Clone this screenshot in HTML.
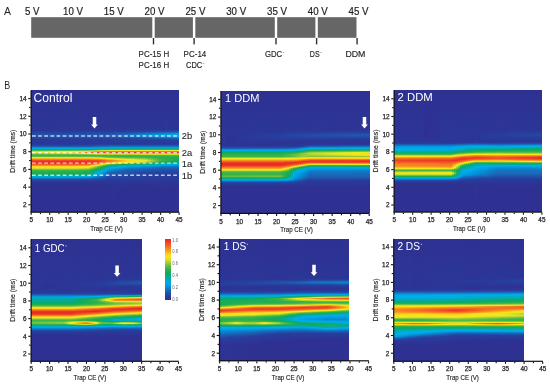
<!DOCTYPE html>
<html><head><meta charset="utf-8"><style>
html,body{margin:0;padding:0;background:#fff;}
body{width:550px;height:387px;position:relative;overflow:hidden;font-family:"Liberation Sans", sans-serif;}
svg{position:absolute;left:0;top:0;font-family:"Liberation Sans", sans-serif;fill:#231f20;}
</style></head><body>
<svg width="550" height="387" viewBox="0 0 550 387"><text x="4.00" y="14.90" font-size="11.2" textLength="7.00" lengthAdjust="spacingAndGlyphs">A</text><text x="25.00" y="14.60" font-size="10.4" textLength="14.40" lengthAdjust="spacingAndGlyphs" stroke="#231f20" stroke-width="0.2">5 V</text><text x="63.00" y="14.60" font-size="10.4" textLength="20.00" lengthAdjust="spacingAndGlyphs" stroke="#231f20" stroke-width="0.2">10 V</text><text x="103.80" y="14.60" font-size="10.4" textLength="20.00" lengthAdjust="spacingAndGlyphs" stroke="#231f20" stroke-width="0.2">15 V</text><text x="144.60" y="14.60" font-size="10.4" textLength="20.00" lengthAdjust="spacingAndGlyphs" stroke="#231f20" stroke-width="0.2">20 V</text><text x="185.40" y="14.60" font-size="10.4" textLength="20.00" lengthAdjust="spacingAndGlyphs" stroke="#231f20" stroke-width="0.2">25 V</text><text x="226.20" y="14.60" font-size="10.4" textLength="20.00" lengthAdjust="spacingAndGlyphs" stroke="#231f20" stroke-width="0.2">30 V</text><text x="267.00" y="14.60" font-size="10.4" textLength="20.00" lengthAdjust="spacingAndGlyphs" stroke="#231f20" stroke-width="0.2">35 V</text><text x="307.80" y="14.60" font-size="10.4" textLength="20.00" lengthAdjust="spacingAndGlyphs" stroke="#231f20" stroke-width="0.2">40 V</text><text x="348.60" y="14.60" font-size="10.4" textLength="20.00" lengthAdjust="spacingAndGlyphs" stroke="#231f20" stroke-width="0.2">45 V</text><rect x="31.2" y="17.2" width="325.3" height="20.6" fill="#666667"/><rect x="152.30" y="17" width="2.4" height="21" fill="#fff"/><rect x="192.90" y="17" width="2.4" height="21" fill="#fff"/><rect x="274.80" y="17" width="2.4" height="21" fill="#fff"/><rect x="315.40" y="17" width="2.4" height="21" fill="#fff"/><rect x="152.80" y="38" width="1.4" height="6.4" fill="#333"/><rect x="193.40" y="38" width="1.4" height="6.4" fill="#333"/><rect x="275.30" y="38" width="1.4" height="6.4" fill="#333"/><rect x="315.90" y="38" width="1.4" height="6.4" fill="#333"/><rect x="356.40" y="38" width="1.4" height="6.4" fill="#333"/><text x="138.60" y="56.70" font-size="8.4" textLength="30.60" lengthAdjust="spacingAndGlyphs" stroke="#231f20" stroke-width="0.15">PC-15 H</text><text x="138.60" y="67.90" font-size="8.4" textLength="30.60" lengthAdjust="spacingAndGlyphs" stroke="#231f20" stroke-width="0.15">PC-16 H</text><text x="183.60" y="56.70" font-size="8.4" textLength="22.70" lengthAdjust="spacingAndGlyphs" stroke="#231f20" stroke-width="0.15">PC-14</text><text x="186.00" y="67.90" font-size="8.4" textLength="16.20" lengthAdjust="spacingAndGlyphs" stroke="#231f20" stroke-width="0.15">CDC</text><rect x="202.80" y="63.00" width="1.4" height="0.6" fill="#777"/><text x="265.00" y="56.90" font-size="8.4" textLength="17.20" lengthAdjust="spacingAndGlyphs" stroke="#231f20" stroke-width="0.15">GDC</text><rect x="282.80" y="52.00" width="1.4" height="0.6" fill="#777"/><text x="309.80" y="56.90" font-size="8.4" textLength="9.80" lengthAdjust="spacingAndGlyphs" stroke="#231f20" stroke-width="0.15">DS</text><rect x="320.20" y="52.00" width="1.4" height="0.6" fill="#777"/><text x="345.40" y="56.90" font-size="8.4" textLength="20.00" lengthAdjust="spacingAndGlyphs" stroke="#231f20" stroke-width="0.15">DDM</text><text x="4.30" y="88.50" font-size="10.2" textLength="6.00" lengthAdjust="spacingAndGlyphs">B</text></svg>
<div style="position:absolute;left:31.2px;top:90.3px;width:147.9px;height:121.8px;background-image:linear-gradient(#2e3192 0.0px,#2b3697 40.5px,#2349a5 43.5px,#2055ab 45.5px,#2b3797 50.0px,#2b3798 54.0px,#2446a3 55.5px,#1d5fb1 56.5px,#0490d7 57.5px,#00a0e4 58.0px,#00ade3 58.5px,#08aa7e 59.5px,#1bad56 60.0px,#42b749 60.5px,#8fc73d 61.0px,#ccdb2a 61.5px,#f3e61c 62.0px,#f5e41c 62.5px,#cfdc29 63.0px,#97c83c 63.5px,#35b44c 65.0px,#35b44c 65.5px,#5ebd44 66.5px,#96c83c 67.0px,#e1e323 67.5px,#fce018 68.0px,#f7931d 69.0px,#ee4626 70.5px,#e92728 72.0px,#eb3427 73.5px,#f15a24 74.5px,#f7911d 75.5px,#fbba1a 76.0px,#fed718 76.5px,#f0e81e 78.0px,#7fc340 79.5px,#36b44b 80.5px,#19ad56 83.0px,#16ab58 84.5px,#0daa65 85.0px,#00accc 86.5px,#00acee 87.0px,#0a85ce 88.0px,#1e5db0 89.0px,#2641a0 90.0px,#2e3192 94.0px,#2e3192 121.5px),linear-gradient(#2e3192 0.0px,#2b3697 40.5px,#2349a5 43.5px,#2055ac 45.5px,#2b3797 50.0px,#2b3798 54.0px,#2446a3 55.5px,#1d5fb1 56.5px,#0490d7 57.5px,#00a0e4 58.0px,#00ade3 58.5px,#08aa7d 59.5px,#1bad56 60.0px,#43b748 60.5px,#91c73d 61.0px,#cfdc29 61.5px,#f4e51c 62.0px,#f6e41b 62.5px,#d2dd28 63.0px,#99c93b 63.5px,#35b44c 65.0px,#35b44c 65.5px,#5ebd44 66.5px,#96c83c 67.0px,#e1e323 67.5px,#fce018 68.0px,#f7931d 69.0px,#ee4626 70.5px,#e92728 72.0px,#eb3427 73.5px,#f15a24 74.5px,#f7911d 75.5px,#fbba1a 76.0px,#fed718 76.5px,#f0e81e 78.0px,#7fc340 79.5px,#36b44b 80.5px,#19ad56 83.0px,#15ab58 84.5px,#0daa65 85.0px,#00accd 86.5px,#00acee 87.0px,#0a85ce 88.0px,#1e5db0 89.0px,#2641a0 90.0px,#2e3192 94.0px,#2e3192 121.5px),linear-gradient(#2e3192 0.0px,#2b3697 40.5px,#234aa5 43.5px,#2055ac 45.5px,#2a3899 49.5px,#2b3798 54.0px,#2446a3 55.5px,#1d5fb1 56.5px,#0490d7 57.5px,#00a0e4 58.0px,#00ade3 58.5px,#08aa7c 59.5px,#1cad55 60.0px,#45b748 60.5px,#93c73c 61.0px,#d1dd28 61.5px,#f5e51c 62.0px,#f7e41b 62.5px,#d4de27 63.0px,#9bca3a 63.5px,#35b44c 65.0px,#35b44c 65.5px,#5ebd44 66.5px,#96c83c 67.0px,#e1e323 67.5px,#fce018 68.0px,#f7931d 69.0px,#ee4626 70.5px,#e92728 72.0px,#eb3427 73.5px,#f15a24 74.5px,#f7911d 75.5px,#fbba1a 76.0px,#fed718 76.5px,#f0e81e 78.0px,#7fc340 79.5px,#36b44b 80.5px,#19ad56 83.0px,#15ab58 84.5px,#0daa66 85.0px,#00accd 86.5px,#00acee 87.0px,#0a85ce 88.0px,#1e5db0 89.0px,#2641a0 90.0px,#2e3192 94.0px,#2e3192 121.5px),linear-gradient(#2e3192 0.0px,#2b3697 40.5px,#234aa5 43.5px,#2055ac 45.5px,#2a3899 49.5px,#2b3798 54.0px,#2446a3 55.5px,#1d5fb1 56.5px,#0490d7 57.5px,#00a0e4 58.0px,#00ade3 58.5px,#08aa7c 59.5px,#1cad55 60.0px,#46b848 60.5px,#95c83c 61.0px,#d3de28 61.5px,#f5e41c 62.0px,#f7e31b 62.5px,#d7df26 63.0px,#9dcb3a 63.5px,#35b44b 65.0px,#35b44c 65.5px,#5ebd44 66.5px,#96c83c 67.0px,#e1e323 67.5px,#fce018 68.0px,#f7931d 69.0px,#ee4626 70.5px,#e92728 72.0px,#eb3427 73.5px,#f15a24 74.5px,#f7911d 75.5px,#fbba1a 76.0px,#fed718 76.5px,#f0e81e 78.0px,#7fc340 79.5px,#36b44b 80.5px,#19ad56 83.0px,#15ab58 84.5px,#0daa66 85.0px,#00accd 86.5px,#00acee 87.0px,#0a85ce 88.0px,#1e5db0 89.0px,#2641a0 90.0px,#2e3192 94.0px,#2e3192 121.5px),linear-gradient(#2e3192 0.0px,#2b3697 40.5px,#234aa6 43.5px,#2056ac 45.5px,#2a3899 49.5px,#2b3798 54.0px,#2446a3 55.5px,#1d5fb1 56.5px,#0490d7 57.5px,#00a0e4 58.0px,#00ade2 58.5px,#08aa7b 59.5px,#1dad55 60.0px,#48b848 60.5px,#97c83c 61.0px,#d6df27 61.5px,#f6e41b 62.0px,#f8e31a 62.5px,#d9e026 63.0px,#9fcb39 63.5px,#35b44b 65.0px,#35b44c 65.5px,#5ebd44 66.5px,#96c83c 67.0px,#e1e323 67.5px,#fce018 68.0px,#f7931d 69.0px,#ee4626 70.5px,#e92728 72.0px,#eb3427 73.5px,#f15a24 74.5px,#f7911d 75.5px,#fbba1a 76.0px,#fed718 76.5px,#f0e81e 78.0px,#7fc340 79.5px,#36b44b 80.5px,#19ad56 83.0px,#15ab58 84.5px,#0daa66 85.0px,#00accd 86.5px,#00acee 87.0px,#0a85ce 88.0px,#1e5db0 89.0px,#2641a0 90.0px,#2e3192 94.0px,#2e3192 121.5px),linear-gradient(#2e3192 0.0px,#2b3697 40.5px,#234aa6 43.5px,#2056ac 45.5px,#2a3899 49.5px,#2b3798 54.0px,#2446a3 55.5px,#1d5fb1 56.5px,#0490d7 57.5px,#00a0e4 58.0px,#00ade2 58.5px,#09aa7a 59.5px,#1dae55 60.0px,#4ab848 60.5px,#99c93b 61.0px,#d8df26 61.5px,#f7e41b 62.0px,#f9e21a 62.5px,#dce125 63.0px,#a1cc38 63.5px,#35b44b 65.0px,#35b44c 65.5px,#5ebd44 66.5px,#96c83c 67.0px,#e1e323 67.5px,#fce018 68.0px,#f7931d 69.0px,#ee4626 70.5px,#e92728 72.0px,#eb3427 73.5px,#f15a24 74.5px,#f7911d 75.5px,#fbba1a 76.0px,#fed718 76.5px,#f0e81e 78.0px,#7fc340 79.5px,#36b44b 80.5px,#19ac56 83.0px,#14ab58 84.5px,#0daa67 85.0px,#00accd 86.5px,#00acee 87.0px,#0a85ce 88.0px,#1e5db0 89.0px,#2641a0 90.0px,#2e3192 94.0px,#2e3192 121.5px),linear-gradient(#2e3192 0.0px,#2b3697 40.5px,#234ba6 43.5px,#2056ac 45.5px,#2a3999 49.5px,#2b3798 54.0px,#2446a3 55.5px,#1d5fb1 56.5px,#0490d7 57.5px,#00a0e4 58.0px,#00ade2 58.5px,#09aa7a 59.5px,#1eae55 60.0px,#4bb947 60.5px,#9bca3a 61.0px,#dae025 61.5px,#f7e31b 62.0px,#f9e21a 62.5px,#dee224 63.0px,#a3cd38 63.5px,#35b44b 65.0px,#35b44c 65.5px,#5ebd44 66.5px,#96c83c 67.0px,#e1e323 67.5px,#fce018 68.0px,#f7931d 69.0px,#ee4626 70.5px,#e92728 72.0px,#eb3427 73.5px,#f15a24 74.5px,#f7911d 75.5px,#fbba1a 76.0px,#fed718 76.5px,#f0e81e 78.0px,#7fc340 79.5px,#36b44b 80.5px,#19ac56 83.0px,#14ab58 84.5px,#0daa67 85.0px,#00accd 86.5px,#00acee 87.0px,#0a85ce 88.0px,#1e5db0 89.0px,#2641a0 90.0px,#2e3192 94.0px,#2e3192 121.5px),linear-gradient(#2e3192 0.0px,#2b3697 40.5px,#234ba6 43.5px,#2056ac 45.5px,#2a3999 49.5px,#2b3798 54.0px,#2446a3 55.5px,#1d5fb1 56.5px,#0490d7 57.5px,#00a0e4 58.0px,#00ade2 58.5px,#09aa79 59.5px,#1eae54 60.0px,#4db947 60.5px,#9dca3a 61.0px,#dce125 61.5px,#f8e31a 62.0px,#fae119 62.5px,#e1e323 63.0px,#a5cd37 63.5px,#36b44b 65.0px,#35b44c 65.5px,#5ebd44 66.5px,#96c83c 67.0px,#e1e323 67.5px,#fce018 68.0px,#f7931d 69.0px,#ee4626 70.5px,#e92728 72.0px,#eb3427 73.5px,#f15a24 74.5px,#f7911d 75.5px,#fbba1a 76.0px,#fed718 76.5px,#f0e81e 78.0px,#7fc340 79.5px,#36b44b 80.5px,#19ac56 83.0px,#14ab58 84.5px,#0daa67 85.0px,#00accd 86.5px,#00acee 87.0px,#0a85ce 88.0px,#1e5db0 89.0px,#2641a0 90.0px,#2e3192 94.0px,#2e3192 121.5px),linear-gradient(#2e3192 0.0px,#2b3697 40.5px,#234ba6 43.5px,#2057ad 45.5px,#2a3999 49.5px,#2b3798 54.0px,#2446a3 55.5px,#1d5fb1 56.5px,#0490d7 57.5px,#00a0e4 58.0px,#00ade2 58.5px,#09aa78 59.5px,#1fae54 60.0px,#4eb947 60.5px,#9fcb39 61.0px,#dfe224 61.5px,#f8e21a 62.0px,#fae119 62.5px,#e3e322 63.0px,#a7ce36 63.5px,#36b44b 65.0px,#35b44c 65.5px,#5ebd44 66.5px,#96c83c 67.0px,#e1e323 67.5px,#fce018 68.0px,#f7931d 69.0px,#ee4626 70.5px,#e92728 72.0px,#eb3427 73.5px,#f15a24 74.5px,#f7911d 75.5px,#fbba1a 76.0px,#fed718 76.5px,#f0e81e 78.0px,#7fc340 79.5px,#36b44b 80.5px,#19ac56 83.0px,#14ab58 84.5px,#0daa68 85.0px,#00accd 86.5px,#00acee 87.0px,#0a85ce 88.0px,#1e5db0 89.0px,#2641a0 90.0px,#2e3192 94.0px,#2e3192 121.5px),linear-gradient(#2e3192 0.0px,#2b3697 40.5px,#2545a3 43.0px,#2057ad 45.5px,#2a3999 49.5px,#2b3798 54.0px,#2446a3 55.5px,#1d5fb1 56.5px,#0490d7 57.5px,#00a0e4 58.0px,#00ade1 58.5px,#09aa78 59.5px,#20ae54 60.0px,#50ba47 60.5px,#a0cc39 61.0px,#e1e323 61.5px,#f9e21a 62.0px,#fbe119 62.5px,#e6e421 63.0px,#a9cf36 63.5px,#36b44b 65.0px,#35b44c 65.5px,#5ebd44 66.5px,#96c83c 67.0px,#e1e323 67.5px,#fce018 68.0px,#f7931d 69.0px,#ee4626 70.5px,#e92728 72.0px,#eb3427 73.5px,#f15a24 74.5px,#f7911d 75.5px,#fbba1a 76.0px,#fed718 76.5px,#f0e81e 78.0px,#7fc340 79.5px,#36b44b 80.5px,#19ac56 83.0px,#14ab59 84.5px,#0daa68 85.0px,#00accd 86.5px,#00acee 87.0px,#0a85ce 88.0px,#1e5db0 89.0px,#2641a0 90.0px,#2e3192 94.0px,#2e3192 121.5px),linear-gradient(#2e3192 0.0px,#2b3697 40.5px,#2545a3 43.0px,#2057ad 45.5px,#2a3999 49.5px,#2b3798 54.0px,#2446a3 55.5px,#1d5fb1 56.5px,#0490d7 57.5px,#00a0e4 58.0px,#00ade1 58.5px,#09aa77 59.5px,#20ae54 60.0px,#52ba46 60.5px,#a2cc38 61.0px,#e3e422 61.5px,#fae21a 62.0px,#fce019 62.5px,#e8e521 63.0px,#abd035 63.5px,#36b44b 65.0px,#35b44c 65.5px,#5ebd44 66.5px,#96c83c 67.0px,#e1e323 67.5px,#fce018 68.0px,#f7931d 69.0px,#ee4626 70.5px,#e92728 72.0px,#eb3427 73.5px,#f15a24 74.5px,#f7911d 75.5px,#fbba1a 76.0px,#fed718 76.5px,#f0e81e 78.0px,#7fc340 79.5px,#36b44b 80.5px,#19ac56 83.0px,#13ab59 84.5px,#0daa68 85.0px,#00accd 86.5px,#00acee 87.0px,#0a85ce 88.0px,#1e5db0 89.0px,#2641a0 90.0px,#2e3192 94.0px,#2e3192 121.5px),linear-gradient(#2e3192 0.0px,#2b3697 40.5px,#2545a3 43.0px,#1f58ad 45.5px,#2a3999 49.5px,#2b3798 54.0px,#2446a3 55.5px,#1d5fb1 56.5px,#0490d7 57.5px,#00a0e4 58.0px,#00ade1 58.5px,#0aaa76 59.5px,#21ae54 60.0px,#53ba46 60.5px,#a4cd37 61.0px,#e6e421 61.5px,#fae119 62.0px,#fce018 62.5px,#eae620 63.0px,#add034 63.5px,#36b44b 65.0px,#35b44c 65.5px,#5ebd44 66.5px,#96c83c 67.0px,#e1e323 67.5px,#fce018 68.0px,#f7931d 69.0px,#ee4626 70.5px,#e92728 72.0px,#eb3427 73.5px,#f15a24 74.5px,#f7911d 75.5px,#fbba1a 76.0px,#fed718 76.5px,#f0e81e 78.0px,#7fc340 79.5px,#36b44b 80.5px,#17ac57 83.5px,#13ab59 84.5px,#0daa69 85.0px,#00accd 86.5px,#00acee 87.0px,#0a85ce 88.0px,#1e5db0 89.0px,#2641a0 90.0px,#2e3192 94.0px,#2e3192 121.5px),linear-gradient(#2e3192 0.0px,#2b3697 40.5px,#2545a3 43.0px,#1f58ad 45.5px,#2a3999 49.5px,#2b3798 54.0px,#2446a3 55.5px,#1d5fb1 56.5px,#0490d7 57.5px,#00a0e4 58.0px,#00ade1 58.5px,#0aaa76 59.5px,#21af53 60.0px,#55bb46 60.5px,#a6ce37 61.0px,#e8e521 61.5px,#fbe119 62.0px,#fddf18 62.5px,#ede71f 63.0px,#afd134 63.5px,#36b44b 65.0px,#35b44c 65.5px,#5ebd44 66.5px,#96c83c 67.0px,#e1e323 67.5px,#fce018 68.0px,#f7931d 69.0px,#ee4626 70.5px,#e92728 72.0px,#eb3427 73.5px,#f15a24 74.5px,#f7911d 75.5px,#fbba1a 76.0px,#fed718 76.5px,#f0e81e 78.0px,#7fc340 79.5px,#36b44b 80.5px,#17ac57 83.5px,#13ab59 84.5px,#0daa69 85.0px,#00accd 86.5px,#00acee 87.0px,#0a85ce 88.0px,#1e5db0 89.0px,#2641a0 90.0px,#2e3192 94.0px,#2e3192 121.5px),linear-gradient(#2e3192 0.0px,#2b3697 40.5px,#2446a3 43.0px,#1f58ad 45.5px,#2a3999 49.5px,#2b3798 54.0px,#2446a3 55.5px,#1d5fb1 56.5px,#0490d7 57.5px,#00a0e4 58.0px,#00ade1 58.5px,#0aaa75 59.5px,#22af53 60.0px,#56bb46 60.5px,#a8ce36 61.0px,#eae620 61.5px,#fbe019 62.0px,#fedf18 62.5px,#efe81e 63.0px,#b1d233 63.5px,#36b44b 65.0px,#35b44c 65.5px,#5ebd44 66.5px,#96c83c 67.0px,#e1e323 67.5px,#fce018 68.0px,#f7931d 69.0px,#ee4626 70.5px,#e92728 72.0px,#eb3427 73.5px,#f15a24 74.5px,#f7911d 75.5px,#fbba1a 76.0px,#fed718 76.5px,#f0e81e 78.0px,#7fc340 79.5px,#36b44b 80.5px,#17ac57 83.5px,#13ab59 84.5px,#0caa69 85.0px,#00accd 86.5px,#00acee 87.0px,#0a85ce 88.0px,#1e5db0 89.0px,#2641a0 90.0px,#2e3192 94.0px,#2e3192 121.5px),linear-gradient(#2e3192 0.0px,#2b3797 40.5px,#2446a3 43.0px,#1f58ad 45.0px,#224ea8 47.0px,#293b9b 49.0px,#2b3798 54.0px,#2446a3 55.5px,#1d5fb1 56.5px,#0490d7 57.5px,#00a0e4 58.0px,#00ade1 58.5px,#0aaa74 59.5px,#22af53 60.0px,#58bb45 60.5px,#aacf35 61.0px,#ede71f 61.5px,#fce018 62.0px,#fede17 62.5px,#f0e81e 63.0px,#b3d232 63.5px,#36b44b 65.0px,#35b44c 65.5px,#5ebd44 66.5px,#96c83c 67.0px,#e1e323 67.5px,#fce018 68.0px,#f7931d 69.0px,#ee4626 70.5px,#e92728 72.0px,#eb3427 73.5px,#f15a24 74.5px,#f7911d 75.5px,#fbba1a 76.0px,#fed718 76.5px,#f0e81e 78.0px,#7fc340 79.5px,#36b44b 80.5px,#17ac57 83.5px,#13ab59 84.5px,#0caa6a 85.0px,#00accd 86.5px,#00acee 87.0px,#0a85ce 88.0px,#1e5db0 89.0px,#2641a0 90.0px,#2e3192 94.0px,#2e3192 121.5px),linear-gradient(#2e3192 0.0px,#2b3797 40.5px,#2446a3 43.0px,#1f59ae 45.0px,#224ea8 47.0px,#293b9b 49.0px,#2b3798 54.0px,#2446a3 55.5px,#1d5fb1 56.5px,#0490d7 57.5px,#00a0e4 58.0px,#00ade0 58.5px,#00aaa7 59.0px,#0aaa74 59.5px,#23af53 60.0px,#5abc45 60.5px,#acd035 61.0px,#efe81e 61.5px,#fde018 62.0px,#ffde17 62.5px,#f1e71e 63.0px,#b5d332 63.5px,#36b44b 65.0px,#35b44c 65.5px,#5ebd44 66.5px,#96c83c 67.0px,#e1e323 67.5px,#fce018 68.0px,#f7931d 69.0px,#ee4626 70.5px,#e92728 72.0px,#eb3427 73.5px,#f15a24 74.5px,#f7911d 75.5px,#fbba1a 76.0px,#fed718 76.5px,#f0e81e 78.0px,#7fc340 79.5px,#36b44b 80.5px,#17ac57 83.5px,#12ab59 84.5px,#0caa6a 85.0px,#00accd 86.5px,#00acee 87.0px,#0a85ce 88.0px,#1e5db0 89.0px,#2641a0 90.0px,#2e3192 94.0px,#2e3192 121.5px),linear-gradient(#2e3192 0.0px,#2b3797 40.5px,#2446a3 43.0px,#1f59ae 45.0px,#224ea8 47.0px,#293b9b 49.0px,#2b3798 54.0px,#2446a3 55.5px,#1d5fb1 56.5px,#0490d7 57.5px,#00a0e4 58.0px,#00ade0 58.5px,#00aaa7 59.0px,#0aaa73 59.5px,#23af52 60.0px,#5bbc45 60.5px,#aed034 61.0px,#f0e81e 61.5px,#fddf18 62.0px,#ffdc17 62.5px,#f1e71d 63.0px,#b7d431 63.5px,#37b44b 65.0px,#35b44c 65.5px,#5ebd44 66.5px,#96c83c 67.0px,#e1e323 67.5px,#fce018 68.0px,#f7931d 69.0px,#ee4626 70.5px,#e92728 72.0px,#eb3427 73.5px,#f15a24 74.5px,#f7911d 75.5px,#fbba1a 76.0px,#fed718 76.5px,#f0e81e 78.0px,#7fc340 79.5px,#36b44b 80.5px,#17ac57 83.5px,#12ab59 84.5px,#0caa6a 85.0px,#00accd 86.5px,#00acee 87.0px,#0a85ce 88.0px,#1e5db0 89.0px,#2641a0 90.0px,#2e3192 94.0px,#2e3192 121.5px),linear-gradient(#2e3192 0.0px,#2b3797 40.5px,#2446a4 43.0px,#1f59ae 45.0px,#224ea8 47.0px,#293b9b 49.0px,#2b3798 54.0px,#2446a3 55.5px,#1d5fb1 56.5px,#0490d7 57.5px,#00a0e4 58.0px,#00ade0 58.5px,#00aaa6 59.0px,#0aaa72 59.5px,#24af52 60.0px,#5dbc45 60.5px,#b0d133 61.0px,#f1e71e 61.5px,#fedf17 62.0px,#ffda17 62.5px,#f2e71d 63.0px,#b9d530 63.5px,#37b44b 65.0px,#35b44c 65.5px,#5ebd44 66.5px,#96c83c 67.0px,#e1e323 67.5px,#fce018 68.0px,#f7931d 69.0px,#ee4626 70.5px,#e92728 72.0px,#eb3427 73.5px,#f15a24 74.5px,#f7911d 75.5px,#fbba1a 76.0px,#fed718 76.5px,#f0e81e 78.0px,#7fc340 79.5px,#36b44b 80.5px,#17ac57 83.5px,#12ab59 84.5px,#0caa6b 85.0px,#00accd 86.5px,#00acee 87.0px,#0a85ce 88.0px,#1e5db0 89.0px,#2641a0 90.0px,#2e3192 94.0px,#2e3192 121.5px),linear-gradient(#2e3192 0.0px,#2b3797 40.5px,#2447a4 43.0px,#1f59ae 45.0px,#224ea8 47.0px,#2a3999 49.5px,#2b3798 54.0px,#2446a3 55.5px,#1d5fb1 56.5px,#0490d7 57.5px,#00a0e4 58.0px,#00ade0 58.5px,#00aaa6 59.0px,#0baa72 59.5px,#25b052 60.0px,#5ebd44 60.5px,#b2d233 61.0px,#f1e71d 61.5px,#ffde17 62.0px,#fed718 62.5px,#f3e61d 63.0px,#bcd52f 63.5px,#37b44b 65.0px,#35b44c 65.5px,#5ebd44 66.5px,#96c83c 67.0px,#e1e323 67.5px,#fce018 68.0px,#f7931d 69.0px,#ee4626 70.5px,#e92728 72.0px,#eb3427 73.5px,#f15a24 74.5px,#f7911d 75.5px,#fbba1a 76.0px,#fed718 76.5px,#f0e81e 78.0px,#7fc340 79.5px,#36b44b 80.5px,#16ac57 83.5px,#12aa59 84.5px,#0caa6b 85.0px,#00accd 86.5px,#00acee 87.0px,#0a85ce 88.0px,#1e5db0 89.0px,#2641a0 90.0px,#2e3192 94.0px,#2e3192 121.5px),linear-gradient(#2e3192 0.0px,#2b3797 40.5px,#2447a4 43.0px,#1f5aae 45.0px,#224fa8 47.0px,#2a3999 49.5px,#2b3798 54.0px,#2446a3 55.5px,#1d5fb1 56.5px,#0490d7 57.5px,#00a0e4 58.0px,#00ade0 58.5px,#00aaa5 59.0px,#0baa71 59.5px,#25b052 60.0px,#60bd44 60.5px,#b3d232 61.0px,#f2e71d 61.5px,#ffdd17 62.0px,#fed518 62.5px,#f3e61d 63.0px,#91c73d 64.0px,#37b44b 65.0px,#35b44c 65.5px,#5ebd44 66.5px,#96c83c 67.0px,#e1e323 67.5px,#fce018 68.0px,#f7931d 69.0px,#ee4626 70.5px,#e92728 72.0px,#eb3427 73.5px,#f15a24 74.5px,#f7911d 75.5px,#fbba1a 76.0px,#fed718 76.5px,#f0e81e 78.0px,#7fc340 79.5px,#36b44b 80.5px,#16ac58 83.5px,#12aa59 84.5px,#0caa6b 85.0px,#00accd 86.5px,#00acee 87.0px,#0a85ce 88.0px,#1e5db0 89.0px,#2641a0 90.0px,#2e3192 94.0px,#2e3192 121.5px),linear-gradient(#2e3192 0.0px,#2b3797 40.5px,#2447a4 43.0px,#1f5aae 45.0px,#224fa8 47.0px,#2a3999 49.5px,#2b3798 54.0px,#2446a3 55.5px,#1d5fb1 56.5px,#0490d7 57.5px,#00a0e4 58.0px,#00ade0 58.5px,#00aaa5 59.0px,#0baa70 59.5px,#26b052 60.0px,#62bd44 60.5px,#b5d332 61.0px,#f2e61d 61.5px,#ffdb17 62.0px,#fed318 62.5px,#f4e61c 63.0px,#92c73d 64.0px,#37b44b 65.0px,#35b44c 65.5px,#5ebd44 66.5px,#96c83c 67.0px,#e1e323 67.5px,#fce018 68.0px,#f7931d 69.0px,#ee4626 70.5px,#e92728 72.0px,#eb3427 73.5px,#f15a24 74.5px,#f7911d 75.5px,#fbba1a 76.0px,#fed718 76.5px,#f0e81e 78.0px,#7fc340 79.5px,#36b44b 80.5px,#16ac58 83.5px,#11aa59 84.5px,#0caa6c 85.0px,#00accd 86.5px,#00acee 87.0px,#0a85ce 88.0px,#1e5db0 89.0px,#2641a0 90.0px,#2e3192 94.0px,#2e3192 121.5px),linear-gradient(#2e3192 0.0px,#2b3797 40.5px,#2447a4 43.0px,#1f5aaf 45.0px,#224fa8 47.0px,#2a3999 49.5px,#2b3798 54.0px,#2446a3 55.5px,#1d5fb1 56.5px,#0490d7 57.5px,#00a0e4 58.0px,#00addf 58.5px,#00aaa4 59.0px,#0baa6f 59.5px,#26b051 60.0px,#63be44 60.5px,#b7d431 61.0px,#f3e61d 61.5px,#fed917 62.0px,#fed018 62.5px,#f4e51c 63.0px,#94c83c 64.0px,#37b44b 65.0px,#35b44c 65.5px,#5ebd44 66.5px,#96c83c 67.0px,#e1e323 67.5px,#fce018 68.0px,#f7931d 69.0px,#ee4626 70.5px,#e92728 72.0px,#eb3427 73.5px,#f15a24 74.5px,#f7911d 75.5px,#fbba1a 76.0px,#fed718 76.5px,#f0e81e 78.0px,#7fc340 79.5px,#36b44b 80.5px,#16ac58 83.5px,#11aa5a 84.5px,#0caa6c 85.0px,#00accd 86.5px,#00acee 87.0px,#0a85ce 88.0px,#1e5db0 89.0px,#2641a0 90.0px,#2e3192 94.0px,#2e3192 121.5px),linear-gradient(#2e3192 0.0px,#2b3797 40.5px,#2447a4 43.0px,#1f5aaf 45.0px,#224fa9 47.0px,#2a399a 49.5px,#2b3798 54.0px,#2446a3 55.5px,#1d5fb1 56.5px,#0490d7 57.5px,#00a0e4 58.0px,#00addf 58.5px,#00aaa4 59.0px,#0baa6f 59.5px,#27b051 60.0px,#66be43 60.5px,#bad530 61.0px,#f4e51c 61.5px,#fed318 62.0px,#fdca19 62.5px,#f6e41b 63.0px,#97c83c 64.0px,#37b54b 65.0px,#35b44c 65.5px,#5ebd44 66.5px,#96c83c 67.0px,#e1e323 67.5px,#fce018 68.0px,#f7931d 69.0px,#ee4626 70.5px,#e92728 72.0px,#eb3427 73.5px,#f15a24 74.5px,#f7921d 75.5px,#fbbb1a 76.0px,#fed718 76.5px,#efe81e 78.0px,#7ec340 79.5px,#35b44c 80.5px,#16ac58 83.5px,#11aa5a 84.5px,#0caa6d 85.0px,#00acce 86.5px,#00aced 87.0px,#0a84ce 88.0px,#1e5db0 89.0px,#2640a0 90.0px,#2e3192 94.0px,#2e3192 121.5px),linear-gradient(#2e3192 0.0px,#2b3797 40.5px,#2448a4 43.0px,#1f5baf 45.0px,#2250a9 47.0px,#2a399a 49.5px,#2b3798 54.0px,#2446a3 55.5px,#1d5fb1 56.5px,#0490d7 57.5px,#00a0e4 58.0px,#00addf 58.5px,#00aaa3 59.0px,#0caa6d 59.5px,#28b051 60.0px,#6abf43 60.5px,#c1d72e 61.0px,#f6e41b 61.5px,#fcc519 62.0px,#fbba1a 62.5px,#f9e21a 63.0px,#d1dd28 63.5px,#6bbf43 64.5px,#38b54a 65.0px,#35b44c 65.5px,#5ebd44 66.5px,#96c83c 67.0px,#e1e323 67.5px,#fce018 68.0px,#f7931d 69.0px,#ee4626 70.5px,#e92728 72.0px,#eb3527 73.5px,#f15c24 74.5px,#f7941d 75.5px,#fcbe1a 76.0px,#ffda17 76.5px,#ebe620 78.0px,#7ac240 79.5px,#34b44c 80.5px,#14ab58 83.5px,#10aa5c 84.5px,#0baa70 85.0px,#00add1 86.5px,#00abed 87.0px,#009be0 87.5px,#176cbb 88.5px,#2640a0 90.0px,#2e3192 94.0px,#2e3192 121.5px),linear-gradient(#2e3192 0.0px,#2c3596 40.0px,#2448a4 43.0px,#1f5baf 45.0px,#2250a9 47.0px,#2a399a 49.5px,#2b3798 54.0px,#2446a3 55.5px,#1d5fb1 56.5px,#0490d7 57.5px,#00a0e4 58.0px,#00adde 58.5px,#00aaa2 59.0px,#0caa6c 59.5px,#29b150 60.0px,#6fc042 60.5px,#c7d92c 61.0px,#f9e21a 61.5px,#fbb71a 62.0px,#f9aa1b 62.5px,#fce018 63.0px,#dbe125 63.5px,#6fc042 64.5px,#38b54a 65.0px,#35b44c 65.5px,#5ebd44 66.5px,#96c83c 67.0px,#e1e323 67.5px,#fce018 68.0px,#f7931d 69.0px,#ee4626 70.5px,#e92728 72.0px,#eb3527 73.5px,#f25e24 74.5px,#f7961d 75.5px,#fcc119 76.0px,#ffdd17 76.5px,#f5e51c 77.5px,#e8e521 78.0px,#76c241 79.5px,#32b34d 80.5px,#13ab59 83.5px,#0faa5e 84.5px,#0aaa73 85.0px,#00add4 86.5px,#00aaec 87.0px,#009adf 87.5px,#186bba 88.5px,#2640a0 90.0px,#2e3192 94.0px,#2e3192 121.5px),linear-gradient(#2e3192 0.0px,#2c3596 40.0px,#2448a4 43.0px,#1e5baf 45.0px,#2250a9 47.0px,#2a399a 49.5px,#2b3798 54.0px,#2446a3 55.5px,#1d5fb1 56.5px,#0490d7 57.5px,#00a0e4 58.0px,#00adde 58.5px,#00aaa1 59.0px,#0caa6b 59.5px,#2bb150 60.0px,#74c141 60.5px,#cddc2a 61.0px,#fbe119 61.5px,#f9a91b 62.0px,#f89b1c 62.5px,#ffdc17 63.0px,#e5e422 63.5px,#73c141 64.5px,#39b54a 65.0px,#35b44c 65.5px,#5ebd44 66.5px,#96c83c 67.0px,#e1e323 67.5px,#fce018 68.0px,#f7931d 69.0px,#ee4626 70.5px,#e92728 72.0px,#eb3627 73.5px,#f25f24 74.5px,#f8991d 75.5px,#fcc419 76.0px,#fede17 76.5px,#f4e51c 77.5px,#e5e422 78.0px,#73c141 79.5px,#4cb947 80.0px,#30b34d 80.5px,#11aa5a 83.5px,#0eaa61 84.5px,#0aaa75 85.0px,#00add7 86.5px,#00a9eb 87.0px,#0099df 87.5px,#186bb9 88.5px,#2640a0 90.0px,#2e3192 94.0px,#2e3192 121.5px),linear-gradient(#2e3192 0.0px,#2c3596 40.0px,#2448a5 43.0px,#1e5caf 45.0px,#2150a9 47.0px,#2a399a 49.5px,#2b3798 54.0px,#2446a3 55.5px,#1d5fb1 56.5px,#0490d7 57.5px,#00a0e4 58.0px,#00adde 58.5px,#00aaa0 59.0px,#0caa6a 59.5px,#2cb24f 60.0px,#78c240 60.5px,#d3de28 61.0px,#fddf18 61.5px,#f89b1c 62.0px,#f68e1e 62.5px,#fed018 63.0px,#f0e81e 63.5px,#78c241 64.5px,#3ab54a 65.0px,#35b44c 65.5px,#5ebd44 66.5px,#96c83c 67.0px,#e1e323 67.5px,#fce018 68.0px,#f7931d 69.0px,#ee4626 70.5px,#e92728 72.0px,#eb3727 73.5px,#f26124 74.5px,#f89c1c 75.5px,#fcc719 76.0px,#fedf18 76.5px,#f4e61c 77.5px,#e1e323 78.0px,#6fc042 79.5px,#49b848 80.0px,#2fb24e 80.5px,#10aa5b 83.5px,#0eaa64 84.5px,#09aa78 85.0px,#00addb 86.5px,#00a8ea 87.0px,#0099de 87.5px,#196ab8 88.5px,#2640a0 90.0px,#2e3192 94.0px,#2e3192 121.5px),linear-gradient(#2e3192 0.0px,#2c3596 40.0px,#2448a5 43.0px,#1e5caf 45.0px,#2151a9 47.0px,#2a399a 49.5px,#2b3798 54.0px,#2446a3 55.5px,#1d5fb1 56.5px,#0490d7 57.5px,#00a0e4 58.0px,#00adde 58.5px,#00aaa0 59.0px,#0daa69 59.5px,#2db24f 60.0px,#7dc340 60.5px,#dae025 61.0px,#ffdb17 61.5px,#f78f1e 62.0px,#f5831f 62.5px,#fcc419 63.0px,#f2e61d 63.5px,#7cc340 64.5px,#3cb64a 65.0px,#35b44c 65.5px,#5ebd44 66.5px,#96c83c 67.0px,#e1e323 67.5px,#fce018 68.0px,#f7931d 69.0px,#ee4626 70.5px,#e92728 72.0px,#eb3827 73.5px,#f26224 74.5px,#f89f1c 75.5px,#fdca19 76.0px,#fddf18 76.5px,#f3e61d 77.5px,#dee124 78.0px,#6cbf42 79.5px,#45b748 80.0px,#2db24f 80.5px,#10aa5a 83.0px,#0daa67 84.5px,#09aa7b 85.0px,#00adde 86.5px,#00a7e9 87.0px,#0098dd 87.5px,#1969b8 88.5px,#2640a0 90.0px,#2e3192 94.0px,#2e3192 121.5px),linear-gradient(#2e3192 0.0px,#2c3596 40.0px,#2449a5 43.0px,#1e5cb0 45.0px,#2151a9 47.0px,#2a399a 49.5px,#2b3798 54.0px,#2446a3 55.5px,#1d5fb1 56.5px,#0490d7 57.5px,#00a0e4 58.0px,#00addd 58.5px,#00aa9f 59.0px,#0daa68 59.5px,#2fb24e 60.0px,#82c43f 60.5px,#e0e223 61.0px,#fed218 61.5px,#f6851f 62.0px,#f47821 62.5px,#fbb81a 63.0px,#f5e51c 63.5px,#c3d82d 64.0px,#3db649 65.0px,#35b44c 65.5px,#5ebd44 66.5px,#96c83c 67.0px,#e1e323 67.5px,#fce018 68.0px,#f7931d 69.0px,#ee4626 70.5px,#e92728 72.0px,#eb3927 73.5px,#f26423 74.5px,#f8a21c 75.5px,#fdcc18 76.0px,#fce018 76.5px,#f2e71d 77.5px,#dae025 78.0px,#68bf43 79.5px,#41b749 80.0px,#2cb14f 80.5px,#10aa5c 83.0px,#0daa69 84.5px,#08aa7d 85.0px,#00ade1 86.5px,#00a5e8 87.0px,#0097dd 87.5px,#1a68b7 88.5px,#2640a0 90.0px,#2e3192 94.0px,#2e3192 121.5px),linear-gradient(#2e3192 0.0px,#2c3596 40.0px,#2449a5 43.0px,#1e5cb0 45.0px,#2151a9 47.0px,#2a399a 49.5px,#2b3898 54.0px,#2448a4 55.5px,#1d61b2 56.5px,#0292d9 57.5px,#00a2e5 58.0px,#00add9 58.5px,#01aa9a 59.0px,#0eaa61 59.5px,#33b34c 60.0px,#8ec63d 60.5px,#eee71f 61.0px,#fcc519 61.5px,#f57a20 62.0px,#f36d22 62.5px,#f7e31b 63.5px,#ccdb2a 64.0px,#41b749 65.0px,#36b44b 65.5px,#5cbc45 66.5px,#93c73d 67.0px,#dee124 67.5px,#fce019 68.0px,#fcc019 68.5px,#f7951d 69.0px,#ee4726 70.5px,#e92b28 72.0px,#ed4226 73.5px,#f47122 74.5px,#f68e1e 75.0px,#fddf18 76.0px,#f0e81e 77.0px,#bcd62f 78.0px,#4db947 79.5px,#31b34d 80.0px,#16ac57 81.0px,#07aa82 84.5px,#03aa95 85.0px,#00adee 86.5px,#048fd6 87.5px,#1c63b4 88.5px,#2640a0 90.0px,#2e3192 94.0px,#2e3192 121.5px),linear-gradient(#2e3192 0.0px,#2c3596 40.0px,#2449a5 43.0px,#1e5db0 45.0px,#2151aa 47.0px,#2a399a 49.5px,#2a3898 54.0px,#2349a5 55.5px,#1c63b3 56.5px,#0194db 57.5px,#00a3e6 58.0px,#00add5 58.5px,#03aa94 59.0px,#10aa5a 59.5px,#38b54a 60.0px,#9cca3a 60.5px,#f3e61d 61.0px,#fbb71a 61.5px,#f36f22 62.0px,#f26224 62.5px,#fae119 63.5px,#d6df27 64.0px,#8fc73d 64.5px,#47b848 65.0px,#37b44b 65.5px,#59bb45 66.5px,#8ec63d 67.0px,#dae025 67.5px,#fbe119 68.0px,#fcc319 68.5px,#f8991d 69.0px,#ee4826 70.5px,#eb3527 71.5px,#ea3027 72.0px,#ef4d25 73.5px,#f58020 74.5px,#f9a31c 75.0px,#fed218 75.5px,#f5e41c 76.0px,#b6d431 77.5px,#33b34c 79.5px,#13ab59 80.5px,#04aa8e 83.0px,#00aaa0 84.5px,#00accf 85.5px,#00aeeb 86.0px,#0098de 87.0px,#1d5fb1 88.5px,#263f9f 90.0px,#2e3192 94.0px,#2e3192 121.5px),linear-gradient(#2e3192 0.0px,#2c3596 40.0px,#2349a5 43.0px,#1e5db0 45.0px,#2151aa 47.0px,#2a399a 49.5px,#2a3899 54.0px,#234ba6 55.5px,#1c65b5 56.5px,#0096dc 57.5px,#00a4e7 58.0px,#00acd0 58.5px,#04aa8f 59.0px,#14ab58 59.5px,#43b749 60.0px,#a9cf36 60.5px,#f6e41b 61.0px,#f26423 62.0px,#f15725 62.5px,#f7921d 63.0px,#fde018 63.5px,#e0e223 64.0px,#97c83c 64.5px,#4cb947 65.0px,#38b54a 65.5px,#56bb46 66.5px,#8ac63e 67.0px,#d6df27 67.5px,#fae119 68.0px,#fcc719 68.5px,#f89c1c 69.0px,#ee4926 70.5px,#eb3927 71.5px,#eb3527 72.0px,#f15825 73.5px,#f78f1e 74.5px,#fbe119 75.5px,#e5e422 76.0px,#bfd72e 76.5px,#92c73d 77.5px,#34b44c 79.0px,#15ab58 80.0px,#05aa89 81.5px,#00abba 84.0px,#00acc1 84.5px,#00aeeb 85.5px,#058ed5 87.0px,#1e5baf 88.5px,#283c9c 90.5px,#2e3192 95.0px,#2e3192 121.5px),linear-gradient(#2e3192 0.0px,#2c3596 40.0px,#2349a5 43.0px,#1e5db0 45.0px,#2152aa 47.0px,#2a399a 49.5px,#2a3999 54.0px,#234ca7 55.5px,#1a67b7 56.5px,#0098de 57.5px,#00a6e9 58.0px,#00accc 58.5px,#05aa89 59.0px,#18ac57 59.5px,#4fb947 60.0px,#b6d431 60.5px,#fae119 61.0px,#f15a24 62.0px,#ef4d25 62.5px,#f6891e 63.0px,#ffdd17 63.5px,#eae620 64.0px,#9ecb39 64.5px,#51ba46 65.0px,#39b54a 65.5px,#52ba46 66.5px,#86c53e 67.0px,#d1dd28 67.5px,#f9e21a 68.0px,#fdca19 68.5px,#f89f1c 69.0px,#ee4a25 70.5px,#ec3c26 71.5px,#ec3a27 72.0px,#f05325 73.0px,#f26324 73.5px,#f57e20 74.0px,#f9a31c 74.5px,#fed318 75.0px,#f4e51c 75.5px,#c1d72e 76.0px,#9aca3b 76.5px,#34b44c 78.5px,#16ac58 79.5px,#03aa93 81.0px,#00acca 83.0px,#00adee 85.0px,#0391d8 86.5px,#1d61b2 88.0px,#273e9e 90.0px,#2e3192 94.5px,#2e3192 121.5px),linear-gradient(#2e3192 0.0px,#2c3596 40.0px,#234aa5 43.0px,#1e5db0 45.0px,#2152aa 47.0px,#2a399a 49.5px,#2a3999 54.0px,#224ea8 55.5px,#196ab9 56.5px,#0099df 57.5px,#00a7ea 58.0px,#00acc7 58.5px,#07aa83 59.0px,#1dad55 59.5px,#5abc45 60.0px,#c4d82d 60.5px,#fddf18 61.0px,#f68e1e 61.5px,#ef4f25 62.0px,#ed4326 62.5px,#f58120 63.0px,#fed318 63.5px,#f1e71e 64.0px,#a6ce37 64.5px,#56bb46 65.0px,#3cb64a 65.5px,#4fba47 66.5px,#82c43f 67.0px,#cddc2a 67.5px,#f8e31a 68.0px,#fdcd18 68.5px,#f5821f 69.5px,#ef4c25 70.5px,#ed4026 71.5px,#ec3e26 72.0px,#f15c24 73.0px,#f68c1e 74.0px,#fce019 75.0px,#e1e323 75.5px,#9ecb39 76.0px,#75c141 76.5px,#32b34d 78.0px,#16ac58 79.0px,#07aa80 80.0px,#00abbc 81.5px,#00aee8 83.0px,#00a9eb 84.0px,#048ed6 86.0px,#1e5caf 88.0px,#273e9e 90.0px,#2e3192 94.5px,#2e3192 121.5px),linear-gradient(#2e3192 0.0px,#2c3596 40.0px,#234aa5 43.0px,#1e5eb1 45.0px,#2152aa 47.0px,#29399a 49.5px,#2a399a 54.0px,#224fa9 55.5px,#176cbb 56.5px,#009be0 57.5px,#00a9eb 58.0px,#00acc2 58.5px,#08aa7e 59.0px,#20ae54 59.5px,#64be43 60.0px,#cfdc29 60.5px,#ffda17 61.0px,#f6861f 61.5px,#ee4826 62.0px,#ec3c26 62.5px,#f47a21 63.0px,#fdca19 63.5px,#f3e61d 64.0px,#acd035 64.5px,#5abc45 65.0px,#3db649 65.5px,#4cb947 66.5px,#7cc340 67.0px,#c6d92c 67.5px,#f6e41b 68.0px,#fed418 68.5px,#f6851f 69.5px,#ef4f25 70.5px,#ed4526 71.0px,#ee4626 72.0px,#f36823 73.0px,#f57f20 73.5px,#f8a11c 74.0px,#fed418 74.5px,#f4e61c 75.0px,#bcd62f 75.5px,#77c241 76.0px,#4db947 76.5px,#37b54b 77.0px,#13ab59 78.5px,#00abb2 80.5px,#00aee8 82.0px,#00a1e5 83.5px,#0889d1 85.5px,#2056ac 88.0px,#283d9d 90.0px,#2e3192 94.5px,#2e3192 121.5px),linear-gradient(#2e3192 0.0px,#2c3596 40.0px,#2542a1 42.5px,#1e5eb1 45.0px,#2152aa 47.0px,#29399a 49.5px,#2a399a 54.0px,#2250a9 55.5px,#166ebc 56.5px,#009ce1 57.5px,#00aaec 58.0px,#00acbe 58.5px,#09aa7b 59.0px,#23af53 59.5px,#69bf43 60.0px,#d4de27 60.5px,#fed618 61.0px,#f5841f 61.5px,#ee4726 62.0px,#ec3b26 62.5px,#f47821 63.0px,#fcc619 63.5px,#f3e61c 64.0px,#aed034 64.5px,#5bbc45 65.0px,#3cb649 65.5px,#48b848 66.5px,#72c141 67.0px,#f1e81e 68.0px,#fddf18 68.5px,#f68e1e 69.5px,#f15825 70.5px,#ef4f25 71.0px,#f05325 72.0px,#f26324 72.5px,#f89a1d 73.5px,#fdc919 74.0px,#f6e41b 74.5px,#ccdb2a 75.0px,#48b848 76.0px,#2db24f 76.5px,#0eaa63 78.0px,#00abbc 80.0px,#00aee6 81.0px,#00aced 81.5px,#058ed5 84.5px,#2151a9 88.0px,#293a9a 90.5px,#2e3192 96.0px,#2e3192 121.5px),linear-gradient(#2e3192 0.0px,#2c3596 40.0px,#2542a1 42.5px,#1e5eb1 45.0px,#2153aa 47.0px,#293a9a 49.5px,#2a399a 54.0px,#2151a9 55.5px,#1570be 56.5px,#009ee2 57.5px,#00acee 58.0px,#00abba 58.5px,#09aa77 59.0px,#25b052 59.5px,#6ec042 60.0px,#d9e026 60.5px,#fed218 61.0px,#f5821f 61.5px,#ee4626 62.0px,#ec3b26 62.5px,#f47621 63.0px,#fcc219 63.5px,#f4e51c 64.0px,#b0d133 64.5px,#5bbc45 65.0px,#3bb54a 65.5px,#43b748 66.5px,#68bf43 67.0px,#dbe125 68.0px,#f9e21a 68.5px,#fcc319 69.0px,#f7981d 69.5px,#f26124 70.5px,#f15924 71.0px,#f26124 72.0px,#f47521 72.5px,#f7931d 73.0px,#fae119 74.0px,#dae025 74.5px,#97c83c 75.0px,#58bb45 75.5px,#2bb14f 76.0px,#0faa5f 77.0px,#00abb3 79.0px,#00aced 80.5px,#0d7fca 84.5px,#234ba6 88.0px,#2b3798 91.0px,#2e3192 100.0px,#2e3192 121.5px),linear-gradient(#2e3192 0.0px,#2c3596 40.0px,#2543a2 42.5px,#1d5fb1 45.0px,#2153ab 47.0px,#283c9c 49.0px,#29399a 54.0px,#2152aa 55.5px,#1472bf 56.5px,#009fe3 57.5px,#00aeef 58.0px,#00abb6 58.5px,#0aaa73 59.0px,#27b051 59.5px,#73c141 60.0px,#dde124 60.5px,#fdce18 61.0px,#f58020 61.5px,#ee4626 62.0px,#ec3b26 62.5px,#f47521 63.0px,#fcbe1a 63.5px,#f5e51c 64.0px,#b2d233 64.5px,#5cbc45 65.0px,#3ab54a 65.5px,#3fb649 66.5px,#5ebd44 67.0px,#c4d82d 68.0px,#f4e51c 68.5px,#fed018 69.0px,#f9a51c 69.5px,#f36a23 70.5px,#f26324 71.0px,#f47022 72.0px,#f6861f 72.5px,#fedf17 73.5px,#ede71f 74.0px,#a6ce37 74.5px,#61bd44 75.0px,#31b34d 75.5px,#17ac57 76.0px,#02aa99 77.5px,#00aeee 79.5px,#0789d2 82.0px,#2640a0 88.5px,#2e3192 95.0px,#2e3192 121.5px),linear-gradient(#2e3192 0.0px,#2c3696 40.0px,#2544a2 42.5px,#1d61b2 45.0px,#2055ac 47.0px,#283c9d 49.0px,#2b3797 53.5px,#2446a4 55.0px,#1d5fb1 56.0px,#048ed6 57.0px,#00aeeb 58.0px,#00abb1 58.5px,#0baa6f 59.0px,#29b150 59.5px,#78c240 60.0px,#e2e323 60.5px,#fdca19 61.0px,#f57e20 61.5px,#ed4526 62.0px,#ec3a27 62.5px,#f47321 63.0px,#fbba1a 63.5px,#f6e41b 64.0px,#b4d332 64.5px,#5cbc45 65.0px,#39b54a 65.5px,#3bb54a 66.5px,#54ba46 67.0px,#acd035 68.0px,#f0e81e 68.5px,#ffde17 69.0px,#f68e1e 70.0px,#f47421 70.5px,#f36e22 71.0px,#f57e20 72.0px,#f89a1d 72.5px,#fdd018 73.0px,#f4e51c 73.5px,#bdd62f 74.0px,#72c141 74.5px,#32b34d 75.0px,#1aad56 75.5px,#04aa90 76.5px,#00aeed 78.5px,#058ed5 80.5px,#1969b8 83.0px,#224fa8 86.5px,#283c9d 89.0px,#2e3192 95.5px,#2e3192 121.5px),linear-gradient(#2e3192 0.0px,#2c3696 40.0px,#2545a3 42.5px,#1c63b3 45.0px,#2056ac 47.0px,#283d9d 49.0px,#2b3797 53.5px,#2447a4 55.0px,#1d5fb1 56.0px,#048fd6 57.0px,#00aeea 58.0px,#00abaf 58.5px,#0caa6d 59.0px,#2bb150 59.5px,#7cc340 60.0px,#e5e422 60.5px,#fdc919 61.0px,#f57e20 61.5px,#ed4526 62.0px,#ec3a27 62.5px,#f47222 63.0px,#fbb91a 63.5px,#f6e41b 64.0px,#b4d332 64.5px,#5dbc45 65.0px,#39b54a 65.5px,#38b54a 66.5px,#4eb947 67.0px,#a0cc39 68.0px,#e4e422 68.5px,#fde018 69.0px,#f7971d 70.0px,#f57d20 70.5px,#f47821 71.0px,#f6891e 72.0px,#f9ab1b 72.5px,#fedf18 73.0px,#eae620 73.5px,#a2cc38 74.0px,#55bb46 74.5px,#25b052 75.0px,#0faa5d 75.5px,#00aaa4 76.5px,#00aeee 78.0px,#058ed5 80.0px,#1c65b5 82.5px,#2151a9 86.0px,#283c9c 89.0px,#2e3192 96.0px,#2e3192 121.5px),linear-gradient(#2e3192 0.0px,#2b3696 40.0px,#2446a3 42.5px,#1c64b4 45.0px,#1f58ad 47.0px,#283d9d 49.0px,#2b3797 53.5px,#2447a4 55.0px,#1d5fb1 56.0px,#048fd6 57.0px,#00aeea 58.0px,#00abaf 58.5px,#0caa6b 59.0px,#2cb24f 59.5px,#7fc33f 60.0px,#e7e521 60.5px,#fdc819 61.0px,#f57e20 61.5px,#ed4526 62.0px,#ec3a27 62.5px,#f47222 63.0px,#fbb91a 63.5px,#f6e41b 64.0px,#b4d332 64.5px,#5dbc45 65.0px,#39b54a 65.5px,#37b54b 66.5px,#4bb947 67.0px,#9bca3a 68.0px,#dde124 68.5px,#fbe119 69.0px,#f6851f 70.5px,#f58020 71.0px,#f7911d 72.0px,#fae119 73.0px,#d9e026 73.5px,#91c73d 74.0px,#44b748 74.5px,#1eae54 75.0px,#0daa69 75.5px,#00abaf 76.5px,#00ade3 77.5px,#00aaec 78.0px,#0888d1 80.0px,#1c62b3 82.5px,#224fa8 86.0px,#283c9c 89.0px,#2e3192 96.0px,#2e3192 121.5px),linear-gradient(#2e3192 0.0px,#2b3697 40.0px,#2447a4 42.5px,#1b67b6 45.0px,#1f59ae 47.0px,#283d9d 49.0px,#2b3797 53.5px,#2447a4 55.0px,#1d5fb1 56.0px,#048fd6 57.0px,#00aeea 58.0px,#00abae 58.5px,#0caa6a 59.0px,#2eb24e 59.5px,#82c43f 60.0px,#e9e520 60.5px,#fdc819 61.0px,#f57e20 61.5px,#ed4526 62.0px,#ec3a27 62.5px,#f47222 63.0px,#fbb91a 63.5px,#f6e41b 64.0px,#b4d332 64.5px,#5dbc45 65.0px,#38b54a 65.5px,#36b44b 66.5px,#48b848 67.0px,#96c83c 68.0px,#d6df27 68.5px,#f9e21a 69.0px,#fdcd18 69.5px,#f68d1e 70.5px,#f6891f 71.0px,#f89c1c 72.0px,#f7e41b 73.0px,#c8da2b 73.5px,#37b44b 74.5px,#17ac57 75.0px,#01aa9b 76.0px,#00aeed 77.5px,#058ed5 79.5px,#1c64b4 82.0px,#2349a5 86.5px,#2b3697 91.0px,#2e3192 121.5px),linear-gradient(#2e3192 0.0px,#2b3697 40.0px,#2448a4 42.5px,#1969b8 45.0px,#1f5aaf 47.0px,#273d9e 49.0px,#2b3797 53.5px,#2447a4 55.0px,#1d5fb1 56.0px,#048fd6 57.0px,#00aeea 58.0px,#00abad 58.5px,#0daa68 59.0px,#2fb24e 59.5px,#85c53f 60.0px,#eae620 60.5px,#fdc819 61.0px,#f57e20 61.5px,#ed4526 62.0px,#ec3a27 62.5px,#f47222 63.0px,#fbb91a 63.5px,#f6e41b 64.0px,#b4d332 64.5px,#5dbc45 65.0px,#38b54a 65.5px,#35b44b 66.5px,#45b748 67.0px,#91c73d 68.0px,#cfdc29 68.5px,#f7e41b 69.0px,#fed518 69.5px,#f7951d 70.5px,#f7911d 71.0px,#f9a81b 72.0px,#fdd018 72.5px,#f3e61d 73.0px,#b8d431 73.5px,#6ec042 74.0px,#2fb24e 74.5px,#10aa5a 75.0px,#00aaa6 76.0px,#00addf 77.0px,#00aaec 77.5px,#0888d1 79.5px,#1d62b3 82.0px,#2544a2 87.0px,#2e3192 94.5px,#2e3192 121.5px),linear-gradient(#2e3192 0.0px,#2b3697 40.0px,#2640a0 42.0px,#186bba 45.0px,#1e5caf 47.0px,#273e9e 49.0px,#2b3797 53.5px,#2447a4 55.0px,#1d5fb1 56.0px,#048fd6 57.0px,#00aeea 58.0px,#00abad 58.5px,#0daa67 59.0px,#31b34d 59.5px,#88c53e 60.0px,#ece71f 60.5px,#fdc719 61.0px,#f57e20 61.5px,#ed4526 62.0px,#ec3a27 62.5px,#f47222 63.0px,#fbb91a 63.5px,#f6e41b 64.0px,#b4d332 64.5px,#5dbc45 65.0px,#38b54a 65.5px,#35b44c 66.5px,#42b749 67.0px,#8bc63e 68.0px,#c8da2b 68.5px,#f5e51c 69.0px,#ffde17 69.5px,#f8a11c 70.5px,#f89c1c 71.0px,#fab41a 72.0px,#ffdc17 72.5px,#eee71f 73.0px,#5dbc45 74.0px,#28b051 74.5px,#0daa66 75.0px,#00add2 76.5px,#00aeea 77.0px,#058cd4 79.0px,#1c63b3 81.5px,#293a9b 89.5px,#2e3192 97.0px,#2e3192 121.5px),linear-gradient(#2e3192 0.0px,#2b3697 40.0px,#2641a1 42.0px,#176ebc 45.0px,#1c64b4 46.5px,#273e9e 49.0px,#2b3797 53.5px,#2447a4 55.0px,#1d5fb1 56.0px,#048fd6 57.0px,#00aeea 58.0px,#00abac 58.5px,#0daa65 59.0px,#32b34d 59.5px,#8bc63e 60.0px,#eee71f 60.5px,#fcc719 61.0px,#f57e20 61.5px,#ed4526 62.0px,#ec3a27 62.5px,#f47222 63.0px,#fbb91a 63.5px,#f6e41b 64.0px,#b4d332 64.5px,#5dbc45 65.0px,#38b54a 65.5px,#34b44c 66.5px,#3eb649 67.0px,#86c53e 68.0px,#f3e61d 69.0px,#fde018 69.5px,#faac1b 70.5px,#f9a81b 71.0px,#fcc019 72.0px,#fce018 72.5px,#dee224 73.0px,#96c83c 73.5px,#4cb947 74.0px,#20ae54 74.5px,#0aaa72 75.0px,#00addd 76.5px,#00abed 77.0px,#0986cf 79.0px,#1c64b4 81.0px,#293a9a 89.5px,#2e3192 97.0px,#2e3192 121.5px),linear-gradient(#2e3192 0.0px,#2b3697 40.0px,#2542a1 42.0px,#1570bd 45.0px,#1b66b6 46.5px,#273e9e 49.0px,#2b3797 53.5px,#2447a4 55.0px,#1d5fb1 56.0px,#048fd6 57.0px,#00aeea 58.0px,#00abac 58.5px,#0eaa64 59.0px,#34b44c 59.5px,#8ec63d 60.0px,#efe81e 60.5px,#fcc619 61.0px,#f57e20 61.5px,#ed4526 62.0px,#ec3a27 62.5px,#f47222 63.0px,#fbb91a 63.5px,#f6e41b 64.0px,#b4d332 64.5px,#5dbc45 65.0px,#38b54b 65.5px,#33b34c 66.5px,#3bb54a 67.0px,#80c43f 68.0px,#f1e81e 69.0px,#fed418 70.0px,#fbb81a 70.5px,#fab41a 71.0px,#fdcc18 72.0px,#f9e21a 72.5px,#cedc29 73.0px,#85c53f 73.5px,#3ab54a 74.0px,#19ac57 74.5px,#00aaa2 75.5px,#00aee9 76.5px,#009de2 77.5px,#1d60b2 81.0px,#293a9a 89.5px,#2e3192 97.0px,#2e3192 121.5px),linear-gradient(#2e3192 0.0px,#2b3697 40.0px,#2543a2 42.0px,#1472bf 45.0px,#1a68b7 46.5px,#273e9e 49.0px,#2b3797 53.5px,#2447a4 55.0px,#1d5fb1 56.0px,#048fd6 57.0px,#00aeea 58.0px,#00abab 58.5px,#0eaa62 59.0px,#35b44c 59.5px,#91c73d 60.0px,#f0e81e 60.5px,#fcc619 61.0px,#f57e20 61.5px,#ed4526 62.0px,#ec3a27 62.5px,#f47222 63.0px,#fbb91a 63.5px,#f6e41b 64.0px,#b4d332 64.5px,#5dbc45 65.0px,#37b54b 65.5px,#32b34d 66.5px,#39b54a 67.0px,#7bc240 68.0px,#eae620 69.0px,#ffde17 70.0px,#fcc319 70.5px,#fcc019 71.0px,#fed817 72.0px,#f5e41b 72.5px,#bed62f 73.0px,#32b34d 74.0px,#12aa59 74.5px,#05aa8b 75.0px,#00add6 76.0px,#00aced 76.5px,#058ed5 78.0px,#1d61b3 80.5px,#293b9b 89.0px,#2e3192 97.0px,#2e3192 121.5px),linear-gradient(#2e3192 0.0px,#2b3697 40.0px,#2544a2 42.0px,#1374c1 45.0px,#186ab9 46.5px,#273f9f 49.0px,#2b3797 53.5px,#2447a4 55.0px,#1d5fb1 56.0px,#048fd6 57.0px,#00aeea 58.0px,#00abaa 58.5px,#0eaa61 59.0px,#36b44b 59.5px,#94c83c 60.0px,#f1e81e 60.5px,#fcc619 61.0px,#f57e20 61.5px,#ed4526 62.0px,#ec3a27 62.5px,#f47222 63.0px,#fbb91a 63.5px,#f6e41b 64.0px,#b4d332 64.5px,#5dbc45 65.0px,#37b44b 65.5px,#31b34d 66.5px,#37b54b 67.0px,#75c141 68.0px,#e1e323 69.0px,#f5e41b 69.5px,#fce018 70.0px,#fdce18 70.5px,#fdcc18 71.0px,#fddf18 72.0px,#f2e71d 72.5px,#62bd44 73.5px,#2ab150 74.0px,#0eaa64 74.5px,#02aa97 75.0px,#00ade2 76.0px,#00a7ea 76.5px,#0986d0 78.0px,#1e5eb1 80.5px,#293a9a 89.5px,#2e3192 97.5px,#2e3192 121.5px),linear-gradient(#2e3192 0.0px,#2b3797 40.0px,#2544a2 42.0px,#1177c3 45.0px,#176cbb 46.5px,#273f9f 49.0px,#2b3797 53.5px,#2447a4 55.0px,#1d5fb1 56.0px,#048fd6 57.0px,#00aeea 58.0px,#00aaaa 58.5px,#0faa60 59.0px,#37b54b 59.5px,#96c83c 60.0px,#f1e71e 60.5px,#fcc519 61.0px,#f57e20 61.5px,#ed4526 62.0px,#ec3a27 62.5px,#f47222 63.0px,#fbb81a 63.5px,#f6e41b 64.0px,#b5d332 64.5px,#5ebc44 65.0px,#37b54b 65.5px,#30b34d 66.5px,#36b44b 67.0px,#71c042 68.0px,#d9e026 69.0px,#f3e61c 69.5px,#fed618 71.0px,#fae119 72.0px,#ece71f 72.5px,#a1cc38 73.0px,#55bb46 73.5px,#25b052 74.0px,#0caa6d 74.5px,#00aa9f 75.0px,#00aeeb 76.0px,#058ed5 77.5px,#1d60b2 80.0px,#273e9e 87.5px,#2e3192 96.0px,#2e3192 121.5px),linear-gradient(#2e3192 0.0px,#2b3797 40.0px,#2545a3 42.0px,#1079c5 45.0px,#166ebc 46.5px,#263f9f 49.0px,#2b3797 53.5px,#2447a4 55.0px,#1d5fb1 56.0px,#048fd6 57.0px,#00aeea 58.0px,#00aaaa 58.5px,#0faa60 59.0px,#37b54b 59.5px,#96c83c 60.0px,#f1e71e 60.5px,#fcc519 61.0px,#f57e20 61.5px,#ed4526 62.0px,#ec3a27 62.5px,#f47122 63.0px,#fbb61a 63.5px,#f7e41b 64.0px,#b8d431 64.5px,#60bd44 65.0px,#38b54a 65.5px,#30b34d 66.5px,#36b44b 67.0px,#6ec042 68.0px,#d2dd28 69.0px,#f2e71d 69.5px,#ffdd17 71.0px,#f8e31a 72.0px,#e2e323 72.5px,#98c93b 73.0px,#4db947 73.5px,#22af53 74.0px,#0baa71 74.5px,#00aaa2 75.0px,#00aeee 76.0px,#068cd4 77.5px,#1d5fb1 80.0px,#273f9f 87.0px,#2e3192 96.0px,#2e3192 121.5px),linear-gradient(#2e3192 0.0px,#2c3596 39.5px,#2446a3 42.0px,#1177c3 44.5px,#1178c4 46.0px,#263f9f 49.0px,#2b3797 53.5px,#2447a4 55.0px,#1d5fb1 56.0px,#048fd6 57.0px,#00aeea 58.0px,#00aaaa 58.5px,#0faa60 59.0px,#37b54b 59.5px,#96c83c 60.0px,#f1e71e 60.5px,#fcc519 61.0px,#f57e20 61.5px,#ed4526 62.0px,#ec3927 62.5px,#f47022 63.0px,#fab41a 63.5px,#f7e31b 64.0px,#bad530 64.5px,#63bd44 65.0px,#39b54a 65.5px,#30b34d 66.5px,#36b44b 67.0px,#6bbf42 68.0px,#ccdb2a 69.0px,#f0e81e 69.5px,#fddf18 71.0px,#f6e41b 72.0px,#d7df26 72.5px,#8fc73d 73.0px,#45b748 73.5px,#1fae54 74.0px,#0aaa75 74.5px,#00aaa5 75.0px,#00adee 76.0px,#068ad3 77.5px,#1e5eb1 80.0px,#2640a0 86.5px,#2e3192 96.0px,#2e3192 121.5px),linear-gradient(#2e3192 0.0px,#2c3596 39.5px,#2447a4 42.0px,#1079c5 44.5px,#0f7ac6 46.0px,#2640a0 49.0px,#2b3797 53.5px,#2447a4 55.0px,#1d5fb1 56.0px,#048fd6 57.0px,#00aeea 58.0px,#00aaaa 58.5px,#0faa60 59.0px,#37b54b 59.5px,#96c83c 60.0px,#f1e71e 60.5px,#fcc519 61.0px,#f57e20 61.5px,#ed4526 62.0px,#ec3927 62.5px,#f47022 63.0px,#fab21b 63.5px,#f8e31a 64.0px,#bdd62f 64.5px,#65be43 65.0px,#3bb54a 65.5px,#31b34d 66.5px,#35b44b 67.0px,#68bf43 68.0px,#c5d92c 69.0px,#e8e521 69.5px,#fbe119 70.5px,#f3e61c 72.0px,#cddc2a 72.5px,#3db649 73.5px,#1cad55 74.0px,#09aa78 74.5px,#00aaa9 75.0px,#00aced 76.0px,#0789d1 77.5px,#1e5db0 80.0px,#2641a1 86.0px,#2e3192 95.5px,#2e3192 121.5px),linear-gradient(#2e3192 0.0px,#2c3596 39.5px,#2448a4 42.0px,#0f7bc7 44.5px,#0e7dc8 46.0px,#2640a0 49.0px,#2b3797 53.5px,#2447a4 55.0px,#1d5fb1 56.0px,#048fd6 57.0px,#00aeea 58.0px,#00aaaa 58.5px,#0faa60 59.0px,#37b54b 59.5px,#96c83c 60.0px,#f1e71e 60.5px,#fcc519 61.0px,#f57e20 61.5px,#ed4526 62.0px,#ec3927 62.5px,#f36f22 63.0px,#fab01b 63.5px,#f8e21a 64.0px,#bfd72e 64.5px,#68bf43 65.0px,#3db649 65.5px,#31b34d 66.5px,#35b44b 67.0px,#65be43 68.0px,#bed62f 69.0px,#e1e323 69.5px,#f3e61d 70.0px,#f9e21a 71.0px,#f1e71e 72.0px,#c3d82d 72.5px,#37b44b 73.5px,#19ac56 74.0px,#08aa7c 74.5px,#00add2 75.5px,#00aaec 76.0px,#0096dc 77.0px,#1a68b7 79.0px,#224ea8 82.0px,#2e3192 94.5px,#2e3192 121.5px),linear-gradient(#2e3192 0.0px,#2c3596 39.5px,#263f9f 41.5px,#0e7ec8 44.5px,#0d7fc9 46.0px,#2640a0 49.0px,#2b3797 53.5px,#2447a4 55.0px,#1d5fb1 56.0px,#048fd6 57.0px,#00aeea 58.0px,#00aaaa 58.5px,#0faa60 59.0px,#37b54b 59.5px,#96c83c 60.0px,#f1e71e 60.5px,#fcc519 61.0px,#f57e20 61.5px,#ed4526 62.0px,#eb3927 62.5px,#f36e22 63.0px,#faae1b 63.5px,#f9e21a 64.0px,#c2d72d 64.5px,#6abf43 65.0px,#3fb649 65.5px,#31b34d 66.5px,#35b44c 67.0px,#63bd44 68.0px,#b8d431 69.0px,#f1e71d 70.0px,#f7e31b 71.0px,#eae620 72.0px,#b9d430 72.5px,#34b44c 73.5px,#16ac58 74.0px,#00abaf 75.0px,#00add5 75.5px,#00a9eb 76.0px,#0195db 77.0px,#1b67b6 79.0px,#234aa6 82.5px,#2e3192 95.0px,#2e3192 121.5px),linear-gradient(#2e3192 0.0px,#2c3596 39.5px,#2640a0 41.5px,#0c80ca 44.5px,#0c81cb 46.0px,#2641a1 49.0px,#2b3697 53.0px,#2447a4 55.0px,#1d5fb1 56.0px,#048fd6 57.0px,#00aeea 58.0px,#00aaaa 58.5px,#0faa60 59.0px,#37b54b 59.5px,#96c83c 60.0px,#f1e71e 60.5px,#fcc519 61.0px,#f57e20 61.5px,#ed4526 62.0px,#eb3927 62.5px,#f36d22 63.0px,#f9e21a 64.0px,#c4d82d 64.5px,#6dc042 65.0px,#41b749 65.5px,#31b34d 66.5px,#35b44c 67.0px,#60bd44 68.0px,#b1d233 69.0px,#ede71f 70.0px,#f5e51c 71.0px,#f1e81e 71.5px,#dfe224 72.0px,#afd134 72.5px,#6abf43 73.0px,#30b34e 73.5px,#13ab59 74.0px,#00abb2 75.0px,#00add8 75.5px,#00a8ea 76.0px,#0293d9 77.0px,#1b65b5 79.0px,#2349a5 82.5px,#2e3192 95.0px,#2e3192 121.5px),linear-gradient(#2e3192 0.0px,#2c3596 39.5px,#2640a0 41.5px,#0b82cc 44.5px,#0a83cd 46.0px,#2542a1 49.0px,#2b3697 53.0px,#2447a4 55.0px,#1d5fb1 56.0px,#048fd6 57.0px,#00aeea 58.0px,#00aaaa 58.5px,#0faa60 59.0px,#37b54b 59.5px,#96c83c 60.0px,#f1e71e 60.5px,#fcc519 61.0px,#f57e20 61.5px,#ed4526 62.0px,#eb3827 62.5px,#fae119 64.0px,#c6d92c 64.5px,#6fc042 65.0px,#43b748 65.5px,#31b34d 66.5px,#34b44c 67.0px,#5dbc45 68.0px,#abcf35 69.0px,#e5e422 70.0px,#f4e61c 70.5px,#e9e620 71.5px,#d4de27 72.0px,#a4cd37 72.5px,#61bd44 73.0px,#2cb24f 73.5px,#10aa5a 74.0px,#00abb5 75.0px,#00addb 75.5px,#00a7e9 76.0px,#0b82cc 77.5px,#1e5eb1 79.5px,#2545a3 83.5px,#2e3192 95.5px,#2e3192 121.5px),linear-gradient(#2e3192 0.0px,#2c3596 39.5px,#2641a0 41.5px,#0a85ce 44.5px,#0986cf 46.0px,#2543a2 49.0px,#2b3697 52.5px,#273e9e 54.5px,#1d5fb1 56.0px,#048fd6 57.0px,#00aeea 58.0px,#00aaaa 58.5px,#0faa60 59.0px,#37b54b 59.5px,#96c83c 60.0px,#f1e71e 60.5px,#fcc519 61.0px,#f57e20 61.5px,#ed4526 62.0px,#eb3827 62.5px,#fae119 64.0px,#c9da2b 64.5px,#72c141 65.0px,#45b848 65.5px,#31b34d 66.5px,#34b44c 67.0px,#5abc45 68.0px,#c3d82d 69.5px,#f2e71d 70.5px,#f1e71d 71.0px,#cada2b 72.0px,#9ac93b 72.5px,#57bb45 73.0px,#29b150 73.5px,#0faa5f 74.0px,#00abb9 75.0px,#00addf 75.5px,#00a5e8 76.0px,#0c81cb 77.5px,#1e5db0 79.5px,#2544a2 83.5px,#2e3192 96.0px,#2e3192 121.5px),linear-gradient(#2e3192 0.0px,#2c3696 39.5px,#2642a1 41.5px,#1472bf 43.5px,#058dd5 45.0px,#0c81cb 46.5px,#2544a2 49.0px,#2b3697 52.5px,#273e9e 54.5px,#1d5fb1 56.0px,#048fd6 57.0px,#00aeea 58.0px,#00aaaa 58.5px,#0faa60 59.0px,#37b54b 59.5px,#96c83c 60.0px,#f1e71e 60.5px,#fcc519 61.0px,#f57e20 61.5px,#ed4526 62.0px,#eb3827 62.5px,#f9a61c 63.5px,#fbe119 64.0px,#cbdb2a 64.5px,#74c141 65.0px,#47b848 65.5px,#31b34d 66.5px,#34b44c 67.0px,#40b649 67.5px,#56bb46 68.0px,#bad530 69.5px,#ede71f 70.5px,#eae620 71.0px,#bdd62f 72.0px,#8ec63d 72.5px,#4db947 73.0px,#25b052 73.5px,#0eaa64 74.0px,#00abbd 75.0px,#00ade2 75.5px,#00a4e7 76.0px,#1d61b3 79.0px,#2446a3 82.5px,#2e3192 95.5px,#2e3192 121.5px),linear-gradient(#2e3192 0.0px,#2c3696 39.5px,#2542a1 41.5px,#1375c1 43.5px,#0390d7 45.0px,#0a84cd 46.5px,#2545a3 49.0px,#2b3797 52.0px,#273e9e 54.5px,#1d5fb1 56.0px,#048fd6 57.0px,#00aeea 58.0px,#00aaaa 58.5px,#0faa60 59.0px,#37b54b 59.5px,#96c83c 60.0px,#f1e71e 60.5px,#fcc519 61.0px,#f57e20 61.5px,#ed4526 62.0px,#eb3827 62.5px,#f9a61c 63.5px,#fbe119 64.0px,#ccdb2a 64.5px,#75c141 65.0px,#48b848 65.5px,#30b34d 66.5px,#3bb54a 67.5px,#4fba47 68.0px,#a9cf36 69.5px,#d6df27 70.5px,#d2dd28 71.0px,#a5cd37 72.0px,#77c241 72.5px,#39b54a 73.0px,#1eae55 73.5px,#0baa6e 74.0px,#00acc4 75.0px,#00aee9 75.5px,#078ad2 77.0px,#1d60b2 79.0px,#2544a2 83.0px,#2e3192 96.0px,#2e3192 121.5px),linear-gradient(#2e3192 0.0px,#2b3696 39.5px,#2543a2 41.5px,#1177c3 43.5px,#0293da 45.0px,#0986d0 46.5px,#2446a3 49.0px,#2b3798 51.5px,#273e9e 54.5px,#1d5fb1 56.0px,#048fd6 57.0px,#00aeea 58.0px,#00aaaa 58.5px,#0faa60 59.0px,#37b54b 59.5px,#96c83c 60.0px,#f1e71e 60.5px,#fcc519 61.0px,#f57e20 61.5px,#ed4526 62.0px,#eb3827 62.5px,#f9a61c 63.5px,#fbe119 64.0px,#cddc2a 64.5px,#77c241 65.0px,#48b848 65.5px,#2fb24e 66.5px,#37b54b 67.5px,#48b848 68.0px,#98c93b 69.5px,#bfd72e 70.5px,#b9d530 71.0px,#8cc63d 72.0px,#31b34d 73.0px,#17ac57 73.5px,#00aaa0 74.5px,#00aeef 75.5px,#0986cf 77.0px,#1e5eb1 79.0px,#2543a2 83.0px,#2e3192 96.5px,#2e3192 121.5px),linear-gradient(#2e3192 0.0px,#2b3697 39.5px,#2544a2 41.5px,#107ac5 43.5px,#0096dc 45.0px,#0789d2 46.5px,#2152aa 48.5px,#283c9c 50.0px,#293a9a 54.0px,#2153aa 55.5px,#1374c1 56.5px,#048fd6 57.0px,#00aeea 58.0px,#00aaaa 58.5px,#0faa60 59.0px,#37b54b 59.5px,#96c83c 60.0px,#f1e71e 60.5px,#fcc519 61.0px,#f57e20 61.5px,#ed4526 62.0px,#eb3827 62.5px,#f9a61c 63.5px,#fbe119 64.0px,#cedc29 64.5px,#78c240 65.0px,#49b848 65.5px,#2eb24e 66.5px,#35b44c 67.5px,#41b749 68.0px,#86c53e 69.5px,#a8ce36 70.5px,#a1cc38 71.0px,#73c141 72.0px,#28b051 73.0px,#10aa5a 73.5px,#00aaaa 74.5px,#00add4 75.0px,#00abed 75.5px,#0b83cd 77.0px,#1e5db0 79.0px,#2543a1 83.0px,#2e3192 96.5px,#2e3192 121.5px),linear-gradient(#2e3192 0.0px,#2b3697 39.5px,#2545a3 41.5px,#0e7cc7 43.5px,#0194da 44.5px,#0095db 46.0px,#2153ab 48.5px,#283c9c 50.0px,#293a9a 54.0px,#2153aa 55.5px,#1374c1 56.5px,#048fd6 57.0px,#00aeea 58.0px,#00aaaa 58.5px,#0faa60 59.0px,#37b54b 59.5px,#96c83c 60.0px,#f1e71e 60.5px,#fcc519 61.0px,#f57e20 61.5px,#ed4526 62.0px,#eb3827 62.5px,#f9a61c 63.5px,#fbe019 64.0px,#cfdc29 64.5px,#7ac240 65.0px,#4ab848 65.5px,#2db24f 66.5px,#3ab54a 68.0px,#75c141 69.5px,#91c73d 70.5px,#88c53e 71.0px,#5abc45 72.0px,#36b44b 72.5px,#0daa65 73.5px,#00addc 75.0px,#00a8ea 75.5px,#1473c0 77.5px,#2152aa 80.0px,#2641a0 84.0px,#2e3192 96.5px,#2e3192 121.5px),linear-gradient(#2e3192 0.0px,#2b3697 39.5px,#2446a3 41.5px,#166ebc 43.0px,#0096dc 44.5px,#0097dd 46.0px,#1472bf 47.5px,#273f9f 49.5px,#2b3798 53.5px,#2447a4 55.0px,#1d5fb1 56.0px,#048fd6 57.0px,#00aeea 58.0px,#00aaaa 58.5px,#0faa60 59.0px,#37b54b 59.5px,#96c83c 60.0px,#f1e71e 60.5px,#fcc519 61.0px,#f57e20 61.5px,#ed4526 62.0px,#eb3827 62.5px,#f9a61c 63.5px,#fbe019 64.0px,#d0dc29 64.5px,#7bc240 65.0px,#4ab947 65.5px,#2cb14f 66.5px,#36b44b 68.0px,#79c240 70.5px,#6fc042 71.0px,#17ac57 73.0px,#03aa95 74.0px,#00ade4 75.0px,#00a5e8 75.5px,#0e7cc7 77.0px,#1d60b2 78.5px,#2641a1 83.0px,#2e3192 97.0px,#2e3192 121.5px),linear-gradient(#2e3192 0.0px,#2b3697 39.5px,#2447a4 41.5px,#1570be 43.0px,#0098de 44.5px,#0099de 46.0px,#0a84ce 47.0px,#2056ac 48.5px,#263f9f 49.5px,#2b3798 53.5px,#2447a4 55.0px,#1d5fb1 56.0px,#048fd6 57.0px,#00aeea 58.0px,#00aaaa 58.5px,#0faa60 59.0px,#37b54b 59.5px,#96c83c 60.0px,#f1e71e 60.5px,#fcc519 61.0px,#f57e20 61.5px,#ed4526 62.0px,#eb3827 62.5px,#f9a61c 63.5px,#fbe019 64.0px,#d0dd29 64.5px,#7cc340 65.0px,#4bb947 65.5px,#2bb150 66.5px,#33b34c 68.0px,#61bd44 70.5px,#56bb46 71.0px,#31b34d 72.0px,#0faa5c 73.0px,#00acc6 74.5px,#00aeeb 75.0px,#0096dc 76.0px,#1c63b4 78.0px,#2542a1 82.5px,#2e3192 97.0px,#2e3192 121.5px),linear-gradient(#2e3192 0.0px,#2b3697 39.5px,#2448a4 41.5px,#1473c0 43.0px,#0292d9 44.0px,#009de2 45.5px,#0195db 46.5px,#2057ad 48.5px,#2640a0 49.5px,#2b3798 53.5px,#2447a4 55.0px,#1d5fb1 56.0px,#048fd6 57.0px,#00aeea 58.0px,#00aaaa 58.5px,#0faa60 59.0px,#37b54b 59.5px,#96c83c 60.0px,#f1e71e 60.5px,#fcc519 61.0px,#f57e20 61.5px,#ed4526 62.0px,#eb3827 62.5px,#f9a61c 63.5px,#fce019 64.0px,#d1dd28 64.5px,#7ec340 65.0px,#4bb947 65.5px,#35b44b 66.0px,#27b051 67.0px,#49b848 70.5px,#18ac57 72.5px,#0caa6b 73.0px,#00accf 74.5px,#00acee 75.0px,#0292d8 76.0px,#1d61b3 78.0px,#2640a0 83.0px,#2e3192 97.5px,#2e3192 121.5px),linear-gradient(#2e3192 0.0px,#2b3697 39.5px,#273f9f 41.0px,#1c63b3 42.5px,#0195db 44.0px,#009fe3 45.5px,#0097dd 46.5px,#1f58ad 48.5px,#2640a0 49.5px,#2b3798 53.5px,#2447a4 55.0px,#1d5fb1 56.0px,#048fd6 57.0px,#00aeea 58.0px,#00aaaa 58.5px,#0faa60 59.0px,#37b54b 59.5px,#96c83c 60.0px,#f1e71e 60.5px,#fcc519 61.0px,#f57e20 61.5px,#ed4526 62.0px,#eb3827 62.5px,#f9a61c 63.5px,#fce019 64.0px,#d2dd28 64.5px,#7ec340 65.0px,#4cb947 65.5px,#35b44b 66.0px,#27b051 67.0px,#3cb64a 70.5px,#12ab59 72.5px,#00abb0 74.0px,#00add5 74.5px,#00aaec 75.0px,#0d80ca 76.5px,#1d60b2 78.0px,#2640a0 83.0px,#2e3192 97.5px,#2e3192 121.5px),linear-gradient(#2e3192 0.0px,#2b3697 39.5px,#263f9f 41.0px,#1c64b4 42.5px,#0097dd 44.0px,#00a1e5 45.5px,#0098de 46.5px,#1f59ae 48.5px,#2640a0 49.5px,#2b3798 53.5px,#2447a4 55.0px,#1d5fb1 56.0px,#048fd6 57.0px,#00aeea 58.0px,#00aaaa 58.5px,#0faa60 59.0px,#37b54b 59.5px,#96c83c 60.0px,#f1e71e 60.5px,#fcc519 61.0px,#f57e20 61.5px,#ed4526 62.0px,#eb3827 62.5px,#f9a61c 63.5px,#fce019 64.0px,#d2dd28 64.5px,#7ec340 65.0px,#4cb947 65.5px,#35b44b 66.0px,#26b051 67.0px,#36b44b 70.5px,#10aa5c 72.5px,#00abb5 74.0px,#00add9 74.5px,#00a9eb 75.0px,#0d7ec9 76.5px,#1d60b2 78.0px,#2640a0 83.0px,#2e3192 97.5px,#2e3192 121.5px),linear-gradient(#2e3192 0.0px,#2b3797 39.5px,#2640a0 41.0px,#1b66b6 42.5px,#0098de 44.0px,#00a3e6 45.5px,#048ed6 47.0px,#1f5aaf 48.5px,#2641a1 49.5px,#2b3798 53.5px,#2447a4 55.0px,#1d5fb1 56.0px,#048fd6 57.0px,#00aeea 58.0px,#00aaaa 58.5px,#0faa60 59.0px,#37b54b 59.5px,#96c83c 60.0px,#f1e71e 60.5px,#fcc519 61.0px,#f57e20 61.5px,#ed4526 62.0px,#eb3827 62.5px,#f9a61c 63.5px,#fce019 64.0px,#d2dd28 64.5px,#7ec340 65.0px,#4cb947 65.5px,#35b44b 66.0px,#26b052 67.0px,#32b34d 70.5px,#19ac57 72.0px,#0eaa62 72.5px,#00abba 74.0px,#00adde 74.5px,#00a7e9 75.0px,#0e7dc8 76.5px,#1d5fb1 78.0px,#2640a0 83.0px,#2e3192 97.5px,#2e3192 121.5px),linear-gradient(#2e3192 0.0px,#2b3797 39.5px,#2640a0 41.0px,#1a68b7 42.5px,#009adf 44.0px,#00a4e7 45.5px,#0391d8 47.0px,#1e5baf 48.5px,#2642a1 49.5px,#2b3798 53.5px,#2447a4 55.0px,#1d5fb1 56.0px,#048fd6 57.0px,#00aeea 58.0px,#00aaaa 58.5px,#0faa60 59.0px,#37b54b 59.5px,#96c83c 60.0px,#f1e71e 60.5px,#fcc519 61.0px,#f57e20 61.5px,#ed4526 62.0px,#eb3827 62.5px,#f9a61c 63.5px,#fce019 64.0px,#d2dd28 64.5px,#7ec340 65.0px,#4cb947 65.5px,#35b44b 66.0px,#25b052 67.0px,#2db24f 70.5px,#15ab58 72.0px,#0daa69 72.5px,#00acbf 74.0px,#00ade3 74.5px,#00a5e8 75.0px,#0f7bc7 76.5px,#1d5fb1 78.0px,#2640a0 83.0px,#2e3192 97.5px,#2e3192 121.5px),linear-gradient(#2e3192 0.0px,#2c3596 39.0px,#2640a0 41.0px,#196ab9 42.5px,#0390d7 43.5px,#00a6e8 45.0px,#009de2 46.5px,#0b82cc 47.5px,#224fa8 49.0px,#273d9e 50.0px,#293a9a 54.0px,#2153aa 55.5px,#1374c1 56.5px,#048fd6 57.0px,#00aeea 58.0px,#00aaaa 58.5px,#0faa60 59.0px,#37b54b 59.5px,#96c83c 60.0px,#f1e71e 60.5px,#fcc519 61.0px,#f57e20 61.5px,#ed4526 62.0px,#eb3827 62.5px,#f9a61c 63.5px,#fce019 64.0px,#d2dd28 64.5px,#7ec340 65.0px,#4cb947 65.5px,#35b44b 66.0px,#24af52 67.0px,#29b150 70.5px,#11aa5a 72.0px,#00aaa4 73.5px,#00aee7 74.5px,#0099de 75.5px,#1c65b4 77.5px,#2449a5 81.0px,#2e3192 93.5px,#2e3192 121.5px),linear-gradient(#2e3192 0.0px,#2c3596 39.0px,#2641a0 41.0px,#186cba 42.5px,#0293d9 43.5px,#00a7ea 45.0px,#009fe3 46.5px,#0096dc 47.0px,#1e5eb1 48.5px,#2543a2 49.5px,#2b3797 53.0px,#273e9e 54.5px,#1d5fb1 56.0px,#048fd6 57.0px,#00aeea 58.0px,#00aaaa 58.5px,#0faa60 59.0px,#37b54b 59.5px,#96c83c 60.0px,#f1e71e 60.5px,#fcc519 61.0px,#f57e20 61.5px,#ed4526 62.0px,#eb3827 62.5px,#f9a61c 63.5px,#fce019 64.0px,#d2dd28 64.5px,#7ec340 65.0px,#4cb947 65.5px,#35b44b 66.0px,#24af52 67.0px,#25b052 70.5px,#0faa60 72.0px,#00aaa9 73.5px,#00aeec 74.5px,#0098dd 75.5px,#166ebc 77.0px,#2250a9 79.5px,#2640a0 84.0px,#2e3192 97.0px,#2e3192 121.5px),linear-gradient(#2e3192 0.0px,#2c3596 39.0px,#2641a1 41.0px,#176dbc 42.5px,#0095db 43.5px,#00a9eb 45.0px,#00a0e4 46.5px,#0986cf 47.5px,#2151a9 49.0px,#273e9e 50.0px,#293a9a 54.0px,#2153ab 55.5px,#1374c1 56.5px,#048fd6 57.0px,#00aeea 58.0px,#00aaaa 58.5px,#0faa60 59.0px,#37b54b 59.5px,#96c83c 60.0px,#f1e71e 60.5px,#fcc519 61.0px,#f57e20 61.5px,#ed4526 62.0px,#eb3827 62.5px,#f9a61c 63.5px,#fce019 64.0px,#d2dd28 64.5px,#7ec340 65.0px,#4cb947 65.5px,#35b44b 66.0px,#23af52 67.0px,#1bad56 71.0px,#0daa66 72.0px,#00abaf 73.5px,#00adee 74.5px,#0096dc 75.5px,#176dbb 77.0px,#2250a9 79.5px,#2640a0 84.0px,#2e3192 97.0px,#2e3192 121.5px),linear-gradient(#2e3192 0.0px,#2c3596 39.0px,#2542a1 41.0px,#166fbd 42.5px,#0097dd 43.5px,#00abec 45.0px,#00a2e5 46.5px,#0888d1 47.5px,#1d60b2 48.5px,#273e9e 50.0px,#293a9a 54.0px,#2153ab 55.5px,#1374c1 56.5px,#048fd6 57.0px,#00aeea 58.0px,#00aaaa 58.5px,#0faa60 59.0px,#37b54b 59.5px,#96c83c 60.0px,#f1e71e 60.5px,#fcc519 61.0px,#f57e20 61.5px,#ed4526 62.0px,#eb3827 62.5px,#f9a61c 63.5px,#fce019 64.0px,#d2dd28 64.5px,#7ec340 65.0px,#4cb947 65.5px,#35b44b 66.0px,#20ae54 67.5px,#16ac57 71.0px,#0caa6d 72.0px,#00abb5 73.5px,#00abed 74.5px,#0194da 75.5px,#186cba 77.0px,#224fa8 79.5px,#2640a0 84.5px,#2e3192 97.0px,#2e3192 121.5px),linear-gradient(#2e3192 0.0px,#2c3596 39.0px,#2543a2 41.0px,#1571bf 42.5px,#0098de 43.5px,#00acee 45.0px,#00a3e7 46.5px,#068bd3 47.5px,#1d61b2 48.5px,#273e9e 50.0px,#293a9a 54.0px,#2153ab 55.5px,#1374c1 56.5px,#048fd6 57.0px,#00aeea 58.0px,#00aaaa 58.5px,#0faa60 59.0px,#37b54b 59.5px,#96c83c 60.0px,#f1e71e 60.5px,#fcc519 61.0px,#f57e20 61.5px,#ed4526 62.0px,#eb3827 62.5px,#f9a61c 63.5px,#fce019 64.0px,#d2dd28 64.5px,#7ec340 65.0px,#4cb947 65.5px,#35b44b 66.0px,#1eae54 67.5px,#12ab59 71.0px,#06aa88 72.5px,#00add9 74.0px,#00aaec 74.5px,#0292d9 75.5px,#186bb9 77.0px,#224fa8 79.5px,#2640a0 84.5px,#2e3192 97.0px,#2e3192 121.5px);background-position:0.0px 0,2.0px 0,4.0px 0,6.0px 0,8.0px 0,10.0px 0,12.0px 0,14.0px 0,16.0px 0,18.0px 0,20.0px 0,22.0px 0,24.0px 0,26.0px 0,28.0px 0,30.0px 0,32.0px 0,34.0px 0,36.0px 0,38.0px 0,40.0px 0,42.0px 0,44.0px 0,46.0px 0,48.0px 0,50.0px 0,52.0px 0,54.0px 0,56.0px 0,58.0px 0,60.0px 0,62.0px 0,64.0px 0,66.0px 0,68.0px 0,70.0px 0,72.0px 0,74.0px 0,76.0px 0,78.0px 0,80.0px 0,82.0px 0,84.0px 0,86.0px 0,88.0px 0,90.0px 0,92.0px 0,94.0px 0,96.0px 0,98.0px 0,100.0px 0,102.0px 0,104.0px 0,106.0px 0,108.0px 0,110.0px 0,112.0px 0,114.0px 0,116.0px 0,118.0px 0,120.0px 0,122.0px 0,124.0px 0,126.0px 0,128.0px 0,130.0px 0,132.0px 0,134.0px 0,136.0px 0,138.0px 0,140.0px 0,142.0px 0,144.0px 0,146.0px 0;background-size:2.3px 121.8px;background-repeat:no-repeat;background-color:#2e3192;"></div><div style="position:absolute;left:221.0px;top:91.0px;width:148.2px;height:122.3px;background-image:linear-gradient(#2e3192 0.0px,#2b3697 42.0px,#2c3596 54.5px,#273e9e 56.0px,#1c64b4 57.5px,#0292d9 58.5px,#00aeef 59.5px,#00aaa0 60.5px,#10aa5a 61.5px,#31b34d 64.0px,#39b54a 65.5px,#96c83c 66.5px,#f0e81e 67.5px,#fae119 68.0px,#faad1b 69.0px,#f47a20 70.0px,#ed4226 71.5px,#e82428 73.0px,#eb3627 74.5px,#f26024 76.0px,#f9a61c 77.5px,#fddf18 78.5px,#f5e51c 79.0px,#d2dd28 79.5px,#68be43 80.5px,#36b44b 82.0px,#2fb24e 82.5px,#49b848 84.5px,#5cbc45 85.5px,#35b44b 86.0px,#10aa5c 87.0px,#00aaa0 88.0px,#00aeef 89.0px,#009de1 89.5px,#1c64b4 90.5px,#263f9f 92.0px,#2e3192 95.5px,#2e3192 122.0px),linear-gradient(#2e3192 0.0px,#2b3797 42.0px,#2c3596 54.5px,#273e9e 56.0px,#1c64b4 57.5px,#0292d9 58.5px,#00aeef 59.5px,#00aaa0 60.5px,#10aa5a 61.5px,#31b34d 64.0px,#39b54a 65.5px,#96c83c 66.5px,#f0e81e 67.5px,#fae119 68.0px,#faad1b 69.0px,#f47a20 70.0px,#ed4226 71.5px,#e82428 73.0px,#eb3627 74.5px,#f26024 76.0px,#f9a61c 77.5px,#fddf18 78.5px,#f5e51c 79.0px,#d2dd28 79.5px,#68be43 80.5px,#36b44b 82.0px,#2fb24e 82.5px,#49b848 84.5px,#5dbc45 85.5px,#36b44b 86.0px,#10aa5c 87.0px,#00aaa0 88.0px,#00aeef 89.0px,#009de1 89.5px,#1c64b4 90.5px,#263f9f 92.0px,#2e3192 95.5px,#2e3192 122.0px),linear-gradient(#2e3192 0.0px,#2b3797 42.0px,#2c3596 54.5px,#273e9e 56.0px,#1c64b4 57.5px,#0292d9 58.5px,#00aeef 59.5px,#00aaa0 60.5px,#10aa5a 61.5px,#31b34d 64.0px,#39b54a 65.5px,#96c83c 66.5px,#f0e81e 67.5px,#fae119 68.0px,#faad1b 69.0px,#f47a20 70.0px,#ed4226 71.5px,#e82428 73.0px,#eb3627 74.5px,#f26024 76.0px,#f9a61c 77.5px,#fddf18 78.5px,#f5e51c 79.0px,#d2dd28 79.5px,#68be43 80.5px,#36b44b 82.0px,#2fb24e 82.5px,#4ab847 84.5px,#5ebd44 85.5px,#36b44b 86.0px,#10aa5c 87.0px,#00aaa0 88.0px,#00aeef 89.0px,#009de1 89.5px,#1c64b4 90.5px,#263f9f 92.0px,#2e3192 95.5px,#2e3192 122.0px),linear-gradient(#2e3192 0.0px,#2b3697 41.5px,#2d3293 49.5px,#2b3797 55.0px,#2448a4 56.5px,#1c64b4 57.5px,#0292d9 58.5px,#00aeef 59.5px,#00aaa0 60.5px,#10aa5a 61.5px,#31b34d 64.0px,#39b54a 65.5px,#96c83c 66.5px,#f0e81e 67.5px,#fae119 68.0px,#faad1b 69.0px,#f47a20 70.0px,#ed4226 71.5px,#e82428 73.0px,#eb3627 74.5px,#f26024 76.0px,#f9a61c 77.5px,#fddf18 78.5px,#f5e51c 79.0px,#d2dd28 79.5px,#68be43 80.5px,#36b44b 82.0px,#2fb24e 82.5px,#4ab947 84.5px,#5fbd44 85.5px,#36b44b 86.0px,#10aa5c 87.0px,#00aaa0 88.0px,#00aeef 89.0px,#009de1 89.5px,#1c64b4 90.5px,#263f9f 92.0px,#2e3192 95.5px,#2e3192 122.0px),linear-gradient(#2e3192 0.0px,#2b3697 41.5px,#2d3394 48.5px,#2b3797 55.0px,#2448a4 56.5px,#1c64b4 57.5px,#0292d9 58.5px,#00aeef 59.5px,#00aaa0 60.5px,#10aa5a 61.5px,#31b34d 64.0px,#39b54a 65.5px,#96c83c 66.5px,#f0e81e 67.5px,#fae119 68.0px,#faad1b 69.0px,#f47a20 70.0px,#ed4226 71.5px,#e82428 73.0px,#eb3627 74.5px,#f26024 76.0px,#f9a61c 77.5px,#fddf18 78.5px,#f5e51c 79.0px,#d2dd28 79.5px,#68be43 80.5px,#36b44b 82.0px,#2fb24e 82.5px,#4bb947 84.5px,#5fbd44 85.5px,#36b44b 86.0px,#10aa5c 87.0px,#00aaa0 88.0px,#00aeef 89.0px,#009de1 89.5px,#1c64b4 90.5px,#263f9f 92.0px,#2e3192 95.5px,#2e3192 122.0px),linear-gradient(#2e3192 0.0px,#2b3697 41.5px,#2c3495 48.0px,#2c3596 54.5px,#273e9e 56.0px,#1c64b4 57.5px,#0292d9 58.5px,#00aeef 59.5px,#00aaa0 60.5px,#10aa5a 61.5px,#31b34d 64.0px,#39b54a 65.5px,#96c83c 66.5px,#f0e81e 67.5px,#fae119 68.0px,#faad1b 69.0px,#f47a20 70.0px,#ed4226 71.5px,#e82428 73.0px,#eb3627 74.5px,#f26024 76.0px,#f9a61c 77.5px,#fddf18 78.5px,#f5e51c 79.0px,#d2dd28 79.5px,#68be43 80.5px,#36b44b 82.0px,#2fb24e 82.5px,#41b749 84.0px,#60bd44 85.5px,#37b44b 86.0px,#10aa5b 87.0px,#00aaa0 88.0px,#00aeef 89.0px,#009de1 89.5px,#1c64b4 90.5px,#263f9f 92.0px,#2e3192 95.5px,#2e3192 122.0px),linear-gradient(#2e3192 0.0px,#2b3797 41.5px,#2c3495 48.0px,#2c3596 54.5px,#273e9e 56.0px,#1c64b4 57.5px,#0292d9 58.5px,#00aeef 59.5px,#00aaa0 60.5px,#10aa5a 61.5px,#31b34d 64.0px,#39b54a 65.5px,#96c83c 66.5px,#f0e81e 67.5px,#fae119 68.0px,#faad1b 69.0px,#f47a20 70.0px,#ed4226 71.5px,#e82428 73.0px,#eb3627 74.5px,#f26024 76.0px,#f9a61c 77.5px,#fddf18 78.5px,#f5e51c 79.0px,#d2dd28 79.5px,#68be43 80.5px,#36b44b 82.0px,#2fb24e 82.5px,#41b749 84.0px,#61bd44 85.5px,#37b44b 86.0px,#10aa5b 87.0px,#00aaa0 88.0px,#00aeef 89.0px,#009de1 89.5px,#1c64b4 90.5px,#263f9f 92.0px,#2e3192 95.5px,#2e3192 122.0px),linear-gradient(#2e3192 0.0px,#2b3797 41.5px,#2c3596 47.5px,#2c3596 54.5px,#273e9e 56.0px,#1c64b4 57.5px,#0292d9 58.5px,#00aeef 59.5px,#00aaa0 60.5px,#10aa5a 61.5px,#31b34d 64.0px,#39b54a 65.5px,#96c83c 66.5px,#f0e81e 67.5px,#fae119 68.0px,#faad1b 69.0px,#f47a20 70.0px,#ed4226 71.5px,#e82428 73.0px,#eb3627 74.5px,#f26024 76.0px,#f9a61c 77.5px,#fddf18 78.5px,#f5e51c 79.0px,#d2dd28 79.5px,#68be43 80.5px,#36b44b 82.0px,#2fb24e 82.5px,#42b749 84.0px,#62bd44 85.5px,#37b44b 86.0px,#10aa5b 87.0px,#00aaa0 88.0px,#00aeef 89.0px,#009de1 89.5px,#1c64b4 90.5px,#263f9f 92.0px,#2e3192 95.5px,#2e3192 122.0px),linear-gradient(#2e3192 0.0px,#2b3696 41.0px,#2b3797 47.0px,#2c3596 54.5px,#273e9e 56.0px,#1c64b4 57.5px,#0292d9 58.5px,#00aeef 59.5px,#00aaa0 60.5px,#10aa5a 61.5px,#31b34d 64.0px,#39b54a 65.5px,#96c83c 66.5px,#f0e81e 67.5px,#fae119 68.0px,#faad1b 69.0px,#f47a20 70.0px,#ed4226 71.5px,#e82428 73.0px,#eb3627 74.5px,#f26024 76.0px,#f9a61c 77.5px,#fddf18 78.5px,#f5e51c 79.0px,#d2dd28 79.5px,#68be43 80.5px,#36b44b 82.0px,#2fb24e 82.5px,#42b749 84.0px,#63bd44 85.5px,#37b54b 86.0px,#10aa5b 87.0px,#00aaa0 88.0px,#00aeef 89.0px,#009de1 89.5px,#1c64b4 90.5px,#263f9f 92.0px,#2e3192 95.5px,#2e3192 122.0px),linear-gradient(#2e3192 0.0px,#2b3697 41.0px,#2a3899 46.5px,#2c3596 54.5px,#273e9e 56.0px,#1c64b4 57.5px,#0292d9 58.5px,#00aeef 59.5px,#00aaa0 60.5px,#10aa5a 61.5px,#31b34d 64.0px,#39b54a 65.5px,#96c83c 66.5px,#f0e81e 67.5px,#fae119 68.0px,#faad1b 69.0px,#f47a20 70.0px,#ed4226 71.5px,#e82428 73.0px,#eb3627 74.5px,#f26024 76.0px,#f9a61c 77.5px,#fddf18 78.5px,#f5e51c 79.0px,#d2dd28 79.5px,#68be43 80.5px,#36b44b 82.0px,#2fb24e 82.5px,#43b749 84.0px,#63be44 85.5px,#38b54b 86.0px,#10aa5b 87.0px,#00aaa0 88.0px,#00aeef 89.0px,#009de1 89.5px,#1c64b4 90.5px,#263f9f 92.0px,#2e3192 95.5px,#2e3192 122.0px),linear-gradient(#2e3192 0.0px,#2b3697 41.0px,#2a3899 46.5px,#2c3596 54.5px,#273e9e 56.0px,#1c64b4 57.5px,#0292d9 58.5px,#00aeef 59.5px,#00aaa0 60.5px,#10aa5a 61.5px,#31b34d 64.0px,#39b54a 65.5px,#96c83c 66.5px,#f0e81e 67.5px,#fae119 68.0px,#faad1b 69.0px,#f47a20 70.0px,#ed4226 71.5px,#e82428 73.0px,#eb3627 74.5px,#f26024 76.0px,#f9a61c 77.5px,#fddf18 78.5px,#f5e51c 79.0px,#d2dd28 79.5px,#68be43 80.5px,#36b44b 82.0px,#2fb24e 82.5px,#43b749 84.0px,#64be44 85.5px,#38b54a 86.0px,#10aa5b 87.0px,#00aaa0 88.0px,#00aeef 89.0px,#009de1 89.5px,#1c64b4 90.5px,#263f9f 92.0px,#2e3192 95.5px,#2e3192 122.0px),linear-gradient(#2e3192 0.0px,#2b3697 41.0px,#2a3899 46.5px,#2d3394 54.0px,#273e9e 56.0px,#1c64b4 57.5px,#0292d9 58.5px,#00aeef 59.5px,#00aaa0 60.5px,#10aa5a 61.5px,#31b34d 64.0px,#39b54a 65.5px,#96c83c 66.5px,#f0e81e 67.5px,#fae119 68.0px,#faad1b 69.0px,#f47a20 70.0px,#ed4226 71.5px,#e82428 73.0px,#eb3627 74.5px,#f26024 76.0px,#f9a61c 77.5px,#fddf18 78.5px,#f5e51c 79.0px,#d2dd28 79.5px,#68be43 80.5px,#36b44b 82.0px,#2fb24e 82.5px,#43b748 84.0px,#65be43 85.5px,#38b54a 86.0px,#10aa5a 87.0px,#00aaa0 88.0px,#00aeef 89.0px,#009de1 89.5px,#1c64b4 90.5px,#263f9f 92.0px,#2e3192 95.5px,#2e3192 122.0px),linear-gradient(#2e3192 0.0px,#2b3697 41.0px,#2a3999 46.5px,#2d3394 54.0px,#273e9e 56.0px,#1c64b4 57.5px,#0292d9 58.5px,#00aeef 59.5px,#00aaa0 60.5px,#10aa5a 61.5px,#31b34d 64.0px,#39b54a 65.5px,#96c83c 66.5px,#f0e81e 67.5px,#fae119 68.0px,#faad1b 69.0px,#f47a20 70.0px,#ed4226 71.5px,#e82428 73.0px,#eb3627 74.5px,#f26024 76.0px,#f9a61c 77.5px,#fddf18 78.5px,#f5e51c 79.0px,#d2dd28 79.5px,#68be43 80.5px,#36b44b 82.0px,#2fb24e 82.5px,#44b748 84.0px,#66be43 85.5px,#38b54a 86.0px,#10aa5a 87.0px,#00aaa0 88.0px,#00aeef 89.0px,#009de1 89.5px,#1c64b4 90.5px,#263f9f 92.0px,#2e3192 95.5px,#2e3192 122.0px),linear-gradient(#2e3192 0.0px,#2b3697 41.0px,#2a3999 46.5px,#2d3394 54.0px,#273e9e 56.0px,#1c64b4 57.5px,#0292d9 58.5px,#00aeef 59.5px,#00aaa0 60.5px,#10aa5a 61.5px,#31b34d 64.0px,#39b54a 65.5px,#96c83c 66.5px,#f0e81e 67.5px,#fae119 68.0px,#faad1b 69.0px,#f47a20 70.0px,#ed4226 71.5px,#e82428 73.0px,#eb3627 74.5px,#f26024 76.0px,#f9a61c 77.5px,#fddf18 78.5px,#f5e51c 79.0px,#d2dd28 79.5px,#68be43 80.5px,#36b44b 82.0px,#2fb24e 82.5px,#44b748 84.0px,#66be43 85.5px,#39b54a 86.0px,#10aa5a 87.0px,#00aaa0 88.0px,#00aeef 89.0px,#009de1 89.5px,#1c64b4 90.5px,#263f9f 92.0px,#2e3192 95.5px,#2e3192 122.0px),linear-gradient(#2e3192 0.0px,#2b3797 41.0px,#2a399a 46.5px,#2d3394 54.0px,#273e9e 56.0px,#1c64b4 57.5px,#0292d9 58.5px,#00aeef 59.5px,#00aaa0 60.5px,#10aa5a 61.5px,#31b34d 64.0px,#39b54a 65.5px,#96c83c 66.5px,#f0e81e 67.5px,#fae119 68.0px,#faad1b 69.0px,#f47a20 70.0px,#ed4226 71.5px,#e82428 73.0px,#eb3627 74.5px,#f26024 76.0px,#f9a61c 77.5px,#fddf18 78.5px,#f5e51c 79.0px,#d2dd28 79.5px,#68be43 80.5px,#36b44b 82.0px,#2fb24e 82.5px,#44b748 84.0px,#67be43 85.5px,#39b54a 86.0px,#10aa5a 87.0px,#00aaa0 88.0px,#00aeef 89.0px,#009de1 89.5px,#1c64b4 90.5px,#263f9f 92.0px,#2e3192 95.5px,#2e3192 122.0px),linear-gradient(#2e3192 0.0px,#2b3797 41.0px,#293b9b 46.0px,#2d3394 54.0px,#273e9e 56.0px,#1c64b4 57.5px,#0292d9 58.5px,#00aeef 59.5px,#00aaa0 60.5px,#10aa5a 61.5px,#31b34d 64.0px,#39b54a 65.5px,#96c83c 66.5px,#f0e81e 67.5px,#fae119 68.0px,#faad1b 69.0px,#f47a20 70.0px,#ed4226 71.5px,#e82428 73.0px,#eb3627 74.5px,#f26024 76.0px,#f9a61c 77.5px,#fddf18 78.5px,#f5e51c 79.0px,#d2dd28 79.5px,#68be43 80.5px,#36b44b 82.0px,#2fb24e 82.5px,#45b748 84.0px,#68bf43 85.5px,#39b54a 86.0px,#10aa5a 87.0px,#00aaa0 88.0px,#00aeef 89.0px,#009de1 89.5px,#1c64b4 90.5px,#263f9f 92.0px,#2e3192 95.5px,#2e3192 122.0px),linear-gradient(#2e3192 0.0px,#2c3696 40.5px,#293b9b 46.0px,#2d3394 54.0px,#273e9e 56.0px,#1c64b4 57.5px,#0292d9 58.5px,#00aeef 59.5px,#00aaa0 60.5px,#10aa5a 61.5px,#31b34d 64.0px,#39b54a 65.5px,#96c83c 66.5px,#f0e81e 67.5px,#fae119 68.0px,#faad1b 69.0px,#f47a20 70.0px,#ed4226 71.5px,#e82428 73.0px,#eb3627 74.5px,#f26024 76.0px,#f9a61c 77.5px,#fddf18 78.5px,#f5e51c 79.0px,#d2dd28 79.5px,#68be43 80.5px,#36b44b 82.0px,#2fb24e 82.5px,#45b848 84.0px,#69bf43 85.5px,#3ab54a 86.0px,#10aa5a 87.0px,#00aaa0 88.0px,#00aeef 89.0px,#009de1 89.5px,#1c64b4 90.5px,#263f9f 92.0px,#2e3192 95.5px,#2e3192 122.0px),linear-gradient(#2e3192 0.0px,#2c3696 40.5px,#293b9b 46.0px,#2d3394 54.0px,#273e9e 56.0px,#1c64b4 57.5px,#0292d9 58.5px,#00aeef 59.5px,#00aaa0 60.5px,#10aa5a 61.5px,#31b34d 64.0px,#39b54a 65.5px,#96c83c 66.5px,#f0e81e 67.5px,#fae119 68.0px,#faad1b 69.0px,#f47a20 70.0px,#ed4226 71.5px,#e82428 73.0px,#eb3627 74.5px,#f26024 76.0px,#f9a61c 77.5px,#fddf18 78.5px,#f5e51c 79.0px,#d2dd28 79.5px,#68be43 80.5px,#36b44b 82.0px,#2fb24e 82.5px,#46b848 84.0px,#6abf43 85.5px,#3bb54a 86.0px,#10aa5a 87.0px,#00aaa0 88.0px,#00aeef 89.0px,#009de1 89.5px,#1c64b4 90.5px,#263f9f 92.0px,#2e3192 95.5px,#2e3192 122.0px),linear-gradient(#2e3192 0.0px,#2b3696 40.5px,#283b9c 46.0px,#2e3192 53.5px,#273e9e 56.0px,#1c64b4 57.5px,#0292d9 58.5px,#00aeef 59.5px,#00aaa0 60.5px,#10aa5a 61.5px,#31b34d 64.0px,#39b54a 65.5px,#96c83c 66.5px,#f0e81e 67.5px,#fae119 68.0px,#faad1b 69.0px,#f47a20 70.0px,#ed4226 71.5px,#e82428 73.0px,#eb3627 74.5px,#f26024 76.0px,#f9a61c 77.5px,#fddf18 78.5px,#f5e51c 79.0px,#d2dd28 79.5px,#68be43 80.5px,#36b44b 82.0px,#2fb24e 82.5px,#46b848 84.0px,#6abf43 85.5px,#3bb54a 86.0px,#10aa5a 87.0px,#00aaa0 88.0px,#00aeef 89.0px,#009de1 89.5px,#1c64b4 90.5px,#263f9f 92.0px,#2e3192 95.5px,#2e3192 122.0px),linear-gradient(#2e3192 0.0px,#2b3697 40.5px,#283c9c 46.0px,#2e3192 53.5px,#273e9e 56.0px,#1c64b4 57.5px,#0292d9 58.5px,#00aeef 59.5px,#00aaa0 60.5px,#10aa5a 61.5px,#31b34d 64.0px,#39b54a 65.5px,#96c83c 66.5px,#f0e81e 67.5px,#fae119 68.0px,#faad1b 69.0px,#f47a20 70.0px,#ed4226 71.5px,#e82428 73.0px,#eb3627 74.5px,#f26024 76.0px,#f9a61c 77.5px,#fddf18 78.5px,#f5e51c 79.0px,#d2dd28 79.5px,#68be43 80.5px,#36b44b 82.0px,#2fb24e 82.5px,#46b848 84.0px,#6bbf42 85.5px,#3cb64a 86.0px,#10aa5a 87.0px,#00aaa0 88.0px,#00aeef 89.0px,#009de1 89.5px,#1c64b4 90.5px,#263f9f 92.0px,#2e3192 95.5px,#2e3192 122.0px),linear-gradient(#2e3192 0.0px,#2b3697 40.5px,#283d9d 45.5px,#2e3192 53.5px,#273e9e 56.0px,#1c64b4 57.5px,#0292d9 58.5px,#00aeef 59.5px,#00aaa0 60.5px,#10aa5a 61.5px,#31b34d 64.0px,#39b54a 65.5px,#96c83c 66.5px,#f0e81e 67.5px,#fae119 68.0px,#faad1b 69.0px,#f47a20 70.0px,#ed4226 71.5px,#e82428 73.0px,#eb3627 74.5px,#f26024 76.0px,#f9a61c 77.5px,#fddf18 78.5px,#f5e51c 79.0px,#d2dd28 79.5px,#68be43 80.5px,#36b44b 82.0px,#2fb24e 82.5px,#47b848 84.0px,#6cbf42 85.5px,#3cb649 86.0px,#10aa5a 87.0px,#00aaa0 88.0px,#00aeef 89.0px,#009de1 89.5px,#1c64b4 90.5px,#263f9f 92.0px,#2e3192 95.5px,#2e3192 122.0px),linear-gradient(#2e3192 0.0px,#2b3697 40.5px,#273d9e 45.5px,#2e3192 53.5px,#273e9e 56.0px,#1c64b4 57.5px,#0292d9 58.5px,#00aeef 59.5px,#00aaa0 60.5px,#10aa5a 61.5px,#31b34d 64.0px,#39b54a 65.5px,#96c83c 66.5px,#f0e81e 67.5px,#fae119 68.0px,#faad1b 69.0px,#f47a20 70.0px,#ed4226 71.5px,#e82428 73.0px,#eb3627 74.5px,#f26024 76.0px,#f9a61c 77.5px,#fddf18 78.5px,#f5e51c 79.0px,#d2dd28 79.5px,#68be43 80.5px,#36b44b 82.0px,#2fb24e 82.5px,#47b848 84.0px,#6dc042 85.5px,#3db649 86.0px,#11aa5a 87.0px,#00aaa0 88.0px,#00aeef 89.0px,#009de1 89.5px,#1c64b4 90.5px,#263f9f 92.0px,#2e3192 95.5px,#2e3192 122.0px),linear-gradient(#2e3192 0.0px,#2b3697 40.5px,#273e9e 45.5px,#2e3192 53.5px,#273e9e 56.0px,#1c64b4 57.5px,#0292d9 58.5px,#00aeef 59.5px,#00aaa0 60.5px,#10aa5a 61.5px,#31b34d 64.0px,#39b54a 65.5px,#96c83c 66.5px,#f0e81e 67.5px,#fae119 68.0px,#faad1b 69.0px,#f47a20 70.0px,#ed4226 71.5px,#e82428 73.0px,#eb3627 74.5px,#f26024 76.0px,#f9a61c 77.5px,#fddf18 78.5px,#f5e51c 79.0px,#d2dd28 79.5px,#68be43 80.5px,#36b44b 82.0px,#2fb24e 82.5px,#48b848 84.0px,#6ec042 85.5px,#3eb649 86.0px,#11aa5a 87.0px,#00aaa0 88.0px,#00aeef 89.0px,#009de1 89.5px,#1c64b4 90.5px,#263f9f 92.0px,#2e3192 95.5px,#2e3192 122.0px),linear-gradient(#2e3192 0.0px,#2b3697 40.5px,#273e9e 45.5px,#2e3192 53.5px,#273e9e 56.0px,#1c64b4 57.5px,#0292d9 58.5px,#00aeef 59.5px,#00aaa0 60.5px,#10aa5a 61.5px,#31b34d 64.0px,#39b54a 65.5px,#96c83c 66.5px,#f0e81e 67.5px,#fae119 68.0px,#faad1b 69.0px,#f47a20 70.0px,#ed4226 71.5px,#e82428 73.0px,#eb3627 74.5px,#f26024 76.0px,#f9a61c 77.5px,#fddf18 78.5px,#f5e51c 79.0px,#d2dd28 79.5px,#68be43 80.5px,#36b44b 82.0px,#2fb24e 82.5px,#48b848 84.0px,#6ec042 85.5px,#3eb649 86.0px,#11aa5a 87.0px,#00aaa0 88.0px,#00aeef 89.0px,#009de1 89.5px,#1c64b4 90.5px,#263f9f 92.0px,#2e3192 95.5px,#2e3192 122.0px),linear-gradient(#2e3192 0.0px,#2b3697 40.5px,#273e9e 45.5px,#2e3192 53.5px,#273e9e 56.0px,#1c64b4 57.5px,#0292d9 58.5px,#00aeef 59.5px,#00aaa0 60.5px,#10aa5a 61.5px,#31b34d 64.0px,#39b54a 65.5px,#96c83c 66.5px,#f0e81e 67.5px,#fae119 68.0px,#faad1b 69.0px,#f47a20 70.0px,#ed4226 71.5px,#e82428 73.0px,#eb3627 74.5px,#f26024 76.0px,#f9a61c 77.5px,#fddf18 78.5px,#f5e51c 79.0px,#d2dd28 79.5px,#68be43 80.5px,#36b44b 82.0px,#2fb24e 82.5px,#48b848 84.0px,#6fc042 85.5px,#3fb649 86.0px,#11aa5a 87.0px,#00aaa0 88.0px,#00aeef 89.0px,#009de1 89.5px,#1c64b4 90.5px,#263f9f 92.0px,#2e3192 95.5px,#2e3192 122.0px),linear-gradient(#2e3192 0.0px,#2b3797 40.5px,#273e9f 45.5px,#2e3192 53.5px,#273e9e 56.0px,#1c64b4 57.5px,#0292d9 58.5px,#00aeef 59.5px,#00aaa0 60.5px,#10aa5a 61.5px,#31b34d 64.0px,#39b54a 65.5px,#96c83c 66.5px,#f0e81e 67.5px,#fae119 68.0px,#faad1b 69.0px,#f47a20 70.0px,#ed4226 71.5px,#e82428 73.0px,#eb3627 74.5px,#f26024 76.0px,#f9a61c 77.5px,#fddf18 78.5px,#f5e51c 79.0px,#d2dd28 79.5px,#68be43 80.5px,#36b44b 82.0px,#2fb24e 82.5px,#49b848 84.0px,#70c042 85.5px,#3fb649 86.0px,#11aa5a 87.0px,#00aaa0 88.0px,#00aeef 89.0px,#009de1 89.5px,#1c64b4 90.5px,#263f9f 92.0px,#2e3192 95.5px,#2e3192 122.0px),linear-gradient(#2e3192 0.0px,#2b3797 40.5px,#2640a0 45.0px,#2e3192 53.0px,#273e9e 56.0px,#1c64b4 57.5px,#0292d9 58.5px,#00aeef 59.5px,#00aaa0 60.5px,#10aa5a 61.5px,#31b34d 64.0px,#39b54a 65.5px,#96c83c 66.5px,#f0e81e 67.5px,#fae119 68.0px,#faad1b 69.0px,#f47a20 70.0px,#ed4226 71.5px,#e82428 73.0px,#eb3627 74.5px,#f26024 76.0px,#f9a61c 77.5px,#fddf18 78.5px,#f5e51c 79.0px,#d2dd28 79.5px,#68be43 80.5px,#36b44b 82.0px,#2fb24e 82.5px,#49b848 84.0px,#71c042 85.5px,#40b649 86.0px,#11aa5a 87.0px,#00aaa0 88.0px,#00aeef 89.0px,#009de1 89.5px,#1c64b4 90.5px,#263f9f 92.0px,#2e3192 95.5px,#2e3192 122.0px),linear-gradient(#2e3192 0.0px,#2c3596 40.0px,#2640a0 45.0px,#2e3192 53.0px,#273e9e 56.0px,#1c64b4 57.5px,#0292d9 58.5px,#00aeef 59.5px,#00aaa0 60.5px,#10aa5a 61.5px,#31b34d 64.0px,#39b54a 65.5px,#96c83c 66.5px,#f0e81e 67.5px,#fae119 68.0px,#faad1b 69.0px,#f47a20 70.0px,#ed4226 71.5px,#e82428 73.0px,#eb3627 74.5px,#f26024 76.0px,#f9a61c 77.5px,#fddf18 78.5px,#f5e51c 79.0px,#d2dd28 79.5px,#68be43 80.5px,#36b44b 82.0px,#2fb24e 82.5px,#4ab848 84.0px,#71c142 85.5px,#40b749 86.0px,#11aa5a 87.0px,#00aaa0 88.0px,#00aeef 89.0px,#009de1 89.5px,#1c64b4 90.5px,#263f9f 92.0px,#2e3192 95.5px,#2e3192 122.0px),linear-gradient(#2e3192 0.0px,#2c3596 40.0px,#2641a1 45.0px,#2e3192 52.5px,#273e9e 56.0px,#1c64b4 57.5px,#0292d9 58.5px,#00aeef 59.5px,#00aaa0 60.5px,#10aa5a 61.5px,#31b34d 64.0px,#39b54a 65.5px,#96c83c 66.5px,#f0e81e 67.5px,#fae119 68.0px,#faad1b 69.0px,#f47a20 70.0px,#ed4226 71.5px,#e82428 73.0px,#eb3627 74.5px,#f26024 76.0px,#f9a61c 77.5px,#fddf18 78.5px,#f5e51c 79.0px,#d2dd28 79.5px,#68be43 80.5px,#36b44b 82.0px,#2fb24e 82.5px,#4ab847 84.0px,#72c141 85.5px,#41b749 86.0px,#11aa5a 87.0px,#00aaa0 88.0px,#00aeef 89.0px,#009de1 89.5px,#1c64b4 90.5px,#263f9f 92.0px,#2e3192 95.5px,#2e3192 122.0px),linear-gradient(#2e3192 0.0px,#2c3596 40.0px,#2542a1 45.0px,#2e3192 52.5px,#273e9e 56.0px,#1c64b4 57.5px,#0292d9 58.5px,#00aeef 59.5px,#00aaa0 60.5px,#10aa5a 61.5px,#31b34d 64.0px,#39b54a 65.5px,#96c83c 66.5px,#f0e81e 67.5px,#fae119 68.0px,#faad1b 69.0px,#f47a20 70.0px,#ed4226 71.5px,#e82428 73.0px,#eb3627 74.5px,#f26024 76.0px,#f9a61c 77.5px,#fddf18 78.5px,#f5e51c 79.0px,#d2dd28 79.5px,#68be43 80.5px,#36b44b 82.0px,#2fb24e 82.5px,#4ab947 84.0px,#73c141 85.5px,#42b749 86.0px,#11aa5a 87.0px,#00aaa0 88.0px,#00aeef 89.0px,#009de1 89.5px,#1c64b4 90.5px,#263f9f 92.0px,#2e3192 95.5px,#2e3192 122.0px),linear-gradient(#2e3192 0.0px,#2c3696 40.0px,#2543a1 45.0px,#2e3192 52.0px,#273e9e 56.0px,#1b66b5 57.5px,#0194da 58.5px,#00aeed 59.5px,#01aa9d 60.5px,#12ab59 61.5px,#34b44c 64.0px,#3eb649 65.5px,#99c93b 66.5px,#f0e81e 67.5px,#fae119 68.0px,#faac1b 69.0px,#f47921 70.0px,#ed3f26 71.5px,#e82528 73.0px,#ec3b26 74.5px,#f36b22 76.0px,#f89d1c 77.0px,#ffde17 78.0px,#e9e520 79.0px,#58bb45 80.5px,#38b54a 81.5px,#29b150 82.5px,#48b848 85.0px,#52ba46 85.5px,#30b34d 86.0px,#0daa67 87.0px,#00acd0 88.5px,#00abed 89.0px,#009be0 89.5px,#1c63b3 90.5px,#273f9f 92.0px,#2e3192 95.5px,#2e3192 122.0px),linear-gradient(#2e3192 0.0px,#2c3696 40.0px,#2543a2 45.0px,#2e3192 52.0px,#2a399a 55.5px,#234aa6 56.5px,#1a68b7 57.5px,#0096dc 58.5px,#00aeea 59.5px,#01aa9a 60.5px,#15ab58 61.5px,#36b44b 63.5px,#44b748 65.5px,#c9da2b 67.0px,#f1e71e 67.5px,#fae119 68.0px,#fdcb19 68.5px,#f68e1e 69.5px,#ec3c26 71.5px,#e82728 73.0px,#ed4226 74.5px,#f47a21 76.0px,#f7931d 76.5px,#ffdd17 77.5px,#eae620 78.5px,#70c042 80.0px,#45b848 80.5px,#29b150 82.0px,#25b052 83.0px,#32b34d 85.5px,#10aa5b 86.5px,#00abb8 88.0px,#00addb 88.5px,#00a8ea 89.0px,#0098de 89.5px,#1d61b3 90.5px,#273f9f 92.0px,#2e3192 95.5px,#2e3192 122.0px),linear-gradient(#2e3192 0.0px,#2b3696 40.0px,#2544a2 45.0px,#2e3192 51.5px,#293a9a 55.5px,#234ca6 56.5px,#1969b8 57.5px,#0097dd 58.5px,#00aee7 59.5px,#0baa71 61.0px,#18ac57 61.5px,#40b649 64.0px,#4bb947 65.5px,#ccdb2a 67.0px,#f1e71d 67.5px,#fbe119 68.0px,#fdcb19 68.5px,#f68c1e 69.5px,#eb3927 71.5px,#e92928 73.0px,#ee4826 74.5px,#f6881f 76.0px,#fed318 77.0px,#f7e31b 77.5px,#ebe620 78.0px,#7cc340 79.5px,#36b44b 80.5px,#1bad56 82.5px,#20ae54 85.5px,#11aa5a 86.0px,#00aaa6 87.5px,#00aee6 88.5px,#00a5e8 89.0px,#0095db 89.5px,#1d60b2 90.5px,#273f9f 92.0px,#2e3192 95.5px,#2e3192 122.0px),linear-gradient(#2e3192 0.0px,#2b3696 40.0px,#2447a4 44.5px,#2e3293 51.0px,#2a3899 55.0px,#2640a0 56.0px,#186bba 57.5px,#0098de 58.5px,#00a5e8 59.0px,#00ade5 59.5px,#0caa6d 61.0px,#1bad56 61.5px,#36b44b 63.0px,#46b848 63.5px,#51ba46 65.5px,#cfdc29 67.0px,#f2e71d 67.5px,#fbe119 68.0px,#fdcb19 68.5px,#f68b1e 69.5px,#eb3627 71.5px,#e92b28 73.0px,#ef5025 74.5px,#f8991d 76.0px,#fcc419 76.5px,#fae119 77.0px,#e9e520 77.5px,#77c241 79.0px,#3ab54a 80.0px,#25b052 81.0px,#11aa59 83.0px,#0faa5f 85.5px,#00abb7 87.5px,#00adee 88.5px,#0390d7 89.5px,#1e5eb1 90.5px,#293a9b 92.5px,#2e3192 96.5px,#2e3192 122.0px),linear-gradient(#2e3192 0.0px,#2b3697 40.0px,#2448a4 44.5px,#2e3293 51.0px,#2a3899 55.0px,#2640a0 56.0px,#176dbb 57.5px,#0099df 58.5px,#00a6e9 59.0px,#00ade2 59.5px,#0daa69 61.0px,#1dae55 61.5px,#3ab54a 63.0px,#4fba47 63.5px,#57bb45 65.5px,#d2dd28 67.0px,#f2e61d 67.5px,#fce019 68.0px,#fdc919 68.5px,#f6891e 69.5px,#ea3227 71.5px,#ea2f27 73.0px,#f25e24 74.5px,#f89c1c 75.5px,#fcc619 76.0px,#f9e21a 76.5px,#dfe224 77.0px,#a6ce37 77.5px,#36b44b 79.0px,#10aa5a 80.5px,#07aa83 82.5px,#05aa8c 85.5px,#00aeef 88.0px,#009adf 89.0px,#1f5aaf 90.5px,#273e9e 92.0px,#2e3192 96.0px,#2e3192 122.0px),linear-gradient(#2e3192 0.0px,#2b3697 40.0px,#2449a5 44.5px,#2e3293 51.0px,#2a3899 55.0px,#2640a0 56.0px,#166fbd 57.5px,#009adf 58.5px,#00a7ea 59.0px,#00ade0 59.5px,#0daa65 61.0px,#20ae54 61.5px,#42b749 63.0px,#58bb45 63.5px,#5dbc45 65.5px,#d5de27 67.0px,#f3e61d 67.5px,#fce018 68.0px,#f47022 70.0px,#ea2f27 71.5px,#eb3427 73.0px,#f36e22 74.5px,#f7911d 75.0px,#fcc119 75.5px,#f9e21a 76.0px,#dde124 76.5px,#62bd44 77.5px,#3bb54a 78.0px,#18ac57 79.0px,#0eaa61 79.5px,#05aa89 80.5px,#00abb2 82.5px,#00abbc 85.5px,#00aee8 87.0px,#00abec 87.5px,#048fd6 89.0px,#1b65b5 90.0px,#2542a1 91.5px,#2e3192 95.5px,#2e3192 122.0px),linear-gradient(#2e3192 0.0px,#2b3697 40.0px,#2349a5 44.5px,#2d3293 50.5px,#2a3899 55.0px,#2640a0 56.0px,#1571bf 57.5px,#009be0 58.5px,#00a8eb 59.0px,#00addd 59.5px,#0eaa61 61.0px,#23af53 61.5px,#37b44b 62.5px,#62bd44 63.5px,#64be44 65.5px,#d8df26 67.0px,#f4e51c 67.5px,#fddf18 68.0px,#f36e22 70.0px,#e92c27 71.5px,#ec3927 73.0px,#f57e20 74.5px,#fde018 75.5px,#e4e422 76.0px,#60bd44 77.0px,#2cb24f 77.5px,#0eaa64 78.5px,#07aa81 79.0px,#00abbb 80.5px,#00ade4 82.5px,#00aaec 86.0px,#0097dd 88.0px,#166fbd 89.5px,#2449a5 91.0px,#2c3596 93.5px,#2e3192 122.0px),linear-gradient(#2e3192 0.0px,#2b3697 40.0px,#234aa6 44.5px,#2d3293 50.5px,#2a3899 55.0px,#2543a1 56.0px,#1276c3 57.5px,#009ee3 58.5px,#00abed 59.0px,#00add3 59.5px,#08aa7e 60.5px,#12aa59 61.0px,#27b051 61.5px,#40b649 62.5px,#6cc042 63.5px,#71c042 65.5px,#dbe125 67.0px,#f5e51c 67.5px,#fedf17 68.0px,#f5821f 69.5px,#e92b28 71.5px,#ed4126 73.0px,#f7921d 74.5px,#fdcf18 75.0px,#f2e71d 75.5px,#6bbf43 76.5px,#30b34d 77.0px,#14ab59 77.5px,#00aaaa 79.0px,#00ade2 80.5px,#00abed 81.5px,#0097dd 87.0px,#1374c1 89.0px,#224da7 90.5px,#2a3899 92.5px,#2e3192 99.0px,#2e3192 122.0px),linear-gradient(#2e3192 0.0px,#2b3697 40.0px,#234ba6 44.5px,#2d3293 50.5px,#2b3798 54.5px,#273e9e 55.5px,#196ab9 57.0px,#0097dd 58.0px,#00a5e8 58.5px,#00aee6 59.0px,#03aa94 60.0px,#0caa6c 60.5px,#1cad55 61.0px,#39b54a 62.0px,#6ec042 63.0px,#78c240 63.5px,#75c141 65.0px,#85c43f 65.5px,#bdd62f 66.5px,#e1e323 67.0px,#f6e41b 67.5px,#ffda17 68.0px,#f7931d 69.0px,#eb3527 71.0px,#ea2f27 71.5px,#ec3b26 72.5px,#f36923 73.5px,#f6871f 74.0px,#f8e31a 75.0px,#c7d92c 75.5px,#39b54a 76.5px,#1aad56 77.0px,#05aa8c 78.0px,#00acc1 79.0px,#00aee6 80.0px,#00acee 80.5px,#009de1 84.0px,#058dd5 87.0px,#1e5baf 89.5px,#263f9f 91.0px,#2e3192 95.5px,#2e3192 122.0px),linear-gradient(#2e3192 0.0px,#2b3697 40.0px,#234ba6 44.5px,#2d3293 50.5px,#2a3899 54.5px,#2640a0 55.5px,#1374c1 57.0px,#009ee2 58.0px,#00abed 58.5px,#00add6 59.0px,#07aa81 60.0px,#10aa5a 60.5px,#27b051 61.0px,#4bb947 62.0px,#85c43f 63.0px,#7ec340 65.0px,#bcd52f 66.5px,#e8e521 67.0px,#f8e31a 67.5px,#fed218 68.0px,#f68c1e 69.0px,#e92d27 71.0px,#ed4026 72.5px,#f89e1c 74.0px,#ffde17 74.5px,#e2e323 75.0px,#92c73d 75.5px,#4cb947 76.0px,#23af53 76.5px,#0baa6f 77.0px,#00acc5 78.5px,#00aee9 79.5px,#0099de 83.0px,#0292d9 85.5px,#1472bf 88.0px,#2641a0 90.5px,#2e3192 95.5px,#2e3192 122.0px),linear-gradient(#2e3192 0.0px,#2b3697 40.0px,#234ba6 44.5px,#2d3393 50.0px,#2a3999 54.5px,#2447a4 55.5px,#1a68b7 56.5px,#0096dc 57.5px,#00a4e7 58.0px,#00aee7 58.5px,#02aa96 59.5px,#0baa6f 60.0px,#1bad56 60.5px,#40b649 61.5px,#7fc340 62.5px,#91c73d 63.0px,#8dc63d 65.0px,#a8ce36 66.0px,#c2d82d 66.5px,#f0e81e 67.0px,#fae119 67.5px,#fdc919 68.0px,#f5841f 69.0px,#ec3b26 70.5px,#ea2f27 71.0px,#ec3d26 72.0px,#ef4d25 72.5px,#f7901e 73.5px,#fcc519 74.0px,#f4e61c 74.5px,#60bd44 75.5px,#2bb14f 76.0px,#0faa60 76.5px,#05aa8b 77.0px,#00addd 78.5px,#00aeed 79.0px,#0292d9 83.0px,#0b83cd 86.0px,#2056ac 89.0px,#273e9e 90.5px,#2e3192 95.5px,#2e3192 122.0px),linear-gradient(#2e3192 0.0px,#2b3697 40.0px,#234ca7 44.5px,#2d3394 50.0px,#2b3898 54.0px,#273f9f 55.0px,#1472bf 56.5px,#009de1 57.5px,#00aaec 58.0px,#00add7 58.5px,#06aa84 59.5px,#0faa5d 60.0px,#36b44b 61.0px,#97c83c 62.5px,#98c93b 63.5px,#92c73d 64.5px,#a3cd38 66.0px,#f2e71d 67.0px,#fde018 67.5px,#f57b20 69.0px,#ea3327 70.5px,#ed4226 72.0px,#f58120 73.0px,#fbe119 74.0px,#ccdb2a 74.5px,#77c241 75.0px,#34b44c 75.5px,#15ab58 76.0px,#06aa86 76.5px,#00ade0 78.0px,#00adee 78.5px,#068cd4 82.0px,#0e7ec9 85.5px,#224ea8 89.0px,#293a9a 91.0px,#2e3192 97.0px,#2e3192 122.0px),linear-gradient(#2e3192 0.0px,#2b3697 40.0px,#234ca7 44.5px,#2d3394 50.0px,#2a3899 54.0px,#2544a2 55.0px,#1b65b5 56.0px,#0194db 57.0px,#00aee9 58.0px,#02aa99 59.0px,#0baa72 59.5px,#19ac56 60.0px,#46b848 61.0px,#8ec63d 62.0px,#aacf35 62.5px,#99c93b 65.5px,#a1cc38 66.0px,#d2de28 66.5px,#f4e51c 67.0px,#ffdc17 67.5px,#f68e1e 68.5px,#ed4226 70.0px,#ea3027 70.5px,#ef4b25 72.0px,#f7981d 73.0px,#fed218 73.5px,#ece71f 74.0px,#97c83c 74.5px,#41b749 75.0px,#1eae55 75.5px,#09aa77 76.0px,#00aaa7 76.5px,#00addf 77.5px,#00aaec 78.0px,#0b82cc 82.0px,#1374c1 85.5px,#283d9d 90.0px,#2e3192 95.5px,#2e3192 122.0px),linear-gradient(#2e3192 0.0px,#2b3697 40.0px,#234da7 44.5px,#2d3394 50.0px,#2a399a 54.0px,#234ba6 55.0px,#166fbd 56.0px,#009be0 57.0px,#00a9eb 57.5px,#00add8 58.0px,#0faa60 59.5px,#37b54b 60.5px,#a7ce36 62.0px,#b4d332 62.5px,#8fc73d 65.5px,#aacf35 66.0px,#dde124 66.5px,#f7e31b 67.0px,#fed218 67.5px,#f5841f 68.5px,#eb3927 70.0px,#eb3427 70.5px,#ed4326 71.5px,#f15d24 72.0px,#f6851f 72.5px,#f7e31b 73.5px,#b7d431 74.0px,#5ebc44 74.5px,#27b051 75.0px,#0daa68 75.5px,#01aa9d 76.0px,#00acc5 76.5px,#00ade0 77.0px,#00a9eb 77.5px,#0789d1 80.0px,#1178c4 82.5px,#1b66b6 86.0px,#273e9e 89.5px,#2e3192 95.5px,#2e3192 122.0px),linear-gradient(#2e3192 0.0px,#2b3697 40.0px,#224da7 44.5px,#2d3394 50.0px,#2a3899 53.5px,#2641a1 54.5px,#1c63b3 55.5px,#0292d9 56.5px,#00aeea 57.5px,#01aa9c 58.5px,#17ac57 59.5px,#4ab847 60.5px,#c2d82d 62.0px,#acd035 64.0px,#7fc33f 65.5px,#e8e521 66.5px,#fae119 67.0px,#fcc619 67.5px,#f89a1c 68.0px,#ee4826 69.5px,#ea3027 70.0px,#ee4826 71.5px,#f8a01c 72.5px,#ffdd17 73.0px,#dbe025 73.5px,#80c33f 74.0px,#2fb24e 74.5px,#10aa5a 75.0px,#00acc7 76.0px,#00ade1 76.5px,#00a9eb 77.0px,#1178c4 80.5px,#1f5aae 86.5px,#283c9c 89.5px,#2e3192 96.0px,#2e3192 122.0px),linear-gradient(#2e3192 0.0px,#2b3697 40.0px,#224da7 44.5px,#2d3494 49.5px,#2b3696 53.0px,#2642a1 54.5px,#1c63b3 55.5px,#0293da 56.5px,#00aee9 57.5px,#01aa9b 58.5px,#0aaa74 59.0px,#18ac57 59.5px,#4cb947 60.5px,#c7da2c 62.0px,#afd134 64.0px,#80c33f 65.5px,#e8e521 66.5px,#fae119 67.0px,#fcc619 67.5px,#f89a1c 68.0px,#ee4826 69.5px,#ea3027 70.0px,#ee4826 71.5px,#f8a01c 72.5px,#ffdd17 73.0px,#dae025 73.5px,#80c33f 74.0px,#2fb24e 74.5px,#10aa5a 75.0px,#00acc7 76.0px,#00ade1 76.5px,#00a9eb 77.0px,#1178c4 80.5px,#1f5aae 86.5px,#283c9c 89.5px,#2e3192 96.0px,#2e3192 122.0px),linear-gradient(#2e3192 0.0px,#2b3697 40.0px,#224ea8 44.5px,#2d3494 49.5px,#2b3696 53.0px,#2642a1 54.5px,#1c63b4 55.5px,#0193da 56.5px,#00aee9 57.5px,#01aa9a 58.5px,#0aaa73 59.0px,#18ac57 59.5px,#4eb947 60.5px,#ccdb2a 62.0px,#b3d232 64.0px,#80c43f 65.5px,#e8e521 66.5px,#fae219 67.0px,#fcc619 67.5px,#f89b1c 68.0px,#ee4726 69.5px,#ea2f27 70.0px,#ee4826 71.5px,#f8a01c 72.5px,#ffdd17 73.0px,#dbe125 73.5px,#80c43f 74.0px,#2fb24e 74.5px,#11aa5a 75.0px,#00acc6 76.0px,#00ade1 76.5px,#00a9eb 77.0px,#0e7dc8 80.0px,#166fbd 82.5px,#1f5aae 86.5px,#283c9c 89.5px,#2e3192 96.0px,#2e3192 122.0px),linear-gradient(#2e3192 0.0px,#2b3797 40.0px,#224ea8 44.5px,#2d3494 49.5px,#2b3697 53.0px,#2542a1 54.5px,#1c64b4 55.5px,#0194da 56.5px,#00aee8 57.5px,#01aa9a 58.5px,#0aaa72 59.0px,#19ac57 59.5px,#50ba47 60.5px,#d1dd28 62.0px,#b6d331 64.0px,#81c43f 65.5px,#e8e521 66.5px,#f9e21a 67.0px,#fcc719 67.5px,#f89b1c 68.0px,#ee4726 69.5px,#ea2f27 70.0px,#ee4826 71.5px,#f89f1c 72.5px,#ffdc17 73.0px,#dce125 73.5px,#81c43f 74.0px,#30b34e 74.5px,#11aa5a 75.0px,#00acc6 76.0px,#00ade1 76.5px,#00a9eb 77.0px,#0e7dc8 80.0px,#166fbd 82.5px,#1f5aae 86.5px,#283c9c 89.5px,#2e3192 96.0px,#2e3192 122.0px),linear-gradient(#2e3192 0.0px,#2b3797 40.0px,#224fa8 44.5px,#2d3494 49.5px,#2b3697 53.0px,#2542a1 54.5px,#1c64b4 55.5px,#0194db 56.5px,#00a3e6 57.0px,#00aee7 57.5px,#02aa99 58.5px,#0baa72 59.0px,#19ac56 59.5px,#30b34d 60.0px,#51ba46 60.5px,#d5de27 62.0px,#b9d430 64.0px,#82c43f 65.5px,#e7e521 66.5px,#f9e21a 67.0px,#fdc719 67.5px,#f89b1c 68.0px,#ee4726 69.5px,#ea2e27 70.0px,#ee4826 71.5px,#f89f1c 72.5px,#ffdc17 73.0px,#dde124 73.5px,#82c43f 74.0px,#30b34d 74.5px,#11aa59 75.0px,#00acc5 76.0px,#00ade0 76.5px,#00a9eb 77.0px,#0e7dc8 80.0px,#166fbd 82.5px,#1f5aae 86.5px,#283c9c 89.5px,#2e3192 96.0px,#2e3192 122.0px),linear-gradient(#2e3192 0.0px,#2b3797 40.0px,#224fa8 44.5px,#2c3596 49.0px,#2b3697 53.0px,#2542a1 54.5px,#1c64b4 55.5px,#0195db 56.5px,#00a3e7 57.0px,#00aee7 57.5px,#02aa99 58.5px,#0baa71 59.0px,#19ad56 59.5px,#30b34d 60.0px,#53ba46 60.5px,#dae025 62.0px,#bcd52f 64.0px,#83c43f 65.5px,#e7e521 66.5px,#f9e21a 67.0px,#fdc719 67.5px,#f89b1c 68.0px,#f25f24 69.0px,#ea2e27 70.0px,#ee4826 71.5px,#f89e1c 72.5px,#ffdb17 73.0px,#dde124 73.5px,#83c43f 74.0px,#30b34d 74.5px,#12aa59 75.0px,#00acc4 76.0px,#00ade0 76.5px,#00a9eb 77.0px,#0e7dc8 80.0px,#166fbd 82.5px,#1f5aae 86.5px,#283c9c 89.5px,#2e3192 96.0px,#2e3192 122.0px),linear-gradient(#2e3192 0.0px,#2b3797 40.0px,#224fa9 44.5px,#2c3596 49.0px,#2b3697 53.0px,#2543a1 54.5px,#1c65b5 55.5px,#0095db 56.5px,#00a4e7 57.0px,#00aee6 57.5px,#02aa98 58.5px,#0baa71 59.0px,#1aad56 59.5px,#31b34d 60.0px,#55bb46 60.5px,#dee224 62.0px,#bfd62e 64.0px,#83c43f 65.5px,#e7e521 66.5px,#f9e21a 67.0px,#fdc819 67.5px,#f89b1c 68.0px,#f25f24 69.0px,#ea2e27 70.0px,#ee4826 71.5px,#f89e1c 72.5px,#ffda17 73.0px,#dee224 73.5px,#83c43f 74.0px,#31b34d 74.5px,#12ab59 75.0px,#00acc4 76.0px,#00addf 76.5px,#00a9eb 77.0px,#0e7dc8 80.0px,#166fbd 82.5px,#1f5aae 86.5px,#283c9c 89.5px,#2e3192 96.0px,#2e3192 122.0px),linear-gradient(#2e3192 0.0px,#2b3797 40.0px,#2250a9 44.5px,#2c3596 49.0px,#2b3697 53.0px,#2543a2 54.5px,#1b65b5 55.5px,#0096dc 56.5px,#00a4e7 57.0px,#00aee5 57.5px,#02aa98 58.5px,#0baa70 59.0px,#1aad56 59.5px,#31b34d 60.0px,#86c53e 61.0px,#e3e322 62.0px,#c2d82d 64.0px,#84c43f 65.5px,#e7e521 66.5px,#f9e21a 67.0px,#fdc819 67.5px,#f89c1c 68.0px,#f25f24 69.0px,#ea2d27 70.0px,#ee4826 71.5px,#f89d1c 72.5px,#ffda17 73.0px,#dfe224 73.5px,#84c43f 74.0px,#31b34d 74.5px,#12ab59 75.0px,#00acc3 76.0px,#00addf 76.5px,#00a9eb 77.0px,#0e7dc8 80.0px,#166fbd 82.5px,#1f5aae 86.5px,#283c9c 89.5px,#2e3192 96.0px,#2e3192 122.0px),linear-gradient(#2e3192 0.0px,#2c3596 39.5px,#234ba6 43.0px,#224ea8 45.0px,#2b3697 48.5px,#2b3697 53.0px,#2543a2 54.5px,#1b66b5 55.5px,#0096dc 56.5px,#00a4e7 57.0px,#00ade5 57.5px,#02aa97 58.5px,#0baa70 59.0px,#1aad56 59.5px,#32b34d 60.0px,#89c53e 61.0px,#e7e521 62.0px,#c5d92c 64.0px,#85c53f 65.5px,#e6e521 66.5px,#f9e21a 67.0px,#fdc919 67.5px,#f89c1c 68.0px,#f25f24 69.0px,#e92d27 70.0px,#ee4826 71.5px,#f89d1c 72.5px,#fed917 73.0px,#e0e223 73.5px,#85c53f 74.0px,#32b34d 74.5px,#13ab59 75.0px,#00acc2 76.0px,#00adde 76.5px,#00a9eb 77.0px,#0e7dc8 80.0px,#166fbd 82.5px,#1f5aae 86.5px,#283c9c 89.5px,#2e3192 96.0px,#2e3192 122.0px),linear-gradient(#2e3192 0.0px,#2c3596 39.5px,#2446a3 42.5px,#2151a9 44.5px,#2c3596 49.0px,#2b3697 53.0px,#2543a2 54.5px,#1b66b6 55.5px,#0096dc 56.5px,#00a4e7 57.0px,#00ade4 57.5px,#02aa96 58.5px,#0baa6f 59.0px,#1bad56 59.5px,#32b34d 60.0px,#8cc63e 61.0px,#ece71f 62.0px,#c8da2b 64.0px,#86c53e 65.5px,#e6e521 66.5px,#f8e21a 67.0px,#fdc919 67.5px,#f89c1c 68.0px,#f25f24 69.0px,#e92c27 70.0px,#ee4826 71.5px,#f89d1c 72.5px,#fed817 73.0px,#e0e223 73.5px,#86c53e 74.0px,#32b34d 74.5px,#13ab59 75.0px,#00acc2 76.0px,#00adde 76.5px,#00a9eb 77.0px,#0e7dc8 80.0px,#166fbd 82.5px,#1f5aae 86.5px,#283c9c 89.5px,#2e3192 96.0px,#2e3192 122.0px),linear-gradient(#2e3192 0.0px,#2c3596 39.5px,#2446a3 42.5px,#2151aa 44.5px,#2b3697 48.5px,#2b3697 53.0px,#2543a2 54.5px,#1b66b6 55.5px,#0097dd 56.5px,#00a5e8 57.0px,#00ade3 57.5px,#02aa96 58.5px,#0baa6e 59.0px,#1bad56 59.5px,#32b34d 60.0px,#8ec63d 61.0px,#f0e81e 62.0px,#cbdb2a 64.0px,#87c53e 65.5px,#e6e421 66.5px,#f8e21a 67.0px,#fdc919 67.5px,#f89c1c 68.0px,#f25f24 69.0px,#e92c27 70.0px,#ee4826 71.5px,#f89c1c 72.5px,#fed818 73.0px,#e1e323 73.5px,#87c53e 74.0px,#32b34d 74.5px,#13ab59 75.0px,#00acc1 76.0px,#00addd 76.5px,#00aaeb 77.0px,#0e7dc8 80.0px,#166fbd 82.5px,#1f5aae 86.5px,#283c9c 89.5px,#2e3192 96.0px,#2e3192 122.0px),linear-gradient(#2e3192 0.0px,#2c3596 39.5px,#2447a4 42.5px,#2152aa 44.5px,#2b3697 48.5px,#2b3697 53.0px,#2544a2 54.5px,#1a67b6 55.5px,#0097dd 56.5px,#00a5e8 57.0px,#00ade3 57.5px,#02aa95 58.5px,#0baa6e 59.0px,#1bad56 59.5px,#33b34d 60.0px,#91c73d 61.0px,#f1e71d 62.0px,#cedc29 64.0px,#87c53e 65.5px,#e6e421 66.5px,#f8e31a 67.0px,#fdca19 67.5px,#f89c1c 68.0px,#f25f24 69.0px,#e92c27 70.0px,#ee4826 71.5px,#f89c1c 72.5px,#fed718 73.0px,#e2e323 73.5px,#87c53e 74.0px,#33b34d 74.5px,#14ab59 75.0px,#00acc0 76.0px,#00addd 76.5px,#00aaec 77.0px,#0e7dc8 80.0px,#166fbd 82.5px,#1f5aae 86.5px,#283c9c 89.5px,#2e3192 96.0px,#2e3192 122.0px),linear-gradient(#2e3192 0.0px,#2c3596 39.5px,#2447a4 42.5px,#2152aa 44.5px,#2b3797 48.5px,#2b3697 53.0px,#2544a2 54.5px,#1a67b7 55.5px,#0097dd 56.5px,#00a5e8 57.0px,#00ade2 57.5px,#03aa95 58.5px,#0caa6d 59.0px,#1cad55 59.5px,#33b34c 60.0px,#94c83c 61.0px,#f2e71d 62.0px,#dbe125 63.5px,#d1dd28 64.0px,#88c53e 65.5px,#e5e422 66.5px,#f8e31a 67.0px,#fdca19 67.5px,#f89d1c 68.0px,#f25e24 69.0px,#e92b28 70.0px,#ee4826 71.5px,#f89b1c 72.5px,#fed718 73.0px,#e3e322 73.5px,#88c53e 74.0px,#33b34c 74.5px,#14ab58 75.0px,#00acc0 76.0px,#00addd 76.5px,#00aaec 77.0px,#0e7dc8 80.0px,#166fbd 82.5px,#1f5aae 86.5px,#283c9c 89.5px,#2e3192 96.0px,#2e3192 122.0px),linear-gradient(#2e3192 0.0px,#2c3596 39.5px,#2447a4 42.5px,#2152aa 44.5px,#2b3797 48.5px,#2d3495 52.5px,#2544a2 54.5px,#1a68b7 55.5px,#0097dd 56.5px,#00a5e8 57.0px,#00ade1 57.5px,#03aa94 58.5px,#0caa6d 59.0px,#1cad55 59.5px,#33b34c 60.0px,#97c83c 61.0px,#cadb2b 61.5px,#f3e61d 62.0px,#dee224 63.5px,#d4de27 64.0px,#89c53e 65.5px,#e5e422 66.5px,#f8e31a 67.0px,#fdcb19 67.5px,#f89d1c 68.0px,#f25e24 69.0px,#e92b28 70.0px,#ee4826 71.5px,#f89b1c 72.5px,#fed618 73.0px,#e3e322 73.5px,#89c53e 74.0px,#33b34c 74.5px,#14ab58 75.0px,#00acbf 76.0px,#00addc 76.5px,#00aaec 77.0px,#0e7dc8 80.0px,#166fbd 82.5px,#1f5aae 86.5px,#283c9c 89.5px,#2e3192 96.0px,#2e3192 122.0px),linear-gradient(#2e3192 0.0px,#2c3596 39.5px,#2448a4 42.5px,#2153aa 44.5px,#2b3797 48.5px,#2d3495 52.5px,#2544a2 54.5px,#1a68b7 55.5px,#0098dd 56.5px,#00a6e8 57.0px,#00ade1 57.5px,#03aa93 58.5px,#0caa6c 59.0px,#1dad55 59.5px,#34b44c 60.0px,#99c93b 61.0px,#cedc29 61.5px,#f4e51c 62.0px,#e2e323 63.5px,#d7df26 64.0px,#8ac53e 65.5px,#e5e422 66.5px,#f8e31a 67.0px,#fdcb19 67.5px,#f89d1c 68.0px,#f25e24 69.0px,#e92a28 70.0px,#ee4826 71.5px,#f89b1c 72.5px,#fed518 73.0px,#e4e422 73.5px,#8ac53e 74.0px,#34b44c 74.5px,#15ab58 75.0px,#00acbe 76.0px,#00addc 76.5px,#00aaec 77.0px,#0e7dc8 80.0px,#166fbd 82.5px,#1f5aae 86.5px,#283c9c 89.5px,#2e3192 96.0px,#2e3192 122.0px),linear-gradient(#2e3192 0.0px,#2c3596 39.5px,#2448a4 42.5px,#2153ab 44.5px,#2b3797 48.5px,#2d3495 52.5px,#283b9c 54.0px,#2056ac 55.0px,#0c81cb 56.0px,#0098de 56.5px,#00a6e9 57.0px,#00ade0 57.5px,#0caa6b 59.0px,#1dad55 59.5px,#34b44c 60.0px,#9cca3a 61.0px,#d2dd28 61.5px,#f5e51c 62.0px,#f0e81e 63.0px,#dae025 64.0px,#8ac63e 65.5px,#e5e422 66.5px,#f7e31b 67.0px,#fdcc18 67.5px,#f89d1c 68.0px,#f25e24 69.0px,#e92a28 70.0px,#ee4826 71.5px,#f89a1d 72.5px,#fed518 73.0px,#e5e422 73.5px,#8ac63e 74.0px,#34b44c 74.5px,#15ab58 75.0px,#06aa86 75.5px,#00abbe 76.0px,#00addb 76.5px,#00aaec 77.0px,#0e7dc8 80.0px,#166fbd 82.5px,#1f5aae 86.5px,#283c9c 89.5px,#2e3192 96.0px,#2e3192 122.0px),linear-gradient(#2e3192 0.0px,#2c3596 39.5px,#2448a5 42.5px,#2154ab 44.5px,#2b3797 48.5px,#2d3495 52.5px,#283b9c 54.0px,#2056ac 55.0px,#0098de 56.5px,#00a6e9 57.0px,#00addf 57.5px,#0caa6b 59.0px,#1dae55 59.5px,#34b44c 60.0px,#9fcb39 61.0px,#d5de27 61.5px,#f6e41b 62.0px,#e9e520 63.5px,#dde124 64.0px,#8bc63e 65.5px,#e4e422 66.5px,#f7e31b 67.0px,#fdcc18 67.5px,#f89d1c 68.0px,#f25e24 69.0px,#e92a28 70.0px,#ee4826 71.5px,#f89a1d 72.5px,#fed418 73.0px,#e6e421 73.5px,#8bc63e 74.0px,#34b44c 74.5px,#16ab58 75.0px,#06aa85 75.5px,#00abbd 76.0px,#00addb 76.5px,#00aaec 77.0px,#0e7dc8 80.0px,#166fbd 82.5px,#1f5aae 86.5px,#283c9c 89.5px,#2e3192 96.0px,#2e3192 122.0px),linear-gradient(#2e3192 0.0px,#2c3596 39.5px,#2449a5 42.5px,#2054ab 44.5px,#2b3797 48.5px,#2d3495 52.5px,#283b9c 54.0px,#2056ac 55.0px,#0099de 56.5px,#00a7e9 57.0px,#00addf 57.5px,#0caa6a 59.0px,#1eae55 59.5px,#35b44c 60.0px,#a1cc38 61.0px,#d9e026 61.5px,#f7e31b 62.0px,#ece71f 63.5px,#e0e223 64.0px,#8cc63d 65.5px,#e4e422 66.5px,#f7e31b 67.0px,#fdcc18 67.5px,#f89e1c 68.0px,#f25e24 69.0px,#e92928 70.0px,#ee4826 71.5px,#f8991d 72.5px,#fed318 73.0px,#e6e521 73.5px,#8cc63d 74.0px,#35b44c 74.5px,#16ac58 75.0px,#06aa84 75.5px,#00abbc 76.0px,#00adda 76.5px,#00aaec 77.0px,#0e7dc8 80.0px,#166fbd 82.5px,#1f5aae 86.5px,#283c9c 89.5px,#2e3192 96.0px,#2e3192 122.0px),linear-gradient(#2e3192 0.0px,#2c3596 39.5px,#2449a5 42.5px,#2054ab 44.5px,#2b3797 48.5px,#2d3495 52.5px,#283c9c 54.0px,#2057ad 55.0px,#0099de 56.5px,#00a7e9 57.0px,#00adde 57.5px,#0caa6a 59.0px,#1eae55 59.5px,#35b44c 60.0px,#a4cd37 61.0px,#dce125 61.5px,#f8e31a 62.0px,#efe81e 63.5px,#e3e322 64.0px,#8dc63d 65.5px,#e4e422 66.5px,#f7e31b 67.0px,#fdcd18 67.5px,#f89e1c 68.0px,#f25e24 69.0px,#e92928 70.0px,#ee4826 71.5px,#f8991d 72.5px,#fed318 73.0px,#e7e521 73.5px,#8dc63d 74.0px,#35b44c 74.5px,#16ac58 75.0px,#06aa84 75.5px,#00abbc 76.0px,#00adda 76.5px,#00aaec 77.0px,#0e7dc8 80.0px,#166fbd 82.5px,#1f5aae 86.5px,#283c9c 89.5px,#2e3192 96.0px,#2e3192 122.0px),linear-gradient(#2e3192 0.0px,#2c3596 39.5px,#2349a5 42.5px,#2055ac 44.5px,#2b3797 48.5px,#2d3495 52.5px,#283c9c 54.0px,#2057ad 55.0px,#0099de 56.5px,#00a7ea 57.0px,#00addd 57.5px,#0daa69 59.0px,#1eae54 59.5px,#35b44b 60.0px,#a7ce36 61.0px,#e0e223 61.5px,#f9e21a 62.0px,#f1e81e 63.5px,#e6e421 64.0px,#8ec63d 65.5px,#e4e422 66.5px,#f7e31b 67.0px,#fdcd18 67.5px,#f89e1c 68.0px,#f25d24 69.0px,#e92828 70.0px,#ee4826 71.5px,#f7981d 72.5px,#fed218 73.0px,#e8e521 73.5px,#8ec63d 74.0px,#35b44b 74.5px,#17ac57 75.0px,#07aa83 75.5px,#00abbb 76.0px,#00add9 76.5px,#00aaec 77.0px,#0e7dc8 80.0px,#166fbd 82.5px,#1f5aae 86.5px,#283c9c 89.5px,#2e3192 96.0px,#2e3192 122.0px),linear-gradient(#2e3192 0.0px,#2c3596 39.5px,#234aa5 42.5px,#2055ac 44.5px,#2b3797 48.5px,#2d3495 52.5px,#283c9c 54.0px,#2057ad 55.0px,#0099df 56.5px,#00a7ea 57.0px,#00addd 57.5px,#0daa68 59.0px,#1fae54 59.5px,#36b44b 60.0px,#a9cf36 61.0px,#e4e422 61.5px,#fae119 62.0px,#e9e620 64.0px,#8ec63d 65.5px,#e3e422 66.5px,#f7e41b 67.0px,#fdce18 67.5px,#f89e1c 68.0px,#f25d24 69.0px,#e92828 70.0px,#ee4826 71.5px,#f7981d 72.5px,#fed218 73.0px,#e9e520 73.5px,#8ec63d 74.0px,#36b44b 74.5px,#17ac57 75.0px,#07aa83 75.5px,#00abba 76.0px,#00add9 76.5px,#00aaec 77.0px,#0e7dc8 80.0px,#166fbd 82.5px,#1f5aae 86.5px,#283c9c 89.5px,#2e3192 96.0px,#2e3192 122.0px),linear-gradient(#2e3192 0.0px,#2c3596 39.5px,#234aa6 42.5px,#2056ac 44.5px,#2b3797 48.5px,#2c3495 52.5px,#283c9c 54.0px,#1f57ad 55.0px,#009adf 56.5px,#00a8ea 57.0px,#00addc 57.5px,#0daa68 59.0px,#1fae54 59.5px,#36b44b 60.0px,#acd035 61.0px,#e7e521 61.5px,#fbe119 62.0px,#ece71f 64.0px,#8fc73d 65.5px,#e3e322 66.5px,#f6e41b 67.0px,#fdce18 67.5px,#f89f1c 68.0px,#f25d24 69.0px,#e92828 70.0px,#ee4826 71.5px,#f7981d 72.5px,#fed118 73.0px,#e9e620 73.5px,#8fc73d 74.0px,#36b44b 74.5px,#17ac57 75.0px,#07aa82 75.5px,#00abba 76.0px,#00add9 76.5px,#00abec 77.0px,#0e7dc8 80.0px,#166fbd 82.5px,#1f5aae 86.5px,#283c9c 89.5px,#2e3192 96.0px,#2e3192 122.0px),linear-gradient(#2e3192 0.0px,#2c3696 39.5px,#234aa6 42.5px,#2056ac 44.5px,#2b3798 48.5px,#2c3495 52.5px,#283c9c 54.0px,#1f58ad 55.0px,#009adf 56.5px,#00a8ea 57.0px,#00addb 57.5px,#0daa67 59.0px,#1fae54 59.5px,#36b44b 60.0px,#afd134 61.0px,#ebe620 61.5px,#fce018 62.0px,#efe81e 64.0px,#90c73d 65.5px,#e3e322 66.5px,#f6e41b 67.0px,#fdce18 67.5px,#f89f1c 68.0px,#f25d24 69.0px,#e92728 70.0px,#ee4826 71.5px,#f7971d 72.5px,#fed018 73.0px,#eae620 73.5px,#90c73d 74.0px,#36b44b 74.5px,#18ac57 75.0px,#07aa82 75.5px,#00abb9 76.0px,#00add8 76.5px,#00abec 77.0px,#0b82cc 79.5px,#1571be 81.5px,#1d5fb1 86.0px,#283c9c 89.5px,#2e3192 96.0px,#2e3192 122.0px),linear-gradient(#2e3192 0.0px,#2c3696 39.5px,#234ba6 42.5px,#2057ad 44.5px,#2b3798 48.5px,#2c3495 52.5px,#283c9c 54.0px,#1f58ad 55.0px,#009adf 56.5px,#00a8ea 57.0px,#00addb 57.5px,#0daa67 59.0px,#37b44b 60.0px,#b1d233 61.0px,#eee71f 61.5px,#fddf18 62.0px,#f0e81e 64.0px,#91c73d 65.5px,#e3e322 66.5px,#f6e41b 67.0px,#fdcf18 67.5px,#f89f1c 68.0px,#f15d24 69.0px,#e82728 70.0px,#ee4826 71.5px,#f7971d 72.5px,#fdd018 73.0px,#ebe620 73.5px,#91c73d 74.0px,#37b44b 74.5px,#18ac57 75.0px,#07aa81 75.5px,#00abb8 76.0px,#00add8 76.5px,#00abec 77.0px,#0b82cc 79.5px,#1571be 81.5px,#1d5fb1 86.0px,#283c9c 89.5px,#2e3192 96.0px,#2e3192 122.0px),linear-gradient(#2e3192 0.0px,#2c3696 39.5px,#2544a2 42.0px,#2057ad 44.0px,#234aa5 46.0px,#2c3596 49.0px,#2b3797 53.0px,#283c9c 54.0px,#1f58ad 55.0px,#009ae0 56.5px,#00a8eb 57.0px,#00adda 57.5px,#0daa66 59.0px,#37b44b 60.0px,#b4d332 61.0px,#f0e81e 61.5px,#fedf17 62.0px,#f1e71d 64.0px,#92c73d 65.5px,#e2e323 66.5px,#f6e41b 67.0px,#fdcf18 67.5px,#f89f1c 68.0px,#f15d24 69.0px,#e82628 70.0px,#ee4826 71.5px,#f7961d 72.5px,#fdcf18 73.0px,#ece61f 73.5px,#92c73d 74.0px,#37b44b 74.5px,#18ac57 75.0px,#07aa80 75.5px,#00abb8 76.0px,#00add7 76.5px,#00abec 77.0px,#0b82cc 79.5px,#1571be 81.5px,#1d5fb1 86.0px,#283c9c 89.5px,#2e3192 96.0px,#2e3192 122.0px),linear-gradient(#2e3192 0.0px,#2c3696 39.5px,#2544a2 42.0px,#1f58ad 44.0px,#234aa6 46.0px,#2c3596 49.0px,#2b3797 53.0px,#283c9c 54.0px,#1f59ae 55.0px,#009be0 56.5px,#00a9eb 57.0px,#00add9 57.5px,#0daa66 59.0px,#37b54b 60.0px,#b7d431 61.0px,#f1e71d 61.5px,#ffdd17 62.0px,#f2e71d 64.0px,#92c73d 65.5px,#e2e323 66.5px,#f6e41b 67.0px,#fdd018 67.5px,#f89f1c 68.0px,#f15d24 69.0px,#e82628 70.0px,#ee4826 71.5px,#f7961d 72.5px,#fdce18 73.0px,#ece71f 73.5px,#92c73d 74.0px,#37b54b 74.5px,#19ac57 75.0px,#07aa80 75.5px,#00abb7 76.0px,#00add7 76.5px,#00abed 77.0px,#0b82cc 79.5px,#1571be 81.5px,#1d5fb1 86.0px,#283c9c 89.5px,#2e3192 96.0px,#2e3192 122.0px),linear-gradient(#2e3192 0.0px,#2c3696 39.5px,#2545a3 42.0px,#1f58ad 44.0px,#234aa6 46.0px,#2c3596 49.0px,#2c3495 52.5px,#283c9c 54.0px,#1f59ae 55.0px,#009be0 56.5px,#00a9eb 57.0px,#00add9 57.5px,#0eaa65 59.0px,#38b54a 60.0px,#b9d530 61.0px,#f2e71d 61.5px,#fed917 62.0px,#f3e61d 64.0px,#b6d331 65.0px,#93c73c 65.5px,#e2e323 66.5px,#f6e41b 67.0px,#fed018 67.5px,#f8a01c 68.0px,#f15c24 69.0px,#e82528 70.0px,#ee4826 71.5px,#f7961d 72.5px,#fdce18 73.0px,#ede71f 73.5px,#93c73c 74.0px,#38b54a 74.5px,#19ac56 75.0px,#08aa7f 75.5px,#00abb6 76.0px,#00abed 77.0px,#0b82cc 79.5px,#1571be 81.5px,#1d5fb1 86.0px,#283c9c 89.5px,#2e3192 96.0px,#2e3192 122.0px),linear-gradient(#2e3192 0.0px,#2c3696 39.5px,#2545a3 42.0px,#1f58ae 44.0px,#234ba6 46.0px,#2b3798 48.5px,#2c3495 52.5px,#283c9c 54.0px,#1f59ae 55.0px,#009be0 56.5px,#00a9eb 57.0px,#00add8 57.5px,#0eaa64 59.0px,#38b54a 60.0px,#bcd52f 61.0px,#f3e61d 61.5px,#fed618 62.0px,#f7e41b 63.5px,#f3e61d 64.0px,#dbe025 64.5px,#94c83c 65.5px,#e2e323 66.5px,#f5e41b 67.0px,#fed118 67.5px,#f8a01c 68.0px,#f15c24 69.0px,#e82528 70.0px,#ee4826 71.5px,#f7951d 72.5px,#fdcd18 73.0px,#eee71f 73.5px,#94c83c 74.0px,#38b54a 74.5px,#19ac56 75.0px,#08aa7f 75.5px,#00abb6 76.0px,#00abed 77.0px,#0b82cc 79.5px,#1571be 81.5px,#1d5fb1 86.0px,#283c9c 89.5px,#2e3192 96.0px,#2e3192 122.0px),linear-gradient(#2e3192 0.0px,#2b3696 39.5px,#2545a3 42.0px,#1f59ae 44.0px,#234ba6 46.0px,#2b3798 48.5px,#2c3495 52.5px,#283c9c 54.0px,#1f59ae 55.0px,#009ce0 56.5px,#00aaeb 57.0px,#00add7 57.5px,#0eaa64 59.0px,#38b54a 60.0px,#bed62f 61.0px,#f4e61c 61.5px,#fed218 62.0px,#fbe119 63.0px,#f4e51c 64.0px,#dde124 64.5px,#95c83c 65.5px,#e1e323 66.5px,#f5e41c 67.0px,#fed118 67.5px,#f8a01c 68.0px,#f15c24 69.0px,#e82528 70.0px,#ee4826 71.5px,#f7951d 72.5px,#fdcd18 73.0px,#efe81e 73.5px,#95c83c 74.0px,#38b54a 74.5px,#1aad56 75.0px,#08aa7e 75.5px,#00abb5 76.0px,#00abed 77.0px,#0888d1 79.0px,#1571be 81.5px,#1d5fb1 86.0px,#283c9c 89.5px,#2e3192 96.0px,#2e3192 122.0px),linear-gradient(#2e3192 0.0px,#2b3696 39.5px,#2545a3 42.0px,#1f59ae 44.0px,#234ba6 46.0px,#2b3798 48.5px,#2c3495 52.5px,#283c9c 54.0px,#1f5aae 55.0px,#009ce1 56.5px,#00aaec 57.0px,#00add7 57.5px,#0eaa63 59.0px,#39b54a 60.0px,#c1d72e 61.0px,#f4e51c 61.5px,#fdce18 62.0px,#fce018 63.0px,#f5e51c 64.0px,#dfe224 64.5px,#95c83c 65.5px,#e1e323 66.5px,#f5e51c 67.0px,#fed118 67.5px,#f8a01c 68.0px,#f15c24 69.0px,#e82428 70.0px,#ee4826 71.5px,#f7941d 72.5px,#fdcc18 73.0px,#efe81e 73.5px,#95c83c 74.0px,#39b54a 74.5px,#1aad56 75.0px,#08aa7d 75.5px,#00abb4 76.0px,#00abed 77.0px,#0888d1 79.0px,#1571be 81.5px,#1d5fb1 86.0px,#283c9c 89.5px,#2e3192 96.0px,#2e3192 122.0px),linear-gradient(#2e3192 0.0px,#2b3696 39.5px,#2446a3 42.0px,#1f5aae 44.0px,#234ba6 46.0px,#2b3798 48.5px,#2c3495 52.5px,#283c9d 54.0px,#1f5aae 55.0px,#009ce1 56.5px,#00aaec 57.0px,#00add6 57.5px,#0eaa63 59.0px,#39b54a 60.0px,#c3d82d 61.0px,#f5e51c 61.5px,#fdcb19 62.0px,#fde018 63.0px,#f5e51c 64.0px,#e1e323 64.5px,#96c83c 65.5px,#e1e323 66.5px,#f5e51c 67.0px,#fed218 67.5px,#f8a01c 68.0px,#f15c24 69.0px,#e82428 70.0px,#ee4826 71.5px,#f7941d 72.5px,#fdcb19 73.0px,#f0e81e 73.5px,#96c83c 74.0px,#39b54a 74.5px,#1aad56 75.0px,#08aa7d 75.5px,#00abb4 76.0px,#00abed 77.0px,#0888d1 79.0px,#1571be 81.5px,#1d5fb1 86.0px,#283c9c 89.5px,#2e3192 96.0px,#2e3192 122.0px);background-position:0.0px 0,2.0px 0,4.0px 0,6.0px 0,8.0px 0,10.0px 0,12.0px 0,14.0px 0,16.0px 0,18.0px 0,20.0px 0,22.0px 0,24.0px 0,26.0px 0,28.0px 0,30.0px 0,32.0px 0,34.0px 0,36.0px 0,38.0px 0,40.0px 0,42.0px 0,44.0px 0,46.0px 0,48.0px 0,50.0px 0,52.0px 0,54.0px 0,56.0px 0,58.0px 0,60.0px 0,62.0px 0,64.0px 0,66.0px 0,68.0px 0,70.0px 0,72.0px 0,74.0px 0,76.0px 0,78.0px 0,80.0px 0,82.0px 0,84.0px 0,86.0px 0,88.0px 0,90.0px 0,92.0px 0,94.0px 0,96.0px 0,98.0px 0,100.0px 0,102.0px 0,104.0px 0,106.0px 0,108.0px 0,110.0px 0,112.0px 0,114.0px 0,116.0px 0,118.0px 0,120.0px 0,122.0px 0,124.0px 0,126.0px 0,128.0px 0,130.0px 0,132.0px 0,134.0px 0,136.0px 0,138.0px 0,140.0px 0,142.0px 0,144.0px 0,146.0px 0,148.0px 0;background-size:2.3px 122.3px;background-repeat:no-repeat;background-color:#2e3192;"></div><div style="position:absolute;left:394.2px;top:90.1px;width:147.7px;height:121.9px;background-image:linear-gradient(#2e3192 0.0px,#2c3596 52.0px,#273f9f 53.5px,#1079c5 55.5px,#009adf 56.5px,#00aeeb 59.0px,#00abb8 61.5px,#0daa66 63.0px,#2bb14f 64.0px,#45b848 64.5px,#c0d72e 65.5px,#f2e71d 66.0px,#fce018 66.5px,#f6871f 68.0px,#f25e24 69.0px,#ed4326 70.5px,#f26224 72.5px,#f57b20 73.5px,#f7981d 76.5px,#fed618 78.0px,#f6e41b 78.5px,#cbdb2a 79.0px,#8fc73d 79.5px,#47b848 80.5px,#55bb46 81.0px,#dae025 82.5px,#f3e61c 83.0px,#f8e21a 83.5px,#f0e81e 84.0px,#a2cc38 85.0px,#38b54a 86.0px,#19ac56 86.5px,#05aa89 87.0px,#00acc6 87.5px,#00adee 88.0px,#009ce1 88.5px,#1e5caf 90.0px,#263f9f 91.0px,#2e3192 94.0px,#2e3192 121.5px),linear-gradient(#2e3192 0.0px,#2c3596 52.0px,#273f9f 53.5px,#1079c5 55.5px,#009adf 56.5px,#00aeeb 59.0px,#00abb8 61.5px,#0daa66 63.0px,#2bb14f 64.0px,#45b848 64.5px,#c0d72e 65.5px,#f2e71d 66.0px,#fce018 66.5px,#f6871f 68.0px,#f25d24 69.0px,#ed4326 70.5px,#f26224 72.5px,#f57a20 73.5px,#f7971d 76.5px,#fed518 78.0px,#f6e41b 78.5px,#cbdb2a 79.0px,#8fc73d 79.5px,#47b848 80.5px,#55bb46 81.0px,#dbe025 82.5px,#f4e61c 83.0px,#f9e21a 83.5px,#f0e81e 84.0px,#a2cc38 85.0px,#38b54a 86.0px,#19ac56 86.5px,#05aa89 87.0px,#00acc6 87.5px,#00adee 88.0px,#009ce1 88.5px,#1e5caf 90.0px,#263f9f 91.0px,#2e3192 94.0px,#2e3192 121.5px),linear-gradient(#2e3192 0.0px,#2c3596 52.0px,#273f9f 53.5px,#1079c5 55.5px,#009adf 56.5px,#00aeeb 59.0px,#00abb8 61.5px,#0daa66 63.0px,#2bb14f 64.0px,#45b848 64.5px,#c0d72e 65.5px,#f2e71d 66.0px,#fce018 66.5px,#f6861f 68.0px,#f15d24 69.0px,#ed4226 70.5px,#f26124 72.5px,#f47a21 73.5px,#f7971d 76.5px,#fed518 78.0px,#f6e41b 78.5px,#cbdb2a 79.0px,#8fc73d 79.5px,#47b848 80.5px,#55bb46 81.0px,#dbe125 82.5px,#f4e51c 83.0px,#f9e21a 83.5px,#f0e81e 84.0px,#a2cc38 85.0px,#38b54a 86.0px,#19ac56 86.5px,#05aa89 87.0px,#00acc6 87.5px,#00adee 88.0px,#009ce1 88.5px,#1e5caf 90.0px,#263f9f 91.0px,#2e3192 94.0px,#2e3192 121.5px),linear-gradient(#2e3192 0.0px,#2c3596 52.0px,#273f9f 53.5px,#1079c5 55.5px,#009adf 56.5px,#00aeeb 59.0px,#00abb8 61.5px,#0daa66 63.0px,#2bb14f 64.0px,#45b848 64.5px,#c0d72e 65.5px,#f2e71d 66.0px,#fce018 66.5px,#f6861f 68.0px,#f15d24 69.0px,#ed4226 70.5px,#f26124 72.5px,#f47921 73.5px,#f7961d 76.5px,#fed518 78.0px,#f6e41b 78.5px,#cbdb2a 79.0px,#8fc73d 79.5px,#47b848 80.5px,#55bb46 81.0px,#dce125 82.5px,#f4e51c 83.0px,#f9e21a 83.5px,#f0e81e 84.0px,#a2cc38 85.0px,#38b54a 86.0px,#19ac56 86.5px,#05aa89 87.0px,#00acc6 87.5px,#00adee 88.0px,#009ce1 88.5px,#1e5caf 90.0px,#263f9f 91.0px,#2e3192 94.0px,#2e3192 121.5px),linear-gradient(#2e3192 0.0px,#2c3596 52.0px,#273f9f 53.5px,#1079c5 55.5px,#009adf 56.5px,#00aeeb 59.0px,#00abb8 61.5px,#0daa66 63.0px,#2bb14f 64.0px,#45b848 64.5px,#c0d72e 65.5px,#f2e71d 66.0px,#fce018 66.5px,#f6861f 68.0px,#f15c24 69.0px,#ed4126 70.5px,#f26124 72.5px,#f47921 73.5px,#f7951d 76.5px,#fed418 78.0px,#f7e41b 78.5px,#cbdb2a 79.0px,#8fc73d 79.5px,#47b848 80.5px,#56bb46 81.0px,#dde124 82.5px,#f4e51c 83.0px,#f9e21a 83.5px,#f0e81e 84.0px,#a2cc38 85.0px,#38b54a 86.0px,#19ac56 86.5px,#05aa89 87.0px,#00acc6 87.5px,#00adee 88.0px,#009ce1 88.5px,#1e5caf 90.0px,#263f9f 91.0px,#2e3192 94.0px,#2e3192 121.5px),linear-gradient(#2e3192 0.0px,#2c3596 52.0px,#273f9f 53.5px,#1079c5 55.5px,#009adf 56.5px,#00aeeb 59.0px,#00abb8 61.5px,#0daa66 63.0px,#2bb14f 64.0px,#45b848 64.5px,#c0d72e 65.5px,#f2e71d 66.0px,#fce018 66.5px,#f89e1c 67.5px,#f15c24 69.0px,#ed4126 70.5px,#f26024 72.5px,#f47821 73.5px,#f7951d 76.5px,#fed418 78.0px,#f7e41b 78.5px,#cbdb2a 79.0px,#8fc73d 79.5px,#47b848 80.5px,#56bb46 81.0px,#dee224 82.5px,#f4e51c 83.0px,#f9e21a 83.5px,#f1e81e 84.0px,#a2cc38 85.0px,#38b54a 86.0px,#19ac56 86.5px,#05aa89 87.0px,#00acc6 87.5px,#00adee 88.0px,#009ce1 88.5px,#1e5caf 90.0px,#263f9f 91.0px,#2e3192 94.0px,#2e3192 121.5px),linear-gradient(#2e3192 0.0px,#2c3596 52.0px,#273f9f 53.5px,#1079c5 55.5px,#009adf 56.5px,#00aeeb 59.0px,#00abb8 61.5px,#0daa66 63.0px,#2bb14f 64.0px,#45b848 64.5px,#c0d72e 65.5px,#f2e71d 66.0px,#fce018 66.5px,#f89e1c 67.5px,#f15b24 69.0px,#ed4026 70.5px,#f26024 72.5px,#f47821 73.5px,#f7941d 76.5px,#fed318 78.0px,#f7e41b 78.5px,#cbdb2a 79.0px,#8fc73d 79.5px,#47b848 80.5px,#56bb46 81.0px,#dfe224 82.5px,#f4e51c 83.0px,#f9e21a 83.5px,#f1e81e 84.0px,#a2cc38 85.0px,#38b54a 86.0px,#19ac56 86.5px,#05aa89 87.0px,#00acc6 87.5px,#00adee 88.0px,#009ce1 88.5px,#1e5caf 90.0px,#263f9f 91.0px,#2e3192 94.0px,#2e3192 121.5px),linear-gradient(#2e3192 0.0px,#2c3596 52.0px,#273f9f 53.5px,#1079c5 55.5px,#009adf 56.5px,#00aeeb 59.0px,#00abb8 61.5px,#0daa66 63.0px,#2bb14f 64.0px,#45b848 64.5px,#c0d72e 65.5px,#f2e71d 66.0px,#fce018 66.5px,#f89e1c 67.5px,#f15b24 69.0px,#ed4026 70.5px,#f25f24 72.5px,#f47721 73.5px,#f7941d 76.5px,#fed318 78.0px,#f7e41b 78.5px,#cbdb2a 79.0px,#8fc73d 79.5px,#47b848 80.5px,#56bb46 81.0px,#dfe224 82.5px,#f5e51c 83.0px,#fae21a 83.5px,#f1e71e 84.0px,#a2cc38 85.0px,#38b54a 86.0px,#19ac56 86.5px,#05aa89 87.0px,#00acc6 87.5px,#00adee 88.0px,#009ce1 88.5px,#1e5caf 90.0px,#263f9f 91.0px,#2e3192 94.0px,#2e3192 121.5px),linear-gradient(#2e3192 0.0px,#2c3596 52.0px,#273f9f 53.5px,#1079c5 55.5px,#009adf 56.5px,#00aeeb 59.0px,#00abb8 61.5px,#0daa66 63.0px,#2bb14f 64.0px,#45b848 64.5px,#c0d72e 65.5px,#f2e71d 66.0px,#fce018 66.5px,#f89d1c 67.5px,#f15a24 69.0px,#ed4026 70.5px,#f25f24 72.5px,#f47721 73.5px,#f7931d 76.5px,#fed318 78.0px,#f7e31b 78.5px,#ccdb2a 79.0px,#8fc73d 79.5px,#47b848 80.5px,#56bb46 81.0px,#e0e223 82.5px,#f5e51c 83.0px,#fae219 83.5px,#f1e71e 84.0px,#a2cc38 85.0px,#38b54a 86.0px,#19ac56 86.5px,#05aa89 87.0px,#00acc6 87.5px,#00adee 88.0px,#009ce1 88.5px,#1e5caf 90.0px,#263f9f 91.0px,#2e3192 94.0px,#2e3192 121.5px),linear-gradient(#2e3192 0.0px,#2c3596 52.0px,#273f9f 53.5px,#1079c5 55.5px,#009adf 56.5px,#00aeeb 59.0px,#00abb8 61.5px,#0daa66 63.0px,#2bb14f 64.0px,#45b848 64.5px,#c0d72e 65.5px,#f2e71d 66.0px,#fce018 66.5px,#f89d1c 67.5px,#f15a24 69.0px,#ed3f26 70.5px,#f25e24 72.5px,#f47721 73.5px,#f7931d 76.5px,#fed218 78.0px,#f7e31b 78.5px,#ccdb2a 79.0px,#8fc73d 79.5px,#47b848 80.5px,#56bb46 81.0px,#e1e323 82.5px,#f5e51c 83.0px,#fae119 83.5px,#f1e71e 84.0px,#a2cc38 85.0px,#38b54a 86.0px,#19ac56 86.5px,#05aa89 87.0px,#00acc6 87.5px,#00adee 88.0px,#009ce1 88.5px,#1e5caf 90.0px,#263f9f 91.0px,#2e3192 94.0px,#2e3192 121.5px),linear-gradient(#2e3192 0.0px,#2c3596 52.0px,#273f9f 53.5px,#1079c5 55.5px,#009adf 56.5px,#00aeeb 59.0px,#00abb8 61.5px,#0daa66 63.0px,#2bb14f 64.0px,#45b848 64.5px,#c0d72e 65.5px,#f2e71d 66.0px,#fce018 66.5px,#f89d1c 67.5px,#f15a24 69.0px,#ec3f26 70.5px,#f25e24 72.5px,#f47621 73.5px,#f7921d 76.5px,#fed218 78.0px,#f7e31b 78.5px,#ccdb2a 79.0px,#8fc73d 79.5px,#47b848 80.5px,#57bb46 81.0px,#e2e323 82.5px,#f5e51c 83.0px,#fae119 83.5px,#f1e71d 84.0px,#a2cc38 85.0px,#38b54a 86.0px,#19ac56 86.5px,#05aa89 87.0px,#00acc6 87.5px,#00adee 88.0px,#009ce1 88.5px,#1e5caf 90.0px,#263f9f 91.0px,#2e3192 94.0px,#2e3192 121.5px),linear-gradient(#2e3192 0.0px,#2c3596 52.0px,#273f9f 53.5px,#1079c5 55.5px,#009adf 56.5px,#00aeeb 59.0px,#00abb8 61.5px,#0daa66 63.0px,#2bb14f 64.0px,#45b848 64.5px,#c0d72e 65.5px,#f2e71d 66.0px,#fce018 66.5px,#f89c1c 67.5px,#f15924 69.0px,#ec3e26 70.5px,#f25e24 72.5px,#f47621 73.5px,#f7921d 76.5px,#fed218 78.0px,#f7e31b 78.5px,#ccdb2a 79.0px,#8fc73d 79.5px,#47b848 80.5px,#57bb46 81.0px,#e3e322 82.5px,#f5e41c 83.0px,#fae119 83.5px,#f1e71d 84.0px,#a2cc38 85.0px,#38b54a 86.0px,#19ac56 86.5px,#05aa89 87.0px,#00acc6 87.5px,#00adee 88.0px,#009ce1 88.5px,#1e5caf 90.0px,#263f9f 91.0px,#2e3192 94.0px,#2e3192 121.5px),linear-gradient(#2e3192 0.0px,#2c3596 52.0px,#273f9f 53.5px,#1079c5 55.5px,#009adf 56.5px,#00aeeb 59.0px,#00abb8 61.5px,#0daa66 63.0px,#2bb14f 64.0px,#45b848 64.5px,#c0d72e 65.5px,#f2e71d 66.0px,#fce018 66.5px,#f89c1c 67.5px,#f15924 69.0px,#ec3e26 70.5px,#f25d24 72.5px,#f47521 73.5px,#f7911d 76.5px,#fed118 78.0px,#f7e31b 78.5px,#ccdb2a 79.0px,#8fc73d 79.5px,#47b848 80.5px,#57bb45 81.0px,#e3e322 82.5px,#f6e41b 83.0px,#fae119 83.5px,#f1e71d 84.0px,#a2cc38 85.0px,#38b54a 86.0px,#19ac56 86.5px,#05aa89 87.0px,#00acc6 87.5px,#00adee 88.0px,#009ce1 88.5px,#1e5caf 90.0px,#263f9f 91.0px,#2e3192 94.0px,#2e3192 121.5px),linear-gradient(#2e3192 0.0px,#2c3596 52.0px,#273f9f 53.5px,#1079c5 55.5px,#009adf 56.5px,#00aeeb 59.0px,#00abb8 61.5px,#0daa66 63.0px,#2bb14f 64.0px,#45b848 64.5px,#c0d72e 65.5px,#f2e71d 66.0px,#fce018 66.5px,#f89c1c 67.5px,#f15825 69.0px,#ec3e26 70.5px,#f15d24 72.5px,#f47521 73.5px,#f7911d 76.5px,#fed118 78.0px,#f7e31b 78.5px,#ccdb2a 79.0px,#8fc73d 79.5px,#47b848 80.5px,#57bb45 81.0px,#bad530 82.0px,#e4e422 82.5px,#f6e41b 83.0px,#fbe119 83.5px,#f1e71d 84.0px,#a2cc38 85.0px,#38b54a 86.0px,#19ac56 86.5px,#05aa89 87.0px,#00acc6 87.5px,#00adee 88.0px,#009ce1 88.5px,#1e5caf 90.0px,#263f9f 91.0px,#2e3192 94.0px,#2e3192 121.5px),linear-gradient(#2e3192 0.0px,#2c3596 52.0px,#273f9f 53.5px,#1079c5 55.5px,#009adf 56.5px,#00aeeb 59.0px,#00abb8 61.5px,#0daa66 63.0px,#2bb14f 64.0px,#45b848 64.5px,#c0d72e 65.5px,#f2e71d 66.0px,#fde018 66.5px,#f89b1c 67.5px,#f15825 69.0px,#ec3d26 70.5px,#f15c24 72.5px,#f47421 73.5px,#f7901d 76.5px,#fed118 78.0px,#f7e31b 78.5px,#ccdb2a 79.0px,#8fc73d 79.5px,#47b848 80.5px,#57bb45 81.0px,#bbd530 82.0px,#e5e422 82.5px,#f6e41b 83.0px,#fbe119 83.5px,#f2e71d 84.0px,#a2cc38 85.0px,#38b54a 86.0px,#19ac56 86.5px,#05aa89 87.0px,#00acc6 87.5px,#00adee 88.0px,#009ce1 88.5px,#1e5caf 90.0px,#263f9f 91.0px,#2e3192 94.0px,#2e3192 121.5px),linear-gradient(#2e3192 0.0px,#2e3192 50.0px,#273f9f 53.5px,#1079c5 55.5px,#009adf 56.5px,#00aeeb 59.0px,#00abb8 61.5px,#0daa66 63.0px,#2bb14f 64.0px,#45b848 64.5px,#c0d72e 65.5px,#f2e71d 66.0px,#fde018 66.5px,#f89b1c 67.5px,#f15725 69.0px,#ec3d26 70.5px,#f15c24 72.5px,#f47421 73.5px,#f7901e 76.5px,#fed018 78.0px,#f7e31b 78.5px,#cddb2a 79.0px,#8fc73d 79.5px,#47b848 80.5px,#57bb45 81.0px,#bcd52f 82.0px,#e6e421 82.5px,#f6e41b 83.0px,#fbe119 83.5px,#f2e71d 84.0px,#a2cc38 85.0px,#38b54a 86.0px,#19ac56 86.5px,#05aa89 87.0px,#00acc6 87.5px,#00adee 88.0px,#009ce1 88.5px,#1e5caf 90.0px,#263f9f 91.0px,#2e3192 94.0px,#2e3192 121.5px),linear-gradient(#2e3192 0.0px,#2e3192 50.0px,#273f9f 53.5px,#1079c5 55.5px,#009adf 56.5px,#00aeeb 59.0px,#00abb8 61.5px,#0daa66 63.0px,#2bb14f 64.0px,#45b848 64.5px,#c0d72e 65.5px,#f2e71d 66.0px,#fde018 66.5px,#f89b1c 67.5px,#f15725 69.0px,#ec3c26 70.5px,#f15b24 72.5px,#f47321 73.5px,#f7901e 76.5px,#fdd018 78.0px,#f7e31b 78.5px,#cddb2a 79.0px,#8fc73d 79.5px,#47b848 80.5px,#58bb45 81.0px,#bcd62f 82.0px,#e6e521 82.5px,#f6e41b 83.0px,#fbe119 83.5px,#f2e71d 84.0px,#a2cc38 85.0px,#38b54a 86.0px,#19ac56 86.5px,#05aa89 87.0px,#00acc6 87.5px,#00adee 88.0px,#009ce1 88.5px,#1e5caf 90.0px,#263f9f 91.0px,#2e3192 94.0px,#2e3192 121.5px),linear-gradient(#2e3192 0.0px,#2e3293 49.5px,#293a9a 53.0px,#234ba6 54.0px,#1079c5 55.5px,#009adf 56.5px,#00aeeb 59.0px,#00abb8 61.5px,#0daa66 63.0px,#2bb14f 64.0px,#45b848 64.5px,#c0d72e 65.5px,#f2e71d 66.0px,#fde018 66.5px,#f89a1c 67.5px,#f05725 69.0px,#ec3c26 70.5px,#f15b24 72.5px,#f47321 73.5px,#f78f1e 76.5px,#fdcf18 78.0px,#f7e31b 78.5px,#cddb2a 79.0px,#8fc73d 79.5px,#47b848 80.5px,#58bb45 81.0px,#bdd62f 82.0px,#e7e521 82.5px,#f6e41b 83.0px,#fbe119 83.5px,#f2e71d 84.0px,#a2cc38 85.0px,#38b54a 86.0px,#19ac56 86.5px,#05aa89 87.0px,#00acc6 87.5px,#00adee 88.0px,#009ce1 88.5px,#1e5caf 90.0px,#263f9f 91.0px,#2e3192 94.0px,#2e3192 121.5px),linear-gradient(#2e3192 0.0px,#2e3293 49.5px,#293a9a 53.0px,#234ba6 54.0px,#1079c5 55.5px,#009adf 56.5px,#00aeeb 59.0px,#00abb8 61.5px,#0daa66 63.0px,#2bb14f 64.0px,#45b848 64.5px,#c0d72e 65.5px,#f2e71d 66.0px,#fde018 66.5px,#f89a1d 67.5px,#f05625 69.0px,#ec3b26 70.5px,#f15b24 72.5px,#f47222 73.5px,#f68f1e 76.5px,#fdcf18 78.0px,#f7e31b 78.5px,#cddc2a 79.0px,#8fc73d 79.5px,#47b848 80.5px,#58bb45 81.0px,#bed62f 82.0px,#e8e521 82.5px,#fbe019 83.5px,#f2e71d 84.0px,#a2cc38 85.0px,#38b54a 86.0px,#19ac56 86.5px,#05aa89 87.0px,#00acc6 87.5px,#00adee 88.0px,#009ce1 88.5px,#1e5caf 90.0px,#263f9f 91.0px,#2e3192 94.0px,#2e3192 121.5px),linear-gradient(#2e3192 0.0px,#2d3293 49.0px,#293a9a 53.0px,#234ba6 54.0px,#1079c5 55.5px,#009adf 56.5px,#00aeeb 59.0px,#00abb8 61.5px,#0daa66 63.0px,#2bb14f 64.0px,#45b848 64.5px,#c0d72e 65.5px,#f2e71d 66.0px,#fde018 66.5px,#f89a1d 67.5px,#f05625 69.0px,#ec3b26 70.5px,#f15a24 72.5px,#f47222 73.5px,#f68e1e 76.5px,#fdcf18 78.0px,#f8e31a 78.5px,#cddc2a 79.0px,#8fc73d 79.5px,#47b848 80.5px,#58bb45 81.0px,#bed62f 82.0px,#e9e520 82.5px,#fce019 83.5px,#f2e71d 84.0px,#a2cc38 85.0px,#38b54a 86.0px,#19ac56 86.5px,#05aa89 87.0px,#00acc6 87.5px,#00adee 88.0px,#009ce1 88.5px,#1e5caf 90.0px,#263f9f 91.0px,#2e3192 94.0px,#2e3192 121.5px),linear-gradient(#2e3192 0.0px,#2d3293 49.0px,#293a9a 53.0px,#234ba6 54.0px,#1079c5 55.5px,#009adf 56.5px,#00aeeb 59.0px,#00abb8 61.5px,#0daa66 63.0px,#2bb14f 64.0px,#45b848 64.5px,#c0d72e 65.5px,#f2e71d 66.0px,#fde018 66.5px,#f8991d 67.5px,#f05525 69.0px,#ec3b26 70.5px,#f15a24 72.5px,#f47222 73.5px,#f68e1e 76.5px,#fdce18 78.0px,#f8e31a 78.5px,#cddc2a 79.0px,#8fc73d 79.5px,#47b848 80.5px,#58bb45 81.0px,#bfd72e 82.0px,#eae620 82.5px,#fce019 83.5px,#f2e71d 84.0px,#a2cc38 85.0px,#38b54a 86.0px,#19ac56 86.5px,#05aa89 87.0px,#00acc6 87.5px,#00adee 88.0px,#009ce1 88.5px,#1e5caf 90.0px,#263f9f 91.0px,#2e3192 94.0px,#2e3192 121.5px),linear-gradient(#2e3192 0.0px,#2d3293 49.0px,#293a9a 53.0px,#234ba6 54.0px,#1079c5 55.5px,#009adf 56.5px,#00aeeb 59.0px,#00abb8 61.5px,#0daa66 63.0px,#2bb14f 64.0px,#45b848 64.5px,#c0d72e 65.5px,#f2e71d 66.0px,#fddf18 66.5px,#f8991d 67.5px,#f05525 69.0px,#ec3a27 70.5px,#f15924 72.5px,#f47122 73.5px,#f68d1e 76.5px,#fdce18 78.0px,#f8e31a 78.5px,#cddc2a 79.0px,#8fc73d 79.5px,#47b848 80.5px,#58bb45 81.0px,#c0d72e 82.0px,#eae620 82.5px,#fce018 83.5px,#f2e61d 84.0px,#a2cc38 85.0px,#38b54a 86.0px,#19ac56 86.5px,#05aa89 87.0px,#00acc6 87.5px,#00adee 88.0px,#009ce1 88.5px,#1e5caf 90.0px,#263f9f 91.0px,#2e3192 94.0px,#2e3192 121.5px),linear-gradient(#2e3192 0.0px,#2d3293 49.0px,#293a9a 53.0px,#234ba6 54.0px,#1079c5 55.5px,#009adf 56.5px,#00aeeb 59.0px,#00abb8 61.5px,#0daa66 63.0px,#2bb14f 64.0px,#45b848 64.5px,#c0d72e 65.5px,#f2e71d 66.0px,#fddf18 66.5px,#f7991d 67.5px,#f05525 69.0px,#ec3a27 70.5px,#f15924 72.5px,#f47122 73.5px,#f68d1e 76.5px,#fdce18 78.0px,#f8e31a 78.5px,#cddc2a 79.0px,#8fc73d 79.5px,#47b848 80.5px,#59bb45 81.0px,#c0d72e 82.0px,#ebe620 82.5px,#fce018 83.5px,#f2e61d 84.0px,#a2cc38 85.0px,#38b54a 86.0px,#19ac56 86.5px,#05aa89 87.0px,#00acc6 87.5px,#00adee 88.0px,#009ce1 88.5px,#1e5caf 90.0px,#263f9f 91.0px,#2e3192 94.0px,#2e3192 121.5px),linear-gradient(#2e3192 0.0px,#2b3797 43.5px,#2c3596 52.0px,#273f9f 53.5px,#1079c5 55.5px,#009adf 56.5px,#00aeeb 59.0px,#00abb8 61.5px,#0daa66 63.0px,#2bb14f 64.0px,#45b848 64.5px,#c0d72e 65.5px,#f2e71d 66.0px,#fddf18 66.5px,#f7981d 67.5px,#f05425 69.0px,#ec3927 70.5px,#f15924 72.5px,#f47521 74.0px,#f68d1e 76.5px,#fdcd18 78.0px,#f8e31a 78.5px,#cedc29 79.0px,#8fc73d 79.5px,#47b848 80.5px,#59bb45 81.0px,#c1d72e 82.0px,#ece71f 82.5px,#fce018 83.5px,#f2e61d 84.0px,#cfdc29 84.5px,#6dc042 85.5px,#38b54a 86.0px,#19ac56 86.5px,#05aa89 87.0px,#00acc6 87.5px,#00adee 88.0px,#009ce1 88.5px,#1e5caf 90.0px,#263f9f 91.0px,#2e3192 94.0px,#2e3192 121.5px),linear-gradient(#2e3192 0.0px,#2b3797 43.5px,#2c3596 52.0px,#273f9f 53.5px,#1079c5 55.5px,#009adf 56.5px,#00aeeb 59.0px,#00abb8 61.5px,#0daa66 63.0px,#2bb14f 64.0px,#45b848 64.5px,#c0d72e 65.5px,#f2e71d 66.0px,#fddf18 66.5px,#f7981d 67.5px,#f05425 69.0px,#eb3927 70.5px,#f15825 72.5px,#f47421 74.0px,#f68c1e 76.5px,#fdcd18 78.0px,#f8e31a 78.5px,#cedc29 79.0px,#8fc73d 79.5px,#47b848 80.5px,#59bc45 81.0px,#c2d82d 82.0px,#ede71f 82.5px,#fce018 83.5px,#f3e61d 84.0px,#d0dc29 84.5px,#38b54a 86.0px,#19ac56 86.5px,#05aa89 87.0px,#00acc6 87.5px,#00adee 88.0px,#009ce1 88.5px,#1e5caf 90.0px,#263f9f 91.0px,#2e3192 94.0px,#2e3192 121.5px),linear-gradient(#2e3192 0.0px,#2b3797 43.5px,#2c3596 52.0px,#273f9f 53.5px,#1079c5 55.5px,#009adf 56.5px,#00aeeb 59.0px,#00abb8 61.5px,#0daa66 63.0px,#2bb14f 64.0px,#45b848 64.5px,#c0d72e 65.5px,#f2e71d 66.0px,#fddf18 66.5px,#f7981d 67.5px,#f05325 69.0px,#eb3827 70.5px,#f15825 72.5px,#f47421 74.0px,#f68c1e 76.5px,#fdcd18 78.0px,#f8e31a 78.5px,#cedc29 79.0px,#8fc73d 79.5px,#47b848 80.5px,#59bc45 81.0px,#c2d82d 82.0px,#eee71f 82.5px,#fce018 83.5px,#f3e61d 84.0px,#d0dd29 84.5px,#38b54a 86.0px,#19ac56 86.5px,#05aa89 87.0px,#00acc6 87.5px,#00adee 88.0px,#009ce1 88.5px,#1e5caf 90.0px,#263f9f 91.0px,#2e3192 94.0px,#2e3192 121.5px),linear-gradient(#2e3192 0.0px,#2b3798 43.5px,#2c3596 52.0px,#273f9f 53.5px,#1079c5 55.5px,#009adf 56.5px,#00aeeb 59.0px,#00abb8 61.5px,#0daa66 63.0px,#2bb14f 64.0px,#45b848 64.5px,#c0d72e 65.5px,#f2e71d 66.0px,#fddf18 66.5px,#f7971d 67.5px,#f05325 69.0px,#eb3827 70.5px,#f15725 72.5px,#f47321 74.0px,#f68b1e 76.5px,#fdcc18 78.0px,#f8e31a 78.5px,#cedc29 79.0px,#8fc73d 79.5px,#47b848 80.5px,#59bc45 81.0px,#c3d82d 82.0px,#eee71f 82.5px,#fde018 83.5px,#f3e61d 84.0px,#d0dd29 84.5px,#38b54a 86.0px,#19ac56 86.5px,#05aa89 87.0px,#00acc6 87.5px,#00adee 88.0px,#009ce1 88.5px,#1e5caf 90.0px,#263f9f 91.0px,#2e3192 94.0px,#2e3192 121.5px),linear-gradient(#2e3192 0.0px,#2b3697 43.0px,#2c3596 52.0px,#273f9f 53.5px,#1079c5 55.5px,#009adf 56.5px,#00aeeb 59.0px,#00abb8 61.5px,#0daa66 63.0px,#2bb14f 64.0px,#45b848 64.5px,#c0d72e 65.5px,#f2e71d 66.0px,#fddf18 66.5px,#f7971d 67.5px,#f05225 69.0px,#eb3827 70.5px,#f05725 72.5px,#f47321 74.0px,#f68b1e 76.5px,#fdcc18 78.0px,#f8e31a 78.5px,#cedc29 79.0px,#8fc73d 79.5px,#47b848 80.5px,#59bc45 81.0px,#c4d82d 82.0px,#efe81e 82.5px,#fddf18 83.5px,#f3e61d 84.0px,#d0dd29 84.5px,#38b54a 86.0px,#19ac56 86.5px,#05aa89 87.0px,#00acc6 87.5px,#00adee 88.0px,#009ce1 88.5px,#1e5caf 90.0px,#263f9f 91.0px,#2e3192 94.0px,#2e3192 121.5px),linear-gradient(#2e3192 0.0px,#2b3797 43.0px,#2c3596 52.0px,#273f9f 53.5px,#1079c5 55.5px,#009adf 56.5px,#00aeeb 59.0px,#00abb8 61.5px,#0daa66 63.0px,#2bb14f 64.0px,#45b848 64.5px,#c0d72e 65.5px,#f2e71d 66.0px,#fddf18 66.5px,#f7971d 67.5px,#f05225 69.0px,#eb3727 70.5px,#f05625 72.5px,#f47222 74.0px,#f68a1e 76.5px,#fdcc18 78.0px,#f8e31a 78.5px,#cedc29 79.0px,#8fc73d 79.5px,#47b848 80.5px,#5abc45 81.0px,#c4d92d 82.0px,#f0e81e 82.5px,#fddf18 83.5px,#f3e61d 84.0px,#d0dd29 84.5px,#38b54a 86.0px,#19ac56 86.5px,#05aa89 87.0px,#00acc6 87.5px,#00adee 88.0px,#009ce1 88.5px,#1e5caf 90.0px,#263f9f 91.0px,#2e3192 94.0px,#2e3192 121.5px),linear-gradient(#2e3192 0.0px,#2b3797 43.0px,#2c3696 52.0px,#263fa0 53.5px,#0d7ec9 55.5px,#009de1 56.5px,#00aeed 58.5px,#00abb7 61.0px,#00aaa7 61.5px,#13ab59 63.0px,#38b54a 64.0px,#63be44 64.5px,#d8df26 65.5px,#f7e31b 66.0px,#fed518 66.5px,#f68b1e 67.5px,#ee4b25 69.0px,#eb3627 70.5px,#f25d24 72.5px,#f5831f 74.0px,#fbb61a 76.5px,#fedf18 77.5px,#f8e31a 78.0px,#e4e422 78.5px,#71c042 79.5px,#35b44c 80.5px,#3bb54a 81.0px,#8ec63d 82.0px,#c7da2c 83.0px,#d4de27 83.5px,#35b44c 85.5px,#20ae54 86.0px,#0caa6d 86.5px,#00aaa2 87.0px,#00add9 87.5px,#00a7ea 88.0px,#0098dd 88.5px,#196ab9 89.5px,#273f9f 91.0px,#2e3192 94.0px,#2e3192 121.5px),linear-gradient(#2e3192 0.0px,#2b3797 43.0px,#2b3697 52.0px,#2641a1 53.5px,#1471bf 55.0px,#0195db 56.0px,#00abed 57.5px,#00aee6 58.5px,#00acc6 60.0px,#02aa97 61.5px,#0faa5e 62.5px,#32b34d 63.5px,#56bb46 64.0px,#bcd52f 65.0px,#f1e81e 65.5px,#fce018 66.0px,#f58020 67.5px,#ed4226 69.0px,#eb3427 70.5px,#f05425 72.0px,#ffda17 76.0px,#efe81e 77.5px,#d5de27 78.0px,#7ec340 79.0px,#50ba47 79.5px,#36b44b 80.0px,#29b150 80.5px,#2bb14f 81.0px,#37b54b 81.5px,#63be44 82.5px,#73c141 83.5px,#38b54b 84.5px,#17ac57 85.5px,#0caa6d 86.0px,#00acc1 87.0px,#00aeed 87.5px,#0391d8 88.5px,#1b66b5 89.5px,#273e9e 91.0px,#2e3192 94.0px,#2e3192 121.5px),linear-gradient(#2e3192 0.0px,#2b3797 43.0px,#2b3697 52.0px,#2543a2 53.5px,#1276c3 55.0px,#0098de 56.0px,#00aeef 57.5px,#00accd 59.5px,#06aa88 61.5px,#17ac57 62.5px,#44b748 63.5px,#a3cd38 64.5px,#d8df26 65.0px,#f6e41b 65.5px,#fed418 66.0px,#f68d1e 67.0px,#ee4b25 68.5px,#ec3a27 69.0px,#eb3427 70.5px,#f15a24 72.0px,#fedf18 75.0px,#f2e71d 76.0px,#94c83c 78.0px,#4db947 79.0px,#32b34d 79.5px,#1bad56 80.5px,#29b150 83.0px,#1dae55 84.0px,#13ab59 84.5px,#0daa67 85.0px,#00abbd 86.5px,#00ade1 87.0px,#00a5e8 87.5px,#0888d0 88.5px,#2153ab 90.0px,#273d9d 91.0px,#2e3192 94.0px,#2e3192 121.5px),linear-gradient(#2e3192 0.0px,#2b3797 43.0px,#2b3697 52.0px,#2544a2 53.5px,#1c64b4 54.5px,#009adf 56.0px,#00acee 57.0px,#00acc6 59.5px,#07aa81 61.5px,#0eaa64 62.0px,#2db24f 63.0px,#50ba47 63.5px,#b4d332 64.5px,#ebe620 65.0px,#fbe019 65.5px,#f57f20 67.0px,#ed4126 68.5px,#ea3327 69.0px,#ec3d26 70.5px,#f36b23 72.0px,#f9a41c 73.0px,#fdc819 73.5px,#fce018 74.0px,#f4e51c 74.5px,#9fcb39 76.0px,#38b54a 78.0px,#11aa5a 79.5px,#08aa7b 80.5px,#09aa7b 81.5px,#09aa77 83.0px,#06aa87 84.0px,#00aaa3 85.0px,#00adee 86.5px,#0096dc 87.5px,#1d60b2 89.0px,#263f9f 90.5px,#2e3192 94.0px,#2e3192 121.5px),linear-gradient(#2e3192 0.0px,#2b3697 42.5px,#2b3697 52.0px,#2544a2 53.5px,#1b66b5 54.5px,#009be0 56.0px,#00aeef 57.0px,#00acbf 59.5px,#08aa7b 61.5px,#0faa5e 62.0px,#31b34d 63.0px,#5bbc45 63.5px,#c4d82d 64.5px,#f3e61c 65.0px,#ffda17 65.5px,#faac1b 66.0px,#f47122 67.0px,#eb3727 68.5px,#e92b28 69.0px,#ee4626 70.5px,#f57c20 72.0px,#f89d1c 72.5px,#fdc719 73.0px,#fae219 73.5px,#eae620 74.0px,#8ac63e 75.0px,#42b749 76.0px,#24af52 77.0px,#10aa5b 78.0px,#00abb0 80.5px,#00acc7 83.5px,#00a9eb 85.5px,#0789d2 87.0px,#1e5db0 88.5px,#283c9d 90.5px,#2e3192 94.5px,#2e3192 121.5px),linear-gradient(#2e3192 0.0px,#2b3697 42.5px,#2b3697 52.0px,#2545a3 53.5px,#1a68b7 54.5px,#0490d7 55.5px,#00aeec 57.0px,#00abb7 59.5px,#0aaa74 61.5px,#12aa59 62.0px,#35b44b 63.0px,#9ecb39 64.0px,#d4de27 64.5px,#f7e31b 65.0px,#fdcb19 65.5px,#f89c1c 66.0px,#ef5025 67.5px,#e92828 69.0px,#f26423 71.0px,#f7901e 72.0px,#fbe019 73.0px,#ebe620 73.5px,#7cc340 74.5px,#46b848 75.0px,#1eae55 76.0px,#10aa5c 76.5px,#00abbc 79.5px,#00ade2 81.0px,#00aeef 82.0px,#0098dd 85.5px,#2152aa 88.5px,#273d9e 90.0px,#2e3192 95.0px,#2e3192 121.5px),linear-gradient(#2e3192 0.0px,#2b3697 42.5px,#2c3495 51.5px,#283c9c 53.0px,#2057ad 54.0px,#0292d9 55.5px,#00a8ea 56.5px,#00addd 57.5px,#00aa9e 60.0px,#0caa6c 61.5px,#17ac57 62.0px,#3cb64a 63.0px,#abcf35 64.0px,#e2e323 64.5px,#fae119 65.0px,#fcc119 65.5px,#f7941d 66.0px,#ef4c25 67.5px,#e92c27 69.0px,#f25e24 70.5px,#f78f1e 71.5px,#fede17 72.5px,#f2e71d 73.0px,#8bc63e 74.0px,#54bb46 74.5px,#2fb24e 75.0px,#11aa5a 76.0px,#04aa8e 77.5px,#00ade3 80.5px,#00adee 81.5px,#009ce1 85.0px,#1f59ae 88.0px,#283d9d 90.0px,#2e3192 95.0px,#2e3192 121.5px),linear-gradient(#2e3192 0.0px,#2b3697 42.5px,#2c3495 51.5px,#283c9d 53.0px,#186cba 54.5px,#0194da 55.5px,#00a9eb 56.5px,#00acc1 58.5px,#09aa77 61.0px,#1bad56 62.0px,#47b848 63.0px,#b8d431 64.0px,#efe81e 64.5px,#fde018 65.0px,#f68e1e 66.0px,#ee4926 67.5px,#ea3127 69.0px,#f36d22 70.5px,#faad1b 71.5px,#fed618 72.0px,#f5e51c 72.5px,#ccdb2a 73.0px,#95c83c 73.5px,#33b44c 74.5px,#11aa5a 75.5px,#06aa84 76.5px,#00aeed 80.5px,#0099df 85.0px,#2057ad 88.0px,#283d9d 90.0px,#2e3192 95.0px,#2e3192 121.5px),linear-gradient(#2e3192 0.0px,#2b3797 42.5px,#2c3495 51.5px,#283d9d 53.0px,#176ebc 54.5px,#0096dc 55.5px,#00aaec 56.5px,#04aa90 60.0px,#10aa5c 61.5px,#31b34d 62.5px,#52ba46 63.0px,#c5d92c 64.0px,#f3e61d 64.5px,#ffdd17 65.0px,#f6881f 66.0px,#ee4626 67.5px,#eb3527 69.0px,#f57c20 70.5px,#f89f1c 71.0px,#fdcc18 71.5px,#f7e31b 72.0px,#d9e026 72.5px,#69bf43 73.5px,#38b54a 74.0px,#0faa5e 75.0px,#02aa98 76.5px,#00aeed 80.0px,#0096dc 85.0px,#1e5db0 87.5px,#273f9f 89.5px,#2e3192 95.0px,#2e3192 121.5px),linear-gradient(#2e3192 0.0px,#2b3697 42.0px,#2c3495 51.5px,#283d9d 53.0px,#1670bd 54.5px,#0097dd 55.5px,#00abed 56.5px,#05aa89 60.0px,#14ab59 61.5px,#36b44b 62.5px,#5dbc45 63.0px,#d2dd28 64.0px,#f6e41b 64.5px,#fed218 65.0px,#f9a51c 65.5px,#f5821f 66.0px,#ed4326 67.5px,#ec3927 69.0px,#f68b1e 70.5px,#fbe119 71.5px,#e6e421 72.0px,#74c141 73.0px,#3cb64a 73.5px,#10aa5a 74.5px,#09aa79 75.0px,#00abb9 77.0px,#00adee 79.5px,#0391d8 85.0px,#1f5aae 87.5px,#273e9e 89.5px,#2e3192 95.0px,#2e3192 121.5px),linear-gradient(#2e3192 0.0px,#2b3697 42.0px,#2d3293 49.5px,#293a9a 52.5px,#234aa6 53.5px,#0099de 55.5px,#00adee 56.5px,#03aa92 59.5px,#0faa5f 61.0px,#2ab150 62.0px,#3db649 62.5px,#68bf43 63.0px,#dfe224 64.0px,#f9e21a 64.5px,#fdc819 65.0px,#f89c1c 65.5px,#f36623 66.5px,#ed4026 67.5px,#ec3e26 69.0px,#f89c1c 70.5px,#fed418 71.0px,#f3e61d 71.5px,#81c43f 72.5px,#47b848 73.0px,#27b051 73.5px,#13ab59 74.0px,#02aa95 75.0px,#00acce 77.0px,#00aeec 78.5px,#0292d8 84.5px,#2057ad 87.5px,#273e9e 89.5px,#2e3192 95.0px,#2e3192 121.5px),linear-gradient(#2e3192 0.0px,#2b3797 42.0px,#2d3494 48.5px,#2b3798 52.0px,#273e9e 53.0px,#1374c0 54.5px,#009adf 55.5px,#00aeef 56.5px,#00abb9 58.0px,#12aa59 61.0px,#2eb24e 62.0px,#48b848 62.5px,#73c141 63.0px,#ece71f 64.0px,#fce018 64.5px,#f7931d 65.5px,#f26024 66.5px,#ec3c26 67.5px,#ed4226 69.0px,#f5841f 70.0px,#fbe119 71.0px,#d5df27 71.5px,#8ec63d 72.0px,#54bb46 72.5px,#2bb14f 73.0px,#13ab59 73.5px,#00abb4 75.0px,#00ade3 77.0px,#00aced 78.0px,#068cd4 84.5px,#2153ab 87.5px,#273d9d 89.5px,#2e3192 95.0px,#2e3192 121.5px),linear-gradient(#2e3192 0.0px,#2b3696 41.5px,#2b3798 47.0px,#2c3595 51.5px,#273d9e 53.0px,#1473c0 54.5px,#0099df 55.5px,#00adee 56.5px,#05aa8a 59.5px,#13ab59 61.0px,#30b24e 62.0px,#4ab947 62.5px,#76c141 63.0px,#ece71f 64.0px,#fce018 64.5px,#f7931d 65.5px,#f26124 66.5px,#ec3e26 67.5px,#ed4426 69.0px,#f6871f 70.0px,#fae119 71.0px,#d2dd28 71.5px,#8ac63e 72.0px,#50ba46 72.5px,#2ab150 73.0px,#11aa59 73.5px,#00abb7 75.0px,#00aeea 77.0px,#00a6e8 78.5px,#058dd5 84.0px,#1178c4 85.5px,#234ba6 88.0px,#2b3697 91.0px,#2e3192 121.5px),linear-gradient(#2e3192 0.0px,#2b3697 41.5px,#2b3798 47.0px,#2c3495 51.5px,#273d9d 53.0px,#1472bf 54.5px,#0099de 55.5px,#00adee 56.5px,#05aa88 59.5px,#14ab59 61.0px,#31b34d 62.0px,#4db947 62.5px,#77c241 63.0px,#ebe620 64.0px,#fbe019 64.5px,#fcc019 65.0px,#f7951d 65.5px,#f26324 66.5px,#ed4026 67.5px,#ee4626 69.0px,#f6881f 70.0px,#f9e21a 71.0px,#d1dd28 71.5px,#8ac63e 72.0px,#50ba46 72.5px,#2ab150 73.0px,#11aa59 73.5px,#00abb9 75.0px,#00aeef 77.0px,#0097dd 81.5px,#0d7ec9 85.0px,#2151a9 87.5px,#293a9b 90.0px,#2e3192 96.0px,#2e3192 121.5px),linear-gradient(#2e3192 0.0px,#2b3697 41.5px,#2a3898 47.0px,#2c3495 51.5px,#283d9d 53.0px,#1570be 54.5px,#0098de 55.5px,#00aced 56.5px,#06aa86 59.5px,#15ab58 61.0px,#31b34d 62.0px,#4fb947 62.5px,#79c240 63.0px,#eae620 64.0px,#fbe119 64.5px,#fcc219 65.0px,#f7961d 65.5px,#f26523 66.5px,#ed4226 67.5px,#ee4826 69.0px,#f68a1e 70.0px,#f9e21a 71.0px,#d0dd29 71.5px,#8ac63e 72.0px,#50ba46 72.5px,#2ab150 73.0px,#11aa5a 73.5px,#00abba 75.0px,#00aeea 76.5px,#009de2 79.0px,#0a85ce 84.0px,#2542a1 88.5px,#2e3192 94.0px,#2e3192 121.5px),linear-gradient(#2e3192 0.0px,#2b3797 41.5px,#2a399a 46.5px,#2c3495 51.5px,#283d9d 53.0px,#166fbd 54.5px,#0097dd 55.5px,#00abed 56.5px,#06aa85 59.5px,#16ac58 61.0px,#32b34d 62.0px,#51ba46 62.5px,#7bc240 63.0px,#e9e620 64.0px,#fbe119 64.5px,#fcc319 65.0px,#f7981d 65.5px,#f36623 66.5px,#ed4426 67.5px,#ee4b25 69.0px,#f68b1e 70.0px,#f9e21a 71.0px,#d0dd29 71.5px,#8ac63e 72.0px,#50ba46 72.5px,#2ab150 73.0px,#11aa5a 73.5px,#00abbb 75.0px,#00aeef 76.5px,#0390d7 81.5px,#1177c3 85.0px,#2641a1 88.5px,#2e3192 94.5px,#2e3192 121.5px),linear-gradient(#2e3192 0.0px,#2c3596 41.0px,#293a9a 46.5px,#2c3495 51.5px,#283d9d 53.0px,#166ebc 54.5px,#0096dc 55.5px,#00aaec 56.5px,#00abba 58.0px,#0faa60 60.5px,#33b34c 62.0px,#53ba46 62.5px,#7dc340 63.0px,#e8e521 64.0px,#fae119 64.5px,#fcc519 65.0px,#f89a1d 65.5px,#f57c20 66.0px,#ee4726 67.5px,#ef4d25 69.0px,#f68d1e 70.0px,#f9e21a 71.0px,#cfdc29 71.5px,#8ac63e 72.0px,#50ba46 72.5px,#2ab150 73.0px,#11aa5a 73.5px,#00abbc 75.0px,#00acee 76.5px,#068cd4 81.5px,#1473c0 85.0px,#2640a0 88.5px,#2e3192 95.0px,#2e3192 121.5px),linear-gradient(#2e3192 0.0px,#2c3696 41.0px,#283b9c 46.0px,#2c3495 51.5px,#283d9d 53.0px,#176dbb 54.5px,#0096dc 55.5px,#00aaec 56.5px,#00ade2 57.0px,#07aa82 59.5px,#0faa5f 60.5px,#34b44c 62.0px,#7fc340 63.0px,#e7e521 64.0px,#fae219 64.5px,#fcc719 65.0px,#f89b1c 65.5px,#f57d20 66.0px,#ee4926 67.5px,#ef4f25 69.0px,#f68e1e 70.0px,#f8e21a 71.0px,#cfdc29 71.5px,#8ac63e 72.0px,#50ba46 72.5px,#2ab150 73.0px,#11aa5a 73.5px,#00abbd 75.0px,#00aee5 76.0px,#00aaec 76.5px,#0789d2 81.0px,#1375c1 84.5px,#273e9e 89.0px,#2e3192 95.5px,#2e3192 121.5px),linear-gradient(#2e3192 0.0px,#2b3697 41.0px,#283c9c 46.0px,#2c3495 51.5px,#283c9d 53.0px,#186cba 54.5px,#0194db 55.5px,#00a9eb 56.5px,#00ade3 57.0px,#07aa80 59.5px,#0faa5d 60.5px,#35b44c 62.0px,#80c43f 63.0px,#e6e521 64.0px,#f9e21a 64.5px,#fdc819 65.0px,#f89d1c 65.5px,#f57e20 66.0px,#ee4b25 67.5px,#ef5125 69.0px,#f7901e 70.0px,#f8e31a 71.0px,#cedc29 71.5px,#8ac63e 72.0px,#50ba46 72.5px,#2ab150 73.0px,#11aa5a 73.5px,#00acbe 75.0px,#00aee9 76.0px,#0986cf 80.5px,#1276c2 84.0px,#273d9d 89.0px,#2e3192 95.5px,#2e3192 121.5px),linear-gradient(#2e3192 0.0px,#2b3697 41.0px,#283c9c 46.0px,#2c3495 51.5px,#283c9c 53.0px,#1f58ad 54.0px,#0293da 55.5px,#00a8ea 56.5px,#00ade5 57.0px,#08aa7e 59.5px,#10aa5b 60.5px,#36b44b 62.0px,#82c43f 63.0px,#e5e422 64.0px,#f9e21a 64.5px,#fdca19 65.0px,#f89f1c 65.5px,#f58020 66.0px,#ef4d25 67.5px,#f05325 69.0px,#f7911d 70.0px,#fcbf19 70.5px,#f8e31a 71.0px,#cedc29 71.5px,#8ac63e 72.0px,#50ba46 72.5px,#2ab150 73.0px,#11aa5a 73.5px,#00acbf 75.0px,#00aeec 76.0px,#0a84ce 80.0px,#1472bf 84.0px,#283d9d 89.0px,#2e3192 95.5px,#2e3192 121.5px),linear-gradient(#2e3192 0.0px,#2b3697 41.0px,#283d9d 46.0px,#2c3495 51.5px,#283c9c 53.0px,#2057ad 54.0px,#0292d9 55.5px,#00a8ea 56.5px,#00aee7 57.0px,#08aa7d 59.5px,#10aa5a 60.5px,#37b44b 62.0px,#84c43f 63.0px,#e5e422 64.0px,#f8e21a 64.5px,#fdcc18 65.0px,#f8a01c 65.5px,#f58120 66.0px,#ef4f25 67.5px,#f05525 69.0px,#f7931d 70.0px,#fcc119 70.5px,#f8e31a 71.0px,#cddc2a 71.5px,#8ac63e 72.0px,#50ba46 72.5px,#2ab150 73.0px,#11aa5a 73.5px,#01aa9d 74.5px,#00acc0 75.0px,#00aeef 76.0px,#0888d1 79.0px,#1969b8 84.5px,#283d9d 89.0px,#2e3192 96.0px,#2e3192 121.5px),linear-gradient(#2e3192 0.0px,#2b3697 41.0px,#283d9d 46.0px,#2c3495 51.5px,#283c9c 53.0px,#2056ac 54.0px,#0390d7 55.5px,#00a7e9 56.5px,#00aee8 57.0px,#04aa8f 59.0px,#11aa5a 60.5px,#38b54a 62.0px,#86c53e 63.0px,#e4e422 64.0px,#f8e31a 64.5px,#fdcd18 65.0px,#f9a21c 65.5px,#f5821f 66.0px,#f05125 67.5px,#f15725 69.0px,#f7941d 70.0px,#fcc219 70.5px,#f7e31b 71.0px,#cddb2a 71.5px,#8ac63e 72.0px,#50ba46 72.5px,#2ab150 73.0px,#11aa5a 73.5px,#01aa9e 74.5px,#00acc2 75.0px,#00acee 76.0px,#0789d2 78.5px,#1177c4 81.0px,#196ab9 84.0px,#273e9e 88.5px,#2e3192 95.5px,#2e3192 121.5px),linear-gradient(#2e3192 0.0px,#2b3797 41.0px,#273d9e 46.0px,#2c3495 51.5px,#2545a3 53.5px,#1a67b6 54.5px,#009ce1 56.0px,#00aeea 57.0px,#04aa8e 59.0px,#12ab59 60.5px,#39b54a 62.0px,#b5d332 63.5px,#e3e322 64.0px,#f7e31b 64.5px,#fdcf18 65.0px,#f9a41c 65.5px,#f5831f 66.0px,#f05425 67.5px,#f15924 69.0px,#f7961d 70.0px,#fcc419 70.5px,#f7e31b 71.0px,#ccdb2a 71.5px,#8ac63e 72.0px,#50ba46 72.5px,#2ab150 73.0px,#11aa5a 73.5px,#00aa9e 74.5px,#00acc3 75.0px,#00addd 75.5px,#00abec 76.0px,#058cd4 78.0px,#1374c1 80.5px,#186bb9 83.5px,#283c9c 89.0px,#2e3192 96.0px,#2e3192 121.5px),linear-gradient(#2e3192 0.0px,#2b3797 41.0px,#273e9e 46.0px,#2c3495 51.5px,#283c9c 53.0px,#2056ac 54.0px,#009ce1 56.0px,#00aee9 57.0px,#05aa8c 59.0px,#13ab59 60.5px,#39b54a 62.0px,#b5d332 63.5px,#e2e323 64.0px,#f7e31b 64.5px,#fdcf18 65.0px,#f9a41c 65.5px,#f5831f 66.0px,#f05325 67.5px,#f15825 69.0px,#f7941d 70.0px,#fcc219 70.5px,#f7e31b 71.0px,#cedc29 71.5px,#8cc63d 72.0px,#52ba46 72.5px,#2ab150 73.0px,#11aa59 73.5px,#00aa9e 74.5px,#00acc3 75.0px,#00addd 75.5px,#00abec 76.0px,#068cd4 78.0px,#1373c0 80.5px,#196ab9 83.5px,#283c9c 89.0px,#2e3192 96.0px,#2e3192 121.5px),linear-gradient(#2e3192 0.0px,#2c3596 40.5px,#263f9f 45.5px,#2c3495 51.5px,#283c9c 53.0px,#2056ac 54.0px,#0390d8 55.5px,#00a7ea 56.5px,#00aee7 57.0px,#05aa8a 59.0px,#13ab59 60.5px,#39b54a 62.0px,#86c53e 63.0px,#e2e323 64.0px,#f7e31b 64.5px,#fdcf18 65.0px,#f9a31c 65.5px,#f5821f 66.0px,#f05125 67.5px,#f05725 69.0px,#f7921d 70.0px,#fcc019 70.5px,#f8e31a 71.0px,#d0dd29 71.5px,#8ec63d 72.0px,#53ba46 72.5px,#2bb150 73.0px,#12aa59 73.5px,#00aa9e 74.5px,#00acc3 75.0px,#00addd 75.5px,#00abec 76.0px,#068cd4 78.0px,#1373c0 80.5px,#196ab9 83.5px,#283c9c 89.0px,#2e3192 96.0px,#2e3192 121.5px),linear-gradient(#2e3192 0.0px,#2c3596 40.5px,#263f9f 45.5px,#2c3495 51.5px,#283c9c 53.0px,#2056ac 54.0px,#0391d8 55.5px,#00a8ea 56.5px,#00aee5 57.0px,#05aa88 59.0px,#14ab58 60.5px,#3ab54a 62.0px,#85c53f 63.0px,#e2e323 64.0px,#f7e31b 64.5px,#fdce18 65.0px,#f9a21c 65.5px,#f5821f 66.0px,#ef4f25 67.5px,#f05525 69.0px,#f7911d 70.0px,#f9e21a 71.0px,#d3de28 71.5px,#90c73d 72.0px,#55bb46 72.5px,#2bb14f 73.0px,#12ab59 73.5px,#01aa9e 74.5px,#00acc3 75.0px,#00addd 75.5px,#00abec 76.0px,#068cd4 78.0px,#1373c0 80.5px,#196ab9 83.5px,#283c9c 89.0px,#2e3192 96.0px,#2e3192 121.5px),linear-gradient(#2e3192 0.0px,#2c3596 40.5px,#263f9f 45.5px,#2c3495 51.5px,#283c9c 53.0px,#2057ad 54.0px,#0292d9 55.5px,#00a8eb 56.5px,#00ade3 57.0px,#06aa86 59.0px,#0eaa62 60.0px,#29b150 61.5px,#3ab54a 62.0px,#84c43f 63.0px,#e1e323 64.0px,#f7e31b 64.5px,#fdce18 65.0px,#f8a21c 65.5px,#f58120 66.0px,#ef4e25 67.5px,#f05325 69.0px,#f78f1e 70.0px,#f9e21a 71.0px,#d5de27 71.5px,#92c73d 72.0px,#57bb46 72.5px,#2cb14f 73.0px,#13ab59 73.5px,#01aa9d 74.5px,#00acc3 75.0px,#00addd 75.5px,#00abec 76.0px,#068cd4 78.0px,#1373c0 80.5px,#196ab9 83.5px,#283c9c 89.0px,#2e3192 96.0px,#2e3192 121.5px),linear-gradient(#2e3192 0.0px,#2c3596 40.5px,#2640a0 45.5px,#2c3495 51.5px,#283c9c 53.0px,#2057ad 54.0px,#0293da 55.5px,#00a9eb 56.5px,#00ade2 57.0px,#06aa85 59.0px,#0faa60 60.0px,#2ab150 61.5px,#3ab54a 62.0px,#83c43f 63.0px,#e1e323 64.0px,#f7e31b 64.5px,#fdce18 65.0px,#f8a11c 65.5px,#f58020 66.0px,#ef4c25 67.5px,#f05225 69.0px,#f68d1e 70.0px,#fae119 71.0px,#d7df26 71.5px,#94c83c 72.0px,#58bb45 72.5px,#2cb24f 73.0px,#13ab59 73.5px,#01aa9d 74.5px,#00acc3 75.0px,#00addd 75.5px,#00abec 76.0px,#068cd4 78.0px,#1373c0 80.5px,#196ab9 83.5px,#283c9c 89.0px,#2e3192 96.0px,#2e3192 121.5px),linear-gradient(#2e3192 0.0px,#2c3596 40.5px,#2542a1 45.0px,#2d3293 51.0px,#283c9c 53.0px,#1f57ad 54.0px,#0194da 55.5px,#00aaec 56.5px,#00ade0 57.0px,#07aa83 59.0px,#0faa5f 60.0px,#2ab150 61.5px,#3ab54a 62.0px,#82c43f 63.0px,#e1e323 64.0px,#f7e31b 64.5px,#fdcd18 65.0px,#f8a01c 65.5px,#f58020 66.0px,#ee4b25 67.5px,#ef5025 69.0px,#f68b1e 70.0px,#fae119 71.0px,#d9e026 71.5px,#96c83c 72.0px,#5abc45 72.5px,#2db24f 73.0px,#14ab59 73.5px,#01aa9d 74.5px,#00acc3 75.0px,#00addd 75.5px,#00abec 76.0px,#068cd4 78.0px,#1373c0 80.5px,#196ab9 83.5px,#283c9c 89.0px,#2e3192 96.0px,#2e3192 121.5px),linear-gradient(#2e3192 0.0px,#2c3596 40.5px,#2542a1 45.0px,#2d3293 51.0px,#283c9d 53.0px,#1f58ad 54.0px,#0195db 55.5px,#00aaec 56.5px,#00adde 57.0px,#0caa6c 59.5px,#17ac57 60.5px,#3ab54a 62.0px,#81c43f 63.0px,#e1e323 64.0px,#f7e31b 64.5px,#fdcd18 65.0px,#f8a01c 65.5px,#f57f20 66.0px,#ee4926 67.5px,#ef4e25 69.0px,#f68a1e 70.0px,#fbe119 71.0px,#dce125 71.5px,#98c93b 72.0px,#5cbc45 72.5px,#2eb24e 73.0px,#14ab58 73.5px,#01aa9d 74.5px,#00acc3 75.0px,#00addd 75.5px,#00abec 76.0px,#068cd4 78.0px,#1373c0 80.5px,#196ab9 83.5px,#283c9c 89.0px,#2e3192 96.0px,#2e3192 121.5px),linear-gradient(#2e3192 0.0px,#2c3696 40.5px,#2543a2 45.0px,#2d3293 51.0px,#283c9d 53.0px,#186bba 54.5px,#0095dc 55.5px,#00abed 56.5px,#00acc4 57.5px,#0caa6a 59.5px,#10aa5b 60.0px,#3bb54a 62.0px,#80c43f 63.0px,#e0e223 64.0px,#f7e31b 64.5px,#fdcd18 65.0px,#f89f1c 65.5px,#f57e20 66.0px,#ee4726 67.5px,#ef4d25 69.0px,#f6881f 70.0px,#fce019 71.0px,#dee224 71.5px,#9ac93b 72.0px,#5dbc45 72.5px,#2eb24e 73.0px,#14ab58 73.5px,#01aa9d 74.5px,#00acc3 75.0px,#00addd 75.5px,#00abec 76.0px,#068cd4 78.0px,#1373c0 80.5px,#196ab9 83.5px,#283c9c 89.0px,#2e3192 96.0px,#2e3192 121.5px),linear-gradient(#2e3192 0.0px,#2c3696 40.5px,#2543a2 45.0px,#2d3293 51.0px,#283c9d 53.0px,#186cba 54.5px,#0096dc 55.5px,#00aced 56.5px,#08aa7d 59.0px,#10aa5a 60.0px,#3bb54a 62.0px,#7fc33f 63.0px,#e0e223 64.0px,#f7e31b 64.5px,#fdcc18 65.0px,#f89f1c 65.5px,#f57e20 66.0px,#ee4626 67.5px,#ef4b25 69.0px,#f6861f 70.0px,#fce018 71.0px,#e0e223 71.5px,#9cca3a 72.0px,#5fbd44 72.5px,#2fb24e 73.0px,#15ab58 73.5px,#01aa9c 74.5px,#00acc3 75.0px,#00addd 75.5px,#00abec 76.0px,#068cd4 78.0px,#1373c0 80.5px,#196ab9 83.5px,#283c9c 89.0px,#2e3192 96.0px,#2e3192 121.5px),linear-gradient(#2e3192 0.0px,#2c3696 40.5px,#2544a2 45.0px,#2d3293 51.0px,#283d9d 53.0px,#176dbb 54.5px,#0097dc 55.5px,#00acee 56.5px,#03aa91 58.5px,#0daa67 59.5px,#1aad56 60.5px,#3bb54a 62.0px,#7ec340 63.0px,#e0e223 64.0px,#f7e31b 64.5px,#fdcc18 65.0px,#f89e1c 65.5px,#f57d20 66.0px,#ed4426 67.5px,#ee4a25 69.0px,#f5841f 70.0px,#faac1b 70.5px,#fddf18 71.0px,#e3e322 71.5px,#9ecb39 72.0px,#61bd44 72.5px,#2fb24e 73.0px,#15ab58 73.5px,#01aa9c 74.5px,#00acc3 75.0px,#00addd 75.5px,#00abec 76.0px,#068cd4 78.0px,#1373c0 80.5px,#196ab9 83.5px,#283c9c 89.0px,#2e3192 96.0px,#2e3192 121.5px),linear-gradient(#2e3192 0.0px,#2c3696 40.5px,#2544a2 45.0px,#2d3293 51.0px,#283d9d 53.0px,#176dbb 54.5px,#0097dd 55.5px,#00adee 56.5px,#04aa8f 58.5px,#0eaa65 59.5px,#1aad56 60.5px,#3bb54a 62.0px,#7dc340 63.0px,#e0e223 64.0px,#f7e31b 64.5px,#fdcc18 65.0px,#f89d1c 65.5px,#f57c20 66.0px,#ed4226 67.5px,#ee4826 69.0px,#f5831f 70.0px,#f9aa1b 70.5px,#fddf18 71.0px,#e5e422 71.5px,#a0cc39 72.0px,#62bd44 72.5px,#30b34e 73.0px,#16ac58 73.5px,#01aa9c 74.5px,#00acc3 75.0px,#00addd 75.5px,#00abec 76.0px,#068cd4 78.0px,#1373c0 80.5px,#196ab9 83.5px,#283c9c 89.0px,#2e3192 96.0px,#2e3192 121.5px),linear-gradient(#2e3192 0.0px,#2b3696 40.5px,#2545a3 45.0px,#2d3293 51.0px,#283d9d 53.0px,#176ebc 54.5px,#0098dd 55.5px,#00aeef 56.5px,#04aa8d 58.5px,#0eaa63 59.5px,#2db24f 61.5px,#3bb64a 62.0px,#7cc340 63.0px,#dfe224 64.0px,#f8e31a 64.5px,#fdcb19 65.0px,#f89d1c 65.5px,#f57c20 66.0px,#ed4126 67.5px,#ee4626 69.0px,#f58120 70.0px,#f9a71b 70.5px,#fedf17 71.0px,#e7e521 71.5px,#a2cc38 72.0px,#64be44 72.5px,#31b34d 73.0px,#16ac58 73.5px,#01aa9c 74.5px,#00acc3 75.0px,#00addd 75.5px,#00abec 76.0px,#068cd4 78.0px,#1373c0 80.5px,#196ab9 83.5px,#283c9c 89.0px,#2e3192 96.0px,#2e3192 121.5px),linear-gradient(#2e3192 0.0px,#2b3696 40.5px,#2545a3 45.0px,#2d3293 51.0px,#283d9d 53.0px,#166ebc 54.5px,#0098de 55.5px,#00aeee 56.5px,#05aa8b 58.5px,#0eaa61 59.5px,#2db24f 61.5px,#3cb64a 62.0px,#7bc340 63.0px,#dfe224 64.0px,#f8e31a 64.5px,#fdcb19 65.0px,#f89c1c 65.5px,#f57b20 66.0px,#ed3f26 67.5px,#ed4526 69.0px,#f57f20 70.0px,#f9a51c 70.5px,#ffde17 71.0px,#eae620 71.5px,#a4cd37 72.0px,#31b34d 73.0px,#17ac57 73.5px,#01aa9c 74.5px,#00acc3 75.0px,#00addd 75.5px,#00abec 76.0px,#068cd4 78.0px,#1373c0 80.5px,#196ab9 83.5px,#283c9c 89.0px,#2e3192 96.0px,#2e3192 121.5px),linear-gradient(#2e3192 0.0px,#2b3697 40.5px,#2445a3 45.0px,#2d3293 51.0px,#283d9d 53.0px,#166fbd 54.5px,#0099de 55.5px,#00aeed 56.5px,#05aa89 58.5px,#0faa5f 59.5px,#2db24e 61.5px,#3cb64a 62.0px,#7ac240 63.0px,#dfe224 64.0px,#f8e31a 64.5px,#fdcb19 65.0px,#f89c1c 65.5px,#f57a20 66.0px,#ec3d26 67.5px,#ed4326 69.0px,#f57d20 70.0px,#f9a21c 70.5px,#ffde17 71.0px,#ece71f 71.5px,#a6ce37 72.0px,#32b34d 73.0px,#17ac57 73.5px,#01aa9b 74.5px,#00acc3 75.0px,#00addd 75.5px,#00abec 76.0px,#068cd4 78.0px,#1373c0 80.5px,#196ab9 83.5px,#283c9c 89.0px,#2e3192 96.0px,#2e3192 121.5px),linear-gradient(#2e3192 0.0px,#2b3697 40.5px,#2446a3 45.0px,#2d3293 51.0px,#283d9d 53.0px,#166fbd 54.5px,#0099de 55.5px,#00aeeb 56.5px,#06aa88 58.5px,#0faa5d 59.5px,#2eb24e 61.5px,#3cb64a 62.0px,#7ac240 63.0px,#dee224 64.0px,#f8e31a 64.5px,#fdca19 65.0px,#f89b1c 65.5px,#f47a21 66.0px,#ec3c26 67.5px,#ed4126 69.0px,#f8a01c 70.5px,#ffdb17 71.0px,#eee71f 71.5px,#a8ce36 72.0px,#32b34d 73.0px,#17ac57 73.5px,#01aa9b 74.5px,#00acc3 75.0px,#00addd 75.5px,#00abec 76.0px,#068cd4 78.0px,#1373c0 80.5px,#196ab9 83.5px,#283c9c 89.0px,#2e3192 96.0px,#2e3192 121.5px),linear-gradient(#2e3192 0.0px,#2b3697 40.5px,#2446a4 45.0px,#2d3293 51.0px,#283d9d 53.0px,#1570be 54.5px,#0099df 55.5px,#00aee9 56.5px,#06aa86 58.5px,#10aa5b 59.5px,#2eb24e 61.5px,#3cb649 62.0px,#79c240 63.0px,#dee224 64.0px,#f8e31a 64.5px,#fdca19 65.0px,#f89a1c 65.5px,#f26124 66.5px,#ec3a27 67.5px,#ed4026 69.0px,#f89d1c 70.5px,#fed917 71.0px,#f0e81e 71.5px,#aacf35 72.0px,#33b34c 73.0px,#18ac57 73.5px,#0aaa74 74.0px,#00acc3 75.0px,#00addd 75.5px,#00abec 76.0px,#068cd4 78.0px,#1373c0 80.5px,#196ab9 83.5px,#283c9c 89.0px,#2e3192 96.0px,#2e3192 121.5px),linear-gradient(#2e3192 0.0px,#2b3697 40.5px,#2447a4 45.0px,#2d3293 51.0px,#283d9d 53.0px,#1571be 54.5px,#009adf 55.5px,#00aee8 56.5px,#06aa84 58.5px,#10aa5a 59.5px,#2fb24e 61.5px,#3db649 62.0px,#78c241 63.0px,#dee224 64.0px,#f8e31a 64.5px,#fdca19 65.0px,#f89a1d 65.5px,#f26024 66.5px,#eb3927 67.5px,#ec3e26 69.0px,#f89b1c 70.5px,#fed718 71.0px,#f1e81e 71.5px,#6dc042 72.5px,#34b44c 73.0px,#18ac57 73.5px,#0aaa73 74.0px,#00acc3 75.0px,#00addd 75.5px,#00abec 76.0px,#068cd4 78.0px,#1373c0 80.5px,#196ab9 83.5px,#283c9c 89.0px,#2e3192 96.0px,#2e3192 121.5px),linear-gradient(#2e3192 0.0px,#2b3697 40.5px,#2447a4 45.0px,#2d3293 51.0px,#273d9d 53.0px,#1571bf 54.5px,#009adf 55.5px,#00a6e9 56.0px,#00aee6 56.5px,#07aa82 58.5px,#12aa59 59.5px,#2fb24e 61.5px,#3db649 62.0px,#77c241 63.0px,#dee124 64.0px,#f8e31a 64.5px,#fdc919 65.0px,#f8991d 65.5px,#f25f24 66.5px,#eb3727 67.5px,#ec3d26 69.0px,#f7981d 70.5px,#fed518 71.0px,#f1e71d 71.5px,#6ec042 72.5px,#34b44c 73.0px,#19ac57 73.5px,#0aaa73 74.0px,#00acc3 75.0px,#00addd 75.5px,#00abec 76.0px,#068cd4 78.0px,#1373c0 80.5px,#196ab9 83.5px,#283c9c 89.0px,#2e3192 96.0px,#2e3192 121.5px),linear-gradient(#2e3192 0.0px,#2b3697 40.5px,#2448a4 45.0px,#2d3293 50.5px,#273d9e 53.0px,#1472bf 54.5px,#009be0 55.5px,#00a7e9 56.0px,#00ade4 56.5px,#07aa80 58.5px,#13ab59 59.5px,#2fb24e 61.5px,#3db649 62.0px,#76c141 63.0px,#dde124 64.0px,#f8e31a 64.5px,#fdc919 65.0px,#f7981d 65.5px,#f25e24 66.5px,#eb3527 67.5px,#ec3b26 69.0px,#f7961d 70.5px,#fed318 71.0px,#f2e71d 71.5px,#70c042 72.5px,#35b44c 73.0px,#19ac56 73.5px,#0aaa72 74.0px,#00acc3 75.0px,#00addd 75.5px,#00abec 76.0px,#068cd4 78.0px,#1373c0 80.5px,#196ab9 83.5px,#283c9c 89.0px,#2e3192 96.0px,#2e3192 121.5px),linear-gradient(#2e3192 0.0px,#2b3697 40.5px,#2448a5 45.0px,#2d3293 50.5px,#273d9e 53.0px,#1472c0 54.5px,#009be0 55.5px,#00a7ea 56.0px,#00ade3 56.5px,#08aa7e 58.5px,#14ab59 59.5px,#30b34e 61.5px,#3db649 62.0px,#75c141 63.0px,#dde124 64.0px,#f8e31a 64.5px,#fdc919 65.0px,#f7981d 65.5px,#f25d24 66.5px,#eb3427 67.5px,#ec3927 69.0px,#f7941d 70.5px,#fed018 71.0px,#f2e71d 71.5px,#72c141 72.5px,#35b44b 73.0px,#1aad56 73.5px,#0baa72 74.0px,#00acc3 75.0px,#00addd 75.5px,#00abec 76.0px,#068cd4 78.0px,#1373c0 80.5px,#196ab9 83.5px,#283c9c 89.0px,#2e3192 96.0px,#2e3192 121.5px),linear-gradient(#2e3192 0.0px,#2b3697 40.5px,#2449a5 45.0px,#2d3293 50.5px,#273e9e 53.0px,#1473c0 54.5px,#009ce1 55.5px,#00a8ea 56.0px,#00ade1 56.5px,#08aa7d 58.5px,#15ab58 59.5px,#30b34d 61.5px,#3db649 62.0px,#74c141 63.0px,#dde124 64.0px,#f8e31a 64.5px,#fdc819 65.0px,#f7971d 65.5px,#f15c24 66.5px,#ea3227 67.5px,#eb3827 69.0px,#f7921d 70.5px,#fdce18 71.0px,#f3e61d 71.5px,#73c141 72.5px,#36b44b 73.0px,#1aad56 73.5px,#0baa71 74.0px,#00acc3 75.0px,#00addd 75.5px,#00abec 76.0px,#068cd4 78.0px,#1373c0 80.5px,#196ab9 83.5px,#283c9c 89.0px,#2e3192 96.0px,#2e3192 121.5px),linear-gradient(#2e3192 0.0px,#2b3697 40.5px,#2349a5 45.0px,#2d3293 50.5px,#273e9e 53.0px,#1374c0 54.5px,#009ce1 55.5px,#00a8ea 56.0px,#00ade0 56.5px,#09aa7b 58.5px,#0eaa64 59.0px,#1dad55 60.0px,#3eb649 62.0px,#73c141 63.0px,#dde124 64.0px,#f8e31a 64.5px,#fdc819 65.0px,#f7971d 65.5px,#f15b24 66.5px,#ea3027 67.5px,#eb3627 69.0px,#f7901e 70.5px,#fdcc18 71.0px,#f3e61d 71.5px,#75c141 72.5px,#36b44b 73.0px,#1aad56 73.5px,#0baa71 74.0px,#00acc3 75.0px,#00addd 75.5px,#00abec 76.0px,#068cd4 78.0px,#1373c0 80.5px,#196ab9 83.5px,#283c9c 89.0px,#2e3192 96.0px,#2e3192 121.5px);background-position:0.0px 0,2.0px 0,4.0px 0,6.0px 0,8.0px 0,10.0px 0,12.0px 0,14.0px 0,16.0px 0,18.0px 0,20.0px 0,22.0px 0,24.0px 0,26.0px 0,28.0px 0,30.0px 0,32.0px 0,34.0px 0,36.0px 0,38.0px 0,40.0px 0,42.0px 0,44.0px 0,46.0px 0,48.0px 0,50.0px 0,52.0px 0,54.0px 0,56.0px 0,58.0px 0,60.0px 0,62.0px 0,64.0px 0,66.0px 0,68.0px 0,70.0px 0,72.0px 0,74.0px 0,76.0px 0,78.0px 0,80.0px 0,82.0px 0,84.0px 0,86.0px 0,88.0px 0,90.0px 0,92.0px 0,94.0px 0,96.0px 0,98.0px 0,100.0px 0,102.0px 0,104.0px 0,106.0px 0,108.0px 0,110.0px 0,112.0px 0,114.0px 0,116.0px 0,118.0px 0,120.0px 0,122.0px 0,124.0px 0,126.0px 0,128.0px 0,130.0px 0,132.0px 0,134.0px 0,136.0px 0,138.0px 0,140.0px 0,142.0px 0,144.0px 0,146.0px 0;background-size:2.3px 121.9px;background-repeat:no-repeat;background-color:#2e3192;"></div><div style="position:absolute;left:31.2px;top:239.1px;width:110.4px;height:122.1px;background-image:linear-gradient(#2e3192 0.0px,#2b3697 42.0px,#2c3596 52.0px,#273f9f 54.5px,#1d62b3 56.0px,#0099df 57.5px,#00a9eb 58.0px,#00abb2 59.0px,#09aa79 63.5px,#13ab59 65.0px,#41b749 66.5px,#b6d331 68.0px,#e3e322 68.5px,#f7e31b 69.0px,#fed718 69.5px,#f68f1e 70.5px,#eb3527 72.5px,#e82628 74.0px,#ee4726 75.5px,#f89b1c 77.0px,#fddf18 78.0px,#f3e61c 78.5px,#d9e026 79.0px,#71c042 80.5px,#3bb54a 81.5px,#7ac240 84.0px,#68bf43 84.5px,#41b749 85.0px,#10aa5a 86.0px,#00abb0 87.0px,#00adee 88.0px,#0096dc 89.0px,#1d62b3 90.5px,#273d9e 92.5px,#2e3192 96.5px,#2e3192 122.0px),linear-gradient(#2e3192 0.0px,#2b3697 42.0px,#2c3596 52.0px,#273f9f 54.5px,#1d62b3 56.0px,#0099df 57.5px,#00a9eb 58.0px,#00abb2 59.0px,#09aa79 63.5px,#13ab59 65.0px,#41b749 66.5px,#b6d331 68.0px,#e3e322 68.5px,#f7e31b 69.0px,#fed718 69.5px,#f68f1e 70.5px,#eb3527 72.5px,#e82628 74.0px,#ee4726 75.5px,#f89b1c 77.0px,#fddf18 78.0px,#f3e61c 78.5px,#d9e026 79.0px,#71c042 80.5px,#3bb54a 81.5px,#7dc340 84.0px,#6abf43 84.5px,#42b749 85.0px,#10aa5a 86.0px,#00abb0 87.0px,#00adee 88.0px,#0096dc 89.0px,#1d62b3 90.5px,#273d9e 92.5px,#2e3192 96.5px,#2e3192 122.0px),linear-gradient(#2e3192 0.0px,#2b3697 42.0px,#2c3596 52.0px,#273f9f 54.5px,#1d62b3 56.0px,#0099df 57.5px,#00a9eb 58.0px,#00abb2 59.0px,#09aa79 63.5px,#13ab59 65.0px,#41b749 66.5px,#b6d331 68.0px,#e3e322 68.5px,#f7e31b 69.0px,#fed718 69.5px,#f68f1e 70.5px,#eb3527 72.5px,#e82628 74.0px,#ee4726 75.5px,#f89b1c 77.0px,#fddf18 78.0px,#f3e61c 78.5px,#d9e026 79.0px,#71c042 80.5px,#3cb64a 81.5px,#7fc340 84.0px,#6cbf42 84.5px,#43b749 85.0px,#10aa5a 86.0px,#00abb0 87.0px,#00adee 88.0px,#0096dc 89.0px,#1d62b3 90.5px,#273d9e 92.5px,#2e3192 96.5px,#2e3192 122.0px),linear-gradient(#2e3192 0.0px,#2b3697 42.0px,#2c3596 52.0px,#273f9f 54.5px,#1d62b3 56.0px,#0099df 57.5px,#00a9eb 58.0px,#00abb2 59.0px,#09aa79 63.5px,#13ab59 65.0px,#41b749 66.5px,#b6d331 68.0px,#e3e322 68.5px,#f7e31b 69.0px,#fed718 69.5px,#f68f1e 70.5px,#eb3527 72.5px,#e82628 74.0px,#ee4726 75.5px,#f89b1c 77.0px,#fddf18 78.0px,#f3e61c 78.5px,#d9e026 79.0px,#71c042 80.5px,#3cb64a 81.5px,#81c43f 84.0px,#6ec042 84.5px,#43b748 85.0px,#10aa5a 86.0px,#00abb0 87.0px,#00adee 88.0px,#0096dc 89.0px,#1d62b3 90.5px,#273d9e 92.5px,#2e3192 96.5px,#2e3192 122.0px),linear-gradient(#2e3192 0.0px,#2b3797 42.0px,#2c3596 52.0px,#273f9f 54.5px,#1d62b3 56.0px,#0099df 57.5px,#00a9eb 58.0px,#00abb2 59.0px,#09aa79 63.5px,#13ab59 65.0px,#41b749 66.5px,#b6d331 68.0px,#e3e322 68.5px,#f7e31b 69.0px,#fed718 69.5px,#f68f1e 70.5px,#eb3527 72.5px,#e82628 74.0px,#ee4726 75.5px,#f89b1c 77.0px,#fddf18 78.0px,#f3e61c 78.5px,#d9e026 79.0px,#71c042 80.5px,#3cb64a 81.5px,#83c43f 84.0px,#6fc042 84.5px,#44b748 85.0px,#10aa5a 86.0px,#00abb0 87.0px,#00adee 88.0px,#0096dc 89.0px,#1d62b3 90.5px,#273d9e 92.5px,#2e3192 96.5px,#2e3192 122.0px),linear-gradient(#2e3192 0.0px,#2b3797 42.0px,#2c3596 52.0px,#273f9f 54.5px,#1d62b3 56.0px,#0099df 57.5px,#00a9eb 58.0px,#00abb2 59.0px,#09aa79 63.5px,#13ab59 65.0px,#41b749 66.5px,#b6d331 68.0px,#e3e322 68.5px,#f7e31b 69.0px,#fed718 69.5px,#f68f1e 70.5px,#eb3527 72.5px,#e82628 74.0px,#ee4726 75.5px,#f89b1c 77.0px,#fddf18 78.0px,#f3e61c 78.5px,#d9e026 79.0px,#71c042 80.5px,#3cb64a 81.5px,#85c53f 84.0px,#71c042 84.5px,#45b748 85.0px,#10aa5a 86.0px,#00abb0 87.0px,#00adee 88.0px,#0096dc 89.0px,#1d62b3 90.5px,#273d9e 92.5px,#2e3192 96.5px,#2e3192 122.0px),linear-gradient(#2e3192 0.0px,#2c3696 41.5px,#2d3293 48.0px,#283d9d 54.0px,#2349a5 55.0px,#1374c1 56.5px,#0099df 57.5px,#00a9eb 58.0px,#00abb2 59.0px,#09aa79 63.5px,#13ab59 65.0px,#41b749 66.5px,#b6d331 68.0px,#e3e322 68.5px,#f7e31b 69.0px,#fed718 69.5px,#f68f1e 70.5px,#eb3527 72.5px,#e82628 74.0px,#ee4726 75.5px,#f89b1c 77.0px,#fddf18 78.0px,#f3e61c 78.5px,#d9e026 79.0px,#71c042 80.5px,#3cb64a 81.5px,#87c53e 84.0px,#73c141 84.5px,#46b848 85.0px,#10aa5a 86.0px,#00abb0 87.0px,#00adee 88.0px,#0096dc 89.0px,#1d62b3 90.5px,#273d9e 92.5px,#2e3192 96.5px,#2e3192 122.0px),linear-gradient(#2e3192 0.0px,#2b3696 41.5px,#2d3394 47.5px,#293b9b 53.5px,#273f9f 54.5px,#1d62b3 56.0px,#0099df 57.5px,#00a9eb 58.0px,#00abb2 59.0px,#09aa79 63.5px,#13ab59 65.0px,#41b749 66.5px,#b6d331 68.0px,#e3e322 68.5px,#f7e31b 69.0px,#fed718 69.5px,#f68f1e 70.5px,#eb3527 72.5px,#e82628 74.0px,#ee4726 75.5px,#f89b1c 77.0px,#fddf18 78.0px,#f3e61c 78.5px,#d9e026 79.0px,#71c042 80.5px,#3cb64a 81.5px,#89c53e 84.0px,#74c141 84.5px,#46b848 85.0px,#10aa5a 86.0px,#00abb0 87.0px,#00adee 88.0px,#0096dc 89.0px,#1d62b3 90.5px,#273d9e 92.5px,#2e3192 96.5px,#2e3192 122.0px),linear-gradient(#2e3192 0.0px,#2b3696 41.5px,#2d3394 47.5px,#2a3999 53.0px,#273f9f 54.5px,#1d62b3 56.0px,#0099df 57.5px,#00a9eb 58.0px,#00abb2 59.0px,#09aa79 63.5px,#13ab59 65.0px,#41b749 66.5px,#b6d331 68.0px,#e3e322 68.5px,#f7e31b 69.0px,#fed718 69.5px,#f68f1e 70.5px,#eb3527 72.5px,#e82628 74.0px,#ee4726 75.5px,#f89b1c 77.0px,#fddf18 78.0px,#f3e61c 78.5px,#d9e026 79.0px,#71c042 80.5px,#3cb64a 81.5px,#8bc63e 84.0px,#76c141 84.5px,#47b848 85.0px,#10aa5a 86.0px,#00abb0 87.0px,#00adee 88.0px,#0096dc 89.0px,#1d62b3 90.5px,#273d9e 92.5px,#2e3192 96.5px,#2e3192 122.0px),linear-gradient(#2e3192 0.0px,#2b3697 41.5px,#2d3394 47.5px,#2a3999 53.0px,#273f9f 54.5px,#1d62b3 56.0px,#0099df 57.5px,#00a9eb 58.0px,#00abb2 59.0px,#09aa79 63.5px,#13ab59 65.0px,#41b749 66.5px,#b6d331 68.0px,#e3e322 68.5px,#f7e31b 69.0px,#fed718 69.5px,#f68f1e 70.5px,#eb3527 72.5px,#e82628 74.0px,#ee4726 75.5px,#f89b1c 77.0px,#fddf18 78.0px,#f3e61c 78.5px,#d9e026 79.0px,#71c042 80.5px,#3cb64a 81.5px,#8ec63d 84.0px,#78c241 84.5px,#48b848 85.0px,#10aa5a 86.0px,#00abb0 87.0px,#00adee 88.0px,#0096dc 89.0px,#1d62b3 90.5px,#273d9e 92.5px,#2e3192 96.5px,#2e3192 122.0px),linear-gradient(#2e3192 0.0px,#2b3697 41.5px,#2c3495 47.0px,#2b3798 52.5px,#273f9f 54.5px,#1d62b3 56.0px,#0099df 57.5px,#00a9eb 58.0px,#00abb2 59.0px,#09aa79 63.5px,#13ab59 65.0px,#41b749 66.5px,#b6d331 68.0px,#e3e322 68.5px,#f7e31b 69.0px,#fed718 69.5px,#f68f1e 70.5px,#eb3527 72.5px,#e82628 74.0px,#ee4726 75.5px,#f89b1c 77.0px,#fddf18 78.0px,#f3e61c 78.5px,#d9e026 79.0px,#71c042 80.5px,#3cb64a 81.5px,#90c73d 84.0px,#7ac240 84.5px,#49b848 85.0px,#10aa5a 86.0px,#00abb0 87.0px,#00adee 88.0px,#0096dc 89.0px,#1d62b3 90.5px,#273d9e 92.5px,#2e3192 96.5px,#2e3192 122.0px),linear-gradient(#2e3192 0.0px,#2b3697 41.5px,#2c3495 47.0px,#2b3798 52.5px,#273f9f 54.5px,#1d62b3 56.0px,#0099df 57.5px,#00a9eb 58.0px,#00abb2 59.0px,#09aa79 63.5px,#13ab59 65.0px,#41b749 66.5px,#b6d331 68.0px,#e3e322 68.5px,#f7e31b 69.0px,#fed718 69.5px,#f68f1e 70.5px,#eb3527 72.5px,#e82628 74.0px,#ee4726 75.5px,#f89b1c 77.0px,#fddf18 78.0px,#f3e61c 78.5px,#d9e026 79.0px,#71c042 80.5px,#3cb64a 81.5px,#92c73d 84.0px,#7bc340 84.5px,#4ab848 85.0px,#10aa5a 86.0px,#00abb0 87.0px,#00adee 88.0px,#0096dc 89.0px,#1d62b3 90.5px,#273d9e 92.5px,#2e3192 96.5px,#2e3192 122.0px),linear-gradient(#2e3192 0.0px,#2b3697 41.5px,#2c3495 47.0px,#2b3798 52.5px,#273f9f 54.5px,#1d62b3 56.0px,#0099df 57.5px,#00a9eb 58.0px,#00abb2 59.0px,#09aa79 63.5px,#13ab59 65.0px,#41b749 66.5px,#b6d331 68.0px,#e3e322 68.5px,#f7e31b 69.0px,#fed718 69.5px,#f68f1e 70.5px,#eb3527 72.5px,#e82628 74.0px,#ee4726 75.5px,#f89b1c 77.0px,#fddf18 78.0px,#f3e61c 78.5px,#d9e026 79.0px,#71c042 80.5px,#3cb64a 81.5px,#94c83c 84.0px,#7dc340 84.5px,#4ab947 85.0px,#10aa5a 86.0px,#00abb0 87.0px,#00adee 88.0px,#0096dc 89.0px,#1d62b3 90.5px,#273d9e 92.5px,#2e3192 96.5px,#2e3192 122.0px),linear-gradient(#2e3192 0.0px,#2b3697 41.5px,#2c3495 47.0px,#2b3798 52.5px,#273f9f 54.5px,#1d62b3 56.0px,#0099df 57.5px,#00a9eb 58.0px,#00abb2 59.0px,#09aa79 63.5px,#13ab59 65.0px,#41b749 66.5px,#b6d331 68.0px,#e3e322 68.5px,#f7e31b 69.0px,#fed718 69.5px,#f68f1e 70.5px,#eb3527 72.5px,#e82628 74.0px,#ee4726 75.5px,#f89b1c 77.0px,#fddf18 78.0px,#f3e61c 78.5px,#d9e026 79.0px,#71c042 80.5px,#3cb649 81.5px,#96c83c 84.0px,#7fc33f 84.5px,#4bb947 85.0px,#10aa5a 86.0px,#00abb0 87.0px,#00adee 88.0px,#0096dc 89.0px,#1d62b3 90.5px,#273d9e 92.5px,#2e3192 96.5px,#2e3192 122.0px),linear-gradient(#2e3192 0.0px,#2b3697 41.5px,#2b3696 46.5px,#2c3596 52.0px,#273f9f 54.5px,#1d62b3 56.0px,#0099df 57.5px,#00a9eb 58.0px,#00abb2 59.0px,#09aa79 63.5px,#13ab59 65.0px,#41b749 66.5px,#b6d331 68.0px,#e3e322 68.5px,#f7e31b 69.0px,#fed718 69.5px,#f68f1e 70.5px,#eb3527 72.5px,#e82628 74.0px,#ee4726 75.5px,#f89b1c 77.0px,#fddf18 78.0px,#f3e61c 78.5px,#d9e026 79.0px,#71c042 80.5px,#3cb649 81.5px,#98c93b 84.0px,#80c43f 84.5px,#4cb947 85.0px,#10aa5a 86.0px,#00abb0 87.0px,#00adee 88.0px,#0096dc 89.0px,#1d62b3 90.5px,#273d9e 92.5px,#2e3192 96.5px,#2e3192 122.0px),linear-gradient(#2e3192 0.0px,#2b3697 41.5px,#2b3696 46.5px,#2c3596 52.0px,#273f9f 54.5px,#1d62b3 56.0px,#0099df 57.5px,#00a9eb 58.0px,#00abb2 59.0px,#09aa79 63.5px,#13ab59 65.0px,#41b749 66.5px,#b6d331 68.0px,#e3e322 68.5px,#f7e31b 69.0px,#fed718 69.5px,#f68f1e 70.5px,#eb3527 72.5px,#e82628 74.0px,#ee4726 75.5px,#f89b1c 77.0px,#fddf18 78.0px,#f3e61c 78.5px,#d9e026 79.0px,#71c042 80.5px,#3db649 81.5px,#9ac93b 84.0px,#82c43f 84.5px,#4db947 85.0px,#10aa5a 86.0px,#00abb0 87.0px,#00adee 88.0px,#0096dc 89.0px,#1d62b3 90.5px,#273d9e 92.5px,#2e3192 96.5px,#2e3192 122.0px),linear-gradient(#2e3192 0.0px,#2b3697 41.5px,#2b3697 46.5px,#2c3596 52.0px,#273f9f 54.5px,#1d62b3 56.0px,#0099df 57.5px,#00a9eb 58.0px,#00abb2 59.0px,#09aa79 63.5px,#13ab59 65.0px,#41b749 66.5px,#b6d331 68.0px,#e3e322 68.5px,#f7e31b 69.0px,#fed718 69.5px,#f68f1e 70.5px,#eb3527 72.5px,#e82628 74.0px,#ee4726 75.5px,#f89b1c 77.0px,#fddf18 78.0px,#f3e61c 78.5px,#d9e026 79.0px,#71c042 80.5px,#3db649 81.5px,#9cca3a 84.0px,#84c43f 84.5px,#4db947 85.0px,#2ab150 85.5px,#10aa5a 86.0px,#00abb0 87.0px,#00adee 88.0px,#0096dc 89.0px,#1d62b3 90.5px,#273d9e 92.5px,#2e3192 96.5px,#2e3192 122.0px),linear-gradient(#2e3192 0.0px,#2b3697 41.5px,#2b3697 46.5px,#2c3596 52.0px,#273f9f 54.5px,#1d62b3 56.0px,#0099df 57.5px,#00a9eb 58.0px,#00abb2 59.0px,#09aa79 63.5px,#13ab59 65.0px,#41b749 66.5px,#b6d331 68.0px,#e3e322 68.5px,#f7e31b 69.0px,#fed718 69.5px,#f68f1e 70.5px,#eb3527 72.5px,#e82628 74.0px,#ee4726 75.5px,#f89b1c 77.0px,#fddf18 78.0px,#f3e61c 78.5px,#dae025 79.0px,#71c142 80.5px,#53ba46 81.0px,#40b649 81.5px,#a6ce37 83.5px,#c0d72e 84.0px,#a8ce36 84.5px,#34b44c 85.5px,#17ac57 86.0px,#00abad 87.0px,#00adee 88.0px,#0096dc 89.0px,#1d62b3 90.5px,#273d9e 92.5px,#2e3192 96.5px,#2e3192 122.0px),linear-gradient(#2e3192 0.0px,#2b3797 41.5px,#2b3697 46.5px,#2c3596 52.0px,#273f9f 54.5px,#1d62b3 56.0px,#0099df 57.5px,#00a9eb 58.0px,#00abb2 59.0px,#09aa79 63.5px,#13ab59 65.0px,#41b749 66.5px,#b6d331 68.0px,#e3e322 68.5px,#f7e31b 69.0px,#fed718 69.5px,#f68f1e 70.5px,#eb3527 72.5px,#e82628 74.0px,#ee4726 75.5px,#f89b1c 77.0px,#fddf18 78.0px,#f3e61c 78.5px,#dae025 79.0px,#72c141 80.5px,#55bb46 81.0px,#44b748 81.5px,#a2cc38 83.0px,#e6e421 84.0px,#cedc29 84.5px,#46b848 85.5px,#1eae55 86.0px,#09aa79 86.5px,#00aaa9 87.0px,#00adee 88.0px,#0096dc 89.0px,#1d62b3 90.5px,#273d9e 92.5px,#2e3192 96.5px,#2e3192 122.0px),linear-gradient(#2e3192 0.0px,#2b3797 41.5px,#2b3697 46.5px,#2c3596 52.0px,#273f9f 54.5px,#1d62b3 56.0px,#0099df 57.5px,#00a9eb 58.0px,#00abb2 59.0px,#09aa79 63.5px,#13ab59 65.0px,#41b749 66.5px,#b6d331 68.0px,#e3e322 68.5px,#f7e31b 69.0px,#fed718 69.5px,#f68f1e 70.5px,#eb3527 72.5px,#e82628 74.0px,#ee4726 75.5px,#f89b1c 77.0px,#fddf18 78.0px,#f3e61c 78.5px,#dae025 79.0px,#72c141 80.5px,#56bb46 81.0px,#48b848 81.5px,#8ec63d 82.5px,#e6e521 83.5px,#f6e41b 84.0px,#f1e71e 84.5px,#afd134 85.0px,#5fbd44 85.5px,#25b052 86.0px,#0baa72 86.5px,#00aaa6 87.0px,#00adee 88.0px,#0096dc 89.0px,#1d62b3 90.5px,#273d9e 92.5px,#2e3192 96.5px,#2e3192 122.0px),linear-gradient(#2e3192 0.0px,#2b3797 41.5px,#2b3697 46.5px,#2c3596 52.0px,#273f9f 54.5px,#1d62b3 56.0px,#009adf 57.5px,#00aaec 58.0px,#00abb1 59.0px,#05aa8b 62.0px,#09aa77 63.5px,#13ab59 65.0px,#42b749 66.5px,#b7d431 68.0px,#e4e422 68.5px,#f7e31b 69.0px,#fed518 69.5px,#f68d1e 70.5px,#eb3527 72.5px,#e92728 74.0px,#ee4926 75.5px,#f89e1c 77.0px,#fce018 78.0px,#f3e61d 78.5px,#b1d233 79.5px,#70c042 80.5px,#55bb46 81.0px,#49b848 81.5px,#9bca3a 82.5px,#cfdc29 83.0px,#f5e51c 83.5px,#fedf17 84.0px,#f9e21a 84.5px,#cfdc29 85.0px,#77c241 85.5px,#2cb14f 86.0px,#0caa6b 86.5px,#00aaa2 87.0px,#00adee 88.0px,#0096dc 89.0px,#1d62b3 90.5px,#273d9e 92.5px,#2e3192 96.5px,#2e3192 122.0px),linear-gradient(#2e3192 0.0px,#2c3596 41.0px,#2a3898 46.0px,#2c3596 52.0px,#273f9f 54.5px,#1d62b3 56.0px,#009be0 57.5px,#00abed 58.0px,#00abaa 59.0px,#06aa85 61.5px,#0baa70 63.5px,#16ac58 65.0px,#31b34d 66.0px,#48b848 66.5px,#bed62f 68.0px,#ece71f 68.5px,#f9e21a 69.0px,#fdce18 69.5px,#f6881f 70.5px,#eb3327 72.5px,#e92b28 74.0px,#ef5025 75.5px,#f9aa1b 77.0px,#fdcf18 77.5px,#f9e21a 78.0px,#efe81e 78.5px,#82c43f 80.0px,#4db947 81.0px,#44b748 81.5px,#6ec042 82.0px,#e1e323 83.0px,#fbe119 83.5px,#fcc519 84.0px,#fed818 84.5px,#ece61f 85.0px,#8cc63e 85.5px,#31b34d 86.0px,#0daa67 86.5px,#00aaa1 87.0px,#00accd 87.5px,#00adee 88.0px,#0194da 89.0px,#1d60b2 90.5px,#283d9d 92.5px,#2e3192 96.5px,#2e3192 122.0px),linear-gradient(#2e3192 0.0px,#2c3596 41.0px,#2a3898 46.0px,#2c3596 52.0px,#273f9f 54.5px,#1d62b3 56.0px,#009ce1 57.5px,#00adee 58.0px,#00aaa4 59.0px,#08aa7d 61.0px,#0aaa73 63.0px,#18ac57 65.0px,#33b44c 66.0px,#4db947 66.5px,#c6d92c 68.0px,#f1e71e 68.5px,#fbe119 69.0px,#fcc619 69.5px,#f5831f 70.5px,#ea3227 72.5px,#ea2f27 74.0px,#f15725 75.5px,#f78f1e 76.5px,#ffda17 77.5px,#f6e41b 78.0px,#e2e323 78.5px,#77c241 80.0px,#45b748 81.0px,#3fb649 81.5px,#6ec042 82.0px,#aacf35 82.5px,#f0e81e 83.0px,#ffdb17 83.5px,#faae1b 84.0px,#fcc019 84.5px,#f4e51c 85.0px,#9dcb3a 85.5px,#36b44b 86.0px,#0eaa63 86.5px,#00aaa0 87.0px,#00acce 87.5px,#00aced 88.0px,#0292d9 89.0px,#1d5fb1 90.5px,#283d9d 92.5px,#2e3192 96.5px,#2e3192 122.0px),linear-gradient(#2e3192 0.0px,#2c3596 41.0px,#2a3898 46.0px,#2c3596 52.0px,#273f9f 54.5px,#1d62b3 56.0px,#009ee2 57.5px,#00aeed 58.0px,#01aa9d 59.0px,#0baa71 61.0px,#0caa6c 63.0px,#14ab58 64.5px,#36b44b 66.0px,#53ba46 66.5px,#cddb2a 68.0px,#f3e61d 68.5px,#fddf18 69.0px,#f57e20 70.5px,#ed4026 72.0px,#ea3127 72.5px,#ea3327 74.0px,#f25e24 75.5px,#f8991d 76.5px,#fddf18 77.5px,#f3e61c 78.0px,#6bbf42 80.0px,#3cb64a 81.0px,#39b54a 81.5px,#6cbf42 82.0px,#f2e61d 83.0px,#fdcd18 83.5px,#f89c1c 84.0px,#faae1b 84.5px,#f8e21a 85.0px,#aacf35 85.5px,#3ab54a 86.0px,#0eaa61 86.5px,#00aaa0 87.0px,#00accf 87.5px,#00abed 88.0px,#0391d8 89.0px,#1e5eb1 90.5px,#283d9d 92.5px,#2e3192 96.5px,#2e3192 122.0px),linear-gradient(#2e3192 0.0px,#2c3696 41.0px,#2a3898 46.0px,#2c3596 52.0px,#273f9f 54.5px,#1d62b3 56.0px,#009fe3 57.5px,#00aee9 58.0px,#02aa98 59.0px,#0daa66 61.0px,#0eaa64 63.0px,#1dad55 65.0px,#38b54a 66.0px,#82c43f 67.0px,#d4de27 68.0px,#f4e51c 68.5px,#ffde17 69.0px,#f7931d 70.0px,#f26124 71.0px,#ea3027 72.5px,#eb3727 74.0px,#f36623 75.5px,#f9a41c 76.5px,#fdcc18 77.0px,#fae119 77.5px,#f0e81e 78.0px,#81c43f 79.5px,#47b848 80.5px,#36b44b 81.0px,#36b44b 81.5px,#6abf43 82.0px,#f5e51c 83.0px,#fcbf1a 83.5px,#f68d1e 84.0px,#f89c1c 84.5px,#fde018 85.0px,#b7d431 85.5px,#41b749 86.0px,#0faa5f 86.5px,#00aaa0 87.0px,#00acd0 87.5px,#00aaec 88.0px,#048fd7 89.0px,#1e5db0 90.5px,#283d9d 92.5px,#2e3192 96.5px,#2e3192 122.0px),linear-gradient(#2e3192 0.0px,#2c3696 41.0px,#2a399a 45.5px,#2c3495 51.5px,#273f9f 54.5px,#1d62b3 56.0px,#048fd7 57.0px,#00a0e4 57.5px,#00ade4 58.0px,#03aa92 59.0px,#10aa5b 61.0px,#16ac58 64.0px,#1fae54 65.0px,#3db649 66.0px,#88c53e 67.0px,#dbe025 68.0px,#f6e41b 68.5px,#fed817 69.0px,#f68e1e 70.0px,#f15c24 71.0px,#ea2f27 72.5px,#ec3b26 74.0px,#f36d22 75.5px,#faaf1b 76.5px,#fed818 77.0px,#f7e31b 77.5px,#e4e422 78.0px,#75c141 79.5px,#3db649 80.5px,#33b34d 81.0px,#33b34c 81.5px,#68bf43 82.0px,#b6d331 82.5px,#f7e31b 83.0px,#f58120 84.0px,#f68d1e 84.5px,#fed817 85.0px,#c3d82d 85.5px,#49b848 86.0px,#0faa5c 86.5px,#00aaa0 87.0px,#00acd1 87.5px,#00aaeb 88.0px,#058ed5 89.0px,#1e5caf 90.5px,#283c9d 92.5px,#2e3192 96.5px,#2e3192 122.0px),linear-gradient(#2e3192 0.0px,#2c3696 41.0px,#293a9a 45.5px,#2c3495 51.5px,#273f9f 54.5px,#1c62b3 56.0px,#0391d8 57.0px,#00a1e5 57.5px,#00ade0 58.0px,#05aa8c 59.0px,#10aa5c 60.5px,#15ab58 61.5px,#16ac58 63.5px,#22af53 65.0px,#42b749 66.0px,#8ec63d 67.0px,#e2e323 68.0px,#f8e31a 68.5px,#fed118 69.0px,#f6891e 70.0px,#f15825 71.0px,#ea2e27 72.5px,#ec3f26 74.0px,#f47521 75.5px,#f7921d 76.0px,#fedf18 77.0px,#f4e51c 77.5px,#d7df26 78.0px,#69bf43 79.5px,#49b848 80.0px,#36b44b 80.5px,#31b34d 81.5px,#66be43 82.0px,#bad530 82.5px,#fae21a 83.0px,#f9a31c 83.5px,#f47421 84.0px,#f58020 84.5px,#fdc919 85.0px,#d0dc29 85.5px,#50ba47 86.0px,#10aa5a 86.5px,#00aa9f 87.0px,#00add3 87.5px,#00a9eb 88.0px,#068cd4 89.0px,#1f5baf 90.5px,#283c9c 92.5px,#2e3192 97.0px,#2e3192 122.0px),linear-gradient(#2e3192 0.0px,#2b3696 41.0px,#293a9a 45.5px,#2c3495 51.5px,#273f9f 54.5px,#1c62b3 56.0px,#0293d9 57.0px,#00a3e6 57.5px,#00addc 58.0px,#06aa87 59.0px,#15ab58 60.5px,#1bad56 61.5px,#1aad56 63.5px,#24af52 65.0px,#48b848 66.0px,#94c83c 67.0px,#e9e620 68.0px,#f9e21a 68.5px,#fdca19 69.0px,#f5841f 70.0px,#f05325 71.0px,#ea2d27 72.5px,#ed4326 74.0px,#f57c20 75.5px,#f89c1c 76.0px,#fcc619 76.5px,#fbe119 77.0px,#f1e71e 77.5px,#7fc33f 79.0px,#3db649 80.0px,#2bb150 81.0px,#2eb24e 81.5px,#64be43 82.0px,#bed62f 82.5px,#fce018 83.0px,#f7951d 83.5px,#f36823 84.0px,#f47321 84.5px,#fbba1a 85.0px,#dce125 85.5px,#58bb45 86.0px,#11aa59 86.5px,#00aa9f 87.0px,#00add4 87.5px,#00a8ea 88.0px,#078ad3 89.0px,#1f59ae 90.5px,#283c9c 92.5px,#2e3192 97.0px,#2e3192 122.0px),linear-gradient(#2e3192 0.0px,#2b3697 41.0px,#293a9a 45.5px,#2c3495 51.5px,#273f9f 54.5px,#1c62b3 56.0px,#0194db 57.0px,#00a4e7 57.5px,#00add7 58.0px,#07aa81 59.0px,#10aa5a 60.0px,#24af52 61.0px,#1dae55 63.5px,#26b051 65.0px,#34b44c 65.5px,#6ec042 66.5px,#f0e81e 68.0px,#fbe119 68.5px,#fcc319 69.0px,#f89b1c 69.5px,#ef4f25 71.0px,#e92c27 72.5px,#ee4726 74.0px,#f5841f 75.5px,#fed118 76.5px,#f7e31b 77.0px,#e7e521 77.5px,#94c83c 78.5px,#36b44b 80.0px,#26b051 81.0px,#29b150 81.5px,#58bb45 82.0px,#afd134 82.5px,#f8e31a 83.0px,#f47621 84.0px,#f5821f 84.5px,#fdce18 85.0px,#c9da2b 85.5px,#4ab847 86.0px,#0faa5e 86.5px,#00aaa4 87.0px,#00add7 87.5px,#00a7e9 88.0px,#0889d1 89.0px,#1f58ae 90.5px,#283c9c 92.5px,#2e3192 97.0px,#2e3192 122.0px),linear-gradient(#2e3192 0.0px,#2b3697 41.0px,#293a9b 45.5px,#2c3495 51.5px,#273f9f 54.5px,#1c63b3 56.0px,#0096dc 57.0px,#00a5e8 57.5px,#00add3 58.0px,#08aa7b 59.0px,#15ab58 60.0px,#2ab150 61.0px,#21af53 63.5px,#29b150 65.0px,#37b44b 65.5px,#74c141 66.5px,#f2e71d 68.0px,#fddf18 68.5px,#f7941d 69.5px,#ee4a25 71.0px,#e92b28 72.5px,#ee4b25 74.0px,#f68c1e 75.5px,#ffdd17 76.5px,#f4e51c 77.0px,#d9e026 77.5px,#86c53e 78.5px,#44b748 79.5px,#31b34d 80.0px,#21af53 81.0px,#24af52 81.5px,#4ab947 82.0px,#9ecb39 82.5px,#f3e61d 83.0px,#fcbe1a 83.5px,#f6881f 84.0px,#f7941d 84.5px,#fddf18 85.0px,#b2d233 85.5px,#3ab54a 86.0px,#0daa66 86.5px,#00aaa9 87.0px,#00addb 87.5px,#00a6e8 88.0px,#0887d0 89.0px,#2057ad 90.5px,#283c9c 92.5px,#2e3192 97.0px,#2e3192 122.0px),linear-gradient(#2e3192 0.0px,#2b3697 41.0px,#293b9b 45.5px,#2c3495 51.5px,#273f9f 54.5px,#1c63b3 56.0px,#0097dd 57.0px,#00a7e9 57.5px,#00accf 58.0px,#0aaa75 59.0px,#0faa5f 59.5px,#31b34d 61.0px,#25b052 63.5px,#2bb14f 65.0px,#39b54a 65.5px,#7ac240 66.5px,#d1dd28 67.5px,#f3e61d 68.0px,#ffde17 68.5px,#f78f1e 69.5px,#ee4626 71.0px,#e92a28 72.5px,#ef4e25 74.0px,#f7931d 75.5px,#fce018 76.5px,#f1e71d 77.0px,#79c240 78.5px,#39b54a 79.5px,#1cad55 81.0px,#1fae54 81.5px,#3db649 82.0px,#8dc63d 82.5px,#e7e521 83.0px,#fed518 83.5px,#f89c1c 84.0px,#faae1b 84.5px,#f7e31b 85.0px,#9cca3a 85.5px,#32b34d 86.0px,#0caa6e 86.5px,#00abae 87.0px,#00adde 87.5px,#00a5e8 88.0px,#0985cf 89.0px,#2056ac 90.5px,#283b9c 92.5px,#2e3192 97.0px,#2e3192 122.0px),linear-gradient(#2e3192 0.0px,#2b3697 41.0px,#293b9b 45.5px,#2d3394 51.0px,#273f9f 54.5px,#1c63b3 56.0px,#0098dd 57.0px,#00a8ea 57.5px,#00accb 58.0px,#0baa70 59.0px,#11aa59 59.5px,#37b54b 61.0px,#29b150 63.5px,#2eb24e 65.0px,#3eb649 65.5px,#7fc33f 66.5px,#d8df26 67.5px,#f5e51c 68.0px,#ffd917 68.5px,#f68a1e 69.5px,#ed4226 71.0px,#e92928 72.5px,#f05225 74.0px,#f89e1c 75.5px,#fdc819 76.0px,#f9e21a 76.5px,#e8e521 77.0px,#94c83c 78.0px,#4bb947 79.0px,#33b34c 79.5px,#18ac57 81.0px,#19ad56 81.5px,#35b44c 82.0px,#7cc340 82.5px,#d1dd28 83.0px,#fbe019 83.5px,#fbb51a 84.0px,#fdc819 84.5px,#f1e81e 85.0px,#85c43f 85.5px,#2bb14f 86.0px,#0aaa75 86.5px,#00abb4 87.0px,#00ade2 87.5px,#00a4e7 88.0px,#0096dc 88.5px,#1d61b2 90.0px,#273e9e 92.0px,#2e3192 96.5px,#2e3192 122.0px),linear-gradient(#2e3192 0.0px,#2c3596 40.5px,#283d9d 45.0px,#2d3394 51.0px,#273f9f 54.5px,#1c63b3 56.0px,#0099de 57.0px,#00a9eb 57.5px,#00acc6 58.0px,#0caa6a 59.0px,#16ab58 59.5px,#45b748 61.0px,#2cb24f 63.0px,#30b34e 65.0px,#44b748 65.5px,#85c43f 66.5px,#dee224 67.5px,#f6e41b 68.0px,#fed318 68.5px,#f6851f 69.5px,#ec3d26 71.0px,#e92828 72.5px,#f05625 74.0px,#f9a81b 75.5px,#fed318 76.0px,#f6e41b 76.5px,#dae025 77.0px,#5ebd44 78.5px,#3fb649 79.0px,#19ac56 80.5px,#14ab59 81.5px,#2db24f 82.0px,#65be43 82.5px,#b3d232 83.0px,#f3e61d 83.5px,#fed917 84.0px,#fbe119 84.5px,#cbdb2a 85.0px,#64be43 85.5px,#21af53 86.0px,#07aa7f 86.5px,#00abba 87.0px,#00aee6 87.5px,#00a2e6 88.0px,#0b82cc 89.0px,#2154ab 90.5px,#293b9b 92.5px,#2e3192 97.0px,#2e3192 122.0px),linear-gradient(#2e3192 0.0px,#2c3596 40.5px,#273d9e 45.0px,#2d3394 51.0px,#273f9f 54.5px,#1c63b4 56.0px,#009adf 57.0px,#00aced 57.5px,#05aa89 58.5px,#0faa5d 59.0px,#45b748 60.5px,#5fbd44 61.0px,#36b44b 62.5px,#33b34d 65.0px,#69bf43 66.0px,#8bc63e 66.5px,#e7e521 67.5px,#f8e21a 68.0px,#fdcb19 68.5px,#f8a01c 69.0px,#f36623 70.0px,#ec3a27 71.0px,#e92928 72.5px,#f15c24 74.0px,#f78f1e 75.0px,#ffde17 76.0px,#f3e61c 76.5px,#79c240 78.0px,#50ba46 78.5px,#35b44b 79.0px,#13ab59 80.5px,#0eaa62 81.5px,#22af53 82.0px,#40b749 82.5px,#bcd62f 83.5px,#f0e81e 84.0px,#d8e026 84.5px,#89c53e 85.0px,#35b44c 85.5px,#12ab59 86.0px,#04aa8f 86.5px,#00acc4 87.0px,#00aeeb 87.5px,#0292d9 88.5px,#1e5eb1 90.0px,#273e9e 92.0px,#2e3192 96.5px,#2e3192 122.0px),linear-gradient(#2e3192 0.0px,#2c3596 40.5px,#273e9e 45.0px,#2d3394 51.0px,#273f9f 54.5px,#1c63b4 56.0px,#009ee2 57.0px,#00aee8 57.5px,#0aaa74 58.5px,#1dae55 59.0px,#48b848 60.0px,#70c042 60.5px,#8bc63e 61.0px,#38b54b 63.0px,#35b44b 65.0px,#93c73c 66.5px,#f0e81e 67.5px,#fbe119 68.0px,#fcc119 68.5px,#f7961d 69.0px,#ee4a25 70.5px,#eb3827 71.0px,#ea2f27 72.5px,#f26423 74.0px,#f89a1d 75.0px,#fce018 76.0px,#f0e81e 76.5px,#96c83c 77.5px,#42b749 78.5px,#14ab59 80.0px,#0baa6f 81.0px,#0aaa72 81.5px,#16ac58 82.0px,#2bb150 82.5px,#4ab847 83.0px,#a7ce36 84.0px,#8fc73d 84.5px,#47b848 85.0px,#1fae54 85.5px,#0baa70 86.0px,#00aa9e 86.5px,#00acce 87.0px,#00adef 87.5px,#0390d8 88.5px,#1e5db0 90.0px,#273e9e 92.0px,#2e3192 96.5px,#2e3192 122.0px),linear-gradient(#2e3192 0.0px,#2c3696 40.5px,#273e9e 45.0px,#2d3293 50.5px,#273f9f 54.5px,#1c64b4 56.0px,#0987d0 56.5px,#00a1e5 57.0px,#00addc 57.5px,#01aa9a 58.0px,#0faa60 58.5px,#46b848 59.5px,#9aca3b 60.5px,#b6d331 61.0px,#45b748 63.0px,#38b54a 65.0px,#9bca3a 66.5px,#f3e61d 67.5px,#fedf18 68.0px,#f68e1e 69.0px,#ee4726 70.5px,#eb3527 71.0px,#eb3427 72.5px,#f36c22 74.0px,#f9a61c 75.0px,#fdcc18 75.5px,#f9e21a 76.0px,#e5e422 76.5px,#89c53e 77.5px,#37b44b 78.5px,#0faa60 80.0px,#08aa7c 81.0px,#07aa80 81.5px,#0faa5f 82.0px,#34b44c 83.0px,#84c43f 84.0px,#6dc042 84.5px,#31b34d 85.0px,#14ab58 85.5px,#00aaa7 86.5px,#00add3 87.0px,#00aced 87.5px,#048fd6 88.5px,#1e5cb0 90.0px,#273d9d 92.0px,#2e3192 97.0px,#2e3192 122.0px),linear-gradient(#2e3192 0.0px,#2b3696 40.5px,#273f9f 45.0px,#2d3293 50.5px,#273f9f 54.5px,#1c64b4 56.0px,#078ad2 56.5px,#00a4e7 57.0px,#00acd0 57.5px,#05aa8b 58.0px,#19ac57 58.5px,#6abf43 59.5px,#c4d82d 60.5px,#e0e223 61.0px,#73c141 62.5px,#54ba46 63.0px,#3db649 64.5px,#3eb649 65.0px,#a2cc38 66.5px,#d5de27 67.0px,#f5e51c 67.5px,#fed817 68.0px,#f6871f 69.0px,#f05625 70.0px,#eb3327 71.0px,#ec3927 72.5px,#f78f1e 74.5px,#fed718 75.5px,#f6e41b 76.0px,#d8df26 76.5px,#7cc340 77.5px,#50ba47 78.0px,#31b34d 78.5px,#13ab59 79.5px,#06aa87 81.0px,#05aa8b 81.5px,#0daa69 82.0px,#1cad55 82.5px,#30b34e 83.0px,#54ba46 83.5px,#83c43f 84.0px,#6cbf42 84.5px,#31b34d 85.0px,#13ab59 85.5px,#00aaa9 86.5px,#00add5 87.0px,#00abed 87.5px,#058dd5 88.5px,#1e5baf 90.0px,#283d9d 92.0px,#2e3192 97.0px,#2e3192 122.0px),linear-gradient(#2e3192 0.0px,#2b3697 40.5px,#2641a1 44.5px,#2d3293 50.5px,#273f9f 54.5px,#1c65b5 56.0px,#058dd5 56.5px,#00a7ea 57.0px,#00acc4 57.5px,#08aa7b 58.0px,#25b052 58.5px,#8fc73d 59.5px,#eee71f 60.5px,#f6e41b 61.0px,#dfe224 61.5px,#88c53e 62.5px,#62bd44 63.0px,#45b748 64.5px,#44b748 65.0px,#aacf35 66.5px,#dee224 67.0px,#f8e31a 67.5px,#fdce18 68.0px,#f58020 69.0px,#f05125 70.0px,#ea3127 71.0px,#ec3f26 72.5px,#f8991d 74.5px,#fedf18 75.5px,#f3e61d 76.0px,#6fc042 77.5px,#43b749 78.0px,#1bad56 79.0px,#0eaa61 79.5px,#09aa79 80.0px,#03aa93 81.0px,#02aa96 81.5px,#17ac57 82.5px,#2cb24f 83.0px,#4fba47 83.5px,#82c43f 84.0px,#6cbf42 84.5px,#31b34d 85.0px,#13ab59 85.5px,#00abab 86.5px,#00add7 87.0px,#00aaec 87.5px,#068cd4 88.5px,#1f5aae 90.0px,#283d9d 92.0px,#2e3192 97.0px,#2e3192 122.0px),linear-gradient(#2e3192 0.0px,#2b3697 40.5px,#2542a1 44.5px,#2e3293 50.0px,#273f9f 54.5px,#1b65b5 56.0px,#0390d7 56.5px,#00aaec 57.0px,#00abb8 57.5px,#0caa6c 58.0px,#31b34d 58.5px,#80c33f 59.0px,#e5e422 60.0px,#f9e21a 60.5px,#ffdd17 61.0px,#f4e51c 61.5px,#d0dd29 62.0px,#71c042 63.0px,#4db947 64.5px,#4ab947 65.0px,#b2d233 66.5px,#e7e521 67.0px,#fae119 67.5px,#fcc419 68.0px,#f8991d 68.5px,#f25e24 69.5px,#ea2f27 71.0px,#ed4426 72.5px,#f6861f 74.0px,#fdca19 75.0px,#fae119 75.5px,#eee71f 76.0px,#8fc73d 77.0px,#37b54b 78.0px,#15ab58 79.0px,#06aa85 80.0px,#00aa9f 81.0px,#00aaa2 81.5px,#12ab59 82.5px,#29b150 83.0px,#4ab947 83.5px,#80c43f 84.0px,#6cbf42 84.5px,#30b34d 85.0px,#12ab59 85.5px,#00abad 86.5px,#00adda 87.0px,#00a9eb 87.5px,#078ad2 88.5px,#1f59ae 90.0px,#263f9f 91.5px,#2e3192 96.5px,#2e3192 122.0px),linear-gradient(#2e3192 0.0px,#2b3697 40.5px,#2544a2 44.5px,#2e3293 50.0px,#273f9f 54.5px,#1b66b5 56.0px,#0293da 56.5px,#00aeef 57.0px,#00abac 57.5px,#10aa5c 58.0px,#42b749 58.5px,#a1cc38 59.0px,#d6df27 59.5px,#f6e41b 60.0px,#fed318 60.5px,#fbba1a 61.0px,#fce018 61.5px,#ece61f 62.0px,#80c33f 63.0px,#55bb46 64.5px,#51ba46 65.0px,#b9d530 66.5px,#f0e81e 67.0px,#fce018 67.5px,#f7911d 68.5px,#f15725 69.5px,#ea2d27 71.0px,#ee4a25 72.5px,#f68e1e 74.0px,#fed618 75.0px,#f7e31b 75.5px,#e1e323 76.0px,#55bb46 77.5px,#31b34d 78.0px,#0faa5d 79.0px,#03aa91 80.0px,#00abac 81.0px,#00abae 81.5px,#0faa5e 82.5px,#25b052 83.0px,#46b848 83.5px,#7fc33f 84.0px,#6bbf42 84.5px,#30b34e 85.0px,#12aa59 85.5px,#00abaf 86.5px,#00addc 87.0px,#00a8eb 87.5px,#0889d1 88.5px,#1f58ad 90.0px,#273f9f 91.5px,#2e3192 96.5px,#2e3192 122.0px),linear-gradient(#2e3192 0.0px,#2b3697 40.5px,#2545a3 44.5px,#2e3293 50.0px,#273f9f 54.5px,#1b66b6 56.0px,#0096dc 56.5px,#00aee8 57.0px,#00aaa1 57.5px,#18ac57 58.0px,#5ebd44 58.5px,#c1d72e 59.0px,#f2e71d 59.5px,#ffde17 60.0px,#fab11b 60.5px,#f7971d 61.0px,#fdcc18 61.5px,#f5e51c 62.0px,#8ec63d 63.0px,#5dbc45 64.5px,#57bb45 65.0px,#c1d72e 66.5px,#f2e71d 67.0px,#ffde17 67.5px,#f6891e 68.5px,#ef5125 69.5px,#e92b28 71.0px,#ef4f25 72.5px,#f7981d 74.0px,#fedf17 75.0px,#f4e51c 75.5px,#d3de28 76.0px,#48b848 77.5px,#18ac57 78.5px,#0daa69 79.0px,#01aa9d 80.0px,#00abb9 81.0px,#00abbb 81.5px,#0daa66 82.5px,#22af53 83.0px,#41b749 83.5px,#7ec340 84.0px,#6cbf42 84.5px,#30b24e 85.0px,#11aa5a 85.5px,#00abb0 86.5px,#00adde 87.0px,#00a8ea 87.5px,#0887d0 88.5px,#2057ad 90.0px,#273f9f 91.5px,#2e3192 97.0px,#2e3192 122.0px),linear-gradient(#2e3192 0.0px,#2b3697 40.5px,#2446a3 44.5px,#2e3293 49.5px,#273f9f 54.5px,#1a67b6 56.0px,#0098dd 56.5px,#00ade0 57.0px,#02aa96 57.5px,#21af53 58.0px,#79c240 58.5px,#e2e323 59.0px,#fae119 59.5px,#fcc019 60.0px,#f7901d 60.5px,#f57d20 61.0px,#fbe019 62.0px,#dbe025 62.5px,#9dca3a 63.0px,#66be43 64.5px,#5ebc44 65.0px,#c9da2b 66.5px,#f4e51c 67.0px,#fed518 67.5px,#f9a61c 68.0px,#f26423 69.0px,#ee4b25 69.5px,#e92928 71.0px,#f05425 72.5px,#f9a41c 74.0px,#fdc919 74.5px,#fbe119 75.0px,#f1e81e 75.5px,#98c93b 76.5px,#3ab54a 77.5px,#12aa59 78.5px,#00abab 80.0px,#00acc5 81.0px,#00acc5 81.5px,#0daa65 82.5px,#26b051 83.0px,#55bb46 83.5px,#99c93b 84.0px,#88c53e 84.5px,#3cb649 85.0px,#19ac56 85.5px,#08aa7b 86.0px,#00addd 87.0px,#00a7ea 87.5px,#0986cf 88.5px,#2055ac 90.0px,#273e9e 91.5px,#2e3192 97.0px,#2e3192 122.0px),linear-gradient(#2e3192 0.0px,#2b3797 40.5px,#2349a5 44.0px,#2e3293 49.5px,#273f9f 54.5px,#1a67b7 56.0px,#0099df 56.5px,#00add9 57.0px,#04aa8d 57.5px,#29b150 58.0px,#91c73d 58.5px,#f3e61d 59.0px,#fed718 59.5px,#f9a51c 60.0px,#f57c20 60.5px,#f36923 61.0px,#f7971d 61.5px,#fed817 62.0px,#ece71f 62.5px,#a9cf36 63.0px,#6dc042 64.5px,#64be44 65.0px,#d1dd28 66.5px,#f6e41b 67.0px,#fdcd18 67.5px,#f89d1c 68.0px,#ee4526 69.5px,#e92828 71.0px,#f15924 72.5px,#f68d1e 73.5px,#fed418 74.5px,#f8e31a 75.0px,#e5e422 75.5px,#5dbc45 77.0px,#34b44c 77.5px,#0eaa61 78.5px,#00abb7 80.0px,#00accf 81.0px,#00accc 81.5px,#0eaa63 82.5px,#2bb14f 83.0px,#6abf43 83.5px,#b4d332 84.0px,#a5cd37 84.5px,#55bb46 85.0px,#21af53 85.5px,#0aaa73 86.0px,#00aaa8 86.5px,#00addc 87.0px,#00a7e9 87.5px,#0a84ce 88.5px,#2055ab 90.0px,#273e9e 91.5px,#2e3192 97.0px,#2e3192 122.0px),linear-gradient(#2e3192 0.0px,#2c3596 40.0px,#234aa6 44.0px,#2e3293 49.5px,#273f9f 54.5px,#1a68b7 56.0px,#009adf 56.5px,#00add6 57.0px,#05aa88 57.5px,#2cb24f 58.0px,#99c93b 58.5px,#f5e51c 59.0px,#fed218 59.5px,#f8a01c 60.0px,#f47a21 60.5px,#f36723 61.0px,#f7951d 61.5px,#fed618 62.0px,#eee71f 62.5px,#abcf35 63.0px,#71c042 64.5px,#69bf43 65.0px,#d9e026 66.5px,#f8e21a 67.0px,#fcc519 67.5px,#f7961d 68.0px,#ed4326 69.5px,#e92a28 71.0px,#f25d24 72.5px,#f7921d 73.5px,#ffdb17 74.5px,#f6e41b 75.0px,#dde124 75.5px,#54ba46 77.0px,#31b34d 77.5px,#0daa66 78.5px,#00abbb 80.0px,#00accf 81.0px,#00acca 81.5px,#10aa5a 82.5px,#33b34c 83.0px,#d2dd28 84.0px,#c3d82d 84.5px,#6fc042 85.0px,#2ab150 85.5px,#0daa69 86.0px,#00aaa2 86.5px,#00add9 87.0px,#00a7ea 87.5px,#0a84ce 88.5px,#2055ab 90.0px,#273e9e 91.5px,#2e3192 97.0px,#2e3192 122.0px),linear-gradient(#2e3192 0.0px,#2c3596 40.0px,#234ca7 44.0px,#2d3293 49.0px,#273f9f 54.5px,#1a68b7 56.0px,#009be0 56.5px,#00add3 57.0px,#06aa84 57.5px,#2fb24e 58.0px,#a1cc38 58.5px,#f7e31b 59.0px,#fdcc18 59.5px,#f89b1c 60.0px,#f47721 60.5px,#f26523 61.0px,#f7931d 61.5px,#fed418 62.0px,#f0e81e 62.5px,#add034 63.0px,#75c141 64.5px,#6dc042 65.0px,#e2e323 66.5px,#fae119 67.0px,#fcbe1a 67.5px,#f7901e 68.0px,#ed4026 69.5px,#e92c27 71.0px,#f26124 72.5px,#f7981d 73.5px,#fedf18 74.5px,#f4e51c 75.0px,#d4de27 75.5px,#4bb947 77.0px,#19ac56 78.0px,#00aaa4 79.5px,#00acbf 80.0px,#00accf 81.0px,#00acc7 81.5px,#04aa8d 82.0px,#15ab58 82.5px,#3fb649 83.0px,#9dca3a 83.5px,#efe81e 84.0px,#e0e223 84.5px,#8ac53e 85.0px,#32b34d 85.5px,#0faa60 86.0px,#01aa9c 86.5px,#00add6 87.0px,#00a8ea 87.5px,#0a85ce 88.5px,#2055ab 90.0px,#273e9e 91.5px,#2e3192 97.0px,#2e3192 122.0px),linear-gradient(#2e3192 0.0px,#2c3596 40.0px,#224da7 44.0px,#2d3293 49.0px,#273f9f 54.5px,#2055ac 55.5px,#1a68b7 56.0px,#009ce0 56.5px,#00accf 57.0px,#07aa80 57.5px,#32b34d 58.0px,#a9cf36 58.5px,#f9e21a 59.0px,#fcc619 59.5px,#f7961d 60.0px,#f47421 60.5px,#f26324 61.0px,#f7911d 61.5px,#fed218 62.0px,#f0e81e 62.5px,#afd134 63.0px,#79c240 64.5px,#72c141 65.0px,#ebe620 66.5px,#fce018 67.0px,#f68b1e 68.0px,#ec3e26 69.5px,#ea2e27 71.0px,#f36523 72.5px,#f89f1c 73.5px,#fcc519 74.0px,#fce018 74.5px,#f2e71d 75.0px,#70c042 76.5px,#42b749 77.0px,#16ac58 78.0px,#00aaa9 79.5px,#00acc4 80.0px,#00acd0 81.0px,#00acc5 81.5px,#06aa88 82.0px,#1bad56 82.5px,#52ba46 83.0px,#b6d331 83.5px,#f6e41b 84.0px,#f3e61d 84.5px,#a3cd38 85.0px,#3db649 85.5px,#12ab59 86.0px,#02aa97 86.5px,#00add3 87.0px,#00a8eb 87.5px,#0a85ce 88.5px,#2055ab 90.0px,#273e9e 91.5px,#2e3192 97.0px,#2e3192 122.0px),linear-gradient(#2e3192 0.0px,#2c3596 40.0px,#224ea8 44.0px,#2d3394 48.5px,#283d9d 54.0px,#2349a5 55.0px,#1a68b7 56.0px,#009ce1 56.5px,#00accc 57.0px,#08aa7c 57.5px,#35b44b 58.0px,#b1d133 58.5px,#fbe119 59.0px,#fcc019 59.5px,#f7921d 60.0px,#f47222 60.5px,#f26124 61.0px,#f78f1e 61.5px,#fdd018 62.0px,#f1e71e 62.5px,#b0d133 63.0px,#7dc340 64.5px,#77c241 65.0px,#f1e71e 66.5px,#fedf17 67.0px,#f6861f 68.0px,#ec3b26 69.5px,#ea3027 71.0px,#f36923 72.5px,#f9a51c 73.5px,#fdcc18 74.0px,#fae119 74.5px,#efe81e 75.0px,#95c83c 76.0px,#39b54a 77.0px,#12ab59 78.0px,#00abae 79.5px,#00acc8 80.0px,#00acd0 81.0px,#00acc4 81.5px,#06aa86 82.0px,#1dad55 82.5px,#59bc45 83.0px,#bfd72e 83.5px,#f9e21a 84.0px,#f6e41b 84.5px,#add034 85.0px,#44b748 85.5px,#14ab58 86.0px,#03aa95 86.5px,#00add2 87.0px,#00a9eb 87.5px,#0a85ce 88.5px,#2055ab 90.0px,#273e9e 91.5px,#2e3192 97.0px,#2e3192 122.0px),linear-gradient(#2e3192 0.0px,#2c3596 40.0px,#2250a9 44.0px,#2d3394 48.5px,#283d9d 54.0px,#2349a5 55.0px,#1968b8 56.0px,#009de2 56.5px,#00acc8 57.0px,#09aa77 57.5px,#38b54a 58.0px,#b8d431 58.5px,#fde018 59.0px,#f78f1e 60.0px,#f36f22 60.5px,#f25f24 61.0px,#f68e1e 61.5px,#fdce18 62.0px,#f1e71d 62.5px,#b2d233 63.0px,#81c43f 64.5px,#7cc340 65.0px,#f3e61d 66.5px,#ffda17 67.0px,#f9a91b 67.5px,#f5811f 68.0px,#eb3927 69.5px,#ea3127 71.0px,#f36d22 72.5px,#faac1b 73.5px,#fed318 74.0px,#f8e31a 74.5px,#e7e521 75.0px,#5ebd44 76.5px,#35b44c 77.0px,#10aa5c 78.0px,#00abb3 79.5px,#00accc 80.0px,#00add2 81.0px,#00acc5 81.5px,#06aa87 82.0px,#1cad56 82.5px,#55bb46 83.0px,#bad530 83.5px,#f8e31a 84.0px,#f4e51c 84.5px,#a6ce37 85.0px,#3eb649 85.5px,#13ab59 86.0px,#02aa97 86.5px,#00add3 87.0px,#00a8eb 87.5px,#0a85ce 88.5px,#2055ab 90.0px,#273e9e 91.5px,#2e3192 97.0px,#2e3192 122.0px),linear-gradient(#2e3192 0.0px,#2c3596 40.0px,#2446a4 42.5px,#2151a9 44.0px,#2c3595 48.0px,#2a3999 53.0px,#273f9f 54.5px,#2055ac 55.5px,#1969b8 56.0px,#009ee2 56.5px,#00acc5 57.0px,#0aaa73 57.5px,#3eb649 58.0px,#c0d72e 58.5px,#fede17 59.0px,#f68b1e 60.0px,#f36c22 60.5px,#f25d24 61.0px,#f68c1e 61.5px,#fdcc18 62.0px,#f2e71d 62.5px,#b4d332 63.0px,#85c43f 64.5px,#81c43f 65.0px,#d7df26 66.0px,#f5e51c 66.5px,#fed318 67.0px,#f8a21c 67.5px,#f57d20 68.0px,#eb3627 69.5px,#eb3327 71.0px,#f47222 72.5px,#fab31a 73.5px,#ffda17 74.0px,#f6e41b 74.5px,#dee224 75.0px,#55bb46 76.5px,#31b34d 77.0px,#0eaa62 78.0px,#00abb8 79.5px,#00acd0 80.0px,#00add3 81.0px,#00acc5 81.5px,#05aa88 82.0px,#1aad56 82.5px,#51ba46 83.0px,#b4d332 83.5px,#f6e41b 84.0px,#f3e61d 84.5px,#a0cb39 85.0px,#39b54a 85.5px,#11aa5a 86.0px,#02aa98 86.5px,#00add4 87.0px,#00a8eb 87.5px,#0a85ce 88.5px,#2055ab 90.0px,#273e9e 91.5px,#2e3192 97.0px,#2e3192 122.0px),linear-gradient(#2e3192 0.0px,#2c3696 40.0px,#2447a4 42.5px,#2152aa 44.0px,#2c3596 48.0px,#2a3999 53.0px,#273f9f 54.5px,#2055ac 55.5px,#1969b8 56.0px,#009fe3 56.5px,#00acc2 57.0px,#0baa6f 57.5px,#45b748 58.0px,#c8da2b 58.5px,#fed917 59.0px,#f6881f 60.0px,#f36a23 60.5px,#f15b24 61.0px,#f68a1e 61.5px,#fdc919 62.0px,#f2e61d 62.5px,#b6d331 63.0px,#89c53e 64.5px,#85c53e 65.0px,#dee224 66.0px,#f7e41b 66.5px,#fdcc18 67.0px,#f89a1c 67.5px,#f25e24 68.5px,#eb3427 69.5px,#eb3527 71.0px,#f47621 72.5px,#f7921d 73.0px,#fedf17 74.0px,#f4e51c 74.5px,#d5df27 75.0px,#4cb947 76.5px,#2db24f 77.0px,#1bad56 77.5px,#0daa68 78.0px,#00abbd 79.5px,#00add5 80.0px,#00add5 81.0px,#00acc6 81.5px,#05aa89 82.0px,#19ac56 82.5px,#4db947 83.0px,#afd134 83.5px,#f5e51c 84.0px,#f1e71e 84.5px,#99c93b 85.0px,#36b44b 85.5px,#10aa5b 86.0px,#01aa9a 86.5px,#00add5 87.0px,#00a8ea 87.5px,#0a85ce 88.5px,#2055ab 90.0px,#273e9e 91.5px,#2e3192 97.0px,#2e3192 122.0px),linear-gradient(#2e3192 0.0px,#2c3696 40.0px,#2448a5 42.5px,#2154ab 44.0px,#2b3797 47.5px,#2c3596 52.0px,#273f9f 54.5px,#2055ac 55.5px,#1969b8 56.0px,#009fe3 56.5px,#00acbe 57.0px,#0caa6b 57.5px,#4cb947 58.0px,#d0dd29 58.5px,#fed218 59.0px,#f6851f 60.0px,#f36723 60.5px,#f15a24 61.0px,#f6891f 61.5px,#fdc719 62.0px,#f3e61d 62.5px,#b8d431 63.0px,#8dc63d 64.5px,#8ac63e 65.0px,#e6e421 66.0px,#f9e21a 66.5px,#fcc519 67.0px,#f7931d 67.5px,#f15a24 68.5px,#ea3127 69.5px,#eb3727 71.0px,#f47a21 72.5px,#f7981d 73.0px,#fce018 74.0px,#f2e71d 74.5px,#a0cb39 75.5px,#43b749 76.5px,#17ac57 77.5px,#00aaa6 79.0px,#00add9 80.0px,#00add7 81.0px,#00acc7 81.5px,#05aa8a 82.0px,#18ac57 82.5px,#49b848 83.0px,#aacf35 83.5px,#f3e61c 84.0px,#eee71f 84.5px,#93c73d 85.0px,#34b44c 85.5px,#0faa5e 86.0px,#01aa9b 86.5px,#00add6 87.0px,#00a8ea 87.5px,#0a85ce 88.5px,#2055ab 90.0px,#273e9e 91.5px,#2e3192 97.0px,#2e3192 122.0px),linear-gradient(#2e3192 0.0px,#2b3696 40.0px,#234aa5 42.5px,#2055ac 44.0px,#2b3798 47.5px,#2c3596 52.0px,#273f9f 54.5px,#2055ac 55.5px,#1969b8 56.0px,#00a0e4 56.5px,#00abbb 57.0px,#0daa66 57.5px,#53ba46 58.0px,#d8df26 58.5px,#fdcb19 59.0px,#f58120 60.0px,#f26523 60.5px,#f15825 61.0px,#f6871f 61.5px,#fcc519 62.0px,#f3e61c 62.5px,#bad530 63.0px,#91c73d 64.5px,#8fc73d 65.0px,#ede71f 66.0px,#fae119 66.5px,#fbbd1a 67.0px,#f68e1e 67.5px,#f05625 68.5px,#ea2f27 69.5px,#ec3927 71.0px,#f57e20 72.5px,#fdc719 73.5px,#fae119 74.0px,#f0e81e 74.5px,#97c83c 75.5px,#3ab54a 76.5px,#13ab59 77.5px,#00abab 79.0px,#00addd 80.0px,#00add8 81.0px,#00acc7 81.5px,#05aa8b 82.0px,#17ac57 82.5px,#45b748 83.0px,#a4cd37 83.5px,#f2e71d 84.0px,#e7e521 84.5px,#8cc63e 85.0px,#32b34d 85.5px,#0faa60 86.0px,#01aa9d 86.5px,#00add6 87.0px,#00a8ea 87.5px,#0a85ce 88.5px,#2055ab 90.0px,#273e9e 91.5px,#2e3192 97.0px,#2e3192 122.0px),linear-gradient(#2e3192 0.0px,#2b3696 40.0px,#234ba6 42.5px,#2056ac 44.0px,#2b3798 47.5px,#2c3596 52.0px,#273f9f 54.5px,#2055ac 55.5px,#196ab8 56.0px,#00a1e5 56.5px,#00abb8 57.0px,#0eaa62 57.5px,#5abc45 58.0px,#dfe224 58.5px,#fcc419 59.0px,#f57e20 60.0px,#f26224 60.5px,#f05625 61.0px,#f6851f 61.5px,#fcc319 62.0px,#f4e61c 62.5px,#bcd52f 63.0px,#95c83c 64.5px,#94c83c 65.0px,#f1e71d 66.0px,#fce018 66.5px,#f6891e 67.5px,#f36923 68.0px,#e92c27 69.5px,#ec3b26 71.0px,#f5821f 72.5px,#fdce18 73.5px,#f8e31a 74.0px,#e8e521 74.5px,#5fbd44 76.0px,#35b44b 76.5px,#10aa5b 77.5px,#00abb1 79.0px,#00ade2 80.0px,#00adda 81.0px,#00acca 81.5px,#04aa90 82.0px,#12ab59 82.5px,#36b44b 83.0px,#8cc63d 83.5px,#dde124 84.0px,#cbdb2a 84.5px,#72c141 85.0px,#29b150 85.5px,#0caa6a 86.0px,#00aaa2 86.5px,#00add9 87.0px,#00a7ea 87.5px,#0a84ce 88.5px,#2055ab 90.0px,#273e9e 91.5px,#2e3192 97.0px,#2e3192 122.0px),linear-gradient(#2e3192 0.0px,#2b3697 40.0px,#234ca6 42.5px,#1f57ad 44.0px,#293a9a 47.0px,#2c3495 51.5px,#273f9f 54.5px,#2055ac 55.5px,#196ab9 56.0px,#00a2e5 56.5px,#00abb4 57.0px,#0faa5e 57.5px,#60bd44 58.0px,#e7e521 58.5px,#fbbd1a 59.0px,#f7971d 59.5px,#f25f24 60.5px,#f05425 61.0px,#f5831f 61.5px,#fcc119 62.0px,#f4e51c 62.5px,#bed62f 63.0px,#98c93b 64.5px,#99c93b 65.0px,#f3e61d 66.0px,#fede17 66.5px,#f5841f 67.5px,#f26423 68.0px,#e92a28 69.5px,#ec3d26 71.0px,#f6861f 72.5px,#fed518 73.5px,#f6e41b 74.0px,#dfe224 74.5px,#56bb46 76.0px,#31b34d 76.5px,#0eaa61 77.5px,#00abb6 79.0px,#00aee6 80.0px,#00addd 81.0px,#00accc 81.5px,#0faa5f 82.5px,#2eb24e 83.0px,#c1d72e 84.0px,#aed034 84.5px,#57bb45 85.0px,#1fae54 85.5px,#0aaa75 86.0px,#00addd 87.0px,#00a7e9 87.5px,#0a84ce 88.5px,#2055ab 90.0px,#273e9e 91.5px,#2e3192 97.0px,#2e3192 122.0px),linear-gradient(#2e3192 0.0px,#2b3697 40.0px,#2544a2 42.0px,#1f58ad 43.5px,#2151a9 45.0px,#293a9a 47.0px,#2c3495 51.5px,#273f9f 54.5px,#2055ac 55.5px,#196ab9 56.0px,#00a2e6 56.5px,#00abb1 57.0px,#10aa5a 57.5px,#67be43 58.0px,#efe81e 58.5px,#fbb61a 59.0px,#f7921d 59.5px,#f15d24 60.5px,#f05225 61.0px,#f5821f 61.5px,#fcbf1a 62.0px,#f5e51c 62.5px,#bfd72e 63.0px,#9cca3a 64.5px,#9dcb3a 65.0px,#d1dd28 65.5px,#f4e51c 66.0px,#fed917 66.5px,#f57f20 67.5px,#f25f24 68.0px,#e92728 69.5px,#ed3f26 71.0px,#f68a1e 72.5px,#ffdc17 73.5px,#f4e51c 74.0px,#d7df26 74.5px,#4db947 76.0px,#2db24f 76.5px,#0daa67 77.5px,#00abbc 79.0px,#00aeeb 80.0px,#00addf 81.0px,#00accf 81.5px,#0daa68 82.5px,#26b051 83.0px,#5abc45 83.5px,#a5cd37 84.0px,#91c73d 84.5px,#3cb64a 85.0px,#16ac58 85.5px,#00abaf 86.5px,#00ade0 87.0px,#00a6e9 87.5px,#0a84ce 88.5px,#2055ab 90.0px,#273e9e 91.5px,#2e3192 97.0px,#2e3192 122.0px),linear-gradient(#2e3192 0.0px,#2b3697 40.0px,#2545a3 42.0px,#1f59ae 43.5px,#2152aa 45.0px,#293a9a 47.0px,#2c3495 51.5px,#273f9f 54.5px,#2055ac 55.5px,#196ab9 56.0px,#00a3e6 56.5px,#00abae 57.0px,#12ab59 57.5px,#6cbf42 58.0px,#f1e71e 58.5px,#fab21b 59.0px,#f47521 60.0px,#f15b24 60.5px,#ef5125 61.0px,#f58120 61.5px,#fcbe1a 62.0px,#f5e51c 62.5px,#c1d72e 63.0px,#9fcb39 64.5px,#a1cc38 65.0px,#d5de27 65.5px,#f6e41b 66.0px,#fed418 66.5px,#f9a31c 67.0px,#f15c24 68.0px,#e82628 69.5px,#ed4126 71.0px,#f68d1e 72.5px,#fede17 73.5px,#f3e61d 74.0px,#d0dd29 74.5px,#47b848 76.0px,#17ac57 77.0px,#05aa89 78.0px,#00adda 79.5px,#00aeee 80.0px,#00ade1 81.0px,#00acd1 81.5px,#0baa6e 82.5px,#21ae54 83.0px,#49b848 83.5px,#91c73d 84.0px,#7cc340 84.5px,#32b34d 85.0px,#10aa5a 85.5px,#00abb4 86.5px,#00ade2 87.0px,#00a6e9 87.5px,#0099de 88.0px,#1d61b3 89.5px,#2642a1 91.0px,#2e3192 96.0px,#2e3192 122.0px);background-position:0.0px 0,2.0px 0,4.0px 0,6.0px 0,8.0px 0,10.0px 0,12.0px 0,14.0px 0,16.0px 0,18.0px 0,20.0px 0,22.0px 0,24.0px 0,26.0px 0,28.0px 0,30.0px 0,32.0px 0,34.0px 0,36.0px 0,38.0px 0,40.0px 0,42.0px 0,44.0px 0,46.0px 0,48.0px 0,50.0px 0,52.0px 0,54.0px 0,56.0px 0,58.0px 0,60.0px 0,62.0px 0,64.0px 0,66.0px 0,68.0px 0,70.0px 0,72.0px 0,74.0px 0,76.0px 0,78.0px 0,80.0px 0,82.0px 0,84.0px 0,86.0px 0,88.0px 0,90.0px 0,92.0px 0,94.0px 0,96.0px 0,98.0px 0,100.0px 0,102.0px 0,104.0px 0,106.0px 0,108.0px 0,110.0px 0;background-size:2.3px 122.1px;background-repeat:no-repeat;background-color:#2e3192;"></div><div style="position:absolute;left:219.6px;top:238.5px;width:129.9px;height:122.2px;background-image:linear-gradient(#2e3192 0.0px,#2c3596 40.5px,#273e9e 44.5px,#2e3192 50.5px,#2545a3 53.5px,#1969b8 55.0px,#0391d8 56.0px,#00aaec 57.0px,#00addb 57.5px,#00aaa6 58.5px,#08aa7c 59.5px,#10aa5a 61.0px,#20ae54 62.5px,#18ac57 64.5px,#1cad55 65.5px,#40b649 67.0px,#e1e323 68.5px,#fbe019 69.0px,#f6841f 70.0px,#eb3727 71.5px,#f26224 73.0px,#f9a21c 74.0px,#fdcd18 74.5px,#fddf18 75.5px,#eee71f 76.5px,#94c83c 77.5px,#39b54a 79.0px,#25b052 80.5px,#30b34d 82.5px,#4db947 83.0px,#9dca3a 84.0px,#3db649 85.5px,#10aa5a 86.5px,#00abba 88.0px,#00addb 88.5px,#00aeed 89.0px,#0887d0 92.5px,#2447a4 98.5px,#2c3595 103.0px,#2c3595 122.0px),linear-gradient(#2e3192 0.0px,#2c3596 40.5px,#273e9e 44.5px,#2e3192 50.0px,#273e9e 53.0px,#1969b8 55.0px,#0391d8 56.0px,#00aaec 57.0px,#00addb 57.5px,#00aaa5 58.5px,#08aa7b 59.5px,#11aa5a 61.0px,#20ae54 62.5px,#19ac56 64.5px,#1fae54 65.5px,#36b44b 66.5px,#4eb947 67.0px,#bbd530 68.0px,#f0e81e 68.5px,#fede17 69.0px,#f57f20 70.0px,#ec3a27 71.5px,#f36723 73.0px,#f9a61c 74.0px,#fdcf18 74.5px,#fce018 75.5px,#f9e21a 76.0px,#eae620 76.5px,#91c73d 77.5px,#38b54a 79.0px,#25b052 80.5px,#33b34c 82.5px,#aacf35 84.0px,#27b051 86.0px,#11aa59 86.5px,#00abba 88.0px,#00addb 88.5px,#00aeed 89.0px,#068bd4 92.0px,#273d9d 99.5px,#2c3495 106.0px,#2c3495 122.0px),linear-gradient(#2e3192 0.0px,#2c3596 40.5px,#2640a0 44.0px,#2e3192 50.0px,#273e9e 53.0px,#1969b8 55.0px,#0391d8 56.0px,#00aaec 57.0px,#00adda 57.5px,#00aaa5 58.5px,#09aa7a 59.5px,#12aa59 61.0px,#20ae54 62.5px,#17ac57 64.0px,#22af53 65.5px,#3fb649 66.5px,#5cbc45 67.0px,#c9da2b 68.0px,#f3e61c 68.5px,#fed618 69.0px,#f9a31c 69.5px,#f57a20 70.0px,#ec3c26 71.5px,#f36c22 73.0px,#f9aa1b 74.0px,#fed118 74.5px,#ffde17 75.0px,#f8e31a 76.0px,#e6e521 76.5px,#8dc63d 77.5px,#37b54b 79.0px,#25b052 80.5px,#36b44b 82.5px,#b8d431 84.0px,#29b150 86.0px,#12ab59 86.5px,#00abba 88.0px,#00addb 88.5px,#00aeed 89.0px,#068ad3 92.0px,#273f9f 99.0px,#2c3495 105.5px,#2c3495 122.0px),linear-gradient(#2e3192 0.0px,#2c3696 40.5px,#2640a0 44.0px,#2e3192 50.0px,#273e9e 53.0px,#1969b8 55.0px,#0391d8 56.0px,#00aaec 57.0px,#00adda 57.5px,#00aaa4 58.5px,#09aa79 59.5px,#12ab59 61.0px,#20ae54 62.5px,#17ac57 64.0px,#25b052 65.5px,#4ab947 66.5px,#6abf43 67.0px,#d7df26 68.0px,#f7e41b 68.5px,#fdcc18 69.0px,#f89a1d 69.5px,#f47521 70.0px,#ec3f26 71.5px,#f47022 73.0px,#faad1b 74.0px,#fed318 74.5px,#fbe119 75.5px,#f7e31b 76.0px,#e3e322 76.5px,#8ac63e 77.5px,#37b44b 79.0px,#25b052 80.5px,#39b54a 82.5px,#c5d92c 84.0px,#7ec340 85.0px,#2bb14f 86.0px,#13ab59 86.5px,#00abba 88.0px,#00addb 88.5px,#00aeed 89.0px,#0789d2 92.0px,#2642a1 98.5px,#2c3495 104.5px,#2c3495 122.0px),linear-gradient(#2e3192 0.0px,#2c3696 40.5px,#2641a1 44.0px,#2e3192 49.5px,#273e9e 53.0px,#1969b8 55.0px,#0391d8 56.0px,#00aaec 57.0px,#00add9 57.5px,#00aaa3 58.5px,#09aa78 59.5px,#13ab59 61.0px,#21ae53 62.5px,#18ac57 64.0px,#28b051 65.5px,#37b44b 66.0px,#78c241 67.0px,#e6e421 68.0px,#fae119 68.5px,#fcc119 69.0px,#f7921d 69.5px,#f47022 70.0px,#ed4126 71.5px,#f47521 73.0px,#fab11b 74.0px,#fed518 74.5px,#f6e41b 76.0px,#dfe224 76.5px,#86c53e 77.5px,#36b44b 79.0px,#25b052 80.5px,#34b44c 82.0px,#40b649 82.5px,#a8cf36 83.5px,#d4de27 84.0px,#8ac63e 85.0px,#2eb24e 86.0px,#14ab58 86.5px,#02aa99 87.5px,#00addb 88.5px,#00aeed 89.0px,#0888d1 92.0px,#2640a0 98.5px,#2d3495 105.0px,#2d3495 122.0px),linear-gradient(#2e3192 0.0px,#2c3696 40.5px,#2642a1 44.0px,#2e3192 49.5px,#273e9e 53.0px,#1969b8 55.0px,#0391d8 56.0px,#00aaec 57.0px,#00add9 57.5px,#00aaa2 58.5px,#09aa77 59.5px,#13ab59 61.0px,#21af53 62.5px,#19ac57 64.0px,#2bb14f 65.5px,#3eb649 66.0px,#86c53e 67.0px,#f1e71e 68.0px,#fddf18 68.5px,#f68c1e 69.5px,#f36b22 70.0px,#ed4426 71.5px,#f47a21 73.0px,#fbb51a 74.0px,#fed818 74.5px,#f5e51c 76.0px,#dbe125 76.5px,#83c43f 77.5px,#36b44b 79.0px,#25b052 80.5px,#36b44b 82.0px,#48b848 82.5px,#b7d431 83.5px,#e4e422 84.0px,#97c83c 85.0px,#30b34e 86.0px,#16ab58 86.5px,#02aa99 87.5px,#00addb 88.5px,#00aeed 89.0px,#0887d0 92.0px,#263f9f 98.5px,#2d3494 105.0px,#2d3494 122.0px),linear-gradient(#2e3192 0.0px,#2b3696 40.5px,#2542a1 44.0px,#2e3192 49.5px,#273e9e 53.0px,#1969b8 55.0px,#0391d8 56.0px,#00abec 57.0px,#00add9 57.5px,#00aaa1 58.5px,#0aaa76 59.5px,#14ab58 61.0px,#21af53 62.5px,#19ac56 64.0px,#2eb24e 65.5px,#47b848 66.0px,#94c73c 67.0px,#cbdb2a 67.5px,#f4e51c 68.0px,#fed917 68.5px,#f6861f 69.5px,#f36623 70.0px,#ee4626 71.5px,#f7971d 73.5px,#ffda17 74.5px,#f4e51c 76.0px,#d7df26 76.5px,#7fc33f 77.5px,#35b44c 79.0px,#25b052 80.5px,#38b54b 82.0px,#4fba47 82.5px,#c5d92c 83.5px,#f1e71e 84.0px,#d2dd28 84.5px,#6fc042 85.5px,#32b34d 86.0px,#17ac57 86.5px,#02aa99 87.5px,#00addb 88.5px,#00aeed 89.0px,#0986cf 92.0px,#2543a1 98.0px,#2d3394 104.5px,#2d3394 122.0px),linear-gradient(#2e3192 0.0px,#2b3696 40.5px,#2543a1 44.0px,#2e3192 49.0px,#293a9b 52.5px,#1f5aae 54.5px,#009ee2 56.5px,#00abec 57.0px,#00add8 57.5px,#00aaa1 58.5px,#0aaa75 59.5px,#15ab58 61.0px,#22af53 62.5px,#1aad56 64.0px,#31b34d 65.5px,#79c240 66.5px,#a1cc38 67.0px,#d9e026 67.5px,#f7e31b 68.0px,#fdcd18 68.5px,#f57f20 69.5px,#f26124 70.0px,#ee4926 71.5px,#f89c1c 73.5px,#ffdc17 74.5px,#f3e61c 76.0px,#d3de28 76.5px,#7cc340 77.5px,#34b44c 79.0px,#25b052 80.5px,#3ab54a 82.0px,#57bb46 82.5px,#97c83c 83.0px,#d3de28 83.5px,#f4e51c 84.0px,#e1e323 84.5px,#78c241 85.5px,#35b44c 86.0px,#18ac57 86.5px,#02aa99 87.5px,#00addb 88.5px,#00aeee 89.0px,#0985ce 92.0px,#2641a0 98.0px,#2d3394 105.0px,#2d3394 122.0px),linear-gradient(#2e3192 0.0px,#2b3696 40.5px,#2543a2 44.0px,#2e3192 49.0px,#293a9b 52.5px,#1f5aae 54.5px,#009ee2 56.5px,#00abec 57.0px,#00add8 57.5px,#00aaa0 58.5px,#0aaa74 59.5px,#15ab58 61.0px,#22af53 62.5px,#1aad56 64.0px,#34b44c 65.5px,#afd134 67.0px,#e7e521 67.5px,#fae119 68.0px,#f47921 69.5px,#f15c24 70.0px,#ef4b25 71.5px,#f8a11c 73.5px,#ffde17 74.5px,#f2e61d 76.0px,#a4cd37 77.0px,#78c240 77.5px,#34b44c 79.0px,#25b052 80.5px,#3db649 82.0px,#5cbc45 82.5px,#dde124 83.5px,#f7e31b 84.0px,#ebe620 84.5px,#7ec340 85.5px,#36b44b 86.0px,#19ac57 86.5px,#02aa99 87.5px,#00addb 88.5px,#00aeee 89.0px,#068bd3 91.5px,#2250a9 96.5px,#283b9c 99.0px,#2d3394 107.0px,#2d3394 122.0px),linear-gradient(#2e3192 0.0px,#2b3697 40.5px,#2544a2 44.0px,#2e3192 49.0px,#293a9b 52.5px,#1f5aae 54.5px,#009ee2 56.5px,#00abec 57.0px,#00add8 57.5px,#00aa9f 58.5px,#0aaa73 59.5px,#10aa5c 60.5px,#22af53 62.5px,#1bad56 64.0px,#37b54b 65.5px,#bcd62f 67.0px,#f1e71e 67.5px,#fedf18 68.0px,#f68f1e 69.0px,#f15825 70.0px,#ef4e25 71.5px,#f9a61c 73.5px,#fede17 74.5px,#f1e71d 76.0px,#75c141 77.5px,#33b34c 79.0px,#25b052 80.5px,#3bb54a 82.0px,#56bb46 82.5px,#cfdc29 83.5px,#f3e61c 84.0px,#dde124 84.5px,#77c241 85.5px,#34b44c 86.0px,#18ac57 86.5px,#02aa99 87.5px,#00addb 88.5px,#00aeee 89.0px,#078ad3 91.5px,#2054ab 96.0px,#293b9b 99.0px,#2d3394 107.5px,#2d3394 122.0px),linear-gradient(#2e3192 0.0px,#2b3697 40.5px,#2544a2 44.0px,#2e3192 49.0px,#293a9b 52.5px,#1f5aae 54.5px,#009ee2 56.5px,#00abec 57.0px,#00add7 57.5px,#00aa9e 58.5px,#0baa72 59.5px,#10aa5b 60.5px,#23af53 62.5px,#1cad55 64.0px,#3cb649 65.5px,#9bca3a 66.5px,#f4e51c 67.5px,#fed718 68.0px,#f9a81b 68.5px,#f05325 70.0px,#ef5025 71.5px,#faab1b 73.5px,#fedf18 74.5px,#f1e81e 76.0px,#71c142 77.5px,#42b749 78.5px,#33b34d 79.0px,#25b052 80.5px,#39b54a 82.0px,#51ba46 82.5px,#c2d82d 83.5px,#f0e81e 84.0px,#cedc29 84.5px,#6fc042 85.5px,#33b34c 86.0px,#17ac57 86.5px,#02aa99 87.5px,#00addb 88.5px,#00aeee 89.0px,#0789d2 91.5px,#2153aa 96.0px,#283c9d 98.5px,#2d3293 106.5px,#2d3293 122.0px),linear-gradient(#2e3192 0.0px,#2b3697 40.5px,#2545a3 44.0px,#2e3293 48.5px,#293a9b 52.5px,#1f5aae 54.5px,#009ee2 56.5px,#00abed 57.0px,#00add7 57.5px,#01aa9e 58.5px,#0baa71 59.5px,#10aa5a 60.5px,#23af53 62.5px,#1cad55 64.0px,#43b748 65.5px,#d7df26 67.0px,#f7e31b 67.5px,#fdcb19 68.0px,#f89c1c 68.5px,#ef4e25 70.0px,#f05325 71.5px,#fddf18 74.5px,#efe71e 76.0px,#6ec042 77.5px,#40b649 78.5px,#2db24e 79.5px,#25b052 80.5px,#37b54b 82.0px,#4bb947 82.5px,#b4d332 83.5px,#e0e223 84.0px,#96c83c 85.0px,#31b34d 86.0px,#16ac58 86.5px,#02aa99 87.5px,#00addb 88.5px,#00aeee 89.0px,#0889d1 91.5px,#2057ad 95.5px,#283c9c 98.5px,#2d3293 106.5px,#2d3293 122.0px),linear-gradient(#2e3192 0.0px,#2b3697 40.5px,#2545a3 44.0px,#2e3293 48.5px,#293a9b 52.5px,#1f5aae 54.5px,#009ee2 56.5px,#00abed 57.0px,#06aa86 59.0px,#0baa70 59.5px,#11aa5a 60.5px,#23af53 62.5px,#1dad55 64.0px,#35b44c 65.0px,#4ab947 65.5px,#e4e422 67.0px,#fae119 67.5px,#fcbf19 68.0px,#f7911d 68.5px,#ee4a25 70.0px,#f05525 71.5px,#fdcf18 74.0px,#fde018 74.5px,#eae620 76.0px,#6abf43 77.5px,#3eb649 78.5px,#2db24f 79.5px,#25b052 80.5px,#36b44b 82.0px,#45b748 82.5px,#d1dd28 84.0px,#8ac63e 85.0px,#2fb24e 86.0px,#15ab58 86.5px,#01aa9a 87.5px,#00addb 88.5px,#00aeee 89.0px,#0888d1 91.5px,#1e5baf 95.0px,#283d9d 98.0px,#2d3293 106.0px,#2d3293 122.0px),linear-gradient(#2e3192 0.0px,#2b3697 40.5px,#2446a3 44.0px,#2e3293 48.5px,#293a9b 52.5px,#1f5aae 54.5px,#009ee2 56.5px,#00abed 57.0px,#06aa86 59.0px,#0baa6f 59.5px,#11aa59 60.5px,#24af52 62.5px,#1dae55 64.0px,#37b44b 65.0px,#51ba46 65.5px,#bdd62f 66.5px,#f0e81e 67.0px,#fddf18 67.5px,#f6881f 68.5px,#ed4526 70.0px,#f15825 71.5px,#fed218 74.0px,#fce018 74.5px,#e6e521 76.0px,#67be43 77.5px,#3cb64a 78.5px,#29b150 80.0px,#2ab150 81.0px,#42b749 82.5px,#c8da2b 84.0px,#5dbc45 85.5px,#2eb24e 86.0px,#15ab58 86.5px,#01aa9a 87.5px,#00addb 88.5px,#00aeef 89.0px,#048fd6 91.0px,#1e5eb1 94.5px,#283c9d 98.0px,#2e3293 106.0px,#2e3293 122.0px),linear-gradient(#2e3192 0.0px,#2b3697 40.5px,#2446a4 44.0px,#2e3293 48.5px,#293a9b 52.5px,#1f5aae 54.5px,#009ee2 56.5px,#00abed 57.0px,#06aa85 59.0px,#0baa6e 59.5px,#12ab59 60.5px,#24af52 62.5px,#1eae55 64.0px,#39b54a 65.0px,#58bb45 65.5px,#c8da2b 66.5px,#f3e61c 67.0px,#fed817 67.5px,#f58020 68.5px,#ed4026 70.0px,#f15a24 71.5px,#fcc019 73.5px,#fed618 74.0px,#f2e71d 75.5px,#e2e323 76.0px,#64be44 77.5px,#3ab54a 78.5px,#25b052 80.5px,#36b44b 82.0px,#42b749 82.5px,#c7d92c 84.0px,#5cbc45 85.5px,#2eb24e 86.0px,#15ab58 86.5px,#01aa9a 87.5px,#00addb 88.5px,#00aeef 89.0px,#048ed6 91.0px,#1e5db0 94.5px,#273e9e 97.5px,#2e3192 105.5px,#2e3192 122.0px),linear-gradient(#2e3192 0.0px,#2b3697 40.5px,#2447a4 44.0px,#2e3293 48.5px,#293a9b 52.5px,#1f5aae 54.5px,#009ee2 56.5px,#00abed 57.0px,#06aa84 59.0px,#0caa6d 59.5px,#1aad56 61.0px,#22af53 63.0px,#1fae54 64.0px,#3fb649 65.0px,#5fbd44 65.5px,#d4de27 66.5px,#f6e41b 67.0px,#fdcd18 67.5px,#f89c1c 68.0px,#f47721 68.5px,#ec3c26 70.0px,#f15d24 71.5px,#f78f1e 72.5px,#fab11b 73.0px,#ffda17 74.0px,#f1e71e 75.5px,#dee224 76.0px,#60bd44 77.5px,#38b54a 78.5px,#25b052 80.5px,#36b44b 82.0px,#42b749 82.5px,#c5d92c 84.0px,#5cbc45 85.5px,#2eb24e 86.0px,#15ab58 86.5px,#01aa9a 87.5px,#00addb 88.5px,#00aeef 89.0px,#058ed5 91.0px,#1e5baf 94.5px,#283d9d 97.5px,#2e3192 106.0px,#2e3192 122.0px),linear-gradient(#2e3192 0.0px,#2b3697 40.5px,#2447a4 44.0px,#2d3293 48.0px,#2a3899 52.0px,#2545a3 53.5px,#1969b8 55.0px,#0391d8 56.0px,#00abed 57.0px,#07aa83 59.0px,#0caa6c 59.5px,#1aad56 61.0px,#23af53 63.0px,#1fae54 64.0px,#44b748 65.0px,#66be43 65.5px,#dfe224 66.5px,#f9e21a 67.0px,#fcc119 67.5px,#f7911d 68.0px,#f36f22 68.5px,#eb3727 70.0px,#f26024 71.5px,#f7931d 72.5px,#fbb81a 73.0px,#ffdd17 74.0px,#f0e81e 75.5px,#dae025 76.0px,#5dbc45 77.5px,#37b54b 78.5px,#25b052 80.5px,#43b749 82.5px,#c3d82d 84.0px,#5cbc45 85.5px,#2eb24e 86.0px,#15ab58 86.5px,#01aa9a 87.5px,#00addb 88.5px,#00aeef 89.0px,#058dd5 91.0px,#1d5fb1 94.0px,#283c9d 97.5px,#2e3192 106.0px,#2e3192 122.0px),linear-gradient(#2e3192 0.0px,#2b3697 40.5px,#234aa5 43.5px,#2e3293 48.5px,#293a9b 52.5px,#1f5aae 54.5px,#0391d8 56.0px,#00aced 57.0px,#08aa7e 59.0px,#0daa66 59.5px,#15ab58 60.5px,#23af53 63.0px,#20ae54 64.0px,#46b848 65.0px,#69bf43 65.5px,#e2e323 66.5px,#fae119 67.0px,#fcbe1a 67.5px,#f78f1e 68.0px,#f36c22 68.5px,#eb3627 70.0px,#f26124 71.5px,#f7951d 72.5px,#fbba1a 73.0px,#fede17 74.0px,#ebe620 75.5px,#d4de27 76.0px,#57bb46 77.5px,#35b44c 78.5px,#22af53 80.5px,#35b44b 82.0px,#44b748 82.5px,#d0dd29 84.0px,#61bd44 85.5px,#2fb24e 86.0px,#15ab58 86.5px,#01aa9b 87.5px,#00addc 88.5px,#00aeef 89.0px,#068cd4 91.0px,#1e5db0 94.0px,#283c9c 97.5px,#2e3192 106.5px,#2e3192 122.0px),linear-gradient(#2e3192 0.0px,#2b3697 40.5px,#234aa6 43.5px,#2d3293 48.0px,#2a3899 52.0px,#2446a3 53.5px,#186bb9 55.0px,#0292d9 56.0px,#00adee 57.0px,#03aa93 58.5px,#0faa5f 59.5px,#24b052 62.5px,#20ae54 64.0px,#47b848 65.0px,#6bbf43 65.5px,#e4e422 66.5px,#fbe119 67.0px,#fbbd1a 67.5px,#f68e1e 68.0px,#f36b22 68.5px,#eb3527 70.0px,#f26224 71.5px,#f7971d 72.5px,#fbbc1a 73.0px,#fedf18 74.0px,#f3e61d 75.0px,#e6e421 75.5px,#cddc2a 76.0px,#51ba46 77.5px,#32b34d 78.5px,#1fae54 80.5px,#34b44c 82.0px,#45b848 82.5px,#b1d233 83.5px,#e0e223 84.0px,#95c83c 85.0px,#68bf43 85.5px,#31b34d 86.0px,#15ab58 86.5px,#01aa9c 87.5px,#00adde 88.5px,#00adee 89.0px,#068bd3 91.0px,#1e5baf 94.0px,#293b9c 97.5px,#2e3192 107.0px,#2e3192 122.0px),linear-gradient(#2e3192 0.0px,#2b3697 40.5px,#234ba6 43.5px,#2d3293 48.0px,#2a3899 52.0px,#2446a3 53.5px,#186bba 55.0px,#0193da 56.0px,#00aeef 57.0px,#04aa8f 58.5px,#11aa5a 59.5px,#24b052 62.5px,#20ae54 64.0px,#49b848 65.0px,#6dc042 65.5px,#e6e421 66.5px,#fbe119 67.0px,#f36a23 68.5px,#eb3527 70.0px,#f26324 71.5px,#f7981d 72.5px,#fbbd1a 73.0px,#fddf18 74.0px,#f2e71d 75.0px,#c6d92c 76.0px,#4ab947 77.5px,#2fb24e 78.5px,#1cad55 80.5px,#33b34c 82.0px,#47b848 82.5px,#bed62f 83.5px,#f0e81e 84.0px,#a0cc39 85.0px,#6fc042 85.5px,#32b34d 86.0px,#15ab58 86.5px,#01aa9d 87.5px,#00addf 88.5px,#00acee 89.0px,#0789d2 91.0px,#1d5fb1 93.5px,#283d9d 97.0px,#2e3192 104.5px,#2e3192 122.0px),linear-gradient(#2e3192 0.0px,#2b3797 40.5px,#234ba6 43.5px,#2d3293 48.0px,#2a3899 52.0px,#2446a3 53.5px,#186cba 55.0px,#0194db 56.0px,#00aeee 57.0px,#05aa8b 58.5px,#15ab58 59.5px,#24b052 62.5px,#21af53 64.0px,#4ab947 65.0px,#6ec042 65.5px,#e8e521 66.5px,#fbe019 67.0px,#f68c1e 68.0px,#f36923 68.5px,#eb3427 70.0px,#f26423 71.5px,#f8991d 72.5px,#fcbe1a 73.0px,#fde018 74.0px,#f1e71d 75.0px,#bfd72e 76.0px,#44b748 77.5px,#23af53 79.0px,#19ac57 80.5px,#32b34d 82.0px,#48b848 82.5px,#cbdb2a 83.5px,#f4e61c 84.0px,#dce125 84.5px,#75c141 85.5px,#33b34c 86.0px,#16ac58 86.5px,#00aa9e 87.5px,#00ade1 88.5px,#00aced 89.0px,#0888d1 91.0px,#1e5db0 93.5px,#273e9e 96.5px,#2e3192 103.5px,#2e3192 122.0px),linear-gradient(#2e3192 0.0px,#2c3595 40.0px,#234ca7 43.5px,#2d3293 48.0px,#2a3899 52.0px,#2446a3 53.5px,#176dbb 55.0px,#0095db 56.0px,#00aeec 57.0px,#06aa87 58.5px,#0daa69 59.0px,#19ac57 59.5px,#23af52 63.0px,#21af53 64.0px,#31b34d 64.5px,#70c042 65.5px,#e9e620 66.5px,#fce018 67.0px,#f68b1e 68.0px,#f36823 68.5px,#eb3427 70.0px,#f26523 71.5px,#f89b1c 72.5px,#fcc019 73.0px,#fce018 74.0px,#f0e81e 75.0px,#b8d431 76.0px,#3eb649 77.5px,#20ae54 79.0px,#16ac58 80.5px,#31b34d 82.0px,#4ab847 82.5px,#93c73d 83.0px,#d7df26 83.5px,#f7e31b 84.0px,#ebe620 84.5px,#7cc340 85.5px,#35b44c 86.0px,#16ac58 86.5px,#00aa9f 87.5px,#00ade2 88.5px,#00abed 89.0px,#0986d0 91.0px,#1d61b2 93.0px,#273d9e 96.5px,#2e3192 103.5px,#2e3192 122.0px),linear-gradient(#2e3192 0.0px,#2c3595 40.0px,#234ca7 43.5px,#2d3293 48.0px,#2a3899 52.0px,#2446a3 53.5px,#176dbb 55.0px,#0096dc 56.0px,#00aeea 57.0px,#07aa83 58.5px,#0eaa64 59.0px,#1dad55 59.5px,#23af53 63.5px,#22af53 64.0px,#32b34d 64.5px,#72c141 65.5px,#ebe620 66.5px,#fce018 67.0px,#f68a1e 68.0px,#f36723 68.5px,#eb3327 70.0px,#f36623 71.5px,#f89c1c 72.5px,#fcc119 73.0px,#fed718 73.5px,#ece61f 75.0px,#b1d233 76.0px,#38b54a 77.5px,#19ac56 79.5px,#13ab59 80.5px,#30b34e 82.0px,#48b848 82.5px,#95c83c 83.0px,#dee124 83.5px,#f9e21a 84.0px,#f1e81e 84.5px,#7fc33f 85.5px,#35b44c 86.0px,#16ab58 86.5px,#00aaa1 87.5px,#00ade4 88.5px,#00aaec 89.0px,#0985ce 91.0px,#1d5fb1 93.0px,#273f9f 96.0px,#2e3192 103.0px,#2e3192 122.0px),linear-gradient(#2e3192 0.0px,#2c3595 40.0px,#224da7 43.5px,#2d3293 48.0px,#2a3899 52.0px,#2446a4 53.5px,#166ebc 55.0px,#0097dd 56.0px,#00aee8 57.0px,#08aa7f 58.5px,#0faa5e 59.0px,#21ae54 59.5px,#22af53 64.0px,#32b34d 64.5px,#74c141 65.5px,#ede71f 66.5px,#fde018 67.0px,#f6891f 68.0px,#f36623 68.5px,#ea3327 70.0px,#f36723 71.5px,#f89e1c 72.5px,#fcc319 73.0px,#fed817 73.5px,#f5e51c 74.5px,#e7e521 75.0px,#aacf35 76.0px,#36b44b 77.5px,#16ac58 79.5px,#10aa5b 80.5px,#2cb24f 82.0px,#3eb649 82.5px,#8ac53e 83.0px,#d1dd28 83.5px,#f7e41b 84.0px,#e7e521 84.5px,#77c241 85.5px,#33b34c 86.0px,#14ab58 86.5px,#00aaa2 87.5px,#00aee5 88.5px,#00aaec 89.0px,#048fd6 90.5px,#1e5db0 93.0px,#273e9e 96.0px,#2e3192 103.0px,#2e3192 122.0px),linear-gradient(#2e3192 0.0px,#2c3595 40.0px,#224ea8 43.5px,#2d3293 48.0px,#2a3899 52.0px,#2447a4 53.5px,#166fbd 55.0px,#0097dd 56.0px,#00aee6 57.0px,#09aa7b 58.5px,#11aa5a 59.0px,#25b052 59.5px,#22af53 64.0px,#33b34c 64.5px,#75c141 65.5px,#efe71e 66.5px,#fddf18 67.0px,#f6881f 68.0px,#f26523 68.5px,#ea3227 70.0px,#f36823 71.5px,#f89f1c 72.5px,#fcc419 73.0px,#ffda17 73.5px,#f4e51c 74.5px,#e2e323 75.0px,#a3cd38 76.0px,#53ba46 77.0px,#33b34c 77.5px,#13ab59 79.5px,#0faa60 80.5px,#28b151 82.0px,#36b44b 82.5px,#c5d92c 83.5px,#f4e51c 84.0px,#dbe025 84.5px,#6fc042 85.5px,#30b34d 86.0px,#13ab59 86.5px,#06aa84 87.0px,#00aee7 88.5px,#00a9eb 89.0px,#058dd5 90.5px,#1e5caf 93.0px,#273f9f 95.5px,#2e3192 102.5px,#2e3192 122.0px),linear-gradient(#2e3192 0.0px,#2c3595 40.0px,#224ea8 43.5px,#2d3394 47.5px,#2b3696 51.5px,#2447a4 53.5px,#166fbd 55.0px,#0098dd 56.0px,#00a3e7 56.5px,#00ade4 57.0px,#09aa77 58.5px,#14ab58 59.0px,#29b150 59.5px,#23af53 64.0px,#33b34c 64.5px,#77c241 65.5px,#f0e81e 66.5px,#fddf18 67.0px,#f6871f 68.0px,#f26423 68.5px,#ea3227 70.0px,#f36923 71.5px,#f8a11c 72.5px,#fcc619 73.0px,#ffdc17 73.5px,#f3e61c 74.5px,#dee224 75.0px,#75c141 76.5px,#4db947 77.0px,#30b34d 77.5px,#10aa5b 79.5px,#0daa66 80.5px,#1aad56 81.5px,#32b34d 82.5px,#b8d431 83.5px,#f1e71d 84.0px,#cfdc29 84.5px,#2eb24e 86.0px,#11aa5a 86.5px,#06aa86 87.0px,#00aee9 88.5px,#00a1e4 89.5px,#1f5aae 93.0px,#273e9e 95.5px,#2e3192 103.0px,#2e3192 122.0px),linear-gradient(#2e3192 0.0px,#2c3595 40.0px,#224fa8 43.5px,#2d3394 47.5px,#2b3696 51.5px,#2447a4 53.5px,#1570be 55.0px,#0098de 56.0px,#00a4e7 56.5px,#00ade2 57.0px,#0aaa73 58.5px,#17ac57 59.0px,#2cb24f 59.5px,#23af52 64.0px,#34b44c 64.5px,#79c240 65.5px,#f0e81e 66.5px,#fedf18 67.0px,#f6861f 68.0px,#f26324 68.5px,#ea3127 70.0px,#f36a23 71.5px,#f9a21c 72.5px,#fdc719 73.0px,#ffde17 73.5px,#f2e61d 74.5px,#b7d431 75.5px,#46b848 77.0px,#2db24f 77.5px,#10aa5a 79.0px,#0caa6b 80.5px,#16ac58 81.5px,#2db24f 82.5px,#66be43 83.0px,#e9e620 84.0px,#93c73c 85.0px,#2cb14f 86.0px,#10aa5b 86.5px,#06aa88 87.0px,#00aeea 88.5px,#0098de 90.0px,#1d5fb1 92.5px,#273d9e 95.5px,#2e3192 103.0px,#2e3192 122.0px),linear-gradient(#2e3192 0.0px,#2c3596 40.0px,#224fa8 43.5px,#2d3394 47.5px,#2b3696 51.5px,#2447a4 53.5px,#1571be 55.0px,#0099de 56.0px,#00a5e8 56.5px,#00ade0 57.0px,#0baa6e 58.5px,#1aad56 59.0px,#30b34d 59.5px,#24af52 64.0px,#34b44c 64.5px,#7bc240 65.5px,#f1e71e 66.5px,#fedf17 67.0px,#f6851f 68.0px,#f26224 68.5px,#ea3127 70.0px,#f36b23 71.5px,#f9a31c 72.5px,#fdc819 73.0px,#fede17 73.5px,#f2e71d 74.5px,#8ec63d 76.0px,#40b649 77.0px,#2bb150 77.5px,#0faa60 79.0px,#0baa71 80.5px,#13ab59 81.5px,#29b150 82.5px,#5abc45 83.0px,#dde124 84.0px,#89c53e 85.0px,#29b150 86.0px,#0faa5e 86.5px,#05aa8a 87.0px,#00aeec 88.5px,#078ad2 90.5px,#1e5db0 92.5px,#273e9e 95.0px,#2e3192 102.5px,#2e3192 122.0px),linear-gradient(#2e3192 0.0px,#2c3596 40.0px,#2151a9 43.5px,#2d3394 47.5px,#2b3696 51.5px,#2447a4 53.5px,#1e5eb1 54.5px,#0099df 56.0px,#00a5e8 56.5px,#00adde 57.0px,#0caa6a 58.5px,#1dae55 59.0px,#34b44c 59.5px,#24af52 64.0px,#35b44c 64.5px,#7dc340 65.5px,#f1e71d 66.5px,#ffde17 67.0px,#f5841f 68.0px,#f26124 68.5px,#ea3127 70.0px,#f6861f 72.0px,#fdca19 73.0px,#fedf17 73.5px,#f1e71e 74.5px,#60bd44 76.5px,#39b54a 77.0px,#14ab59 78.5px,#0baa71 80.0px,#0aaa76 80.5px,#10aa5a 81.5px,#24af52 82.5px,#4eb947 83.0px,#d1dd28 84.0px,#27b051 86.0px,#0faa60 86.5px,#05aa8b 87.0px,#00aeed 88.5px,#0097dd 90.0px,#1e5caf 92.5px,#273d9d 95.0px,#2e3192 102.5px,#2e3192 122.0px),linear-gradient(#2e3192 0.0px,#2c3596 40.0px,#234ba6 42.5px,#2250a9 44.0px,#2b3798 46.5px,#2d3394 51.0px,#273f9f 53.0px,#1d5fb1 54.5px,#009adf 56.0px,#00a6e9 56.5px,#00addc 57.0px,#0daa66 58.5px,#38b54a 59.5px,#24af52 63.5px,#24af52 64.0px,#35b44b 64.5px,#7ec340 65.5px,#f2e71d 66.5px,#ffde17 67.0px,#f5831f 68.0px,#f26024 68.5px,#ea3027 70.0px,#f6871f 72.0px,#fdcb19 73.0px,#fddf18 73.5px,#f0e81e 74.5px,#80c43f 76.0px,#36b44b 77.0px,#11aa5a 78.5px,#0caa6b 79.0px,#08aa7c 80.5px,#15ab58 82.0px,#1fae54 82.5px,#43b749 83.0px,#c5d92c 84.0px,#46b848 85.5px,#24af52 86.0px,#0eaa63 86.5px,#04aa8d 87.0px,#00aeef 88.5px,#0096dc 90.0px,#1f5aae 92.5px,#283c9d 95.0px,#2e3192 103.0px,#2e3192 122.0px),linear-gradient(#2e3192 0.0px,#2c3596 40.0px,#2544a2 42.0px,#2054ab 43.5px,#2c3596 47.0px,#2b3696 51.5px,#2448a5 53.5px,#1d60b2 54.5px,#009be0 56.0px,#00a7ea 56.5px,#00add6 57.0px,#06aa87 58.0px,#10aa5c 58.5px,#28b051 59.0px,#4cb947 59.5px,#30b34e 61.5px,#26b052 63.5px,#25b052 64.0px,#37b44b 64.5px,#82c43f 65.5px,#c0d72e 66.0px,#f3e61d 66.5px,#fed917 67.0px,#f57f20 68.0px,#f25d24 68.5px,#ea3227 70.0px,#f68b1e 72.0px,#fed418 73.0px,#f4e61c 74.0px,#e1e323 74.5px,#6ec042 76.0px,#47b848 76.5px,#1eae55 77.5px,#0daa65 78.5px,#09aa76 79.0px,#06aa87 80.5px,#0faa5e 82.0px,#17ac57 82.5px,#33b34c 83.0px,#a8cf36 84.0px,#39b54a 85.5px,#20ae54 86.0px,#0daa68 86.5px,#00abb0 87.5px,#00adee 88.5px,#0195db 90.0px,#1f59ae 92.5px,#283c9c 95.0px,#2e3192 103.0px,#2e3192 122.0px),linear-gradient(#2e3192 0.0px,#2c3596 40.0px,#2545a3 42.0px,#2056ac 43.5px,#2c3596 47.0px,#2b3697 51.5px,#273f9f 53.0px,#1d61b3 54.5px,#009ce1 56.0px,#00a9eb 56.5px,#00acd0 57.0px,#08aa7d 58.0px,#16ac58 58.5px,#31b34d 59.0px,#63be44 59.5px,#2fb24e 62.0px,#26b051 64.0px,#38b54a 64.5px,#86c53e 65.5px,#c5d92c 66.0px,#f4e51c 66.5px,#fed218 67.0px,#f8a21c 67.5px,#f15a24 68.5px,#eb3427 70.0px,#f7911d 72.0px,#ffde17 73.0px,#f0e81e 74.0px,#59bb45 76.0px,#36b44b 76.5px,#15ab58 77.5px,#06aa84 79.0px,#03aa94 80.5px,#0faa5f 82.5px,#27b051 83.0px,#4cb947 83.5px,#88c53e 84.0px,#49b848 85.0px,#1cad55 86.0px,#0caa6d 86.5px,#00abb3 87.5px,#00aced 88.5px,#0193da 90.0px,#1f59ae 92.5px,#283c9c 95.0px,#2e3192 103.0px,#2e3192 122.0px),linear-gradient(#2e3192 0.0px,#2c3596 40.0px,#2446a3 42.0px,#2057ad 43.5px,#2a3898 46.5px,#2d3394 51.0px,#263f9f 53.0px,#1c63b3 54.5px,#009ee2 56.0px,#00aaec 56.5px,#00accb 57.0px,#0aaa74 58.0px,#1dae55 58.5px,#3ab54a 59.0px,#7ac240 59.5px,#32b34d 62.0px,#29b150 63.0px,#27b051 64.0px,#39b54a 64.5px,#8bc63e 65.5px,#cbdb2a 66.0px,#f6e41b 66.5px,#fdcb19 67.0px,#f89b1c 67.5px,#f05725 68.5px,#eb3627 70.0px,#f7971d 72.0px,#fce018 73.0px,#f4e51c 73.5px,#e0e223 74.0px,#6dc042 75.5px,#44b748 76.0px,#0faa5f 77.5px,#03aa91 79.0px,#00aaa1 80.5px,#0caa6c 82.5px,#1fae54 83.0px,#39b54a 83.5px,#72c141 84.0px,#3cb649 85.0px,#18ac57 86.0px,#0baa71 86.5px,#00abb6 87.5px,#00abed 88.5px,#0292d9 90.0px,#1f58ae 92.5px,#283c9c 95.0px,#2e3192 103.0px,#2e3192 122.0px),linear-gradient(#2e3192 0.0px,#2c3596 40.0px,#2447a4 42.0px,#1f59ae 43.5px,#2a3898 46.5px,#2d3494 51.0px,#2640a0 53.0px,#1c64b4 54.5px,#0390d7 55.5px,#00abed 56.5px,#02aa95 57.5px,#0caa6a 58.0px,#24af52 58.5px,#4db947 59.0px,#91c73d 59.5px,#62bd44 61.0px,#36b44b 62.0px,#2ab150 63.0px,#28b051 64.0px,#3cb64a 64.5px,#8fc73d 65.5px,#d0dd29 66.0px,#f7e31b 66.5px,#fcc519 67.0px,#f7951d 67.5px,#f05425 68.5px,#eb3827 70.0px,#f57f20 71.5px,#fdc819 72.5px,#fae219 73.0px,#f1e71d 73.5px,#82c43f 75.0px,#35b44c 76.0px,#15ab58 77.0px,#00aa9f 79.0px,#00abaf 80.5px,#09aa79 82.5px,#17ac57 83.0px,#30b34d 83.5px,#5dbc45 84.0px,#35b44c 85.0px,#2bb14f 85.5px,#15ab58 86.0px,#01aa9b 87.0px,#00add9 88.0px,#00aaec 88.5px,#0390d8 90.0px,#1f58ad 92.5px,#283c9c 95.0px,#2e3192 103.5px,#2e3192 122.0px),linear-gradient(#2e3192 0.0px,#2c3696 40.0px,#2448a5 42.0px,#1f5baf 43.5px,#2a3899 46.5px,#2d3494 51.0px,#2640a0 53.0px,#1b66b6 54.5px,#0293d9 55.5px,#00adee 56.5px,#04aa8e 57.5px,#0eaa61 58.0px,#2bb14f 58.5px,#61bd44 59.0px,#a7ce36 59.5px,#72c141 61.0px,#3bb54a 62.0px,#2db24f 62.5px,#29b150 64.0px,#3fb649 64.5px,#93c73c 65.5px,#d5df27 66.0px,#f9e21a 66.5px,#f7911d 67.5px,#ef5025 68.5px,#ec3a27 70.0px,#f5841f 71.5px,#fed118 72.5px,#f7e31b 73.0px,#e8e521 73.5px,#6ec042 75.0px,#44b748 75.5px,#1cad55 76.5px,#0eaa61 77.0px,#08aa7b 77.5px,#00abad 79.0px,#00abbd 80.5px,#06aa85 82.5px,#10aa5c 83.0px,#49b848 84.0px,#2fb24e 85.0px,#27b051 85.5px,#12ab59 86.0px,#01aa9e 87.0px,#00addc 88.0px,#00a9eb 88.5px,#048fd6 90.0px,#1f57ad 92.5px,#283b9c 95.0px,#2e3192 103.5px,#2e3192 122.0px),linear-gradient(#2e3192 0.0px,#2c3696 40.0px,#2640a0 41.5px,#1f5aae 43.0px,#2153ab 44.5px,#283c9c 46.0px,#2e3192 50.5px,#2640a0 53.0px,#1a68b7 54.5px,#0195db 55.5px,#00aeee 56.5px,#06aa87 57.5px,#11aa59 58.0px,#32b34d 58.5px,#bdd62f 59.5px,#83c43f 61.0px,#43b749 62.0px,#2fb24e 62.5px,#2ab150 64.0px,#41b749 64.5px,#97c83c 65.5px,#dbe025 66.0px,#fae119 66.5px,#f68c1e 67.5px,#ef4d25 68.5px,#ec3d26 70.0px,#f6881f 71.5px,#ffda17 72.5px,#f4e51c 73.0px,#dae025 73.5px,#5bbc45 75.0px,#35b44c 75.5px,#13ab59 76.5px,#05aa89 77.5px,#00abbd 79.0px,#00accb 80.5px,#03aa92 82.5px,#0daa69 83.0px,#1fae54 83.5px,#37b44b 84.0px,#24af52 85.5px,#10aa5b 86.0px,#00aaa1 87.0px,#00addf 88.0px,#00a8ea 88.5px,#058ed5 90.0px,#2057ad 92.5px,#293b9c 95.0px,#2e3192 103.5px,#2e3192 122.0px),linear-gradient(#2e3192 0.0px,#2b3696 40.0px,#2640a0 41.5px,#1e5baf 43.0px,#2055ab 44.5px,#283c9c 46.0px,#2e3192 50.5px,#2641a0 53.0px,#196ab9 54.5px,#0097dc 55.5px,#00aeeb 56.5px,#07aa7f 57.5px,#17ac57 58.0px,#3ab54a 58.5px,#88c53e 59.0px,#d4de27 59.5px,#94c83c 61.0px,#4bb947 62.0px,#31b34d 62.5px,#2bb150 64.0px,#44b748 64.5px,#9bca3a 65.5px,#e0e223 66.0px,#fce018 66.5px,#f6881f 67.5px,#ee4a25 68.5px,#ec3f26 70.0px,#f68d1e 71.5px,#fedf18 72.5px,#f2e71d 73.0px,#73c141 74.5px,#47b848 75.0px,#19ac57 76.0px,#0eaa64 76.5px,#02aa98 77.5px,#00accc 79.0px,#00add9 80.5px,#00aa9e 82.5px,#16ac58 83.5px,#2db24f 84.0px,#20ae54 85.5px,#0eaa61 86.0px,#00acc3 87.5px,#00ade2 88.0px,#00a7e9 88.5px,#068cd4 90.0px,#1d5fb1 92.0px,#273e9e 94.5px,#2e3192 101.5px,#2e3192 122.0px),linear-gradient(#2e3192 0.0px,#2b3697 40.0px,#2641a0 41.5px,#1e5db0 43.0px,#2056ac 44.5px,#283c9c 46.0px,#2e3192 50.5px,#2642a1 53.0px,#186cba 54.5px,#0098dd 55.5px,#00a5e8 56.0px,#00aee7 56.5px,#09aa78 57.5px,#1cad55 58.0px,#4ab847 58.5px,#9bca3a 59.0px,#eae620 59.5px,#a4cd37 61.0px,#33b34c 62.5px,#2cb14f 64.0px,#47b848 64.5px,#9fcb39 65.5px,#e6e421 66.0px,#fddf18 66.5px,#f9aa1b 67.0px,#f26423 68.0px,#ee4726 68.5px,#ed4126 70.0px,#f7921d 71.5px,#fcbe1a 72.0px,#fbe019 72.5px,#ebe620 73.0px,#8fc73d 74.0px,#37b44b 75.0px,#10aa5a 76.0px,#00aaa6 77.5px,#00addb 79.0px,#00aee8 80.5px,#00abac 82.5px,#0faa5e 83.5px,#24af52 84.0px,#1cad55 85.5px,#0daa66 86.0px,#00acc7 87.5px,#00aee5 88.0px,#009ee3 89.0px,#1472c0 91.0px,#2641a0 94.0px,#2e3192 100.5px,#2e3192 122.0px),linear-gradient(#2e3192 0.0px,#2b3697 40.0px,#2642a1 41.5px,#1d5fb1 43.0px,#1f58ad 44.5px,#283c9d 46.0px,#2e3192 50.5px,#2542a1 53.0px,#166ebc 54.5px,#0099de 55.5px,#00a6e9 56.0px,#00ade3 56.5px,#00aaa7 57.0px,#0baa71 57.5px,#22af53 58.0px,#5abc45 58.5px,#aed134 59.0px,#f4e61c 59.5px,#e7e521 60.0px,#b4d332 61.0px,#35b44c 62.5px,#2db24f 64.0px,#4ab847 64.5px,#a3cd38 65.5px,#ebe620 66.0px,#ffde17 66.5px,#f9a31c 67.0px,#ed4326 68.5px,#ed4326 70.0px,#f7971d 71.5px,#fcc619 72.0px,#f9e21a 72.5px,#dfe224 73.0px,#4db947 74.5px,#2eb24e 75.0px,#1aad56 75.5px,#07aa83 76.5px,#00abb6 77.5px,#00aeea 79.0px,#00abed 80.5px,#00add8 81.5px,#00abba 82.5px,#0caa6d 83.5px,#1bad56 84.0px,#19ac57 85.5px,#0caa6b 86.0px,#00acca 87.5px,#00aee8 88.0px,#0096dc 89.5px,#1e5eb0 92.0px,#273d9e 94.5px,#2e3192 101.5px,#2e3192 122.0px),linear-gradient(#2e3192 0.0px,#2b3697 40.0px,#2543a1 41.5px,#1d60b2 43.0px,#1d60b2 44.0px,#283d9d 46.0px,#2e3192 50.5px,#2543a2 53.0px,#1570bd 54.5px,#009adf 55.5px,#00a7ea 56.0px,#00ade0 56.5px,#00aaa1 57.0px,#0caa69 57.5px,#28b051 58.0px,#6abf43 58.5px,#c1d72e 59.0px,#f9e21a 59.5px,#f2e61d 60.0px,#c4d82d 61.0px,#64be43 62.0px,#37b44b 62.5px,#2eb24e 64.0px,#4db947 64.5px,#a7ce36 65.5px,#f0e81e 66.0px,#fed917 66.5px,#f89d1c 67.0px,#ed4026 68.5px,#ee4526 70.0px,#f89e1c 71.5px,#fdce18 72.0px,#f6e41b 72.5px,#d3de28 73.0px,#6ec042 74.0px,#3ab54a 74.5px,#11aa59 75.5px,#03aa92 76.5px,#00acc6 77.5px,#00aee8 78.5px,#00a6e8 80.5px,#00aced 81.0px,#00add7 82.0px,#00acc9 82.5px,#08aa7b 83.5px,#12aa59 84.0px,#15ab58 85.5px,#00abaf 87.0px,#00aeeb 88.0px,#0195db 89.5px,#1e5db0 92.0px,#273d9d 94.5px,#2e3192 101.5px,#2e3192 122.0px),linear-gradient(#2e3192 0.0px,#2b3697 40.0px,#2543a2 41.5px,#1d62b3 43.0px,#1d62b3 44.0px,#283d9d 46.0px,#2e3192 50.5px,#2544a2 53.0px,#1472bf 54.5px,#009ce0 55.5px,#00a9eb 56.0px,#00addc 56.5px,#01aa9c 57.0px,#0eaa62 57.5px,#2db24f 58.0px,#7ac240 58.5px,#d4de27 59.0px,#fddf18 59.5px,#f0e81e 60.5px,#d4de27 61.0px,#6dc042 62.0px,#38b54a 62.5px,#2eb24e 64.0px,#4fba47 64.5px,#abd035 65.5px,#f1e71d 66.0px,#fed318 66.5px,#f7961d 67.0px,#ec3d26 68.5px,#ee4726 70.0px,#f9a41c 71.5px,#fed518 72.0px,#f4e51c 72.5px,#93c73c 73.5px,#31b34d 74.5px,#0daa67 75.5px,#05aa8a 76.0px,#00add6 77.5px,#00aee7 78.0px,#00abec 78.5px,#00a0e4 80.5px,#00aced 81.5px,#00add7 82.5px,#0daa67 84.0px,#11aa5a 85.5px,#00abb3 87.0px,#00aeee 88.0px,#0986d0 90.0px,#1e5cb0 92.0px,#283d9d 94.5px,#2e3192 101.5px,#2e3192 122.0px),linear-gradient(#2e3192 0.0px,#2b3697 40.0px,#2544a2 41.5px,#1c63b4 43.0px,#1c63b4 44.0px,#283d9d 46.0px,#2e3192 50.0px,#2544a2 53.0px,#1472bf 54.5px,#009ce1 55.5px,#00a9eb 56.0px,#00adda 56.5px,#02aa97 57.0px,#10aa5a 57.5px,#33b34c 58.0px,#89c53e 58.5px,#e4e422 59.0px,#fed718 59.5px,#f3e61c 60.5px,#dfe224 61.0px,#72c141 62.0px,#3cb64a 62.5px,#30b34d 64.0px,#53ba46 64.5px,#afd134 65.5px,#f2e61d 66.0px,#fdcf18 66.5px,#f7921d 67.0px,#ec3c26 68.5px,#ee4b25 70.0px,#f6861f 71.0px,#faac1b 71.5px,#ffdd17 72.0px,#f2e71d 72.5px,#88c53e 73.5px,#51ba46 74.0px,#2cb24f 74.5px,#18ac57 75.0px,#00abaa 76.5px,#00adde 77.5px,#00aeee 78.0px,#009fe3 80.0px,#00a9eb 81.5px,#00aeec 82.0px,#00addd 82.5px,#0baa70 84.0px,#11aa5a 85.5px,#00accc 87.5px,#00aeea 88.0px,#0194db 89.5px,#1e5db0 92.0px,#283d9d 94.5px,#2e3192 101.0px,#2e3192 122.0px),linear-gradient(#2e3192 0.0px,#2b3697 40.0px,#2545a3 41.5px,#1b66b5 43.0px,#1b66b5 44.0px,#273d9e 46.0px,#2e3192 50.0px,#2544a2 53.0px,#1472bf 54.5px,#009de1 55.5px,#00aaec 56.0px,#00add7 56.5px,#03aa92 57.0px,#14ab58 57.5px,#3ab54a 58.0px,#99c93b 58.5px,#f1e71e 59.0px,#fdcc18 59.5px,#fddf18 60.0px,#e7e521 61.0px,#75c141 62.0px,#41b749 62.5px,#33b34c 64.0px,#84c43f 65.0px,#b3d232 65.5px,#f3e61c 66.0px,#fdca19 66.5px,#f7901e 67.0px,#ec3b26 68.5px,#ef4f25 70.0px,#f68b1e 71.0px,#fddf18 72.0px,#eee71f 72.5px,#7ec340 73.5px,#48b848 74.0px,#28b051 74.5px,#14ab58 75.0px,#00abaf 76.5px,#00ade1 77.5px,#00adee 78.0px,#009de2 80.0px,#00a8ea 81.5px,#00aeef 82.0px,#00ade0 82.5px,#09aa77 84.0px,#12ab59 85.5px,#0daa69 86.0px,#00acc5 87.5px,#00ade3 88.0px,#00a7e9 88.5px,#078ad2 90.0px,#1e5db0 92.0px,#283d9d 94.5px,#2e3192 101.0px,#2e3192 122.0px),linear-gradient(#2e3192 0.0px,#2c3495 39.5px,#2446a4 41.5px,#1a68b7 43.0px,#1a68b7 44.0px,#273e9e 46.0px,#2e3192 50.0px,#2544a2 53.0px,#1472bf 54.5px,#009de2 55.5px,#00abed 56.0px,#00add5 56.5px,#04aa8d 57.0px,#19ac56 57.5px,#48b848 58.0px,#a7ce36 58.5px,#f4e51c 59.0px,#fcc219 59.5px,#ffdd17 60.0px,#eee71f 61.0px,#78c241 62.0px,#45b748 62.5px,#35b44c 63.5px,#35b44c 64.0px,#86c53e 65.0px,#b8d431 65.5px,#f5e51c 66.0px,#fcc619 66.5px,#f68e1e 67.0px,#ef5025 68.0px,#ec3b26 68.5px,#f05325 70.0px,#f7901d 71.0px,#fbe119 72.0px,#e5e422 72.5px,#75c141 73.5px,#3eb649 74.0px,#10aa5a 75.0px,#00abb3 76.5px,#00ade5 77.5px,#00abed 78.0px,#009ce1 80.0px,#00a1e4 81.0px,#00adee 82.0px,#00ade3 82.5px,#08aa7d 84.0px,#13ab59 85.5px,#0eaa61 86.0px,#00abbd 87.5px,#00addc 88.0px,#00aaeb 88.5px,#058dd5 90.0px,#1e5eb1 92.0px,#273d9d 94.5px,#2e3192 101.0px,#2e3192 122.0px),linear-gradient(#2e3192 0.0px,#2c3495 39.5px,#2447a4 41.5px,#196ab9 43.0px,#196ab9 44.0px,#273e9e 46.0px,#2e3192 50.0px,#2544a2 53.0px,#1472bf 54.5px,#009ee2 55.5px,#00aced 56.0px,#00add3 56.5px,#06aa88 57.0px,#1eae55 57.5px,#57bb46 58.0px,#b6d331 58.5px,#f8e31a 59.0px,#fbb71a 59.5px,#fed318 60.0px,#f1e71d 61.0px,#7ac240 62.0px,#49b848 62.5px,#35b44b 63.5px,#37b44b 64.0px,#89c53e 65.0px,#f6e41b 66.0px,#fcc119 66.5px,#f68b1e 67.0px,#ef4d25 68.0px,#ec3b26 68.5px,#f15725 70.0px,#f7961d 71.0px,#fcc419 71.5px,#f9e21a 72.0px,#dbe025 72.5px,#6bbf42 73.5px,#37b44b 74.0px,#0faa5f 75.0px,#00abb8 76.5px,#00aee8 77.5px,#00a3e7 78.5px,#0099df 80.5px,#00abed 82.0px,#00aee6 82.5px,#07aa83 84.0px,#14ab58 85.5px,#11aa5a 86.0px,#00abb6 87.5px,#00acee 88.5px,#048fd7 90.0px,#1d5fb1 92.0px,#273d9d 94.5px,#2e3192 101.0px,#2e3192 122.0px),linear-gradient(#2e3192 0.0px,#2c3495 39.5px,#273e9e 41.0px,#176cbb 43.0px,#176cbb 44.0px,#273e9e 46.0px,#2e3192 50.0px,#2544a2 53.0px,#1472bf 54.5px,#009ee2 55.5px,#00acee 56.0px,#00acd1 56.5px,#07aa83 57.0px,#22af53 57.5px,#65be43 58.0px,#c5d92c 58.5px,#fbe019 59.0px,#faad1b 59.5px,#fde018 60.5px,#f3e61d 61.0px,#7cc340 62.0px,#4db947 62.5px,#36b44b 63.5px,#39b54a 64.0px,#8bc63e 65.0px,#f7e41b 66.0px,#fbbd1a 66.5px,#f6881f 67.0px,#ee4a25 68.0px,#ec3b26 68.5px,#ef4b25 69.5px,#f15b24 70.0px,#f89e1c 71.0px,#fdcc18 71.5px,#f6e41b 72.0px,#d1dd28 72.5px,#98c93b 73.0px,#33b34c 74.0px,#0daa65 75.0px,#00abbd 76.5px,#00aeec 77.5px,#009adf 80.0px,#009ee3 81.0px,#00aeea 82.5px,#05aa89 84.0px,#0eaa63 85.0px,#14ab58 85.5px,#16ac58 86.0px,#04aa8e 87.0px,#00aeec 88.5px,#0292d9 90.0px,#1d60b2 92.0px,#273d9e 94.5px,#2e3192 101.0px,#2e3192 122.0px),linear-gradient(#2e3192 0.0px,#2c3495 39.5px,#273e9f 41.0px,#166ebc 43.0px,#166ebc 44.0px,#273e9f 46.0px,#2e3192 50.0px,#2544a2 53.0px,#1472bf 54.5px,#009fe3 55.5px,#00adee 56.0px,#00acce 56.5px,#08aa7e 57.0px,#27b051 57.5px,#73c141 58.0px,#d4de27 58.5px,#ffde17 59.0px,#f9a21c 59.5px,#ffde17 60.5px,#f4e51c 61.0px,#c0d72e 61.5px,#7ec340 62.0px,#51ba46 62.5px,#37b44b 63.5px,#3db649 64.0px,#8dc63d 65.0px,#f8e31a 66.0px,#f6861f 67.0px,#ee4726 68.0px,#ec3b26 68.5px,#ef4d25 69.5px,#f26024 70.0px,#f9a51c 71.0px,#fed418 71.5px,#f4e51c 72.0px,#c7d92c 72.5px,#58bb45 73.5px,#2fb24e 74.0px,#19ac57 74.5px,#0caa6b 75.0px,#00acc1 76.5px,#00aeef 77.5px,#009adf 79.5px,#0097dd 80.5px,#00aeed 82.5px,#04aa8f 84.0px,#14ab58 85.5px,#1bad56 86.0px,#0daa67 86.5px,#00acc5 88.0px,#00ade4 88.5px,#00a6e9 89.0px,#0095db 90.0px,#1d61b2 92.0px,#273d9e 94.5px,#2e3192 101.0px,#2e3192 122.0px),linear-gradient(#2e3192 0.0px,#2c3595 39.5px,#273f9f 41.0px,#166fbd 43.0px,#166fbd 44.0px,#273f9f 46.0px,#2e3192 50.0px,#2544a2 53.0px,#1472bf 54.5px,#009fe3 55.5px,#00aeef 56.0px,#00accc 56.5px,#09aa79 57.0px,#2bb14f 57.5px,#82c43f 58.0px,#e3e322 58.5px,#fed118 59.0px,#f7981d 59.5px,#fed618 60.5px,#f5e41c 61.0px,#c4d82d 61.5px,#7fc33f 62.0px,#55bb46 62.5px,#37b54b 63.5px,#42b749 64.0px,#8fc63d 65.0px,#cada2b 65.5px,#f9e21a 66.0px,#f5831f 67.0px,#ed4426 68.0px,#ec3b26 68.5px,#ef4f25 69.5px,#f26423 70.0px,#faad1b 71.0px,#ffdd17 71.5px,#f2e71d 72.0px,#85c43f 73.0px,#4eb947 73.5px,#2bb150 74.0px,#15ab58 74.5px,#00abad 76.0px,#00addf 77.0px,#00acee 77.5px,#0097dd 80.0px,#009ce1 81.0px,#00aeef 82.5px,#08aa7d 84.5px,#14ab59 85.5px,#1fae54 86.0px,#0faa5e 86.5px,#00acbe 88.0px,#00addd 88.5px,#00a9eb 89.0px,#0789d2 90.5px,#1f59ae 92.5px,#273e9e 94.5px,#2e3192 101.0px,#2e3192 122.0px),linear-gradient(#2e3192 0.0px,#2c3595 39.5px,#273f9f 41.0px,#1571be 43.0px,#1571be 44.0px,#273f9f 46.0px,#2e3192 49.5px,#283c9d 52.5px,#1d60b2 54.0px,#00a0e4 55.5px,#00aeee 56.0px,#00acca 56.5px,#0aaa74 57.0px,#30b34e 57.5px,#90c73d 58.0px,#f0e81e 58.5px,#fcc419 59.0px,#f7901e 59.5px,#fdce18 60.5px,#f6e41b 61.0px,#c7d92c 61.5px,#80c33f 62.0px,#58bb45 62.5px,#38b54a 63.5px,#46b848 64.0px,#90c73d 65.0px,#cedc29 65.5px,#fae119 66.0px,#f58120 67.0px,#ed4126 68.0px,#ec3b26 68.5px,#f05225 69.5px,#f68a1e 70.5px,#fddf18 71.5px,#efe81e 72.0px,#7bc240 73.0px,#45b748 73.5px,#12aa59 74.5px,#00abb2 76.0px,#00ade3 77.0px,#00abed 77.5px,#0098de 79.5px,#0193da 80.5px,#00adee 82.5px,#07aa82 84.5px,#13ab59 85.5px,#20ae54 86.0px,#13ab59 86.5px,#00abb6 88.0px,#00abed 89.0px,#068cd4 90.5px,#1f59ae 92.5px,#273e9e 94.5px,#2e3192 101.0px,#2e3192 122.0px),linear-gradient(#2e3192 0.0px,#2c3595 39.5px,#273f9f 41.0px,#1472bf 43.0px,#1472bf 44.0px,#273f9f 46.0px,#2e3192 49.5px,#283c9d 52.5px,#1d60b2 54.0px,#00a0e4 55.5px,#00aeec 56.0px,#00acc7 56.5px,#0baa6f 57.0px,#35b44c 57.5px,#9ecb39 58.0px,#f4e61c 58.5px,#fbb61a 59.0px,#f6891f 59.5px,#fcc619 60.5px,#f8e31a 61.0px,#cada2b 61.5px,#80c43f 62.0px,#5cbc45 62.5px,#38b54a 63.5px,#49b848 64.0px,#92c73d 65.0px,#d3de28 65.5px,#fbe019 66.0px,#f9aa1b 66.5px,#f57e20 67.0px,#ec3e26 68.0px,#ec3c26 68.5px,#f05425 69.5px,#f78f1e 70.5px,#fbe119 71.5px,#e6e421 72.0px,#72c141 73.0px,#3bb54a 73.5px,#0faa5d 74.5px,#00abb7 76.0px,#00aee7 77.0px,#00a3e6 78.0px,#0391d8 80.5px,#00abed 82.5px,#00abbc 83.5px,#12aa59 85.5px,#20ae54 86.0px,#18ac57 86.5px,#0baa6e 87.0px,#00acce 88.5px,#00aeee 89.0px,#048fd6 90.5px,#1f5aaf 92.5px,#273e9e 94.5px,#2e3192 101.0px,#2e3192 122.0px),linear-gradient(#2e3192 0.0px,#2c3595 39.5px,#273f9f 41.0px,#1473c0 43.0px,#1473c0 44.0px,#273f9f 46.0px,#2e3192 49.5px,#283c9d 52.5px,#1d60b2 54.0px,#00a0e4 55.5px,#00aeeb 56.0px,#00acc5 56.5px,#0caa6a 57.0px,#39b54a 57.5px,#acd035 58.0px,#f7e31b 58.5px,#f9a91b 59.0px,#f5821f 59.5px,#fcbf1a 60.5px,#f9e21a 61.0px,#ccdb2a 61.5px,#81c43f 62.0px,#5fbd44 62.5px,#39b54a 63.5px,#4db947 64.0px,#93c73c 65.0px,#d8df26 65.5px,#fde018 66.0px,#f9a51c 66.5px,#f15a24 67.5px,#ec3b26 68.0px,#ec3d26 68.5px,#f05725 69.5px,#f7941d 70.5px,#fcc419 71.0px,#f9e21a 71.5px,#dce125 72.0px,#68bf43 73.0px,#36b44b 73.5px,#0eaa64 74.5px,#00abbc 76.0px,#00aeeb 77.0px,#0096dc 79.5px,#048fd6 80.5px,#00aaec 82.5px,#00addd 83.0px,#05aa8c 84.5px,#11aa5a 85.5px,#20ae54 86.0px,#1dad55 86.5px,#0daa65 87.0px,#00acc7 88.5px,#00aee7 89.0px,#009de2 90.0px,#1e5baf 92.5px,#273e9e 94.5px,#2e3192 100.5px,#2e3192 122.0px),linear-gradient(#2e3192 0.0px,#2c3595 39.5px,#263f9f 41.0px,#1374c1 43.0px,#1374c1 44.0px,#263f9f 46.0px,#2e3192 49.5px,#283c9d 52.5px,#1d60b2 54.0px,#058ed6 55.0px,#00a1e5 55.5px,#00aee9 56.0px,#00acc3 56.5px,#0daa65 57.0px,#44b748 57.5px,#bad530 58.0px,#fae119 58.5px,#f89c1c 59.0px,#f57b20 59.5px,#f7941d 60.0px,#fae219 61.0px,#cedc29 61.5px,#81c43f 62.0px,#62bd44 62.5px,#39b54a 63.5px,#72c141 64.5px,#94c83c 65.0px,#dde124 65.5px,#fedf18 66.0px,#f8a01c 66.5px,#eb3827 68.0px,#ef4b25 69.0px,#f15924 69.5px,#f89b1c 70.5px,#fdcc18 71.0px,#f7e41b 71.5px,#d2dd28 72.0px,#96c83c 72.5px,#5ebd44 73.0px,#32b34d 73.5px,#1aad56 74.0px,#0caa6a 74.5px,#00acc0 76.0px,#00aeef 77.0px,#0194da 79.5px,#058dd5 80.5px,#00a9eb 82.5px,#00ade1 83.0px,#09aa77 85.0px,#10aa5c 85.5px,#1fae54 86.0px,#22af53 86.5px,#0faa5d 87.0px,#00acbf 88.5px,#00addf 89.0px,#00a9eb 89.5px,#0095db 90.5px,#1e5cb0 92.5px,#273e9e 94.5px,#2e3192 100.5px,#2e3192 122.0px),linear-gradient(#2e3192 0.0px,#2c3595 39.5px,#263f9f 41.0px,#1275c2 43.0px,#1275c2 44.0px,#263f9f 46.0px,#2e3192 49.5px,#283c9d 52.5px,#1d60b2 54.0px,#048ed6 55.0px,#00a1e5 55.5px,#00aee7 56.0px,#00acc1 56.5px,#0faa60 57.0px,#4eb947 57.5px,#c8da2b 58.0px,#fedf18 58.5px,#f7901e 59.0px,#f47421 59.5px,#fab01b 60.5px,#fbe119 61.0px,#d0dd29 61.5px,#80c43f 62.0px,#39b54a 63.5px,#95c83c 65.0px,#e2e323 65.5px,#ffde17 66.0px,#f89b1c 66.5px,#eb3427 68.0px,#f15c24 69.5px,#f9a31c 70.5px,#fed418 71.0px,#f4e51c 71.5px,#c8da2b 72.0px,#55bb46 73.0px,#2db24f 73.5px,#15ab58 74.0px,#00abac 75.5px,#00acee 77.0px,#0392d8 79.5px,#068bd3 80.5px,#00a8ea 82.5px,#00ade5 83.0px,#08aa7b 85.0px,#0faa5e 85.5px,#28b051 86.5px,#14ab59 87.0px,#00abb7 88.5px,#00add8 89.0px,#00abed 89.5px,#0097dd 90.5px,#1e5db0 92.5px,#273e9e 94.5px,#2e3192 100.5px,#2e3192 122.0px),linear-gradient(#2e3192 0.0px,#2c3595 39.5px,#263f9f 41.0px,#1276c2 43.0px,#1276c2 44.0px,#263f9f 46.0px,#2e3192 49.5px,#283c9d 52.5px,#1d60b2 54.0px,#1472bf 54.5px,#048fd6 55.0px,#00a2e5 55.5px,#00aee6 56.0px,#00acbe 56.5px,#10aa5b 57.0px,#59bb45 57.5px,#d5df27 58.0px,#fed618 58.5px,#f6871f 59.0px,#f36d22 59.5px,#f9a91b 60.5px,#fbe019 61.0px,#d2dd28 61.5px,#7fc33f 62.0px,#39b54a 63.5px,#96c83c 65.0px,#e7e521 65.5px,#fed917 66.0px,#f7961d 66.5px,#ea3127 68.0px,#f25f24 69.5px,#f9aa1b 70.5px,#ffdc17 71.0px,#f2e61d 71.5px,#82c43f 72.5px,#4bb947 73.0px,#29b150 73.5px,#11aa5a 74.0px,#00abb2 75.5px,#00ade1 76.5px,#00aaec 77.0px,#068cd4 80.0px,#0888d1 80.5px,#00aee9 83.0px,#00aa9e 84.5px,#0eaa62 85.5px,#2db24f 86.5px,#19ac57 87.0px,#0baa6e 87.5px,#00acd0 89.0px,#00adee 89.5px,#078ad3 91.0px,#1e5fb1 92.5px,#273e9e 94.5px,#2e3192 100.5px,#2e3192 122.0px),linear-gradient(#2e3192 0.0px,#2c3595 39.5px,#263f9f 41.0px,#1177c3 43.0px,#1177c3 44.0px,#263f9f 46.0px,#2e3192 49.5px,#283c9d 52.5px,#1d60b2 54.0px,#1472bf 54.5px,#048fd6 55.0px,#00a2e6 55.5px,#00ade5 56.0px,#00abbd 56.5px,#11aa5a 57.0px,#5ebd44 57.5px,#dce125 58.0px,#fdd018 58.5px,#f5821f 59.0px,#f36923 59.5px,#f9a51c 60.5px,#fce018 61.0px,#d3de28 61.5px,#80c43f 62.0px,#38b54a 63.5px,#93c73c 65.0px,#e4e422 65.5px,#ffdd17 66.0px,#f89b1c 66.5px,#eb3827 68.0px,#f36723 69.5px,#f68a1e 70.0px,#fddf18 71.0px,#eee71f 71.5px,#77c241 72.5px,#42b749 73.0px,#0faa5e 74.0px,#00abb6 75.5px,#00ade4 76.5px,#00a9eb 77.0px,#068bd3 80.0px,#0888d1 80.5px,#00aeeb 83.0px,#06aa84 85.0px,#0daa67 85.5px,#2cb14f 86.5px,#17ac57 87.0px,#03aa92 88.0px,#00adee 89.5px,#078ad3 91.0px,#1e5fb1 92.5px,#273e9e 94.5px,#2e3192 100.5px,#2e3192 122.0px),linear-gradient(#2e3192 0.0px,#2c3596 39.5px,#2640a0 41.0px,#1178c4 43.0px,#1178c4 44.0px,#2640a0 46.0px,#2e3192 49.5px,#283c9d 52.5px,#1d60b2 54.0px,#1472bf 54.5px,#048fd7 55.0px,#00a2e6 55.5px,#00ade4 56.0px,#00abbc 56.5px,#12aa59 57.0px,#61bd44 57.5px,#e0e223 58.0px,#fdcc18 58.5px,#f57f20 59.0px,#f36623 59.5px,#f9a41c 60.5px,#fce018 61.0px,#d5df27 61.5px,#82c43f 62.0px,#37b54b 63.5px,#8fc73d 65.0px,#dde124 65.5px,#fddf18 66.0px,#f9a51c 66.5px,#ed4426 68.0px,#f47222 69.5px,#f7931d 70.0px,#fcc219 70.5px,#fae21a 71.0px,#e2e323 71.5px,#6dc042 72.5px,#39b54a 73.0px,#0eaa63 74.0px,#00abba 75.5px,#00aee6 76.5px,#00a3e6 77.5px,#0888d1 80.5px,#00aeed 83.0px,#05aa89 85.0px,#16ac58 86.0px,#27b051 86.5px,#13ab59 87.0px,#00abb5 88.5px,#00aced 89.5px,#0098de 90.5px,#1e5eb1 92.5px,#273e9e 94.5px,#2e3192 100.5px,#2e3192 122.0px),linear-gradient(#2e3192 0.0px,#2c3596 39.5px,#2640a0 41.0px,#1079c5 43.0px,#1079c5 44.0px,#2640a0 46.0px,#2e3192 49.5px,#283c9d 52.5px,#1d60b2 54.0px,#1472bf 54.5px,#048fd7 55.0px,#00a2e6 55.5px,#00ade3 56.0px,#00abbb 56.5px,#12ab59 57.0px,#64be43 57.5px,#e4e422 58.0px,#fdc919 58.5px,#f57c20 59.0px,#f26423 59.5px,#f9a21c 60.5px,#fddf18 61.0px,#d7df26 61.5px,#84c43f 62.0px,#37b44b 63.5px,#8bc63e 65.0px,#d6df27 65.5px,#fbe119 66.0px,#faaf1b 66.5px,#f36c22 67.5px,#ef5025 68.0px,#f57c20 69.5px,#fdcf18 70.5px,#f6e41b 71.0px,#d5de27 71.5px,#62bd44 72.5px,#35b44c 73.0px,#1eae55 73.5px,#0daa69 74.0px,#00abbd 75.5px,#00aee8 76.5px,#009ce1 78.0px,#0888d1 80.5px,#00aeee 83.0px,#04aa8d 85.0px,#12ab59 86.0px,#22af53 86.5px,#10aa5b 87.0px,#00abba 88.5px,#00add9 89.0px,#00aaec 89.5px,#0097dd 90.5px,#1e5eb0 92.5px,#273e9e 94.5px,#2e3192 100.5px,#2e3192 122.0px),linear-gradient(#2e3192 0.0px,#2c3596 39.5px,#2640a0 41.0px,#0f7bc6 43.0px,#0f7bc6 44.0px,#2640a0 46.0px,#2e3192 49.5px,#283c9d 52.5px,#1d60b2 54.0px,#1472bf 54.5px,#048fd7 55.0px,#00a3e6 55.5px,#00ade3 56.0px,#00abba 56.5px,#13ab59 57.0px,#67be43 57.5px,#e8e521 58.0px,#fcc519 58.5px,#f47a21 59.0px,#f26124 59.5px,#f8a01c 60.5px,#fddf18 61.0px,#d9e026 61.5px,#86c53e 62.0px,#36b44b 63.5px,#87c53e 65.0px,#d0dc29 65.5px,#f9e21a 66.0px,#f7931d 67.0px,#f15c24 68.0px,#f6871f 69.5px,#ffdc17 70.5px,#f3e61c 71.0px,#c8da2b 71.5px,#58bb45 72.5px,#30b34d 73.0px,#1aad56 73.5px,#05aa89 74.5px,#00add6 76.0px,#00aeeb 76.5px,#0888d1 80.5px,#00aeef 83.0px,#03aa91 85.0px,#0faa5d 86.0px,#1eae55 86.5px,#0eaa62 87.0px,#00acbf 88.5px,#00addd 89.0px,#00a9eb 89.5px,#0096dc 90.5px,#1e5db0 92.5px,#273e9e 94.5px,#2e3192 100.5px,#2e3192 122.0px),linear-gradient(#2e3192 0.0px,#2c3596 39.5px,#2640a0 41.0px,#0f7cc7 43.0px,#0f7cc7 44.0px,#2640a0 46.0px,#2e3192 49.5px,#283c9d 52.5px,#1d60b2 54.0px,#1472bf 54.5px,#0490d7 55.0px,#00a3e6 55.5px,#00ade2 56.0px,#00abb9 56.5px,#14ab58 57.0px,#6bbf43 57.5px,#ede71f 58.0px,#fcc119 58.5px,#f47721 59.0px,#f25f24 59.5px,#f89f1c 60.5px,#fedf18 61.0px,#dce125 61.5px,#89c53e 62.0px,#35b44c 63.5px,#82c43f 65.0px,#c9da2b 65.5px,#f7e31b 66.0px,#f89f1c 67.0px,#f36823 68.0px,#f7911d 69.5px,#fce018 70.5px,#f0e81e 71.0px,#85c53f 72.0px,#4eb947 72.5px,#2cb24f 73.0px,#17ac57 73.5px,#00aaa8 75.0px,#00add9 76.0px,#00aeed 76.5px,#0888d1 80.5px,#00adee 83.0px,#02aa96 85.0px,#0eaa64 86.0px,#19ac56 86.5px,#0daa69 87.0px,#00acc3 88.5px,#00ade2 89.0px,#00a7ea 89.5px,#0194da 90.5px,#1e5db0 92.5px,#273e9e 94.5px,#2e3192 100.5px,#2e3192 122.0px),linear-gradient(#2e3192 0.0px,#2c3596 39.5px,#2640a0 41.0px,#0e7dc8 43.0px,#0e7dc8 44.0px,#2640a0 46.0px,#2e3192 49.5px,#283c9d 52.5px,#1d60b2 54.0px,#1472bf 54.5px,#0390d7 55.0px,#00a3e6 55.5px,#00ade1 56.0px,#00abb9 56.5px,#15ab58 57.0px,#6ec042 57.5px,#f0e81e 58.0px,#fcbe1a 58.5px,#f47421 59.0px,#f15c24 59.5px,#f89d1c 60.5px,#fedf17 61.0px,#dee124 61.5px,#8bc63e 62.0px,#34b44c 63.5px,#7ec340 65.0px,#c2d82d 65.5px,#f5e51c 66.0px,#fdcd18 66.5px,#f68d1e 67.5px,#f47521 68.0px,#f89f1c 69.5px,#fdca19 70.0px,#f9e21a 70.5px,#e3e322 71.0px,#43b748 72.5px,#13ab59 73.5px,#00abac 75.0px,#00addc 76.0px,#00aeef 76.5px,#0888d1 80.5px,#00acee 83.0px,#00abb4 84.5px,#0caa6a 86.0px,#14ab58 86.5px,#00abab 88.0px,#00aee6 89.0px,#009de1 90.0px,#1e5cb0 92.5px,#273e9e 94.5px,#2e3192 100.5px,#2e3192 122.0px),linear-gradient(#2e3192 0.0px,#2c3596 39.5px,#2641a0 41.0px,#0d7ec9 43.0px,#0d7ec9 44.0px,#2641a0 46.0px,#2e3293 49.0px,#29399a 52.0px,#2544a2 53.0px,#1472bf 54.5px,#0390d7 55.0px,#00a3e6 55.5px,#00ade1 56.0px,#00abb8 56.5px,#16ac58 57.0px,#71c042 57.5px,#f1e71e 58.0px,#fbba1a 58.5px,#f47122 59.0px,#f15a24 59.5px,#f89b1c 60.5px,#ffde17 61.0px,#e0e223 61.5px,#8dc63d 62.0px,#4cb947 63.0px,#33b34c 63.5px,#60bd44 64.5px,#7ac240 65.0px,#bbd530 65.5px,#f3e61d 66.0px,#fed718 66.5px,#f8991d 67.5px,#f5821f 68.0px,#faae1b 69.5px,#fed817 70.0px,#f5e51c 70.5px,#d5de27 71.0px,#6dc042 72.0px,#39b54a 72.5px,#10aa5b 73.5px,#08aa7f 74.0px,#00addf 76.0px,#00adee 76.5px,#0888d1 80.5px,#00aced 83.0px,#00abb8 84.5px,#10aa5a 86.5px,#00accd 88.5px,#00aeea 89.0px,#0390d7 90.5px,#1c65b5 92.0px,#273e9e 94.5px,#2e3192 100.5px,#2e3192 122.0px),linear-gradient(#2e3192 0.0px,#2c3596 39.5px,#2641a1 41.0px,#0d7fca 43.0px,#0d7fca 44.0px,#2641a1 46.0px,#2e3293 49.0px,#29399a 52.0px,#2544a2 53.0px,#1472bf 54.5px,#0390d7 55.0px,#00a3e7 55.5px,#00ade0 56.0px,#00abb7 56.5px,#17ac57 57.0px,#74c141 57.5px,#f2e71d 58.0px,#fbb71a 58.5px,#f36f22 59.0px,#f15725 59.5px,#f89a1d 60.5px,#ffde17 61.0px,#e2e323 61.5px,#8fc73d 62.0px,#4bb947 63.0px,#32b34d 63.5px,#5cbc45 64.5px,#76c141 65.0px,#f1e81e 66.0px,#fedf17 66.5px,#f78f1e 68.0px,#fbbd1a 69.5px,#fddf18 70.0px,#f2e71d 70.5px,#95c83c 71.5px,#34b44c 72.5px,#0eaa62 73.5px,#06aa84 74.0px,#00ade2 76.0px,#00aced 76.5px,#0888d1 80.5px,#00abed 83.0px,#00accf 84.0px,#09aa78 86.0px,#0eaa62 86.5px,#00abb5 88.0px,#00aeee 89.0px,#048ed6 90.5px,#1c64b4 92.0px,#273e9e 94.5px,#2e3192 100.5px,#2e3192 122.0px),linear-gradient(#2e3192 0.0px,#2c3596 39.5px,#2641a1 41.0px,#0c80cb 43.0px,#0c80cb 44.0px,#2641a1 46.0px,#2e3293 49.0px,#29399a 52.0px,#2544a2 53.0px,#1472bf 54.5px,#0390d7 55.0px,#00a4e7 55.5px,#00addf 56.0px,#00abb6 56.5px,#18ac57 57.0px,#77c241 57.5px,#f3e61d 58.0px,#fab31a 58.5px,#f36c22 59.0px,#f05525 59.5px,#f7981d 60.5px,#ffdc17 61.0px,#e4e422 61.5px,#91c73d 62.0px,#4ab947 63.0px,#31b34d 63.5px,#40b649 64.0px,#72c141 65.0px,#e9e520 66.0px,#fce019 66.5px,#fed218 67.0px,#f89f1c 68.0px,#fdcc18 69.5px,#f9e21a 70.0px,#e9e520 70.5px,#56bb46 72.0px,#30b24e 72.5px,#1cad55 73.0px,#0daa68 73.5px,#05aa8a 74.0px,#00ade5 76.0px,#00abed 76.5px,#0888d1 80.5px,#00abec 83.0px,#00ade5 83.5px,#08aa7e 86.0px,#0caa6a 86.5px,#00abbb 88.0px,#00adee 89.0px,#058cd4 90.5px,#1c63b4 92.0px,#273e9e 94.5px,#2e3192 100.5px,#2e3192 122.0px),linear-gradient(#2e3192 0.0px,#2c3596 39.5px,#2642a1 41.0px,#0c81cb 43.0px,#0c81cb 44.0px,#2642a1 46.0px,#2e3293 49.0px,#29399a 52.0px,#2544a2 53.0px,#1472bf 54.5px,#0390d8 55.0px,#00a4e7 55.5px,#00addf 56.0px,#00abb5 56.5px,#19ac57 57.0px,#7ac240 57.5px,#f4e61c 58.0px,#faaf1b 58.5px,#f36923 59.0px,#f05225 59.5px,#f7961d 60.5px,#ffda17 61.0px,#e6e421 61.5px,#93c73c 62.0px,#49b848 63.0px,#30b34d 63.5px,#3db649 64.0px,#6dc042 65.0px,#dfe224 66.0px,#f9e21a 66.5px,#ffde17 67.0px,#fab11b 68.0px,#ffdb17 69.5px,#f5e41c 70.0px,#d9e026 70.5px,#4ab847 72.0px,#2bb14f 72.5px,#18ac57 73.0px,#0baa6e 73.5px,#04aa8f 74.0px,#00aee7 76.0px,#00a3e6 77.0px,#0888d1 80.5px,#00aaec 83.0px,#00aee7 83.5px,#06aa85 86.0px,#0baa72 86.5px,#00acc0 88.0px,#00abed 89.0px,#068ad3 90.5px,#1c62b3 92.0px,#273e9e 94.5px,#2e3192 100.5px,#2e3192 122.0px),linear-gradient(#2e3192 0.0px,#2c3596 39.5px,#2542a1 41.0px,#0b82cc 43.0px,#0b82cc 44.0px,#2542a1 46.0px,#2e3293 49.0px,#29399a 52.0px,#2544a2 53.0px,#1472bf 54.5px,#0391d8 55.0px,#00a4e7 55.5px,#00adde 56.0px,#00abb4 56.5px,#1aad56 57.0px,#7dc340 57.5px,#f5e51c 58.0px,#faac1b 58.5px,#f36623 59.0px,#ef5025 59.5px,#f7951d 60.5px,#fed917 61.0px,#e8e521 61.5px,#95c83c 62.0px,#49b848 63.0px,#2fb24e 63.5px,#3ab54a 64.0px,#69bf43 65.0px,#d6df27 66.0px,#f6e41b 66.5px,#fed718 67.5px,#fcc419 68.0px,#ffdd17 69.0px,#f2e71d 70.0px,#6dc042 71.5px,#3eb649 72.0px,#13ab59 73.0px,#03aa95 74.0px,#00aeea 76.0px,#0888d1 80.5px,#00a9eb 83.0px,#00aee9 83.5px,#05aa8c 86.0px,#09aa7a 86.5px,#00ade0 88.5px,#00a9eb 89.0px,#0097dc 90.0px,#1d62b3 92.0px,#273e9e 94.5px,#2e3192 100.5px,#2e3192 122.0px);background-position:0.0px 0,2.0px 0,4.0px 0,6.0px 0,8.0px 0,10.0px 0,12.0px 0,14.0px 0,16.0px 0,18.0px 0,20.0px 0,22.0px 0,24.0px 0,26.0px 0,28.0px 0,30.0px 0,32.0px 0,34.0px 0,36.0px 0,38.0px 0,40.0px 0,42.0px 0,44.0px 0,46.0px 0,48.0px 0,50.0px 0,52.0px 0,54.0px 0,56.0px 0,58.0px 0,60.0px 0,62.0px 0,64.0px 0,66.0px 0,68.0px 0,70.0px 0,72.0px 0,74.0px 0,76.0px 0,78.0px 0,80.0px 0,82.0px 0,84.0px 0,86.0px 0,88.0px 0,90.0px 0,92.0px 0,94.0px 0,96.0px 0,98.0px 0,100.0px 0,102.0px 0,104.0px 0,106.0px 0,108.0px 0,110.0px 0,112.0px 0,114.0px 0,116.0px 0,118.0px 0,120.0px 0,122.0px 0,124.0px 0,126.0px 0,128.0px 0;background-size:2.3px 122.2px;background-repeat:no-repeat;background-color:#2e3192;"></div><div style="position:absolute;left:393.8px;top:238.8px;width:130.0px;height:122.4px;background-image:linear-gradient(#2e3192 0.0px,#2b3697 40.0px,#2c3596 50.0px,#2543a1 52.0px,#1c65b5 53.5px,#0098de 55.0px,#00aeee 57.0px,#00abb6 61.0px,#07aa82 63.0px,#10aa5a 64.0px,#39b54a 65.0px,#9fcb39 66.0px,#d4de27 66.5px,#f5e41c 67.0px,#fed218 68.0px,#f89e1c 69.5px,#f5831f 71.0px,#f7911d 73.0px,#fed118 75.0px,#fbe119 76.5px,#f0e81e 78.0px,#e0e223 78.5px,#bcd52f 79.0px,#59bb45 80.0px,#3eb649 80.5px,#31b34d 81.5px,#3eb649 82.0px,#a7ce36 83.0px,#eae620 83.5px,#ffda17 84.0px,#f8a01c 84.5px,#fab11b 85.0px,#f8e31a 85.5px,#7ac240 86.5px,#48b848 87.0px,#2cb24f 87.5px,#14ab58 88.5px,#02aa99 91.0px,#00acbf 93.0px,#00ade4 95.5px,#00aeef 96.0px,#009ee2 97.5px,#0c81cb 98.5px,#2153ab 100.0px,#293a9b 101.5px,#2e3192 105.5px,#2e3192 122.0px),linear-gradient(#2e3192 0.0px,#2b3697 40.0px,#2c3596 50.0px,#2543a1 52.0px,#1c65b5 53.5px,#0098de 55.0px,#00aeee 57.0px,#00abb6 61.0px,#07aa82 63.0px,#10aa5a 64.0px,#39b54a 65.0px,#9fcb39 66.0px,#d4de27 66.5px,#f5e41c 67.0px,#fed218 68.0px,#f89c1c 69.5px,#f58020 71.0px,#f7901d 73.0px,#fed118 75.0px,#fbe119 76.5px,#f0e81e 78.0px,#dfe224 78.5px,#bbd530 79.0px,#59bb45 80.0px,#3eb649 80.5px,#31b34d 81.5px,#3eb649 82.0px,#a9cf36 83.0px,#efe81e 83.5px,#fed218 84.0px,#f7971d 84.5px,#f9a81b 85.0px,#fae219 85.5px,#7cc340 86.5px,#48b848 87.0px,#2cb24f 87.5px,#14ab59 88.5px,#01aa9b 91.0px,#00acc3 93.0px,#00aeeb 95.5px,#009be0 97.5px,#1e5cb0 99.5px,#283d9d 101.0px,#2e3192 104.5px,#2e3192 122.0px),linear-gradient(#2e3192 0.0px,#2b3697 40.0px,#2c3596 50.0px,#2543a1 52.0px,#1c65b5 53.5px,#0098de 55.0px,#00aeee 57.0px,#00abb6 61.0px,#07aa82 63.0px,#10aa5a 64.0px,#39b54a 65.0px,#9fcb39 66.0px,#d4de27 66.5px,#f5e41c 67.0px,#fed118 68.0px,#f89a1d 69.5px,#f57e20 71.0px,#f78f1e 73.0px,#fed118 75.0px,#fbe119 76.5px,#f0e81e 78.0px,#dee224 78.5px,#bbd530 79.0px,#58bb45 80.0px,#3eb649 80.5px,#31b34d 81.5px,#3eb649 82.0px,#abd035 83.0px,#f1e71e 83.5px,#fdcb19 84.0px,#f78f1e 84.5px,#f89e1c 85.0px,#fbe019 85.5px,#c0d72e 86.0px,#7ec340 86.5px,#49b848 87.0px,#2cb24f 87.5px,#13ab59 88.5px,#03aa92 90.5px,#00acc7 93.0px,#00adee 95.5px,#0097dd 97.5px,#1c64b4 99.0px,#283c9d 101.0px,#2e3192 105.0px,#2e3192 122.0px),linear-gradient(#2e3192 0.0px,#2b3697 40.0px,#2c3596 50.0px,#2543a1 52.0px,#1c65b5 53.5px,#0098de 55.0px,#00aeee 57.0px,#00abb6 61.0px,#07aa82 63.0px,#10aa5a 64.0px,#39b54a 65.0px,#9fcb39 66.0px,#d4de27 66.5px,#f5e41c 67.0px,#fdd018 68.0px,#f7971d 69.5px,#f57b20 71.0px,#f68e1e 73.0px,#fed118 75.0px,#fbe119 76.5px,#efe81e 78.0px,#dee124 78.5px,#bad530 79.0px,#58bb45 80.0px,#3eb649 80.5px,#31b34d 81.5px,#3eb649 82.0px,#add034 83.0px,#f2e71d 83.5px,#fcc419 84.0px,#f6881f 84.5px,#f7951d 85.0px,#fddf18 85.5px,#c5d92c 86.0px,#7fc33f 86.5px,#49b848 87.0px,#2cb24f 87.5px,#13ab59 88.5px,#03aa94 90.5px,#00acca 93.0px,#00aeeb 95.0px,#0391d8 97.5px,#2055ac 99.5px,#283c9c 101.0px,#2e3192 105.0px,#2e3192 122.0px),linear-gradient(#2e3192 0.0px,#2b3697 40.0px,#2c3596 50.0px,#2543a1 52.0px,#1c65b5 53.5px,#0098de 55.0px,#00aeee 57.0px,#00abb6 61.0px,#07aa82 63.0px,#10aa5a 64.0px,#39b54a 65.0px,#9fcb39 66.0px,#d4de27 66.5px,#f5e41c 67.0px,#fddf18 67.5px,#f7951d 69.5px,#f47921 71.0px,#f68d1e 73.0px,#faaf1b 74.0px,#fed118 75.0px,#fbe119 76.5px,#efe81e 78.0px,#dde124 78.5px,#b9d430 79.0px,#58bb45 80.0px,#3eb649 80.5px,#31b34d 81.5px,#3fb649 82.0px,#72c141 82.5px,#f3e61d 83.5px,#fbbc1a 84.0px,#f58120 84.5px,#f68e1e 85.0px,#ffde17 85.5px,#c9da2b 86.0px,#81c43f 86.5px,#4ab847 87.0px,#2cb24f 87.5px,#13ab59 88.5px,#02aa96 90.5px,#00acce 93.0px,#00adee 95.0px,#0098dd 97.0px,#1e5cb0 99.0px,#293b9b 101.0px,#2e3192 105.5px,#2e3192 122.0px),linear-gradient(#2e3192 0.0px,#2b3697 40.0px,#2c3596 50.0px,#2543a1 52.0px,#1c65b5 53.5px,#0098de 55.0px,#00aeee 57.0px,#00abb6 61.0px,#07aa82 63.0px,#10aa5a 64.0px,#39b54a 65.0px,#9fcb39 66.0px,#d4de27 66.5px,#f5e41c 67.0px,#fddf18 67.5px,#f7931d 69.5px,#f47721 71.0px,#f68c1e 73.0px,#faae1b 74.0px,#fed118 75.0px,#fbe119 76.5px,#eee71f 78.0px,#dce125 78.5px,#b8d431 79.0px,#58bb45 80.0px,#3eb649 80.5px,#31b34d 81.5px,#3fb649 82.0px,#72c141 82.5px,#f4e51c 83.5px,#fbb51a 84.0px,#f57b20 84.5px,#f6871f 85.0px,#fed718 85.5px,#cddc2a 86.0px,#83c43f 86.5px,#4ab847 87.0px,#2cb24f 87.5px,#12ab59 88.5px,#02aa98 90.5px,#00add2 93.0px,#00aeeb 94.5px,#0292d9 97.0px,#1f58ad 99.0px,#273e9e 100.5px,#2e3192 105.0px,#2e3192 122.0px),linear-gradient(#2e3192 0.0px,#2b3697 40.0px,#2c3596 50.0px,#2543a1 52.0px,#1c65b5 53.5px,#0098de 55.0px,#00aeee 57.0px,#00abb6 61.0px,#07aa82 63.0px,#10aa5a 64.0px,#39b54a 65.0px,#9fcb39 66.0px,#d4de27 66.5px,#f5e41c 67.0px,#fedf18 67.5px,#f7911d 69.5px,#f47421 71.0px,#f5831f 72.5px,#f7981d 73.5px,#fed118 75.0px,#f8e31a 77.0px,#ede71f 78.0px,#dbe125 78.5px,#b8d431 79.0px,#58bb45 80.0px,#3eb649 80.5px,#31b34d 81.5px,#3fb649 82.0px,#73c141 82.5px,#f5e41b 83.5px,#faad1b 84.0px,#f47421 84.5px,#f58120 85.0px,#fed018 85.5px,#d1dd28 86.0px,#85c43f 86.5px,#4bb947 87.0px,#2cb24f 87.5px,#12ab59 88.5px,#02aa99 90.5px,#00add6 93.0px,#00adef 94.5px,#068cd4 97.0px,#2054ab 99.0px,#283d9d 100.5px,#2e3192 105.0px,#2e3192 122.0px),linear-gradient(#2e3192 0.0px,#2b3797 40.0px,#2c3596 50.0px,#2543a1 52.0px,#1c65b5 53.5px,#0098de 55.0px,#00aeee 57.0px,#00abb6 61.0px,#07aa82 63.0px,#10aa5a 64.0px,#39b54a 65.0px,#9fcb39 66.0px,#d4de27 66.5px,#f5e41c 67.0px,#fedf18 67.5px,#f7901e 69.5px,#f47222 71.0px,#f5821f 72.5px,#f7971d 73.5px,#fcc319 74.5px,#fddf18 76.0px,#ede71f 78.0px,#dae025 78.5px,#b7d431 79.0px,#58bb45 80.0px,#3eb649 80.5px,#31b34d 81.5px,#3fb649 82.0px,#73c141 82.5px,#f7e41b 83.5px,#f36d22 84.5px,#f57a20 85.0px,#fdca19 85.5px,#d6df27 86.0px,#86c53e 86.5px,#4bb947 87.0px,#2cb24f 87.5px,#12aa59 88.5px,#01aa9b 90.5px,#00add9 93.0px,#00aeec 94.0px,#0391d8 96.5px,#2250a9 99.0px,#283c9c 100.5px,#2e3192 105.5px,#2e3192 122.0px),linear-gradient(#2e3192 0.0px,#2b3797 40.0px,#2c3596 50.0px,#2543a1 52.0px,#1c65b5 53.5px,#0098de 55.0px,#00aeee 57.0px,#00abb6 61.0px,#07aa82 63.0px,#10aa5a 64.0px,#39b54a 65.0px,#9fcb39 66.0px,#d4de27 66.5px,#f5e41c 67.0px,#fedf18 67.5px,#f68e1e 69.5px,#f36f22 71.0px,#f58020 72.5px,#f7951d 73.5px,#fcc219 74.5px,#ffda17 75.5px,#ece71f 78.0px,#dae025 78.5px,#b6d431 79.0px,#58bb45 80.0px,#3eb649 80.5px,#31b34d 81.5px,#3fb649 82.0px,#74c141 82.5px,#f8e31a 83.5px,#f89f1c 84.0px,#f36623 84.5px,#f47421 85.0px,#fcc319 85.5px,#dae025 86.0px,#88c53e 86.5px,#4cb947 87.0px,#2cb24f 87.5px,#11aa59 88.5px,#04aa90 90.0px,#00addd 93.0px,#00adee 94.0px,#068bd3 96.5px,#2057ad 98.5px,#273e9e 100.0px,#2e3192 105.0px,#2e3192 122.0px),linear-gradient(#2e3192 0.0px,#2c3596 39.5px,#2c3495 44.5px,#2c3596 50.0px,#2543a1 52.0px,#1c65b5 53.5px,#0098de 55.0px,#00aeee 57.0px,#00abb6 61.0px,#07aa82 63.0px,#10aa5a 64.0px,#39b54a 65.0px,#9fcb39 66.0px,#d4de27 66.5px,#f5e41c 67.0px,#fedf18 67.5px,#f89c1c 69.0px,#f36d22 71.0px,#f47621 72.0px,#f7941d 73.5px,#fcc219 74.5px,#ffda17 75.5px,#ece71f 78.0px,#d9e026 78.5px,#b6d331 79.0px,#58bb45 80.0px,#3eb649 80.5px,#31b34d 81.5px,#3fb649 82.0px,#75c141 82.5px,#f8e21a 83.5px,#f8991d 84.0px,#f26124 84.5px,#f36f22 85.0px,#fcbe1a 85.5px,#dde124 86.0px,#89c53e 86.5px,#4cb947 87.0px,#2cb24f 87.5px,#11aa5a 88.5px,#03aa92 90.0px,#00ade1 93.0px,#00abed 94.0px,#0292d9 96.0px,#2153ab 98.5px,#283d9d 100.0px,#2e3192 105.5px,#2e3192 122.0px),linear-gradient(#2e3192 0.0px,#2c3596 39.5px,#2c3495 44.5px,#2c3596 50.0px,#2543a1 52.0px,#1c65b5 53.5px,#0098de 55.0px,#00aeee 57.0px,#00abb6 61.0px,#07aa82 63.0px,#10aa5a 64.0px,#39b54a 65.0px,#9fcb39 66.0px,#d4de27 66.5px,#f5e41c 67.0px,#fedf18 67.5px,#f89a1d 69.0px,#f36b23 71.0px,#f47421 72.0px,#f7931d 73.5px,#fcc219 74.5px,#ffda17 75.5px,#ebe620 78.0px,#d8df26 78.5px,#b5d332 79.0px,#58bb45 80.0px,#3eb649 80.5px,#31b34d 81.5px,#3fb649 82.0px,#74c141 82.5px,#f8e31a 83.5px,#f89b1c 84.0px,#f26324 84.5px,#f47022 85.0px,#fcc019 85.5px,#dce125 86.0px,#89c53e 86.5px,#4cb947 87.0px,#2cb24f 87.5px,#11aa5a 88.5px,#03aa93 90.0px,#00ade5 93.0px,#00aeef 93.5px,#0098dd 95.5px,#1f5aae 98.0px,#273e9f 99.5px,#2e3192 105.0px,#2e3192 122.0px),linear-gradient(#2e3192 0.0px,#2c3596 39.5px,#2c3495 44.5px,#2c3596 50.0px,#2543a1 52.0px,#1c65b5 53.5px,#0098de 55.0px,#00aeee 57.0px,#00abb6 61.0px,#07aa82 63.0px,#10aa5a 64.0px,#39b54a 65.0px,#9fcb39 66.0px,#d4de27 66.5px,#f5e41c 67.0px,#fedf17 67.5px,#f7981d 69.0px,#f36823 71.0px,#f47222 72.0px,#f7931d 73.5px,#fcc219 74.5px,#ffda17 75.5px,#ebe620 78.0px,#d7df26 78.5px,#b4d332 79.0px,#57bb45 80.0px,#3eb649 80.5px,#31b34d 81.5px,#3fb649 82.0px,#74c141 82.5px,#f8e31a 83.5px,#f89d1c 84.0px,#f26423 84.5px,#f47222 85.0px,#fcc119 85.5px,#dbe125 86.0px,#88c53e 86.5px,#4cb947 87.0px,#2cb24f 87.5px,#10aa5a 88.5px,#03aa95 90.0px,#00aee8 93.0px,#00a8ea 94.0px,#0195db 95.5px,#2055ac 98.0px,#2640a0 99.0px,#2e3192 105.0px,#2e3192 122.0px),linear-gradient(#2e3192 0.0px,#2c3596 39.5px,#2c3495 44.5px,#2c3596 50.0px,#2543a1 52.0px,#1c65b5 53.5px,#0098de 55.0px,#00aeee 57.0px,#00abb6 61.0px,#07aa82 63.0px,#10aa5a 64.0px,#39b54a 65.0px,#9fcb39 66.0px,#d4de27 66.5px,#f5e41c 67.0px,#fedf17 67.5px,#f7961d 69.0px,#f36623 71.0px,#f47122 72.0px,#f7921d 73.5px,#fcc219 74.5px,#ffda17 75.5px,#f3e61d 77.5px,#eae620 78.0px,#d7df26 78.5px,#b4d332 79.0px,#57bb45 80.0px,#3eb649 80.5px,#31b34d 81.5px,#3fb649 82.0px,#74c141 82.5px,#f8e31a 83.5px,#f89f1c 84.0px,#f36623 84.5px,#f47421 85.0px,#fcc319 85.5px,#dae025 86.0px,#88c53e 86.5px,#4cb947 87.0px,#2cb24f 87.5px,#10aa5a 88.5px,#02aa96 90.0px,#00aeec 93.0px,#009adf 95.0px,#1e5baf 97.5px,#273f9f 99.0px,#2e3192 105.5px,#2e3192 122.0px),linear-gradient(#2e3192 0.0px,#2c3696 39.5px,#2c3495 44.5px,#2c3596 50.0px,#2543a1 52.0px,#1c65b5 53.5px,#0098de 55.0px,#00abed 56.5px,#00aee6 57.5px,#00abb6 61.0px,#07aa82 63.0px,#11aa5a 64.0px,#39b54a 65.0px,#a0cb39 66.0px,#d4de27 66.5px,#f5e41b 67.0px,#fede17 67.5px,#f7941d 69.0px,#f26324 71.0px,#f36e22 72.0px,#f7911d 73.5px,#fcc119 74.5px,#ffda17 75.5px,#f3e61d 77.5px,#eae620 78.0px,#d6df27 78.5px,#b4d332 79.0px,#59bb45 80.0px,#3fb649 80.5px,#32b34d 81.5px,#40b649 82.0px,#75c141 82.5px,#f7e31b 83.5px,#f36823 84.5px,#f47521 85.0px,#fcc519 85.5px,#d9e026 86.0px,#88c53e 86.5px,#4bb947 87.0px,#2cb24f 87.5px,#10aa5a 88.5px,#02aa97 90.0px,#00aeef 93.0px,#0098de 95.0px,#1f57ad 97.5px,#273d9e 99.0px,#2e3192 106.0px,#2e3192 122.0px),linear-gradient(#2e3192 0.0px,#2c3696 39.5px,#2c3596 44.0px,#2c3596 50.0px,#2543a1 52.0px,#1c65b5 53.5px,#0098de 55.0px,#00abed 56.5px,#00aee6 57.5px,#00abb5 61.0px,#07aa81 63.0px,#11aa5a 64.0px,#3ab54a 65.0px,#a1cc38 66.0px,#d5df27 66.5px,#f6e41b 67.0px,#ffde17 67.5px,#f7921d 69.0px,#f26124 71.0px,#f36c22 72.0px,#f68f1e 73.5px,#fcc019 74.5px,#fed917 75.5px,#ebe620 78.0px,#d7df26 78.5px,#b5d332 79.0px,#5bbc45 80.0px,#42b749 80.5px,#33b34c 81.5px,#42b749 82.0px,#76c141 82.5px,#f7e31b 83.5px,#f36a23 84.5px,#f47721 85.0px,#fcc619 85.5px,#d8df26 86.0px,#87c53e 86.5px,#4bb947 87.0px,#2cb24f 87.5px,#10aa5b 88.5px,#02aa99 90.0px,#00aee8 92.5px,#00a7e9 93.5px,#0195db 95.0px,#1d5fb1 97.0px,#283d9d 99.0px,#2e3192 106.0px,#2e3192 122.0px),linear-gradient(#2e3192 0.0px,#2c3696 39.5px,#2c3596 44.0px,#2c3596 50.0px,#2543a1 52.0px,#1c65b5 53.5px,#0098de 55.0px,#00aced 56.5px,#00ade5 57.5px,#00abb5 61.0px,#07aa80 63.0px,#12aa59 64.0px,#3bb54a 65.0px,#a2cc38 66.0px,#d7df26 66.5px,#f6e41b 67.0px,#ffde17 67.5px,#f7911d 69.0px,#f25e24 71.0px,#f36923 72.0px,#f68d1e 73.5px,#fcbf1a 74.5px,#fed817 75.5px,#ebe620 78.0px,#d8df26 78.5px,#8bc63e 79.5px,#5ebd44 80.0px,#45b748 80.5px,#34b44c 81.5px,#44b748 82.0px,#77c241 82.5px,#f7e31b 83.5px,#f36b22 84.5px,#f47921 85.0px,#fdc819 85.5px,#d7df26 86.0px,#87c53e 86.5px,#4bb947 87.0px,#2cb24f 87.5px,#10aa5b 88.5px,#01aa9a 90.0px,#00aeeb 92.5px,#0391d8 95.0px,#1e5cb0 97.0px,#283c9d 99.0px,#2e3192 106.5px,#2e3192 122.0px),linear-gradient(#2e3192 0.0px,#2c3696 39.5px,#2c3596 44.0px,#2c3596 50.0px,#2543a1 52.0px,#1c65b5 53.5px,#0098de 55.0px,#00aced 56.5px,#00acbe 60.5px,#08aa7f 63.0px,#12ab59 64.0px,#3db649 65.0px,#a3cd38 66.0px,#d8df26 66.5px,#f6e41b 67.0px,#ffdd17 67.5px,#f78f1e 69.0px,#f15c24 71.0px,#f36723 72.0px,#f68b1e 73.5px,#fbbd1a 74.5px,#fed818 75.5px,#ece71f 78.0px,#d8e026 78.5px,#8dc63d 79.5px,#61bd44 80.0px,#48b848 80.5px,#35b44c 81.5px,#46b848 82.0px,#78c240 82.5px,#f7e41b 83.5px,#f36d22 84.5px,#f57a20 85.0px,#fdca19 85.5px,#d6df27 86.0px,#86c53e 86.5px,#4bb947 87.0px,#2cb24f 87.5px,#10aa5b 88.5px,#01aa9b 90.0px,#00aeef 92.5px,#068cd4 95.0px,#1f59ae 97.0px,#283c9c 99.0px,#2e3192 106.5px,#2e3192 122.0px),linear-gradient(#2e3192 0.0px,#2b3696 39.5px,#2c3596 44.0px,#2c3596 50.0px,#2543a1 52.0px,#1c65b5 53.5px,#0099de 55.0px,#00aced 56.5px,#00abb3 61.0px,#08aa7e 63.0px,#13ab59 64.0px,#3eb649 65.0px,#a4cd37 66.0px,#d9e026 66.5px,#f7e41b 67.0px,#ffdc17 67.5px,#f68d1e 69.0px,#f15924 71.0px,#f26423 72.0px,#f6891e 73.5px,#fbbc1a 74.5px,#fed718 75.5px,#ede71f 78.0px,#d9e026 78.5px,#8ec63d 79.5px,#64be44 80.0px,#4bb947 80.5px,#36b44b 81.5px,#48b848 82.0px,#79c240 82.5px,#f5e41b 83.5px,#faad1b 84.0px,#f47421 84.5px,#f58120 85.0px,#fdd018 85.5px,#d2dd28 86.0px,#85c43f 86.5px,#4bb947 87.0px,#2cb24f 87.5px,#10aa5c 88.5px,#01aa9c 90.0px,#00adee 92.5px,#0194da 94.5px,#2056ac 97.0px,#293b9c 99.0px,#2e3192 107.0px,#2e3192 122.0px),linear-gradient(#2e3192 0.0px,#2b3696 39.5px,#2c3696 44.0px,#2c3596 50.0px,#2543a1 52.0px,#1c65b5 53.5px,#0099de 55.0px,#00acee 56.5px,#00abb3 61.0px,#08aa7d 63.0px,#13ab59 64.0px,#3fb649 65.0px,#a6ce37 66.0px,#dae025 66.5px,#f7e31b 67.0px,#ffdb17 67.5px,#f68c1e 69.0px,#f05725 71.0px,#f26224 72.0px,#f6871f 73.5px,#fbbb1a 74.5px,#fed618 75.5px,#ede71f 78.0px,#d9e026 78.5px,#90c73d 79.5px,#67be43 80.0px,#4eb947 80.5px,#37b54b 81.5px,#4ab847 82.0px,#7ac240 82.5px,#f4e51c 83.5px,#fbb61a 84.0px,#f57c20 84.5px,#f6891f 85.0px,#fed817 85.5px,#ccdb2a 86.0px,#83c43f 86.5px,#4ab847 87.0px,#2cb24f 87.5px,#10aa5c 88.5px,#00abaf 90.5px,#00aee5 92.0px,#00abed 92.5px,#048fd7 94.5px,#1e5db0 96.5px,#273e9e 98.5px,#2e3192 105.0px,#2e3192 122.0px),linear-gradient(#2e3192 0.0px,#2b3697 39.5px,#2c3696 44.0px,#2c3596 50.0px,#2543a1 52.0px,#1c65b5 53.5px,#0099de 55.0px,#00adee 56.5px,#00abb2 61.0px,#08aa7c 63.0px,#14ab58 64.0px,#40b649 65.0px,#a7ce36 66.0px,#dbe125 66.5px,#f7e31b 67.0px,#fed917 67.5px,#f68a1e 69.0px,#f05425 71.0px,#f25f24 72.0px,#f6861f 73.5px,#fbb91a 74.5px,#fed518 75.5px,#f8e31a 77.0px,#eee71f 78.0px,#dae025 78.5px,#92c73d 79.5px,#69bf43 80.0px,#51ba46 80.5px,#38b54a 81.5px,#4cb947 82.0px,#7ac240 82.5px,#f3e61d 83.5px,#fcbf1a 84.0px,#f5841f 84.5px,#f7911d 85.0px,#fede17 85.5px,#c7da2c 86.0px,#81c43f 86.5px,#49b848 87.0px,#2cb24f 87.5px,#0faa5c 88.5px,#00abb1 90.5px,#00aee8 92.0px,#00a3e7 93.0px,#068bd3 94.5px,#1f5aaf 96.5px,#283d9d 98.5px,#2e3192 105.5px,#2e3192 122.0px),linear-gradient(#2e3192 0.0px,#2b3697 39.5px,#2c3696 44.0px,#2c3596 50.0px,#2543a1 52.0px,#1c65b5 53.5px,#0099de 55.0px,#00adee 56.5px,#00abb2 61.0px,#08aa7b 63.0px,#14ab58 64.0px,#42b749 65.0px,#a8ce36 66.0px,#dde124 66.5px,#f7e31b 67.0px,#fed817 67.5px,#f6881f 69.0px,#f05225 71.0px,#f25d24 72.0px,#f5841f 73.5px,#fbb81a 74.5px,#fed418 75.5px,#fce018 76.5px,#eee71f 78.0px,#dbe025 78.5px,#94c83c 79.5px,#6cbf42 80.0px,#54bb46 80.5px,#3ab54a 81.5px,#4eb947 82.0px,#b1d233 83.0px,#f1e71d 83.5px,#fdc819 84.0px,#f68c1e 84.5px,#f89a1c 85.0px,#fce018 85.5px,#c2d82d 86.0px,#7fc340 86.5px,#49b848 87.0px,#2cb24f 87.5px,#0faa5d 88.5px,#00abb3 90.5px,#00aeeb 92.0px,#0293d9 94.0px,#1f57ad 96.5px,#283c9d 98.5px,#2e3192 106.0px,#2e3192 122.0px),linear-gradient(#2e3192 0.0px,#2b3697 39.5px,#2c3696 44.0px,#2c3596 50.0px,#2543a1 52.0px,#1c65b5 53.5px,#0099df 55.0px,#00adee 56.5px,#00abb1 61.0px,#09aa7a 63.0px,#15ab58 64.0px,#43b749 65.0px,#a9cf36 66.0px,#dee224 66.5px,#f8e31a 67.0px,#fed718 67.5px,#f6871f 69.0px,#ef4f25 71.0px,#f15b24 72.0px,#f5821f 73.5px,#fbb71a 74.5px,#fed418 75.5px,#fce018 76.5px,#efe81e 78.0px,#dbe125 78.5px,#96c83c 79.5px,#6fc042 80.0px,#57bb45 80.5px,#3db649 81.5px,#50ba47 82.0px,#b0d133 83.0px,#f0e81e 83.5px,#fed118 84.0px,#f7941d 84.5px,#f9a61c 85.0px,#fae119 85.5px,#7cc340 86.5px,#48b848 87.0px,#2cb24f 87.5px,#0faa5d 88.5px,#00abb4 90.5px,#00aeef 92.0px,#048fd6 94.0px,#2054ab 96.5px,#273e9f 98.0px,#2e3192 104.5px,#2e3192 122.0px),linear-gradient(#2e3192 0.0px,#2b3697 39.5px,#2b3696 44.0px,#2c3596 50.0px,#2543a1 52.0px,#1c65b5 53.5px,#0099df 55.0px,#00adee 56.5px,#00abb0 61.0px,#09aa79 63.0px,#16ab58 64.0px,#28b051 64.5px,#44b748 65.0px,#aacf35 66.0px,#dfe224 66.5px,#f8e31a 67.0px,#fed618 67.5px,#f6851f 69.0px,#ef4d25 71.0px,#f15825 72.0px,#f58020 73.5px,#fbb61a 74.5px,#fed318 75.5px,#fce018 76.5px,#f0e81e 78.0px,#dce125 78.5px,#98c93b 79.5px,#72c141 80.0px,#5abc45 80.5px,#3fb649 81.5px,#52ba46 82.0px,#aed034 83.0px,#ebe620 83.5px,#ffd917 84.0px,#f8a01c 84.5px,#fab11b 85.0px,#f8e31a 85.5px,#7ac240 86.5px,#48b848 87.0px,#2cb24f 87.5px,#0faa5e 88.5px,#00abb6 90.5px,#00adee 92.0px,#068bd3 94.0px,#1f5baf 96.0px,#273e9e 98.0px,#2e3192 105.0px,#2e3192 122.0px),linear-gradient(#2e3192 0.0px,#2b3697 39.5px,#2b3696 44.0px,#2c3596 50.0px,#2543a1 52.0px,#1c65b5 53.5px,#0099df 55.0px,#00adef 56.5px,#00abb0 61.0px,#09aa78 63.0px,#16ac58 64.0px,#28b051 64.5px,#45b848 65.0px,#acd035 66.0px,#e0e223 66.5px,#f8e31a 67.0px,#fed418 67.5px,#f5831f 69.0px,#ee4a25 71.0px,#f05625 72.0px,#f57e20 73.5px,#fbb41a 74.5px,#fed218 75.5px,#fde018 76.5px,#f0e81e 78.0px,#dce125 78.5px,#74c141 80.0px,#4fba47 81.0px,#42b749 81.5px,#54ba46 82.0px,#acd035 83.0px,#e5e422 83.5px,#fedf18 84.0px,#faac1b 84.5px,#fbbc1a 85.0px,#f6e41b 85.5px,#78c240 86.5px,#47b848 87.0px,#2cb24f 87.5px,#0faa5e 88.5px,#00abb8 90.5px,#00aced 92.0px,#0194db 93.5px,#1f58ad 96.0px,#283d9d 98.0px,#2e3192 105.0px,#2e3192 122.0px),linear-gradient(#2e3192 0.0px,#2b3697 39.5px,#2b3696 44.0px,#2c3596 50.0px,#2543a1 52.0px,#1c65b5 53.5px,#009adf 55.0px,#00aeef 56.5px,#00abaf 61.0px,#09aa77 63.0px,#17ac57 64.0px,#29b150 64.5px,#47b848 65.0px,#add034 66.0px,#e1e323 66.5px,#f8e21a 67.0px,#fed318 67.5px,#f7981d 68.5px,#f26224 70.0px,#ee4826 71.0px,#f05425 72.0px,#f57d20 73.5px,#fab31a 74.5px,#fed118 75.5px,#fde018 76.5px,#f0e81e 78.0px,#dde124 78.5px,#77c241 80.0px,#52ba46 81.0px,#44b748 81.5px,#56bb46 82.0px,#aacf35 83.0px,#dfe224 83.5px,#fbe019 84.0px,#fbb71a 84.5px,#fdc719 85.0px,#f4e61c 85.5px,#aed034 86.0px,#47b848 87.0px,#2cb24f 87.5px,#0faa5e 88.5px,#00abba 90.5px,#00ade3 91.5px,#00abec 92.0px,#0391d8 93.5px,#1e5eb1 95.5px,#273e9e 97.5px,#2e3192 104.5px,#2e3192 122.0px),linear-gradient(#2e3192 0.0px,#2b3697 39.5px,#2b3798 43.5px,#2c3596 50.0px,#2543a1 52.0px,#1c65b5 53.5px,#009adf 55.0px,#00aeef 56.5px,#00abaf 61.0px,#09aa77 63.0px,#17ac57 64.0px,#29b150 64.5px,#48b848 65.0px,#aed134 66.0px,#e3e322 66.5px,#f9e21a 67.0px,#fed218 67.5px,#f7961d 68.5px,#f26024 70.0px,#ee4526 71.0px,#f05125 72.0px,#f57b20 73.5px,#fab21b 74.5px,#fed018 75.5px,#f9e21a 77.0px,#f0e81e 78.0px,#dee124 78.5px,#7ac240 80.0px,#55bb46 81.0px,#47b848 81.5px,#57bb45 82.0px,#a9cf36 83.0px,#d9e026 83.5px,#f9e21a 84.0px,#fcc319 84.5px,#fed318 85.0px,#f1e71d 85.5px,#a9cf36 86.0px,#46b848 87.0px,#1cad55 88.0px,#0faa5f 88.5px,#00abbb 90.5px,#00aee5 91.5px,#00a9eb 92.0px,#058dd5 93.5px,#1f5baf 95.5px,#273d9e 97.5px,#2e3192 105.0px,#2e3192 122.0px),linear-gradient(#2e3192 0.0px,#2b3697 39.5px,#2b3798 43.5px,#2c3596 50.0px,#2543a1 52.0px,#1c65b5 53.5px,#009adf 55.0px,#00aeef 56.5px,#00abae 61.0px,#0aaa76 63.0px,#0eaa61 63.5px,#2ab150 64.5px,#49b848 65.0px,#e4e422 66.5px,#f9e21a 67.0px,#fed118 67.5px,#f7941d 68.5px,#f25e24 70.0px,#ed4326 71.0px,#ef4f25 72.0px,#f36623 73.0px,#f7911d 74.0px,#fab11b 74.5px,#fdd018 75.5px,#f9e21a 77.0px,#f0e81e 78.0px,#dee224 78.5px,#7dc340 80.0px,#58bb45 81.0px,#49b848 81.5px,#59bc45 82.0px,#a8ce36 83.0px,#d5de27 83.5px,#f8e31a 84.0px,#fdca19 84.5px,#ffda17 85.0px,#f0e81e 85.5px,#a5cd37 86.0px,#46b848 87.0px,#1cad55 88.0px,#0faa5f 88.5px,#00abbd 90.5px,#00aee8 91.5px,#00a0e4 92.5px,#078ad2 93.5px,#1d60b2 95.0px,#283c9d 97.5px,#2e3192 105.0px,#2e3192 122.0px),linear-gradient(#2e3192 0.0px,#2b3697 39.5px,#2b3898 43.5px,#2c3596 50.0px,#2543a1 52.0px,#1c65b5 53.5px,#009adf 55.0px,#00aeee 56.5px,#00abad 61.0px,#0aaa75 63.0px,#0faa60 63.5px,#2ab150 64.5px,#4ab947 65.0px,#e5e422 66.5px,#f9e21a 67.0px,#fdd018 67.5px,#f7931d 68.5px,#f15c24 70.0px,#ed4026 71.0px,#ed4126 71.5px,#f26423 73.0px,#f78f1e 74.0px,#faaf1b 74.5px,#fdcf18 75.5px,#f9e21a 77.0px,#f1e81e 78.0px,#dfe224 78.5px,#80c33f 80.0px,#5abc45 81.0px,#4cb947 81.5px,#5cbc45 82.0px,#d4de27 83.5px,#f7e31b 84.0px,#fdcc18 84.5px,#ffdc17 85.0px,#efe71e 85.5px,#a5cd37 86.0px,#46b848 87.0px,#1cad55 88.0px,#0faa5f 88.5px,#00acbf 90.5px,#00aeeb 91.5px,#0095dc 93.0px,#1e5db0 95.0px,#273e9e 97.0px,#2e3192 104.0px,#2e3192 122.0px),linear-gradient(#2e3192 0.0px,#2b3697 39.5px,#2a3898 43.5px,#2c3596 50.0px,#2543a1 52.0px,#1c65b5 53.5px,#009adf 55.0px,#00aeee 56.5px,#00abad 61.0px,#0aaa74 63.0px,#0faa5f 63.5px,#2bb14f 64.5px,#4cb947 65.0px,#b2d233 66.0px,#e6e521 66.5px,#f9e21a 67.0px,#fdce18 67.5px,#f7911d 68.5px,#f15a24 70.0px,#ec3e26 71.0px,#ec3f26 71.5px,#f26224 73.0px,#f68e1e 74.0px,#faae1b 74.5px,#fdce18 75.5px,#f9e21a 77.0px,#f1e81e 78.0px,#dfe224 78.5px,#82c43f 80.0px,#5dbc45 81.0px,#4eb947 81.5px,#5ebc44 82.0px,#d3de28 83.5px,#f7e31b 84.0px,#fdce18 84.5px,#ffde17 85.0px,#ede71f 85.5px,#a4cd37 86.0px,#45b848 87.0px,#1cad55 88.0px,#0faa60 88.5px,#00acc0 90.5px,#00aeed 91.5px,#0292d9 93.0px,#1c63b4 94.5px,#283d9d 97.0px,#2e3192 104.5px,#2e3192 122.0px),linear-gradient(#2e3192 0.0px,#2b3697 39.5px,#2a3898 43.5px,#2c3596 50.0px,#2543a1 52.0px,#1c65b5 53.5px,#009adf 55.0px,#00aeed 56.5px,#00abac 61.0px,#0aaa73 63.0px,#0faa5e 63.5px,#2cb14f 64.5px,#4db947 65.0px,#b3d232 66.0px,#e7e521 66.5px,#fae119 67.0px,#fdcd18 67.5px,#f7901e 68.5px,#f15825 70.0px,#ec3b26 71.0px,#ec3c26 71.5px,#f25f24 73.0px,#f68c1e 74.0px,#faad1b 74.5px,#fdcd18 75.5px,#fae21a 77.0px,#f1e71e 78.0px,#e0e223 78.5px,#85c53f 80.0px,#51ba46 81.5px,#60bd44 82.0px,#d2dd28 83.5px,#f6e41b 84.0px,#fdd018 84.5px,#ffde17 85.0px,#ebe620 85.5px,#a3cd38 86.0px,#45b848 87.0px,#1bad56 88.0px,#0faa60 88.5px,#00acc2 90.5px,#00aeef 91.5px,#048fd7 93.0px,#1d60b2 94.5px,#283c9c 97.0px,#2e3192 105.0px,#2e3192 122.0px),linear-gradient(#2e3192 0.0px,#2b3697 39.5px,#2a3898 43.5px,#2c3596 50.0px,#2543a1 52.0px,#1c65b5 53.5px,#009ae0 55.0px,#00aeed 56.5px,#00abac 61.0px,#0baa72 63.0px,#0faa5d 63.5px,#2cb24f 64.5px,#4eb947 65.0px,#b4d332 66.0px,#e9e520 66.5px,#fae119 67.0px,#fdcc18 67.5px,#f68e1e 68.5px,#f05625 70.0px,#eb3927 71.0px,#ec3a27 71.5px,#f25d24 73.0px,#f68b1e 74.0px,#faac1b 74.5px,#fdcc18 75.5px,#fae219 77.0px,#f1e71e 78.0px,#e1e323 78.5px,#88c53e 80.0px,#54ba46 81.5px,#62bd44 82.0px,#d1dd28 83.5px,#f6e41b 84.0px,#fed218 84.5px,#fedf17 85.0px,#eae620 85.5px,#a2cc38 86.0px,#45b848 87.0px,#1bad56 88.0px,#0eaa61 88.5px,#00acc4 90.5px,#00adee 91.5px,#058cd4 93.0px,#1e5db0 94.5px,#273e9e 96.5px,#2e3192 103.0px,#2e3192 122.0px),linear-gradient(#2e3192 0.0px,#2b3697 39.5px,#2a3898 43.5px,#2c3596 50.0px,#2543a1 52.0px,#1c65b5 53.5px,#009be0 55.0px,#00aced 56.0px,#00addc 57.5px,#00abab 61.0px,#0baa71 63.0px,#0faa5c 63.5px,#2db24f 64.5px,#4fba47 65.0px,#b5d332 66.0px,#eae620 66.5px,#fae119 67.0px,#f9aa1b 68.0px,#f47621 69.0px,#eb3627 71.0px,#eb3727 71.5px,#f15b24 73.0px,#f68a1e 74.0px,#f9aa1b 74.5px,#fcc019 75.0px,#fedf18 76.5px,#f1e71d 78.0px,#e1e323 78.5px,#8bc63e 80.0px,#56bb46 81.5px,#64be44 82.0px,#d0dd29 83.5px,#f6e41b 84.0px,#fed418 84.5px,#fedf18 85.0px,#e8e521 85.5px,#a1cc38 86.0px,#45b748 87.0px,#1bad56 88.0px,#0eaa61 88.5px,#00acc6 90.5px,#00aced 91.5px,#0789d2 93.0px,#1f5aae 94.5px,#283d9d 96.5px,#2e3192 103.0px,#2e3192 122.0px),linear-gradient(#2e3192 0.0px,#2b3797 39.5px,#2a3898 43.5px,#2c3596 50.0px,#2543a2 52.0px,#1b65b5 53.5px,#009be0 55.0px,#00aced 56.0px,#00abb4 60.5px,#0baa6f 63.0px,#10aa5b 63.5px,#2db24f 64.5px,#51ba46 65.0px,#b7d431 66.0px,#ede71f 66.5px,#fbe119 67.0px,#f47621 69.0px,#ec3927 71.0px,#ec3b26 71.5px,#f25f24 73.0px,#f68d1e 74.0px,#faae1b 74.5px,#fcc319 75.0px,#fddf18 76.5px,#f1e81e 78.0px,#c5d92c 79.0px,#89c53e 80.0px,#56bb46 81.5px,#63be44 82.0px,#cfdc29 83.5px,#f5e51c 84.0px,#fed618 84.5px,#fddf18 85.0px,#e6e521 85.5px,#a0cc39 86.0px,#45b848 87.0px,#1cad55 88.0px,#0faa61 88.5px,#00acc5 90.5px,#00aced 91.5px,#0789d2 93.0px,#1f5aae 94.5px,#283d9d 96.5px,#2e3192 103.0px,#2e3192 122.0px),linear-gradient(#2e3192 0.0px,#2b3797 39.5px,#2a3898 43.5px,#2d3293 49.5px,#2543a2 52.0px,#1b65b5 53.5px,#009be0 55.0px,#00acee 56.0px,#00aaa7 61.0px,#0caa6e 63.0px,#10aa5a 63.5px,#2eb24e 64.5px,#52ba46 65.0px,#b9d530 66.0px,#f0e81e 66.5px,#fce018 67.0px,#f68b1e 68.5px,#f05725 70.0px,#ec3d26 71.0px,#ee4b25 72.0px,#f26324 73.0px,#f7901d 74.0px,#fab31a 74.5px,#fdc819 75.0px,#fde018 76.5px,#efe81e 78.0px,#c1d72e 79.0px,#86c53e 80.0px,#55bb46 81.5px,#63be44 82.0px,#cedc29 83.5px,#f5e51c 84.0px,#fed818 84.5px,#fde018 85.0px,#e5e422 85.5px,#9fcb39 86.0px,#46b848 87.0px,#1cad55 88.0px,#0faa60 88.5px,#00acc5 90.5px,#00aced 91.5px,#078ad2 93.0px,#1f5aae 94.5px,#283d9d 96.5px,#2e3192 103.0px,#2e3192 122.0px),linear-gradient(#2e3192 0.0px,#2b3797 39.5px,#2a3899 43.5px,#2d3293 49.5px,#2543a2 52.0px,#1b65b5 53.5px,#009be0 55.0px,#00acee 56.0px,#00aaa4 61.0px,#0caa6c 63.0px,#11aa5a 63.5px,#2fb24e 64.5px,#54bb46 65.0px,#bbd530 66.0px,#f1e81e 66.5px,#fddf18 67.0px,#f6891e 68.5px,#f15825 70.0px,#ed4026 71.0px,#ef4f25 72.0px,#f36723 73.0px,#f7941d 74.0px,#fbb81a 74.5px,#fdcc18 75.0px,#ffde17 76.0px,#ece71f 78.0px,#a1cc38 79.5px,#6fc042 80.5px,#54ba46 81.5px,#62bd44 82.0px,#cddc2a 83.5px,#f4e51c 84.0px,#ffda17 84.5px,#fce018 85.0px,#e3e322 85.5px,#9fcb39 86.0px,#46b848 87.0px,#1cad55 88.0px,#0faa5f 88.5px,#00acc4 90.5px,#00acee 91.5px,#078ad2 93.0px,#1f5aaf 94.5px,#283d9d 96.5px,#2e3192 103.0px,#2e3192 122.0px),linear-gradient(#2e3192 0.0px,#2c3596 39.0px,#293a9a 43.0px,#2d3293 49.5px,#2543a2 52.0px,#1b66b5 53.5px,#009be0 55.0px,#00adee 56.0px,#00aaa2 61.0px,#12ab59 63.5px,#30b24e 64.5px,#55bb46 65.0px,#bdd62f 66.0px,#f1e71d 66.5px,#fedf17 67.0px,#f6881f 68.5px,#f15924 70.0px,#ed4426 71.0px,#f05225 72.0px,#f57f20 73.5px,#fbbc1a 74.5px,#fdd018 75.0px,#fbe019 76.5px,#e9e620 78.0px,#9ecb39 79.5px,#80c43f 80.0px,#53ba46 81.5px,#62bd44 82.0px,#cddc2a 83.5px,#f5e51c 84.0px,#fed917 84.5px,#fce018 85.0px,#e4e422 85.5px,#9fcb39 86.0px,#47b848 87.0px,#1cad55 88.0px,#0faa5f 88.5px,#00acc4 90.5px,#00acee 91.5px,#068bd3 93.0px,#1f5baf 94.5px,#283d9d 96.5px,#2e3192 103.0px,#2e3192 122.0px),linear-gradient(#2e3192 0.0px,#2c3596 39.0px,#293a9a 43.0px,#2d3293 49.5px,#2543a2 52.0px,#1b66b5 53.5px,#009be0 55.0px,#00adee 56.0px,#00aaa0 61.0px,#13ab59 63.5px,#30b34d 64.5px,#57bb45 65.0px,#bfd72e 66.0px,#f2e71d 66.5px,#ffde17 67.0px,#f89e1c 68.0px,#f26523 69.5px,#ee4726 71.0px,#f05625 72.0px,#f5831f 73.5px,#fcc119 74.5px,#fed418 75.0px,#f3e61d 77.5px,#d1dd28 78.5px,#7dc340 80.0px,#52ba46 81.5px,#61bd44 82.0px,#d5de27 83.5px,#f8e31a 84.0px,#fdca19 84.5px,#ffda17 85.0px,#f0e81e 85.5px,#a5cd37 86.0px,#48b848 87.0px,#2db24f 87.5px,#0faa5e 88.5px,#00acc3 90.5px,#00adee 91.5px,#068bd3 93.0px,#1e5baf 94.5px,#283d9d 96.5px,#2e3192 103.0px,#2e3192 122.0px),linear-gradient(#2e3192 0.0px,#2c3596 39.0px,#293a9a 43.0px,#2d3293 49.5px,#2543a2 52.0px,#1b66b6 53.5px,#009be0 55.0px,#00adee 56.0px,#01aa9e 61.0px,#14ab58 63.5px,#31b34d 64.5px,#59bb45 65.0px,#c1d72e 66.0px,#f3e61d 66.5px,#ffdb17 67.0px,#f89b1c 68.0px,#f26523 69.5px,#ee4b25 71.0px,#f15a24 72.0px,#f6871f 73.5px,#fcc519 74.5px,#fed818 75.0px,#f2e71d 77.5px,#cedc29 78.5px,#7ac240 80.0px,#51ba46 81.5px,#61bd44 82.0px,#add034 83.0px,#dce125 83.5px,#fbe119 84.0px,#fbbc1a 84.5px,#fdcc18 85.0px,#f3e61d 85.5px,#acd035 86.0px,#49b848 87.0px,#2eb24e 87.5px,#0faa5e 88.5px,#00acc2 90.5px,#00adee 91.5px,#068bd3 93.0px,#1e5baf 94.5px,#283d9d 96.5px,#2e3192 103.0px,#2e3192 122.0px),linear-gradient(#2e3192 0.0px,#2c3596 39.0px,#293a9b 43.0px,#2d3293 49.5px,#2543a2 52.0px,#1b66b6 53.5px,#009be0 55.0px,#00adee 56.0px,#01aa9c 61.0px,#15ab58 63.5px,#32b34d 64.5px,#8cc63e 65.5px,#f3e61c 66.5px,#fed718 67.0px,#f8991d 68.0px,#f36523 69.5px,#ef4e25 71.0px,#f25e24 72.0px,#f68b1e 73.5px,#fdca19 74.5px,#ffdc17 75.0px,#f1e71d 77.5px,#b1d233 79.0px,#77c241 80.0px,#5bbc45 81.0px,#50ba47 81.5px,#61bd44 82.0px,#b0d133 83.0px,#e4e422 83.5px,#fedf18 84.0px,#faad1b 84.5px,#fcbe1a 85.0px,#f5e41b 85.5px,#b2d233 86.0px,#4ab847 87.0px,#2eb24e 87.5px,#0faa5d 88.5px,#00acc2 90.5px,#00adee 91.5px,#068cd4 93.0px,#1e5caf 94.5px,#273d9d 96.5px,#2e3192 102.5px,#2e3192 122.0px),linear-gradient(#2e3192 0.0px,#2c3596 39.0px,#293a9b 43.0px,#2d3293 49.5px,#2543a2 52.0px,#1b66b6 53.5px,#009ce0 55.0px,#00adee 56.0px,#01aa99 61.0px,#16ac58 63.5px,#32b34d 64.5px,#8dc63d 65.5px,#f4e51c 66.5px,#fed418 67.0px,#f7961d 68.0px,#f36623 69.5px,#f05225 71.0px,#f26224 72.0px,#f78f1e 73.5px,#fdcf18 74.5px,#ffde17 75.0px,#f1e81e 77.5px,#aed134 79.0px,#75c141 80.0px,#59bc45 81.0px,#4fb947 81.5px,#60bd44 82.0px,#b3d232 83.0px,#ebe620 83.5px,#fed817 84.0px,#f89f1c 84.5px,#fab01b 85.0px,#f8e31a 85.5px,#7cc340 86.5px,#4bb947 87.0px,#2eb24e 87.5px,#0faa5d 88.5px,#00acc1 90.5px,#00adee 91.5px,#058cd4 93.0px,#1e5cb0 94.5px,#273d9d 96.5px,#2e3192 102.5px,#2e3192 122.0px),linear-gradient(#2e3192 0.0px,#2c3596 39.0px,#293a9b 43.0px,#2d3293 49.5px,#2543a2 52.0px,#1b67b6 53.5px,#009ce0 55.0px,#00adee 56.0px,#02aa97 61.0px,#17ac57 63.5px,#33b34c 64.5px,#8fc63d 65.5px,#c7da2c 66.0px,#f5e51c 66.5px,#fed018 67.0px,#faad1b 67.5px,#f47122 69.0px,#f05525 71.0px,#f36723 72.0px,#f7931d 73.5px,#fed318 74.5px,#fddf18 75.0px,#f0e81e 77.5px,#abcf35 79.0px,#72c141 80.0px,#57bb45 81.0px,#4eb947 81.5px,#60bd44 82.0px,#b6d331 83.0px,#f1e81e 83.5px,#fdcd18 84.0px,#f7911d 84.5px,#f8a21c 85.0px,#fbe119 85.5px,#7fc33f 86.5px,#4cb947 87.0px,#2fb24e 87.5px,#0faa5c 88.5px,#00acc1 90.5px,#00aeef 91.5px,#058dd5 93.0px,#1e5cb0 94.5px,#273d9e 96.5px,#2e3192 102.5px,#2e3192 122.0px),linear-gradient(#2e3192 0.0px,#2c3596 39.0px,#293b9b 43.0px,#2d3293 49.5px,#2543a2 52.0px,#1a67b6 53.5px,#009ce1 55.0px,#00aeef 56.0px,#05aa89 61.5px,#18ac57 63.5px,#34b44c 64.5px,#90c73d 65.5px,#c9da2b 66.0px,#f6e41b 66.5px,#fdcd18 67.0px,#f9a91b 67.5px,#f47022 69.0px,#f15924 71.0px,#f47821 72.5px,#f8991d 73.5px,#fed817 74.5px,#f9e21a 76.0px,#eee71f 77.5px,#8cc63e 79.5px,#6fc042 80.0px,#56bb46 81.0px,#4db947 81.5px,#5fbd44 82.0px,#b8d431 83.0px,#f2e61d 83.5px,#fcc219 84.0px,#f6871f 84.5px,#f7941d 85.0px,#fedf18 85.5px,#c5d92c 86.0px,#82c43f 86.5px,#4db947 87.0px,#2fb24e 87.5px,#10aa5c 88.5px,#00acc0 90.5px,#00aeef 91.5px,#058dd5 93.0px,#1e5db0 94.5px,#273d9e 96.5px,#2e3192 102.5px,#2e3192 122.0px),linear-gradient(#2e3192 0.0px,#2c3596 39.0px,#293b9b 43.0px,#2d3293 49.5px,#2543a2 52.0px,#1a67b6 53.5px,#009ce1 55.0px,#00aeef 56.0px,#06aa87 61.5px,#19ac57 63.5px,#35b44c 64.5px,#91c73d 65.5px,#cbdb2a 66.0px,#f6e41b 66.5px,#fdc919 67.0px,#f9a61c 67.5px,#f36f22 69.0px,#f15c24 71.0px,#f57c20 72.5px,#f89f1c 73.5px,#ffdd17 74.5px,#f4e51c 77.0px,#ebe620 77.5px,#88c53e 79.5px,#6cbf42 80.0px,#54ba46 81.0px,#4cb947 81.5px,#5fbd44 82.0px,#88c53e 82.5px,#f4e51c 83.5px,#fbb71a 84.0px,#f57d20 84.5px,#f68a1e 85.0px,#fed917 85.5px,#ccdb2a 86.0px,#85c43f 86.5px,#4eb947 87.0px,#2fb24e 87.5px,#10aa5b 88.5px,#00acc0 90.5px,#00aeef 91.5px,#058dd5 93.0px,#1e5db0 94.5px,#273d9e 96.5px,#2e3192 102.5px,#2e3192 122.0px),linear-gradient(#2e3192 0.0px,#2c3696 39.0px,#293b9b 43.0px,#2e3192 49.0px,#2543a2 52.0px,#1a67b7 53.5px,#009ce1 55.0px,#00aeef 56.0px,#06aa85 61.5px,#0faa5c 63.0px,#35b44b 64.5px,#93c73c 65.5px,#cddc2a 66.0px,#f7e31b 66.5px,#f9a31c 67.5px,#f36f22 69.0px,#f26024 71.0px,#f68e1e 73.0px,#fedf17 74.5px,#f3e61c 77.0px,#e8e521 77.5px,#85c53f 79.5px,#69bf43 80.0px,#52ba46 81.0px,#4bb947 81.5px,#5fbd44 82.0px,#88c53e 82.5px,#f5e51c 83.5px,#fab11b 84.0px,#f47721 84.5px,#f5841f 85.0px,#fed418 85.5px,#cfdc29 86.0px,#86c53e 86.5px,#4fba47 87.0px,#30b24e 87.5px,#10aa5b 88.5px,#00acbf 90.5px,#00aeee 91.5px,#058ed6 93.0px,#1e5db0 94.5px,#273e9e 96.5px,#2e3192 102.5px,#2e3192 122.0px),linear-gradient(#2e3192 0.0px,#2c3696 39.0px,#293b9b 43.0px,#2e3192 49.0px,#2543a2 52.0px,#1a67b7 53.5px,#009ce1 55.0px,#00aeef 56.0px,#07aa83 61.5px,#10aa5b 63.0px,#36b44b 64.5px,#94c83c 65.5px,#cfdc29 66.0px,#f8e31a 66.5px,#f89f1c 67.5px,#f36e22 69.0px,#f26424 71.0px,#f7921d 73.0px,#fddf18 74.5px,#f3e61d 77.0px,#cedc29 78.0px,#66be43 80.0px,#51ba46 81.0px,#4ab947 81.5px,#5ebd44 82.0px,#88c53e 82.5px,#f6e41b 83.5px,#f47321 84.5px,#f58020 85.0px,#fdd018 85.5px,#d2dd28 86.0px,#87c53e 86.5px,#50ba47 87.0px,#30b34e 87.5px,#10aa5a 88.5px,#00acbe 90.5px,#00aeee 91.5px,#048ed6 93.0px,#1e5db0 94.5px,#273e9e 96.5px,#2e3192 102.5px,#2e3192 122.0px),linear-gradient(#2e3192 0.0px,#2b3696 39.0px,#293b9c 43.0px,#2e3192 49.0px,#2543a2 52.0px,#1a68b7 53.5px,#009ce1 55.0px,#00aeef 56.0px,#04aa8d 61.0px,#11aa5a 63.0px,#37b44b 64.5px,#96c83c 65.5px,#d1dd28 66.0px,#f8e21a 66.5px,#f89c1c 67.5px,#f36d22 69.0px,#f36723 71.0px,#f7971d 73.0px,#fdcd18 74.0px,#fce019 74.5px,#f2e71d 77.0px,#cbdb2a 78.0px,#63be44 80.0px,#4fb947 81.0px,#49b848 81.5px,#5ebc44 82.0px,#88c53e 82.5px,#f6e41b 83.5px,#f36f22 84.5px,#f57c20 85.0px,#fdcc18 85.5px,#d4de27 86.0px,#89c53e 86.5px,#51ba46 87.0px,#30b34d 87.5px,#10aa5a 88.5px,#00acbe 90.5px,#00aeed 91.5px,#048fd6 93.0px,#1e5eb1 94.5px,#273e9e 96.5px,#2e3192 102.5px,#2e3192 122.0px),linear-gradient(#2e3192 0.0px,#2b3696 39.0px,#283b9c 43.0px,#2e3192 49.0px,#2543a2 52.0px,#1a68b7 53.5px,#009ce1 55.0px,#00aeee 56.0px,#05aa8b 61.0px,#12aa59 63.0px,#38b54b 64.5px,#97c83c 65.5px,#d4de27 66.0px,#f9e21a 66.5px,#f7981d 67.5px,#f36d22 69.0px,#f36b23 71.0px,#f89d1c 73.0px,#fed218 74.0px,#fae119 74.5px,#f2e71d 77.0px,#98c93b 79.0px,#60bd44 80.0px,#4db947 81.0px,#48b848 81.5px,#5dbc45 82.0px,#88c53e 82.5px,#f7e31b 83.5px,#f36b23 84.5px,#f47821 85.0px,#fdc819 85.5px,#d7df26 86.0px,#8ac63e 86.5px,#51ba46 87.0px,#30b34d 87.5px,#10aa5a 88.5px,#00abbd 90.5px,#00aeed 91.5px,#048fd7 93.0px,#1e5eb1 94.5px,#273e9e 96.5px,#2e3192 102.5px,#2e3192 122.0px),linear-gradient(#2e3192 0.0px,#2b3697 39.0px,#283c9c 43.0px,#2e3192 49.0px,#2543a2 52.0px,#1a68b7 53.5px,#009ce1 55.0px,#00aeee 56.0px,#05aa89 61.0px,#13ab59 63.0px,#38b54a 64.5px,#99c93b 65.5px,#d6df27 66.0px,#fae219 66.5px,#f7951d 67.5px,#f36c22 69.0px,#f36f22 71.0px,#f9a31c 73.0px,#fed818 74.0px,#f6e41b 75.0px,#f1e71e 77.0px,#79c240 79.5px,#5ebc44 80.0px,#4cb947 81.0px,#47b848 81.5px,#5dbc45 82.0px,#88c53e 82.5px,#f8e31a 83.5px,#f89f1c 84.0px,#f36723 84.5px,#f47421 85.0px,#fcc319 85.5px,#dae025 86.0px,#8bc63e 86.5px,#52ba46 87.0px,#31b34d 87.5px,#11aa5a 88.5px,#00abbd 90.5px,#00aeec 91.5px,#0490d7 93.0px,#1e5eb1 94.5px,#273e9e 96.5px,#2e3192 102.5px,#2e3192 122.0px),linear-gradient(#2e3192 0.0px,#2b3697 39.0px,#283c9c 43.0px,#2e3192 49.0px,#2544a2 52.0px,#1a68b7 53.5px,#009de1 55.0px,#00aeed 56.0px,#06aa87 61.0px,#14ab59 63.0px,#39b54a 64.5px,#9ac93b 65.5px,#d8df26 66.0px,#fae119 66.5px,#fab41a 67.0px,#f7921d 67.5px,#f36c22 69.0px,#f47321 71.0px,#f7971d 72.5px,#ffdd17 74.0px,#f4e51c 76.0px,#f0e81e 77.0px,#5bbc45 80.0px,#4ab847 81.0px,#46b848 81.5px,#5cbc45 82.0px,#88c53e 82.5px,#f8e31a 83.5px,#f89b1c 84.0px,#f26324 84.5px,#f47022 85.0px,#fcbf19 85.5px,#dce125 86.0px,#8cc63d 86.5px,#53ba46 87.0px,#31b34d 87.5px,#11aa5a 88.5px,#00abbc 90.5px,#00aeeb 91.5px,#0390d7 93.0px,#1d5fb1 94.5px,#273e9e 96.5px,#2e3192 102.5px,#2e3192 122.0px),linear-gradient(#2e3192 0.0px,#2b3697 39.0px,#283c9c 43.0px,#2e3192 49.0px,#2544a2 52.0px,#1a68b7 53.5px,#009de1 55.0px,#00aeed 56.0px,#06aa85 61.0px,#15ab58 63.0px,#29b150 64.0px,#3bb54a 64.5px,#9bca3a 65.5px,#dae025 66.0px,#fbe119 66.5px,#fab11b 67.0px,#f7901e 67.5px,#f36b23 69.0px,#f47222 70.5px,#f68d1e 72.0px,#fdc719 73.5px,#fedf18 74.0px,#f3e61c 75.5px,#f0e81e 77.0px,#58bb45 80.0px,#48b848 81.0px,#45b848 81.5px,#5cbc45 82.0px,#88c53e 82.5px,#f9e21a 83.5px,#f7971d 84.0px,#f25f24 84.5px,#f36c22 85.0px,#fbbb1a 85.5px,#dfe224 86.0px,#8dc63d 86.5px,#53ba46 87.0px,#31b34d 87.5px,#11aa59 88.5px,#00abbb 90.5px,#00aeeb 91.5px,#0390d8 93.0px,#1d5fb1 94.5px,#273e9e 96.5px,#2e3192 102.0px,#2e3192 122.0px),linear-gradient(#2e3192 0.0px,#2b3697 39.0px,#273e9e 42.5px,#2e3192 49.0px,#2544a2 52.0px,#1969b8 53.5px,#009de1 55.0px,#00aeed 56.0px,#07aa83 61.0px,#16ac58 63.0px,#2ab150 64.0px,#3db649 64.5px,#9dca3a 65.5px,#dce125 66.0px,#fce018 66.5px,#faad1b 67.0px,#f68e1e 67.5px,#f36a23 69.0px,#f47521 70.5px,#f7911d 72.0px,#fce018 74.0px,#f3e61d 75.5px,#ede71f 77.0px,#70c042 79.5px,#55bb46 80.0px,#47b848 81.0px,#44b748 81.5px,#5bbc45 82.0px,#88c53e 82.5px,#c4d82d 83.0px,#fae21a 83.5px,#f7931d 84.0px,#f15b24 84.5px,#f36823 85.0px,#fbb71a 85.5px,#e1e323 86.0px,#8fc73d 86.5px,#54bb46 87.0px,#32b34d 87.5px,#12aa59 88.5px,#00abbb 90.5px,#00aeea 91.5px,#0391d8 93.0px,#1d5fb1 94.5px,#273e9e 96.5px,#2e3192 102.0px,#2e3192 122.0px),linear-gradient(#2e3192 0.0px,#2b3697 39.0px,#273e9e 42.5px,#2e3192 48.5px,#2544a2 52.0px,#1969b8 53.5px,#009de2 55.0px,#00aeec 56.0px,#07aa81 61.0px,#17ac57 63.0px,#2bb150 64.0px,#3eb649 64.5px,#9ecb39 65.5px,#dee124 66.0px,#fde018 66.5px,#f9aa1b 67.0px,#f68b1e 67.5px,#f36a23 69.0px,#f47721 70.5px,#f7961d 72.0px,#fbe119 74.0px,#f2e71d 75.5px,#f2e71d 76.5px,#ebe620 77.0px,#6cc042 79.5px,#52ba46 80.0px,#45b748 81.0px,#44b748 81.5px,#5bbc45 82.0px,#88c53e 82.5px,#c5d92c 83.0px,#fae119 83.5px,#f7901e 84.0px,#f15725 84.5px,#f26423 85.0px,#fab31a 85.5px,#e4e422 86.0px,#90c73d 86.5px,#55bb46 87.0px,#32b34d 87.5px,#12ab59 88.5px,#00abba 90.5px,#00aeea 91.5px,#009de2 92.5px,#1d60b2 94.5px,#273e9e 96.5px,#2e3192 102.0px,#2e3192 122.0px),linear-gradient(#2e3192 0.0px,#2b3697 39.0px,#273e9e 42.5px,#2e3192 48.5px,#2544a2 52.0px,#1969b8 53.5px,#009de2 55.0px,#00aeec 56.0px,#08aa7f 61.0px,#10aa5c 62.5px,#2bb14f 64.0px,#40b649 64.5px,#a0cb39 65.5px,#e0e223 66.0px,#fddf18 66.5px,#f9a61c 67.0px,#f6891e 67.5px,#f36923 69.0px,#f47a21 70.5px,#f89d1c 72.0px,#fed817 73.5px,#f0e81e 75.0px,#f1e71d 76.5px,#e8e521 77.0px,#69bf43 79.5px,#4fba47 80.0px,#44b748 80.5px,#43b749 81.5px,#5abc45 82.0px,#87c53e 82.5px,#c5d92c 83.0px,#fae119 83.5px,#f78f1e 84.0px,#f05725 84.5px,#f26423 85.0px,#fab31a 85.5px,#e4e422 86.0px,#90c73d 86.5px,#55bb46 87.0px,#32b34d 87.5px,#12ab59 88.5px,#00abba 90.5px,#00aee9 91.5px,#009de2 92.5px,#1d60b2 94.5px,#273e9e 96.5px,#2e3192 102.0px,#2e3192 122.0px),linear-gradient(#2e3192 0.0px,#2b3697 39.0px,#273e9e 42.5px,#2e3192 48.5px,#2544a2 52.0px,#1969b8 53.5px,#009de2 55.0px,#00aeeb 56.0px,#08aa7d 61.0px,#10aa5a 62.5px,#2cb24f 64.0px,#42b749 64.5px,#a1cc38 65.5px,#e2e323 66.0px,#fedf18 66.5px,#f9a31c 67.0px,#f6871f 67.5px,#f36923 69.0px,#f47321 70.0px,#f7911d 71.5px,#ffde17 73.5px,#ece71f 75.0px,#f1e71e 76.5px,#e6e421 77.0px,#66be43 79.5px,#4cb947 80.0px,#42b749 80.5px,#42b749 81.5px,#59bc45 82.0px,#87c53e 82.5px,#f9e21a 83.5px,#f7931d 84.0px,#f15c24 84.5px,#f36923 85.0px,#fbb81a 85.5px,#e1e323 86.0px,#8fc73d 86.5px,#55bb46 87.0px,#32b34d 87.5px,#13ab59 88.5px,#00abb9 90.5px,#00aee8 91.5px,#009de2 92.5px,#1570be 94.0px,#2544a2 96.0px,#2d3293 100.0px,#2e3192 122.0px),linear-gradient(#2e3192 0.0px,#2b3697 39.0px,#273e9f 42.5px,#2e3192 48.5px,#2544a2 52.0px,#1969b8 53.5px,#009de2 55.0px,#00aeeb 56.0px,#06aa86 60.5px,#11aa59 62.5px,#2db24f 64.0px,#43b748 64.5px,#a2cc38 65.5px,#e4e422 66.0px,#ffde17 66.5px,#f89f1c 67.0px,#f5841f 67.5px,#f36823 69.0px,#f47521 70.0px,#f7961d 71.5px,#fddf18 73.5px,#e7e521 75.0px,#f0e81e 76.5px,#e3e322 77.0px,#7dc340 79.0px,#49b848 80.0px,#3fb649 80.5px,#41b749 81.5px,#59bb45 82.0px,#86c53e 82.5px,#f9e21a 83.5px,#f7991d 84.0px,#f26024 84.5px,#f36e22 85.0px,#fbbd1a 85.5px,#dee124 86.0px,#8ec63d 86.5px,#55bb46 87.0px,#33b34c 87.5px,#13ab59 88.5px,#00abb8 90.5px,#00aee8 91.5px,#009ee2 92.5px,#0b81cc 93.5px,#2056ac 95.0px,#293b9b 97.0px,#2e3192 104.0px,#2e3192 122.0px),linear-gradient(#2e3192 0.0px,#2b3697 39.0px,#273f9f 42.5px,#2e3192 48.5px,#283d9d 51.5px,#196ab8 53.5px,#009de2 55.0px,#00aeeb 56.0px,#06aa84 60.5px,#12ab59 62.5px,#2eb24e 64.0px,#45b748 64.5px,#a4cd37 65.5px,#e6e421 66.0px,#ffdd17 66.5px,#f89c1c 67.0px,#f5821f 67.5px,#f36723 69.0px,#f47621 70.0px,#f89c1c 71.5px,#fce018 73.5px,#e3e322 75.0px,#eee71f 76.5px,#e1e323 77.0px,#7ac240 79.0px,#47b848 80.0px,#3db649 80.5px,#40b649 81.5px,#58bb45 82.0px,#85c43f 82.5px,#f8e31a 83.5px,#f89e1c 84.0px,#f36523 84.5px,#f47321 85.0px,#fcc219 85.5px,#dae025 86.0px,#8dc63d 86.5px,#55bb46 87.0px,#33b34c 87.5px,#13ab59 88.5px,#00abb8 90.5px,#00aee7 91.5px,#00a8ea 92.0px,#0293da 93.0px,#1d61b2 94.5px,#273e9f 96.5px,#2e3192 102.0px,#2e3192 122.0px),linear-gradient(#2e3192 0.0px,#2b3797 39.0px,#273f9f 42.5px,#2e3192 48.5px,#283d9d 51.5px,#196ab9 53.5px,#009ee2 55.0px,#00aeea 56.0px,#07aa82 60.5px,#13ab59 62.5px,#2fb24e 64.0px,#47b848 64.5px,#a5cd37 65.5px,#e8e521 66.0px,#ffda17 66.5px,#f7981d 67.0px,#f57f20 67.5px,#f36723 69.0px,#f47821 70.0px,#f9a21c 71.5px,#ffda17 73.0px,#f4e51c 74.0px,#dee124 75.0px,#ece71f 76.5px,#dee224 77.0px,#76c241 79.0px,#44b748 80.0px,#3bb54a 80.5px,#3fb649 81.5px,#57bb45 82.0px,#84c43f 82.5px,#f7e31b 83.5px,#f36b23 84.5px,#f47821 85.0px,#fdc719 85.5px,#d7df26 86.0px,#8cc63e 86.5px,#55bb46 87.0px,#33b34c 87.5px,#14ab59 88.5px,#00abb7 90.5px,#00aee7 91.5px,#00a8ea 92.0px,#0193da 93.0px,#1d61b2 94.5px,#273e9f 96.5px,#2e3192 102.0px,#2e3192 122.0px),linear-gradient(#2e3192 0.0px,#2c3595 38.5px,#273f9f 42.5px,#2e3192 48.5px,#283d9d 51.5px,#196ab9 53.5px,#009ee2 55.0px,#00aeea 56.0px,#07aa80 60.5px,#15ab58 62.5px,#2fb24e 64.0px,#48b848 64.5px,#a6ce37 65.5px,#eae620 66.0px,#fed818 66.5px,#f7951d 67.0px,#f57d20 67.5px,#f36623 69.0px,#f47921 70.0px,#fbbb1a 72.0px,#fede17 73.0px,#f3e61d 74.0px,#e0e223 74.5px,#d9e026 75.0px,#e9e620 76.5px,#dce125 77.0px,#73c141 79.0px,#41b749 80.0px,#39b54a 80.5px,#3eb649 81.5px,#57bb46 82.0px,#83c43f 82.5px,#f6e41b 83.5px,#f47022 84.5px,#f57d20 85.0px,#fdcc18 85.5px,#d4de27 86.0px,#8bc63e 86.5px,#55bb46 87.0px,#33b34c 87.5px,#14ab59 88.5px,#00abb7 90.5px,#00aee6 91.5px,#00a8ea 92.0px,#0194da 93.0px,#1d61b3 94.5px,#273f9f 96.5px,#2e3192 102.0px,#2e3192 122.0px),linear-gradient(#2e3192 0.0px,#2c3596 38.5px,#263f9f 42.5px,#2e3192 48.0px,#283d9d 51.5px,#196ab9 53.5px,#009ee2 55.0px,#00a9eb 55.5px,#00aee9 56.0px,#08aa7e 60.5px,#10aa5c 62.0px,#30b34d 64.0px,#4ab847 64.5px,#a8ce36 65.5px,#ece61f 66.0px,#fed518 66.5px,#f7921d 67.0px,#f57b20 67.5px,#f36523 69.0px,#f57b20 70.0px,#fddf18 73.0px,#f1e71d 74.0px,#dbe025 74.5px,#d4de27 75.0px,#e7e521 76.5px,#d9e026 77.0px,#70c042 79.0px,#3eb649 80.0px,#39b54a 81.0px,#3db649 81.5px,#56bb46 82.0px,#82c43f 82.5px,#f5e51c 83.5px,#faaf1b 84.0px,#f47521 84.5px,#f5821f 85.0px,#fed118 85.5px,#d1dd28 86.0px,#8ac63e 86.5px,#56bb46 87.0px,#34b44c 87.5px,#14ab58 88.5px,#00abb6 90.5px,#00aee5 91.5px,#00a8ea 92.0px,#0194db 93.0px,#1d62b3 94.5px,#273f9f 96.5px,#2e3192 102.0px,#2e3192 122.0px),linear-gradient(#2e3192 0.0px,#2c3596 38.5px,#2642a1 42.0px,#2e3192 48.0px,#283d9d 51.5px,#186ab9 53.5px,#0391d8 54.5px,#00a9eb 55.5px,#00aee9 56.0px,#08aa7c 60.5px,#10aa5a 62.0px,#31b34d 64.0px,#4cb947 64.5px,#a9cf36 65.5px,#eee71f 66.0px,#fed318 66.5px,#f7901e 67.0px,#f47821 67.5px,#f26523 69.0px,#f57c20 70.0px,#ffda17 72.5px,#efe81e 74.0px,#d5de27 74.5px,#cfdc29 75.0px,#e4e422 76.5px,#d7df26 77.0px,#6cbf42 79.0px,#3bb54a 80.0px,#3cb64a 81.5px,#55bb46 82.0px,#81c43f 82.5px,#f4e51c 83.5px,#fab41a 84.0px,#f47a21 84.5px,#f6871f 85.0px,#fed618 85.5px,#cedc29 86.0px,#89c53e 86.5px,#56bb46 87.0px,#34b44c 87.5px,#14ab58 88.5px,#00abb5 90.5px,#00ade5 91.5px,#00a9eb 92.0px,#0195db 93.0px,#1d62b3 94.5px,#273f9f 96.5px,#2e3192 102.0px,#2e3192 122.0px),linear-gradient(#2e3192 0.0px,#2c3596 38.5px,#2542a1 42.0px,#2e3192 47.5px,#283d9d 51.5px,#186bb9 53.5px,#0391d8 54.5px,#00a9eb 55.5px,#00aee9 56.0px,#09aa7a 60.5px,#11aa5a 62.0px,#32b34d 64.0px,#4db947 64.5px,#abcf35 65.5px,#f0e81e 66.0px,#fdd018 66.5px,#f68d1e 67.0px,#f47621 67.5px,#f26423 69.0px,#f57e20 70.0px,#ffde17 72.5px,#e9e620 74.0px,#cfdc29 74.5px,#cada2b 75.0px,#e1e323 76.5px,#d4de27 77.0px,#69bf43 79.0px,#39b54a 80.0px,#3bb54a 81.5px,#55bb46 82.0px,#80c43f 82.5px,#f3e61d 83.5px,#fcbe1a 84.0px,#f5831f 84.5px,#f7901e 85.0px,#ffde17 85.5px,#c8da2b 86.0px,#87c53e 86.5px,#55bb46 87.0px,#34b44c 87.5px,#15ab58 88.5px,#00abb5 90.5px,#00ade4 91.5px,#00a9eb 92.0px,#0095db 93.0px,#1c62b3 94.5px,#273f9f 96.5px,#2e3192 102.0px,#2e3192 122.0px),linear-gradient(#2e3192 0.0px,#2c3596 38.5px,#2543a1 42.0px,#2e3192 47.5px,#283d9d 51.5px,#186bb9 53.5px,#0391d8 54.5px,#00a9eb 55.5px,#00aee8 56.0px,#07aa83 60.0px,#12ab59 62.0px,#33b34c 64.0px,#4fb947 64.5px,#acd035 65.5px,#f0e81e 66.0px,#fdcd18 66.5px,#f68b1e 67.0px,#f47421 67.5px,#f26424 69.0px,#f57f20 70.0px,#fed318 72.0px,#f8e31a 73.0px,#f3e61d 73.5px,#cada2b 74.5px,#c5d92c 75.0px,#dfe224 76.5px,#d2dd28 77.0px,#66be43 79.0px,#37b54b 80.0px,#3ab54a 81.5px,#54ba46 82.0px,#b3d232 83.0px,#f1e71d 83.5px,#fdc819 84.0px,#f68c1e 84.5px,#f89a1c 85.0px,#fce018 85.5px,#c2d82d 86.0px,#85c43f 86.5px,#55bb46 87.0px,#34b44c 87.5px,#15ab58 88.5px,#00abb4 90.5px,#00ade4 91.5px,#00a9eb 92.0px,#0096dc 93.0px,#1c63b3 94.5px,#273f9f 96.5px,#2e3192 102.0px,#2e3192 122.0px),linear-gradient(#2e3192 0.0px,#2c3596 38.5px,#2543a2 42.0px,#2e3192 47.5px,#283d9d 51.5px,#186bba 53.5px,#0391d8 54.5px,#00a9eb 55.5px,#00adda 56.5px,#0aaa76 60.5px,#13ab59 62.0px,#33b44c 64.0px,#51ba46 64.5px,#add034 65.5px,#f1e71e 66.0px,#fdcb19 66.5px,#f6881f 67.0px,#f47122 67.5px,#f26324 69.0px,#f58120 70.0px,#fed917 72.0px,#f1e71e 73.5px,#c4d82d 74.5px,#c0d72e 75.0px,#dce125 76.5px,#cfdc29 77.0px,#62bd44 79.0px,#36b44b 80.0px,#39b54a 81.5px,#53ba46 82.0px,#b0d133 83.0px,#f0e81e 83.5px,#fed118 84.0px,#f7961d 84.5px,#f9a71b 85.0px,#fae119 85.5px,#83c43f 86.5px,#55bb46 87.0px,#34b44c 87.5px,#15ab58 88.5px,#00abb4 90.5px,#00ade3 91.5px,#00a9eb 92.0px,#0096dc 93.0px,#1c63b3 94.5px,#273f9f 96.5px,#2e3192 102.0px,#2e3192 122.0px),linear-gradient(#2e3192 0.0px,#2c3596 38.5px,#2544a2 42.0px,#2e3192 47.5px,#283d9d 51.5px,#186bba 53.5px,#0391d8 54.5px,#00a9eb 55.5px,#00adda 56.5px,#07aa80 60.0px,#15ab58 62.0px,#34b44c 64.0px,#52ba46 64.5px,#afd134 65.5px,#f1e71d 66.0px,#fdc819 66.5px,#f6861f 67.0px,#f36f22 67.5px,#f26224 69.0px,#f36d22 69.5px,#f7981d 70.5px,#fdcd18 71.5px,#ffde17 72.0px,#eee71f 73.5px,#bfd62e 74.5px,#bbd530 75.0px,#d9e026 76.5px,#cddb2a 77.0px,#79c240 78.5px,#35b44c 80.0px,#38b54a 81.5px,#52ba46 82.0px,#add034 83.0px,#e9e620 83.5px,#ffdb17 84.0px,#f9a31c 84.5px,#fab31a 85.0px,#f7e31b 85.5px,#b7d431 86.0px,#81c43f 86.5px,#55bb46 87.0px,#35b44c 87.5px,#16ac58 88.5px,#00abb3 90.5px,#00ade3 91.5px,#00a9eb 92.0px,#0096dc 93.0px,#1c63b4 94.5px,#273f9f 96.5px,#2e3192 101.5px,#2e3192 122.0px),linear-gradient(#2e3192 0.0px,#2c3596 38.5px,#2544a2 42.0px,#2e3192 47.0px,#29399a 51.0px,#2151a9 52.5px,#0d7ec9 54.0px,#009fe3 55.0px,#00aaeb 55.5px,#00add9 56.5px,#08aa7e 60.0px,#10aa5b 61.5px,#35b44c 64.0px,#54ba46 64.5px,#b0d133 65.5px,#f2e71d 66.0px,#fcc619 66.5px,#f5831f 67.0px,#f36c22 67.5px,#f26224 69.0px,#f36d22 69.5px,#f89c1c 70.5px,#fed318 71.5px,#f8e31a 72.5px,#e7e521 73.5px,#b9d430 74.5px,#b6d331 75.0px,#d7df26 76.5px,#cadb2b 77.0px,#5cbc45 79.0px,#34b44c 80.0px,#38b54a 81.5px,#51ba46 82.0px,#abcf35 83.0px,#e3e322 83.5px,#fddf18 84.0px,#fab01b 84.5px,#fcc019 85.0px,#f5e51c 85.5px,#b1d233 86.0px,#54bb46 87.0px,#35b44c 87.5px,#16ac58 88.5px,#00abb3 90.5px,#00ade2 91.5px,#00aaec 92.0px,#0096dc 93.0px,#1c64b4 94.5px,#273f9f 96.5px,#2e3192 101.5px,#2e3192 122.0px);background-position:0.0px 0,2.0px 0,4.0px 0,6.0px 0,8.0px 0,10.0px 0,12.0px 0,14.0px 0,16.0px 0,18.0px 0,20.0px 0,22.0px 0,24.0px 0,26.0px 0,28.0px 0,30.0px 0,32.0px 0,34.0px 0,36.0px 0,38.0px 0,40.0px 0,42.0px 0,44.0px 0,46.0px 0,48.0px 0,50.0px 0,52.0px 0,54.0px 0,56.0px 0,58.0px 0,60.0px 0,62.0px 0,64.0px 0,66.0px 0,68.0px 0,70.0px 0,72.0px 0,74.0px 0,76.0px 0,78.0px 0,80.0px 0,82.0px 0,84.0px 0,86.0px 0,88.0px 0,90.0px 0,92.0px 0,94.0px 0,96.0px 0,98.0px 0,100.0px 0,102.0px 0,104.0px 0,106.0px 0,108.0px 0,110.0px 0,112.0px 0,114.0px 0,116.0px 0,118.0px 0,120.0px 0,122.0px 0,124.0px 0,126.0px 0,128.0px 0;background-size:2.3px 122.4px;background-repeat:no-repeat;background-color:#2e3192;"></div>
<div style="position:absolute;left:164.6px;top:239.0px;width:6.4px;height:60.5px;background:linear-gradient(#e82428 0%,#ed4226 5%,#f26024 10%,#f58020 15%,#f9a61c 20%,#fed518 25%,#f5e51c 30%,#cedc29 35%,#96c83c 40%,#5cbc45 45%,#2fb24e 50%,#15ab58 55%,#08aa7d 60%,#00aaaa 65%,#00addb 70%,#00a2e6 75%,#0888d1 80%,#1c64b4 85%,#234aa6 90%,#293a9b 95%,#2e3192 100%)"></div>
<svg width="550" height="387" viewBox="0 0 550 387"><rect x="30.50" y="90.30" width="1.2" height="122.50" fill="#111"/><rect x="30.50" y="211.60" width="148.90" height="1.2" fill="#111"/><rect x="28.30" y="204.25" width="2.30" height="1.1" fill="#111"/><text x="26.60" y="207.10" font-size="6.4" text-anchor="end" stroke="#231f20" stroke-width="0.25">2</text><rect x="29.10" y="195.40" width="1.50" height="1.1" fill="#111"/><rect x="28.30" y="186.55" width="2.30" height="1.1" fill="#111"/><text x="26.60" y="189.40" font-size="6.4" text-anchor="end" stroke="#231f20" stroke-width="0.25">4</text><rect x="29.10" y="177.70" width="1.50" height="1.1" fill="#111"/><rect x="28.30" y="168.85" width="2.30" height="1.1" fill="#111"/><text x="26.60" y="171.70" font-size="6.4" text-anchor="end" stroke="#231f20" stroke-width="0.25">6</text><rect x="29.10" y="160.00" width="1.50" height="1.1" fill="#111"/><rect x="28.30" y="151.15" width="2.30" height="1.1" fill="#111"/><text x="26.60" y="154.00" font-size="6.4" text-anchor="end" stroke="#231f20" stroke-width="0.25">8</text><rect x="29.10" y="142.30" width="1.50" height="1.1" fill="#111"/><rect x="28.30" y="133.45" width="2.30" height="1.1" fill="#111"/><text x="26.60" y="136.30" font-size="6.4" text-anchor="end" stroke="#231f20" stroke-width="0.25">10</text><rect x="29.10" y="124.60" width="1.50" height="1.1" fill="#111"/><rect x="28.30" y="115.75" width="2.30" height="1.1" fill="#111"/><text x="26.60" y="118.60" font-size="6.4" text-anchor="end" stroke="#231f20" stroke-width="0.25">12</text><rect x="29.10" y="106.90" width="1.50" height="1.1" fill="#111"/><rect x="28.30" y="98.05" width="2.30" height="1.1" fill="#111"/><text x="26.60" y="100.90" font-size="6.4" text-anchor="end" stroke="#231f20" stroke-width="0.25">14</text><rect x="30.65" y="212.70" width="1.1" height="2.10" fill="#111"/><text x="31.20" y="222.30" font-size="6.4" text-anchor="middle" stroke="#231f20" stroke-width="0.25">5</text><rect x="39.89" y="212.70" width="1.1" height="1.40" fill="#111"/><rect x="49.14" y="212.70" width="1.1" height="2.10" fill="#111"/><text x="49.69" y="222.30" font-size="6.4" text-anchor="middle" stroke="#231f20" stroke-width="0.25">10</text><rect x="58.38" y="212.70" width="1.1" height="1.40" fill="#111"/><rect x="67.62" y="212.70" width="1.1" height="2.10" fill="#111"/><text x="68.17" y="222.30" font-size="6.4" text-anchor="middle" stroke="#231f20" stroke-width="0.25">15</text><rect x="76.87" y="212.70" width="1.1" height="1.40" fill="#111"/><rect x="86.11" y="212.70" width="1.1" height="2.10" fill="#111"/><text x="86.66" y="222.30" font-size="6.4" text-anchor="middle" stroke="#231f20" stroke-width="0.25">20</text><rect x="95.36" y="212.70" width="1.1" height="1.40" fill="#111"/><rect x="104.60" y="212.70" width="1.1" height="2.10" fill="#111"/><text x="105.15" y="222.30" font-size="6.4" text-anchor="middle" stroke="#231f20" stroke-width="0.25">25</text><rect x="113.84" y="212.70" width="1.1" height="1.40" fill="#111"/><rect x="123.09" y="212.70" width="1.1" height="2.10" fill="#111"/><text x="123.64" y="222.30" font-size="6.4" text-anchor="middle" stroke="#231f20" stroke-width="0.25">30</text><rect x="132.33" y="212.70" width="1.1" height="1.40" fill="#111"/><rect x="141.57" y="212.70" width="1.1" height="2.10" fill="#111"/><text x="142.12" y="222.30" font-size="6.4" text-anchor="middle" stroke="#231f20" stroke-width="0.25">35</text><rect x="150.82" y="212.70" width="1.1" height="1.40" fill="#111"/><rect x="160.06" y="212.70" width="1.1" height="2.10" fill="#111"/><text x="160.61" y="222.30" font-size="6.4" text-anchor="middle" stroke="#231f20" stroke-width="0.25">40</text><rect x="169.31" y="212.70" width="1.1" height="1.40" fill="#111"/><rect x="178.55" y="212.70" width="1.1" height="2.10" fill="#111"/><text x="179.10" y="222.30" font-size="6.4" text-anchor="middle" stroke="#231f20" stroke-width="0.25">45</text><text x="0" y="0" font-size="7.2" stroke="#231f20" stroke-width="0.15" text-anchor="middle" textLength="43" lengthAdjust="spacingAndGlyphs" transform="translate(15.00,151.20) rotate(-90)">Drift time (ms)</text><text x="90.20" y="231.00" font-size="7.0" textLength="32.60" lengthAdjust="spacingAndGlyphs" stroke="#231f20" stroke-width="0.15">Trap CE (V)</text><text x="33.60" y="102.20" font-size="11.9" fill="#fff" textLength="38.90" lengthAdjust="spacingAndGlyphs">Control</text><path d="M92.75 117.10h3.5v7.4h1.6l-3.35 3.9l-3.35 -3.9h1.6z" fill="#fff"/><line x1="32.0" y1="136.00" x2="176.9" y2="136.00" stroke="#f4faff" stroke-opacity="0.75" stroke-width="1.45" stroke-dasharray="3.7 2.44"/><line x1="32.0" y1="152.80" x2="176.9" y2="152.80" stroke="#f4faff" stroke-opacity="0.75" stroke-width="1.45" stroke-dasharray="3.7 2.44"/><line x1="32.0" y1="163.10" x2="176.9" y2="163.10" stroke="#f4faff" stroke-opacity="0.75" stroke-width="1.45" stroke-dasharray="3.7 2.44"/><line x1="32.0" y1="175.20" x2="176.9" y2="175.20" stroke="#f4faff" stroke-opacity="0.75" stroke-width="1.45" stroke-dasharray="3.7 2.44"/><rect x="220.30" y="91.00" width="1.2" height="123.00" fill="#111"/><rect x="220.30" y="212.80" width="149.20" height="1.2" fill="#111"/><rect x="218.10" y="205.05" width="2.30" height="1.1" fill="#111"/><text x="216.40" y="207.90" font-size="6.4" text-anchor="end" stroke="#231f20" stroke-width="0.25">2</text><rect x="218.90" y="196.20" width="1.50" height="1.1" fill="#111"/><rect x="218.10" y="187.35" width="2.30" height="1.1" fill="#111"/><text x="216.40" y="190.20" font-size="6.4" text-anchor="end" stroke="#231f20" stroke-width="0.25">4</text><rect x="218.90" y="178.50" width="1.50" height="1.1" fill="#111"/><rect x="218.10" y="169.65" width="2.30" height="1.1" fill="#111"/><text x="216.40" y="172.50" font-size="6.4" text-anchor="end" stroke="#231f20" stroke-width="0.25">6</text><rect x="218.90" y="160.80" width="1.50" height="1.1" fill="#111"/><rect x="218.10" y="151.95" width="2.30" height="1.1" fill="#111"/><text x="216.40" y="154.80" font-size="6.4" text-anchor="end" stroke="#231f20" stroke-width="0.25">8</text><rect x="218.90" y="143.10" width="1.50" height="1.1" fill="#111"/><rect x="218.10" y="134.25" width="2.30" height="1.1" fill="#111"/><text x="216.40" y="137.10" font-size="6.4" text-anchor="end" stroke="#231f20" stroke-width="0.25">10</text><rect x="218.90" y="125.40" width="1.50" height="1.1" fill="#111"/><rect x="218.10" y="116.55" width="2.30" height="1.1" fill="#111"/><text x="216.40" y="119.40" font-size="6.4" text-anchor="end" stroke="#231f20" stroke-width="0.25">12</text><rect x="218.90" y="107.70" width="1.50" height="1.1" fill="#111"/><rect x="218.10" y="98.85" width="2.30" height="1.1" fill="#111"/><text x="216.40" y="101.70" font-size="6.4" text-anchor="end" stroke="#231f20" stroke-width="0.25">14</text><rect x="220.45" y="213.90" width="1.1" height="2.10" fill="#111"/><text x="221.00" y="223.50" font-size="6.4" text-anchor="middle" stroke="#231f20" stroke-width="0.25">5</text><rect x="229.71" y="213.90" width="1.1" height="1.40" fill="#111"/><rect x="238.97" y="213.90" width="1.1" height="2.10" fill="#111"/><text x="239.53" y="223.50" font-size="6.4" text-anchor="middle" stroke="#231f20" stroke-width="0.25">10</text><rect x="248.24" y="213.90" width="1.1" height="1.40" fill="#111"/><rect x="257.50" y="213.90" width="1.1" height="2.10" fill="#111"/><text x="258.05" y="223.50" font-size="6.4" text-anchor="middle" stroke="#231f20" stroke-width="0.25">15</text><rect x="266.76" y="213.90" width="1.1" height="1.40" fill="#111"/><rect x="276.02" y="213.90" width="1.1" height="2.10" fill="#111"/><text x="276.57" y="223.50" font-size="6.4" text-anchor="middle" stroke="#231f20" stroke-width="0.25">20</text><rect x="285.29" y="213.90" width="1.1" height="1.40" fill="#111"/><rect x="294.55" y="213.90" width="1.1" height="2.10" fill="#111"/><text x="295.10" y="223.50" font-size="6.4" text-anchor="middle" stroke="#231f20" stroke-width="0.25">25</text><rect x="303.81" y="213.90" width="1.1" height="1.40" fill="#111"/><rect x="313.07" y="213.90" width="1.1" height="2.10" fill="#111"/><text x="313.62" y="223.50" font-size="6.4" text-anchor="middle" stroke="#231f20" stroke-width="0.25">30</text><rect x="322.34" y="213.90" width="1.1" height="1.40" fill="#111"/><rect x="331.60" y="213.90" width="1.1" height="2.10" fill="#111"/><text x="332.15" y="223.50" font-size="6.4" text-anchor="middle" stroke="#231f20" stroke-width="0.25">35</text><rect x="340.86" y="213.90" width="1.1" height="1.40" fill="#111"/><rect x="350.12" y="213.90" width="1.1" height="2.10" fill="#111"/><text x="350.68" y="223.50" font-size="6.4" text-anchor="middle" stroke="#231f20" stroke-width="0.25">40</text><rect x="359.39" y="213.90" width="1.1" height="1.40" fill="#111"/><rect x="368.65" y="213.90" width="1.1" height="2.10" fill="#111"/><text x="369.20" y="223.50" font-size="6.4" text-anchor="middle" stroke="#231f20" stroke-width="0.25">45</text><text x="0" y="0" font-size="7.2" stroke="#231f20" stroke-width="0.15" text-anchor="middle" textLength="43" lengthAdjust="spacingAndGlyphs" transform="translate(204.80,152.15) rotate(-90)">Drift time (ms)</text><text x="280.20" y="232.20" font-size="7.0" textLength="32.60" lengthAdjust="spacingAndGlyphs" stroke="#231f20" stroke-width="0.15">Trap CE (V)</text><text x="225.00" y="102.10" font-size="11.6" fill="#fff" textLength="34.40" lengthAdjust="spacingAndGlyphs">1 DDM</text><path d="M362.75 117.10h3.5v7.4h1.6l-3.35 3.9l-3.35 -3.9h1.6z" fill="#fff"/><rect x="393.50" y="90.10" width="1.2" height="122.60" fill="#111"/><rect x="393.50" y="211.50" width="148.70" height="1.2" fill="#111"/><rect x="391.30" y="204.45" width="2.30" height="1.1" fill="#111"/><text x="389.60" y="207.30" font-size="6.4" text-anchor="end" stroke="#231f20" stroke-width="0.25">2</text><rect x="392.10" y="195.60" width="1.50" height="1.1" fill="#111"/><rect x="391.30" y="186.75" width="2.30" height="1.1" fill="#111"/><text x="389.60" y="189.60" font-size="6.4" text-anchor="end" stroke="#231f20" stroke-width="0.25">4</text><rect x="392.10" y="177.90" width="1.50" height="1.1" fill="#111"/><rect x="391.30" y="169.05" width="2.30" height="1.1" fill="#111"/><text x="389.60" y="171.90" font-size="6.4" text-anchor="end" stroke="#231f20" stroke-width="0.25">6</text><rect x="392.10" y="160.20" width="1.50" height="1.1" fill="#111"/><rect x="391.30" y="151.35" width="2.30" height="1.1" fill="#111"/><text x="389.60" y="154.20" font-size="6.4" text-anchor="end" stroke="#231f20" stroke-width="0.25">8</text><rect x="392.10" y="142.50" width="1.50" height="1.1" fill="#111"/><rect x="391.30" y="133.65" width="2.30" height="1.1" fill="#111"/><text x="389.60" y="136.50" font-size="6.4" text-anchor="end" stroke="#231f20" stroke-width="0.25">10</text><rect x="392.10" y="124.80" width="1.50" height="1.1" fill="#111"/><rect x="391.30" y="115.95" width="2.30" height="1.1" fill="#111"/><text x="389.60" y="118.80" font-size="6.4" text-anchor="end" stroke="#231f20" stroke-width="0.25">12</text><rect x="392.10" y="107.10" width="1.50" height="1.1" fill="#111"/><rect x="391.30" y="98.25" width="2.30" height="1.1" fill="#111"/><text x="389.60" y="101.10" font-size="6.4" text-anchor="end" stroke="#231f20" stroke-width="0.25">14</text><rect x="393.65" y="212.60" width="1.1" height="2.10" fill="#111"/><text x="394.20" y="222.20" font-size="6.4" text-anchor="middle" stroke="#231f20" stroke-width="0.25">5</text><rect x="402.88" y="212.60" width="1.1" height="1.40" fill="#111"/><rect x="412.11" y="212.60" width="1.1" height="2.10" fill="#111"/><text x="412.66" y="222.20" font-size="6.4" text-anchor="middle" stroke="#231f20" stroke-width="0.25">10</text><rect x="421.34" y="212.60" width="1.1" height="1.40" fill="#111"/><rect x="430.57" y="212.60" width="1.1" height="2.10" fill="#111"/><text x="431.12" y="222.20" font-size="6.4" text-anchor="middle" stroke="#231f20" stroke-width="0.25">15</text><rect x="439.81" y="212.60" width="1.1" height="1.40" fill="#111"/><rect x="449.04" y="212.60" width="1.1" height="2.10" fill="#111"/><text x="449.59" y="222.20" font-size="6.4" text-anchor="middle" stroke="#231f20" stroke-width="0.25">20</text><rect x="458.27" y="212.60" width="1.1" height="1.40" fill="#111"/><rect x="467.50" y="212.60" width="1.1" height="2.10" fill="#111"/><text x="468.05" y="222.20" font-size="6.4" text-anchor="middle" stroke="#231f20" stroke-width="0.25">25</text><rect x="476.73" y="212.60" width="1.1" height="1.40" fill="#111"/><rect x="485.96" y="212.60" width="1.1" height="2.10" fill="#111"/><text x="486.51" y="222.20" font-size="6.4" text-anchor="middle" stroke="#231f20" stroke-width="0.25">30</text><rect x="495.19" y="212.60" width="1.1" height="1.40" fill="#111"/><rect x="504.43" y="212.60" width="1.1" height="2.10" fill="#111"/><text x="504.98" y="222.20" font-size="6.4" text-anchor="middle" stroke="#231f20" stroke-width="0.25">35</text><rect x="513.66" y="212.60" width="1.1" height="1.40" fill="#111"/><rect x="522.89" y="212.60" width="1.1" height="2.10" fill="#111"/><text x="523.44" y="222.20" font-size="6.4" text-anchor="middle" stroke="#231f20" stroke-width="0.25">40</text><rect x="532.12" y="212.60" width="1.1" height="1.40" fill="#111"/><rect x="541.35" y="212.60" width="1.1" height="2.10" fill="#111"/><text x="541.90" y="222.20" font-size="6.4" text-anchor="middle" stroke="#231f20" stroke-width="0.25">45</text><text x="0" y="0" font-size="7.2" stroke="#231f20" stroke-width="0.15" text-anchor="middle" textLength="43" lengthAdjust="spacingAndGlyphs" transform="translate(378.00,151.05) rotate(-90)">Drift time (ms)</text><text x="453.00" y="230.90" font-size="7.0" textLength="32.60" lengthAdjust="spacingAndGlyphs" stroke="#231f20" stroke-width="0.15">Trap CE (V)</text><text x="397.60" y="101.30" font-size="11.4" fill="#fff" textLength="35.20" lengthAdjust="spacingAndGlyphs">2 DDM</text><rect x="30.50" y="239.10" width="1.2" height="122.80" fill="#111"/><rect x="30.50" y="360.70" width="148.30" height="1.2" fill="#111"/><rect x="28.30" y="353.45" width="2.30" height="1.1" fill="#111"/><text x="26.60" y="356.30" font-size="6.4" text-anchor="end" stroke="#231f20" stroke-width="0.25">2</text><rect x="29.10" y="344.60" width="1.50" height="1.1" fill="#111"/><rect x="28.30" y="335.75" width="2.30" height="1.1" fill="#111"/><text x="26.60" y="338.60" font-size="6.4" text-anchor="end" stroke="#231f20" stroke-width="0.25">4</text><rect x="29.10" y="326.90" width="1.50" height="1.1" fill="#111"/><rect x="28.30" y="318.05" width="2.30" height="1.1" fill="#111"/><text x="26.60" y="320.90" font-size="6.4" text-anchor="end" stroke="#231f20" stroke-width="0.25">6</text><rect x="29.10" y="309.20" width="1.50" height="1.1" fill="#111"/><rect x="28.30" y="300.35" width="2.30" height="1.1" fill="#111"/><text x="26.60" y="303.20" font-size="6.4" text-anchor="end" stroke="#231f20" stroke-width="0.25">8</text><rect x="29.10" y="291.50" width="1.50" height="1.1" fill="#111"/><rect x="28.30" y="282.65" width="2.30" height="1.1" fill="#111"/><text x="26.60" y="285.50" font-size="6.4" text-anchor="end" stroke="#231f20" stroke-width="0.25">10</text><rect x="29.10" y="273.80" width="1.50" height="1.1" fill="#111"/><rect x="28.30" y="264.95" width="2.30" height="1.1" fill="#111"/><text x="26.60" y="267.80" font-size="6.4" text-anchor="end" stroke="#231f20" stroke-width="0.25">12</text><rect x="29.10" y="256.10" width="1.50" height="1.1" fill="#111"/><rect x="28.30" y="247.25" width="2.30" height="1.1" fill="#111"/><text x="26.60" y="250.10" font-size="6.4" text-anchor="end" stroke="#231f20" stroke-width="0.25">14</text><rect x="30.65" y="361.80" width="1.1" height="2.10" fill="#111"/><text x="31.20" y="371.40" font-size="6.4" text-anchor="middle" stroke="#231f20" stroke-width="0.25">5</text><rect x="39.86" y="361.80" width="1.1" height="1.40" fill="#111"/><rect x="49.06" y="361.80" width="1.1" height="2.10" fill="#111"/><text x="49.61" y="371.40" font-size="6.4" text-anchor="middle" stroke="#231f20" stroke-width="0.25">10</text><rect x="58.27" y="361.80" width="1.1" height="1.40" fill="#111"/><rect x="67.48" y="361.80" width="1.1" height="2.10" fill="#111"/><text x="68.03" y="371.40" font-size="6.4" text-anchor="middle" stroke="#231f20" stroke-width="0.25">15</text><rect x="76.68" y="361.80" width="1.1" height="1.40" fill="#111"/><rect x="85.89" y="361.80" width="1.1" height="2.10" fill="#111"/><text x="86.44" y="371.40" font-size="6.4" text-anchor="middle" stroke="#231f20" stroke-width="0.25">20</text><rect x="95.09" y="361.80" width="1.1" height="1.40" fill="#111"/><rect x="104.30" y="361.80" width="1.1" height="2.10" fill="#111"/><text x="104.85" y="371.40" font-size="6.4" text-anchor="middle" stroke="#231f20" stroke-width="0.25">25</text><rect x="113.51" y="361.80" width="1.1" height="1.40" fill="#111"/><rect x="122.71" y="361.80" width="1.1" height="2.10" fill="#111"/><text x="123.26" y="371.40" font-size="6.4" text-anchor="middle" stroke="#231f20" stroke-width="0.25">30</text><rect x="131.92" y="361.80" width="1.1" height="1.40" fill="#111"/><rect x="141.12" y="361.80" width="1.1" height="2.10" fill="#111"/><text x="141.67" y="371.40" font-size="6.4" text-anchor="middle" stroke="#231f20" stroke-width="0.25">35</text><rect x="150.33" y="361.80" width="1.1" height="1.40" fill="#111"/><rect x="159.54" y="361.80" width="1.1" height="2.10" fill="#111"/><text x="160.09" y="371.40" font-size="6.4" text-anchor="middle" stroke="#231f20" stroke-width="0.25">40</text><rect x="168.74" y="361.80" width="1.1" height="1.40" fill="#111"/><rect x="177.95" y="361.80" width="1.1" height="2.10" fill="#111"/><text x="178.50" y="371.40" font-size="6.4" text-anchor="middle" stroke="#231f20" stroke-width="0.25">45</text><text x="0" y="0" font-size="7.2" stroke="#231f20" stroke-width="0.15" text-anchor="middle" textLength="43" lengthAdjust="spacingAndGlyphs" transform="translate(15.00,300.15) rotate(-90)">Drift time (ms)</text><text x="73.60" y="380.10" font-size="7.0" textLength="32.60" lengthAdjust="spacingAndGlyphs" stroke="#231f20" stroke-width="0.15">Trap CE (V)</text><text x="34.80" y="252.40" font-size="11.4" fill="#fff" textLength="29.80" lengthAdjust="spacingAndGlyphs">1 GDC</text><rect x="65.40" y="245.50" width="1.3" height="0.8" fill="#dde"/><path d="M115.35 265.50h3.5v7.4h1.6l-3.35 3.9l-3.35 -3.9h1.6z" fill="#fff"/><rect x="218.90" y="238.50" width="1.2" height="122.90" fill="#111"/><rect x="218.90" y="360.20" width="150.00" height="1.2" fill="#111"/><rect x="216.70" y="352.65" width="2.30" height="1.1" fill="#111"/><text x="215.00" y="355.50" font-size="6.4" text-anchor="end" stroke="#231f20" stroke-width="0.25">2</text><rect x="217.50" y="343.80" width="1.50" height="1.1" fill="#111"/><rect x="216.70" y="334.95" width="2.30" height="1.1" fill="#111"/><text x="215.00" y="337.80" font-size="6.4" text-anchor="end" stroke="#231f20" stroke-width="0.25">4</text><rect x="217.50" y="326.10" width="1.50" height="1.1" fill="#111"/><rect x="216.70" y="317.25" width="2.30" height="1.1" fill="#111"/><text x="215.00" y="320.10" font-size="6.4" text-anchor="end" stroke="#231f20" stroke-width="0.25">6</text><rect x="217.50" y="308.40" width="1.50" height="1.1" fill="#111"/><rect x="216.70" y="299.55" width="2.30" height="1.1" fill="#111"/><text x="215.00" y="302.40" font-size="6.4" text-anchor="end" stroke="#231f20" stroke-width="0.25">8</text><rect x="217.50" y="290.70" width="1.50" height="1.1" fill="#111"/><rect x="216.70" y="281.85" width="2.30" height="1.1" fill="#111"/><text x="215.00" y="284.70" font-size="6.4" text-anchor="end" stroke="#231f20" stroke-width="0.25">10</text><rect x="217.50" y="273.00" width="1.50" height="1.1" fill="#111"/><rect x="216.70" y="264.15" width="2.30" height="1.1" fill="#111"/><text x="215.00" y="267.00" font-size="6.4" text-anchor="end" stroke="#231f20" stroke-width="0.25">12</text><rect x="217.50" y="255.30" width="1.50" height="1.1" fill="#111"/><rect x="216.70" y="246.45" width="2.30" height="1.1" fill="#111"/><text x="215.00" y="249.30" font-size="6.4" text-anchor="end" stroke="#231f20" stroke-width="0.25">14</text><rect x="219.05" y="361.30" width="1.1" height="2.10" fill="#111"/><text x="219.60" y="370.90" font-size="6.4" text-anchor="middle" stroke="#231f20" stroke-width="0.25">5</text><rect x="228.36" y="361.30" width="1.1" height="1.40" fill="#111"/><rect x="237.67" y="361.30" width="1.1" height="2.10" fill="#111"/><text x="238.22" y="370.90" font-size="6.4" text-anchor="middle" stroke="#231f20" stroke-width="0.25">10</text><rect x="246.99" y="361.30" width="1.1" height="1.40" fill="#111"/><rect x="256.30" y="361.30" width="1.1" height="2.10" fill="#111"/><text x="256.85" y="370.90" font-size="6.4" text-anchor="middle" stroke="#231f20" stroke-width="0.25">15</text><rect x="265.61" y="361.30" width="1.1" height="1.40" fill="#111"/><rect x="274.93" y="361.30" width="1.1" height="2.10" fill="#111"/><text x="275.48" y="370.90" font-size="6.4" text-anchor="middle" stroke="#231f20" stroke-width="0.25">20</text><rect x="284.24" y="361.30" width="1.1" height="1.40" fill="#111"/><rect x="293.55" y="361.30" width="1.1" height="2.10" fill="#111"/><text x="294.10" y="370.90" font-size="6.4" text-anchor="middle" stroke="#231f20" stroke-width="0.25">25</text><rect x="302.86" y="361.30" width="1.1" height="1.40" fill="#111"/><rect x="312.18" y="361.30" width="1.1" height="2.10" fill="#111"/><text x="312.73" y="370.90" font-size="6.4" text-anchor="middle" stroke="#231f20" stroke-width="0.25">30</text><rect x="321.49" y="361.30" width="1.1" height="1.40" fill="#111"/><rect x="330.80" y="361.30" width="1.1" height="2.10" fill="#111"/><text x="331.35" y="370.90" font-size="6.4" text-anchor="middle" stroke="#231f20" stroke-width="0.25">35</text><rect x="340.11" y="361.30" width="1.1" height="1.40" fill="#111"/><rect x="349.43" y="361.30" width="1.1" height="2.10" fill="#111"/><text x="349.98" y="370.90" font-size="6.4" text-anchor="middle" stroke="#231f20" stroke-width="0.25">40</text><rect x="358.74" y="361.30" width="1.1" height="1.40" fill="#111"/><rect x="368.05" y="361.30" width="1.1" height="2.10" fill="#111"/><text x="368.60" y="370.90" font-size="6.4" text-anchor="middle" stroke="#231f20" stroke-width="0.25">45</text><text x="0" y="0" font-size="7.2" stroke="#231f20" stroke-width="0.15" text-anchor="middle" textLength="43" lengthAdjust="spacingAndGlyphs" transform="translate(204.30,299.60) rotate(-90)">Drift time (ms)</text><text x="271.80" y="379.60" font-size="7.0" textLength="32.60" lengthAdjust="spacingAndGlyphs" stroke="#231f20" stroke-width="0.15">Trap CE (V)</text><text x="223.70" y="249.70" font-size="11.4" fill="#fff" textLength="22.60" lengthAdjust="spacingAndGlyphs">1 DS</text><rect x="246.70" y="243.80" width="1.3" height="0.8" fill="#dde"/><path d="M312.25 264.80h3.5v7.4h1.6l-3.35 3.9l-3.35 -3.9h1.6z" fill="#fff"/><rect x="393.10" y="238.80" width="1.2" height="123.10" fill="#111"/><rect x="393.10" y="360.70" width="149.90" height="1.2" fill="#111"/><rect x="390.90" y="352.65" width="2.30" height="1.1" fill="#111"/><text x="389.20" y="355.50" font-size="6.4" text-anchor="end" stroke="#231f20" stroke-width="0.25">2</text><rect x="391.70" y="343.80" width="1.50" height="1.1" fill="#111"/><rect x="390.90" y="334.95" width="2.30" height="1.1" fill="#111"/><text x="389.20" y="337.80" font-size="6.4" text-anchor="end" stroke="#231f20" stroke-width="0.25">4</text><rect x="391.70" y="326.10" width="1.50" height="1.1" fill="#111"/><rect x="390.90" y="317.25" width="2.30" height="1.1" fill="#111"/><text x="389.20" y="320.10" font-size="6.4" text-anchor="end" stroke="#231f20" stroke-width="0.25">6</text><rect x="391.70" y="308.40" width="1.50" height="1.1" fill="#111"/><rect x="390.90" y="299.55" width="2.30" height="1.1" fill="#111"/><text x="389.20" y="302.40" font-size="6.4" text-anchor="end" stroke="#231f20" stroke-width="0.25">8</text><rect x="391.70" y="290.70" width="1.50" height="1.1" fill="#111"/><rect x="390.90" y="281.85" width="2.30" height="1.1" fill="#111"/><text x="389.20" y="284.70" font-size="6.4" text-anchor="end" stroke="#231f20" stroke-width="0.25">10</text><rect x="391.70" y="273.00" width="1.50" height="1.1" fill="#111"/><rect x="390.90" y="264.15" width="2.30" height="1.1" fill="#111"/><text x="389.20" y="267.00" font-size="6.4" text-anchor="end" stroke="#231f20" stroke-width="0.25">12</text><rect x="391.70" y="255.30" width="1.50" height="1.1" fill="#111"/><rect x="390.90" y="246.45" width="2.30" height="1.1" fill="#111"/><text x="389.20" y="249.30" font-size="6.4" text-anchor="end" stroke="#231f20" stroke-width="0.25">14</text><rect x="393.25" y="361.80" width="1.1" height="2.10" fill="#111"/><text x="393.80" y="371.40" font-size="6.4" text-anchor="middle" stroke="#231f20" stroke-width="0.25">5</text><rect x="402.56" y="361.80" width="1.1" height="1.40" fill="#111"/><rect x="411.86" y="361.80" width="1.1" height="2.10" fill="#111"/><text x="412.41" y="371.40" font-size="6.4" text-anchor="middle" stroke="#231f20" stroke-width="0.25">10</text><rect x="421.17" y="361.80" width="1.1" height="1.40" fill="#111"/><rect x="430.48" y="361.80" width="1.1" height="2.10" fill="#111"/><text x="431.03" y="371.40" font-size="6.4" text-anchor="middle" stroke="#231f20" stroke-width="0.25">15</text><rect x="439.78" y="361.80" width="1.1" height="1.40" fill="#111"/><rect x="449.09" y="361.80" width="1.1" height="2.10" fill="#111"/><text x="449.64" y="371.40" font-size="6.4" text-anchor="middle" stroke="#231f20" stroke-width="0.25">20</text><rect x="458.39" y="361.80" width="1.1" height="1.40" fill="#111"/><rect x="467.70" y="361.80" width="1.1" height="2.10" fill="#111"/><text x="468.25" y="371.40" font-size="6.4" text-anchor="middle" stroke="#231f20" stroke-width="0.25">25</text><rect x="477.01" y="361.80" width="1.1" height="1.40" fill="#111"/><rect x="486.31" y="361.80" width="1.1" height="2.10" fill="#111"/><text x="486.86" y="371.40" font-size="6.4" text-anchor="middle" stroke="#231f20" stroke-width="0.25">30</text><rect x="495.62" y="361.80" width="1.1" height="1.40" fill="#111"/><rect x="504.93" y="361.80" width="1.1" height="2.10" fill="#111"/><text x="505.48" y="371.40" font-size="6.4" text-anchor="middle" stroke="#231f20" stroke-width="0.25">35</text><rect x="514.23" y="361.80" width="1.1" height="1.40" fill="#111"/><rect x="523.54" y="361.80" width="1.1" height="2.10" fill="#111"/><text x="524.09" y="371.40" font-size="6.4" text-anchor="middle" stroke="#231f20" stroke-width="0.25">40</text><rect x="532.84" y="361.80" width="1.1" height="1.40" fill="#111"/><rect x="542.15" y="361.80" width="1.1" height="2.10" fill="#111"/><text x="542.70" y="371.40" font-size="6.4" text-anchor="middle" stroke="#231f20" stroke-width="0.25">45</text><text x="0" y="0" font-size="7.2" stroke="#231f20" stroke-width="0.15" text-anchor="middle" textLength="43" lengthAdjust="spacingAndGlyphs" transform="translate(377.60,300.00) rotate(-90)">Drift time (ms)</text><text x="446.30" y="380.10" font-size="7.0" textLength="32.60" lengthAdjust="spacingAndGlyphs" stroke="#231f20" stroke-width="0.15">Trap CE (V)</text><text x="397.40" y="249.90" font-size="11.4" fill="#fff" textLength="22.60" lengthAdjust="spacingAndGlyphs">2 DS</text><rect x="420.80" y="243.80" width="1.3" height="0.8" fill="#dde"/><text x="181.70" y="138.70" font-size="9.8" textLength="10.40" lengthAdjust="spacingAndGlyphs" stroke="#231f20" stroke-width="0.1">2b</text><text x="181.70" y="156.00" font-size="9.8" textLength="10.40" lengthAdjust="spacingAndGlyphs" stroke="#231f20" stroke-width="0.1">2a</text><text x="181.70" y="167.20" font-size="9.8" textLength="10.40" lengthAdjust="spacingAndGlyphs" stroke="#231f20" stroke-width="0.1">1a</text><text x="181.70" y="178.60" font-size="9.8" textLength="10.40" lengthAdjust="spacingAndGlyphs" stroke="#231f20" stroke-width="0.1">1b</text><text x="172.30" y="241.60" font-size="4.5" fill="#666" textLength="5.60" lengthAdjust="spacingAndGlyphs">1.0</text><text x="172.30" y="253.46" font-size="4.5" fill="#666" textLength="5.60" lengthAdjust="spacingAndGlyphs">0.8</text><text x="172.30" y="265.32" font-size="4.5" fill="#666" textLength="5.60" lengthAdjust="spacingAndGlyphs">0.6</text><text x="172.30" y="277.18" font-size="4.5" fill="#666" textLength="5.60" lengthAdjust="spacingAndGlyphs">0.4</text><text x="172.30" y="289.04" font-size="4.5" fill="#666" textLength="5.60" lengthAdjust="spacingAndGlyphs">0.2</text><text x="172.30" y="300.90" font-size="4.5" fill="#666" textLength="5.60" lengthAdjust="spacingAndGlyphs">0.0</text></svg>
</body></html>
